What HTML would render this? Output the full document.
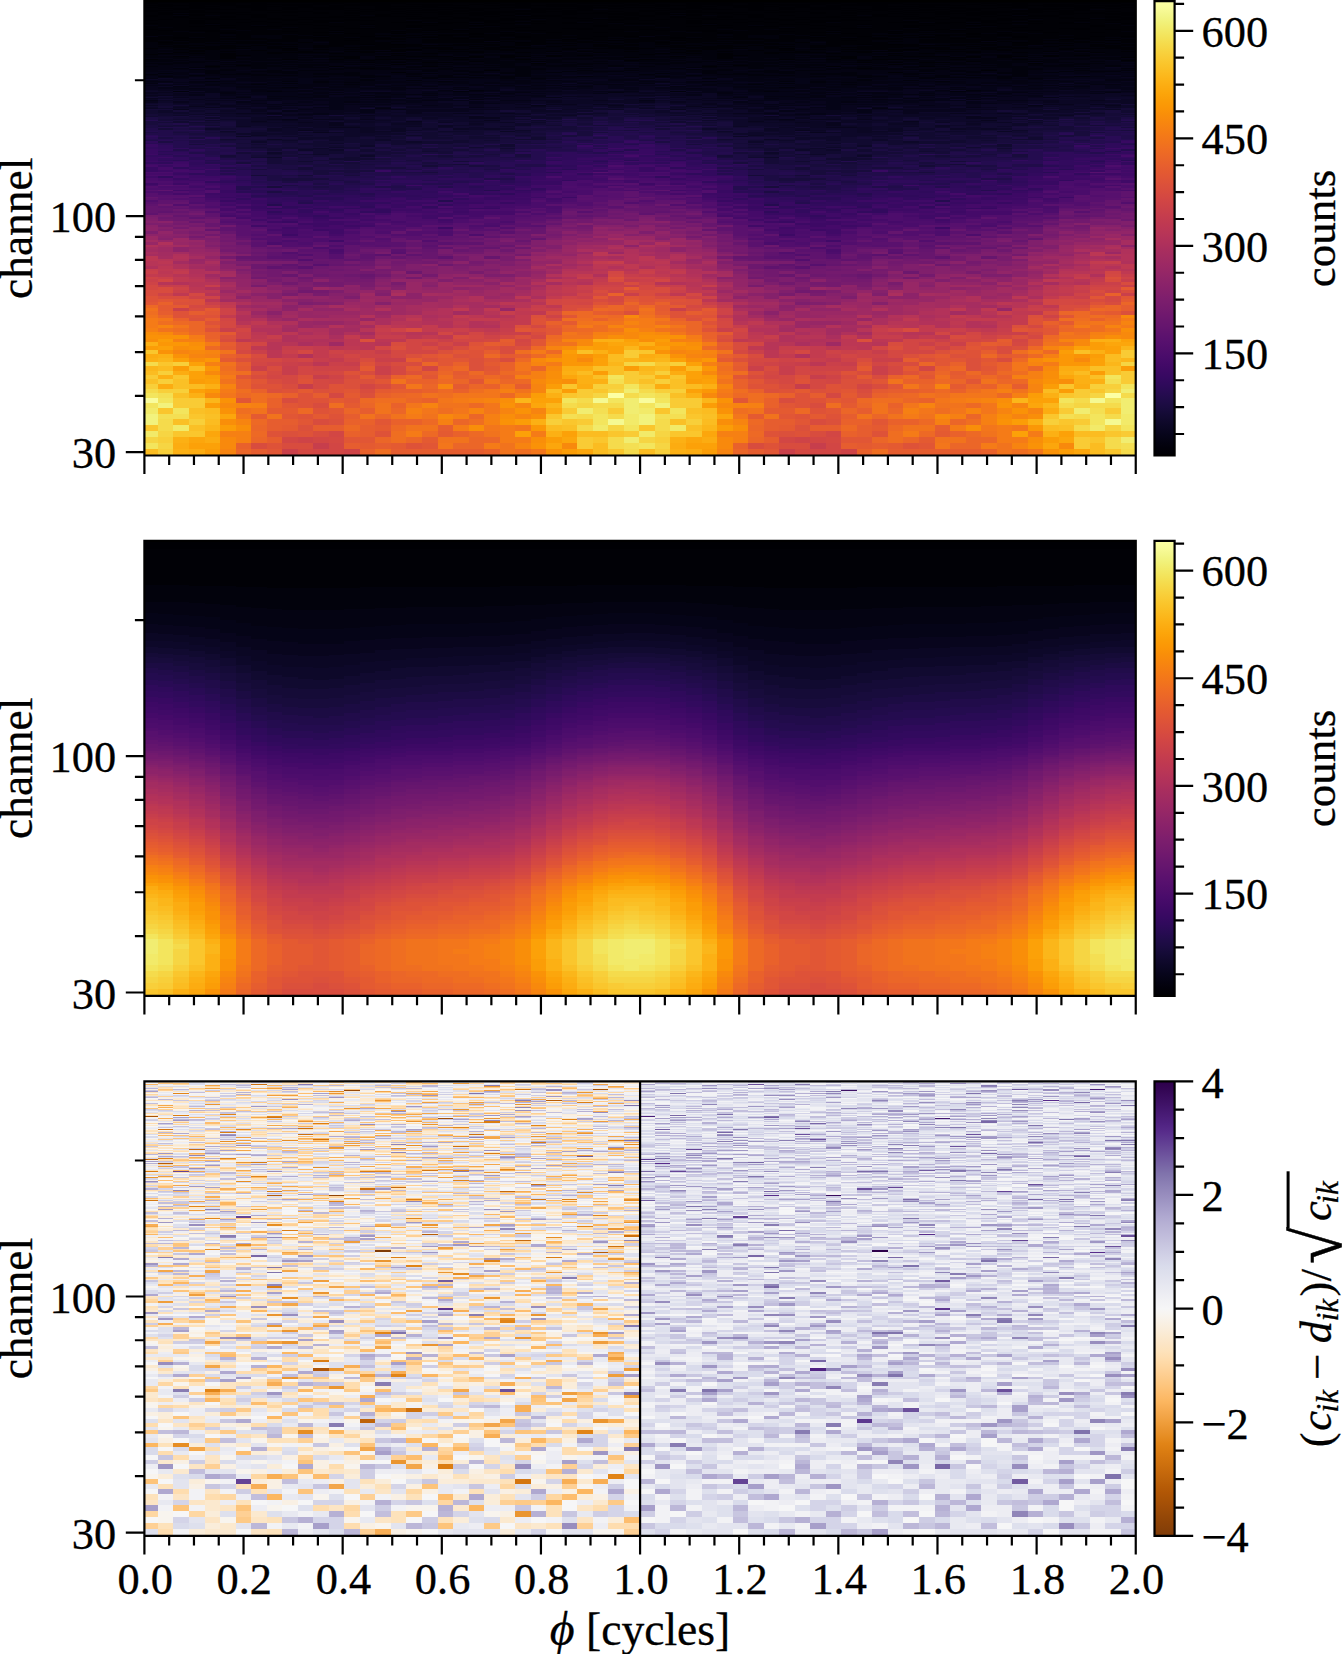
<!DOCTYPE html><html><head><meta charset="utf-8"><title>residuals</title><style>html,body{margin:0;padding:0;background:#fff}svg{display:block}</style></head><body><svg width="1342" height="1654" viewBox="0 0 1342 1654" font-family='"Liberation Serif", "DejaVu Serif", serif' font-size="44.4" fill="#000"><defs><clipPath id="cl"><rect x="144.4" y="0" width="991.35" height="1654"/></clipPath></defs><g clip-path="url(#cl)"><defs><g id="h0" shape-rendering="crispEdges"><path fill="#000004" d="M0 29h1v1h-1zm0-6h1v1h-1zm0-3h1v1h-1zm0-5h1v2h-1zm0-5h1v2h-1zm0-3h1v1h-1zm0-2h1v1h-1zm0-3h1v2h-1zM1 42h1v1h-1zm0-12h1v1h-1zm0-11h1v1h-1zm0-6h1v2h-1zm0-1h1v1h-1zm0-2h1v1h-1zm0-2h1v1h-1zm0-4h1v3h-1zm0-3h1v1h-1zM2 40h1v1h-1zm0-2h1v1h-1zm0-1h1v1h-1zm0-21h1v2h-1zm0-2h1v1h-1zm0-2h1v1h-1zm0-4h1v2h-1zm0-3h1v1h-1zm0-4h1v2h-1zM3 38h1v1h-1zm0-8h1v1h-1zm0-4h1v1h-1zm0-6h1v4h-1zm0-2h1v1h-1zm0-4h1v2h-1zm0-4h1v3h-1zm0-2h1v1h-1zm0-2h1v2h-1zm0-3h1v3h-1zM4 31h1v1h-1zm0-1h1v1h-1zm0-5h1v1h-1zm0-2h1v1h-1zm0-5h1v2h-1zm0-6h1v1h-1zm0-4h1v2h-1zm0-2h1v1h-1zm0-4h1v3h-1zM5 32h1v2h-1zm0-5h1v1h-1zm0-2h1v1h-1zm0-6h1v1h-1zm0-3h1v2h-1zm0-3h1v1h-1zm0-1h1v1h-1zm0-3h1v1h-1zm0-7h1v4h-1zM6 22h1v1h-1zm0-3h1v1h-1zm0-5h1v1h-1zm0-2h1v1h-1zm0-7h1v3h-1zm0-3h1v1h-1zM7 26h1v1h-1zm0-5h1v1h-1zm0-4h1v1h-1zm0-3h1v3h-1zm0-6h1v3h-1zm0-2h1v2h-1zm0-2h1v2h-1zm0-1h1v1h-1zM8 26h1v1h-1zm0-4h1v1h-1zm0-4h1v2h-1zm0-6h1v1h-1zm0-2h1v1h-1zm0-4h1v1h-1zm0-2h1v1h-1zM9 48h1v1h-1zm0-17h1v1h-1zm0-3h1v1h-1zm0-4h1v1h-1zm0-4h1v1h-1zm0-1h1v1h-1zm0-4h1v1h-1zm0-4h1v2h-1zm0-4h1v3h-1zm0-3h1v2h-1zm0-2h1v1h-1zM10 24h1v1h-1zm0-2h1v1h-1zm0-3h1v1h-1zm0-2h1v1h-1zm0-6h1v1h-1zm0-7h1v4h-1zm0-3h1v2h-1zM11 37h1v1h-1zm0-2h1v1h-1zm0-3h1v1h-1zm0-4h1v1h-1zm0-3h1v1h-1zm0-5h1v3h-1zm0-3h1v1h-1zm0-5h1v2h-1zm0-4h1v2h-1zm0-1h1v1h-1zm0-6h1v4h-1zM12 32h1v1h-1zm0-2h1v1h-1zm0-4h1v1h-1zm0-6h1v2h-1zm0-4h1v2h-1zm0-10h1v4h-1zm0-1h1v1h-1zm0-3h1v2h-1zm0-1h1v1h-1zM13 40h1v1h-1zm0-2h1v1h-1zm0-5h1v1h-1zm0-5h1v1h-1zm0-9h1v2h-1zm0-2h1v1h-1zm0-2h1v1h-1zm0-3h1v2h-1zm0-2h1v1h-1zm0-2h1v1h-1zm0-4h1v2h-1zm0-3h1v2h-1zM14 44h1v1h-1zm0-8h1v1h-1zm0-8h1v1h-1zm0-4h1v1h-1zm0-4h1v1h-1zm0-3h1v1h-1zm0-6h1v1h-1zm0-2h1v1h-1zm0-5h1v2h-1zm0-3h1v3h-1zM15 38h1v1h-1zm0-24h1v3h-1zm0-6h1v3h-1zm0-2h1v2h-1zm0-3h1v3h-1zm0-2h1v1h-1zM16 44h1v1h-1zm0-11h1v1h-1zm0-2h1v1h-1zm0-9h1v1h-1zm0-6h1v1h-1zm0-3h1v1h-1zm0-2h1v1h-1zm0-3h1v2h-1zm0-2h1v1h-1zm0-4h1v2h-1zM17 49h1v1h-1zm0-24h1v3h-1zm0-4h1v2h-1zm0-3h1v1h-1zm0-2h1v1h-1zm0-2h1v1h-1zm0-2h1v1h-1zm0-2h1v1h-1zm0-2h1v1h-1zm0-2h1v1h-1zm0-2h1v1h-1zM18 37h1v1h-1zm0-7h1v1h-1zm0-5h1v1h-1zm0-2h1v1h-1zm0-6h1v2h-1zm0-5h1v1h-1zm0-2h1v1h-1zm0-1h1v1h-1zm0-5h1v4h-1zm0-3h1v2h-1zM19 35h1v1h-1zm0-6h1v1h-1zm0-6h1v1h-1zm0-1h1v1h-1zm0-3h1v1h-1zm0-3h1v1h-1zm0-5h1v4h-1zm0-2h1v1h-1zm0-2h1v1h-1zm0-3h1v2h-1zm0-2h1v1h-1zM20 38h1v1h-1zm0-8h1v1h-1zm0-8h1v1h-1zm0-5h1v2h-1zm0-4h1v1h-1zm0-3h1v2h-1zm0-2h1v1h-1zm0-1h1v1h-1zm0-2h1v1h-1zm0-4h1v1h-1zM21 36h1v1h-1zm0-3h1v2h-1zm0-5h1v1h-1zm0-3h1v1h-1zm0-2h1v1h-1zm0-3h1v1h-1zm0-2h1v2h-1zm0-3h1v1h-1zm0-3h1v3h-1zm0-2h1v1h-1zm0-2h1v2h-1zm0-4h1v1h-1zm0-3h1v2h-1zM22 40h1v1h-1zm0-15h1v1h-1zm0-5h1v3h-1zm0-4h1v1h-1zm0-5h1v4h-1zm0-3h1v1h-1zm0-3h1v1h-1zm0-2h1v1h-1zM23 35h1v1h-1zm0-1h1v1h-1zm0-2h1v1h-1zm0-4h1v1h-1zm0-5h1v1h-1zm0-3h1v1h-1zm0-2h1v2h-1zm0-3h1v1h-1zm0-4h1v2h-1zm0-4h1v1h-1zm0-3h1v2h-1zm0-2h1v1h-1zm0-1h1v1h-1zM24 42h1v1h-1zm0-6h1v2h-1zm0-6h1v1h-1zm0-3h1v1h-1zm0-5h1v1h-1zm0-3h1v1h-1zm0-3h1v1h-1zm0-3h1v2h-1zm0-3h1v2h-1zm0-4h1v2h-1zm0-4h1v4h-1zM25 30h1v1h-1zm0-7h1v1h-1zm0-2h1v1h-1zm0-3h1v1h-1zm0-3h1v2h-1zm0-7h1v5h-1zm0-3h1v1h-1zm0-3h1v1h-1zM26 32h1v1h-1zm0-17h1v2h-1zm0-4h1v1h-1zm0-3h1v2h-1zm0-4h1v3h-1zm0-2h1v1h-1zM27 39h1v1h-1zm0-11h1v1h-1zm0-5h1v1h-1zm0-1h1v1h-1zm0-5h1v2h-1zm0-7h1v5h-1zm0-2h1v1h-1zm0-4h1v3h-1zm0-3h1v2h-1zM28 38h1v1h-1zm0-10h1v2h-1zm0-5h1v1h-1zm0-3h1v1h-1zm0-2h1v1h-1zm0-5h1v1h-1zm0-8h1v6h-1zm0-4h1v3h-1zM29 36h1v1h-1zm0-4h1v1h-1zm0-7h1v2h-1zm0-6h1v1h-1zm0-7h1v2h-1zm0-5h1v1h-1zm0-2h1v1h-1zm0-2h1v1h-1zM30 40h1v1h-1zm0-11h1v1h-1zm0-7h1v1h-1zm0-2h1v1h-1zm0-1h1v1h-1zm0-3h1v2h-1zm0-3h1v2h-1zm0-2h1v1h-1zm0-3h1v1h-1zm0-2h1v1h-1zm0-1h1v1h-1zm0-4h1v3h-1zM31 36h1v1h-1zm0-13h1v1h-1zm0-6h1v3h-1zm0-4h1v3h-1zm0-1h1v1h-1zm0-5h1v1h-1zm0-3h1v2h-1zm0-2h1v1h-1z"/><path fill="#010106" d="M0 59h1v1h-1zm0-5h1v1h-1zm0-6h1v1h-1zm0-11h1v5h-1zm0-7h1v6h-1zm0-2h1v1h-1zm0-2h1v2h-1zm0-2h1v1h-1zm0-3h1v2h-1zm0-4h1v3h-1zm0-5h1v3h-1zm0-4h1v2h-1zm0-2h1v1h-1zm0-2h1v1h-1zm0-3h1v1h-1zM1 53h1v1h-1zm0-7h1v1h-1zm0-3h1v2h-1zm0-2h1v1h-1zm0-3h1v2h-1zm0-2h1v2h-1zm0-5h1v4h-1zm0-3h1v2h-1zm0-3h1v2h-1zm0-2h1v2h-1zm0-3h1v3h-1zm0-3h1v2h-1zm0-2h1v2h-1zm0-4h1v1h-1zm0-2h1v1h-1zm0-2h1v1h-1zm0-5h1v2h-1zM2 56h1v1h-1zm0-4h1v1h-1zm0-3h1v1h-1zm0-4h1v3h-1zm0-3h1v2h-1zm0-3h1v1h-1zm0-4h1v2h-1zm0-3h1v3h-1zm0-9h1v8h-1zm0-3h1v3h-1zm0-2h1v2h-1zm0-8h1v2h-1zm0-4h1v2h-1zm0-3h1v2h-1zM3 53h1v1h-1zm0-3h1v2h-1zm0-3h1v2h-1zm0-2h1v1h-1zm0-6h1v4h-1zm0-6h1v4h-1zm0-2h1v1h-1zm0-3h1v2h-1zm0-1h1v1h-1zm0-2h1v1h-1zm0-1h1v1h-1zm0-5h1v1h-1zm0-2h1v1h-1zm0-1h1v1h-1zm0-3h1v1h-1zm0-4h1v1h-1zm0-7h1v1h-1zm0-1h1v1h-1zM4 66h1v1h-1zm0-19h1v3h-1zm0-1h1v1h-1zm0-3h1v1h-1zm0-8h1v7h-1zm0-3h1v3h-1zm0-4h1v2h-1zm0-2h1v2h-1zm0-6h1v3h-1zm0-3h1v1h-1zm0-1h1v1h-1zm0-3h1v2h-1zm0-3h1v2h-1zm0-3h1v1h-1zm0-2h1v1h-1zm0-4h1v1h-1zM5 58h1v1h-1zm0-5h1v5h-1zm0-2h1v1h-1zm0-4h1v2h-1zm0-2h1v2h-1zm0-2h1v1h-1zm0-2h1v1h-1zm0-3h1v2h-1zm0-2h1v1h-1zm0-6h1v2h-1zm0-2h1v1h-1zm0-2h1v1h-1zm0-3h1v2h-1zm0-3h1v3h-1zm0-2h1v1h-1zm0-3h1v1h-1zm0-1h1v1h-1zm0-4h1v2h-1zm0-4h1v3h-1zm0-5h1v1h-1zM6 65h1v1h-1zm0-10h1v1h-1zm0-7h1v1h-1zm0-2h1v1h-1zm0-4h1v2h-1zm0-1h1v1h-1zm0-10h1v9h-1zm0-8h1v7h-1zm0-3h1v2h-1zm0-5h1v4h-1zm0-2h1v1h-1zm0-5h1v4h-1zm0-4h1v1h-1zm0-1h1v1h-1zm0-2h1v1h-1zM7 50h1v1h-1zm0-5h1v1h-1zm0-4h1v3h-1zm0-3h1v2h-1zm0-7h1v4h-1zm0-4h1v4h-1zm0-4h1v2h-1zm0-1h1v1h-1zm0-4h1v3h-1zm0-5h1v1h-1zm0-2h1v2h-1zm0-9h1v1h-1zm0-1h1v1h-1zM8 52h1v2h-1zm0-5h1v2h-1zm0-1h1v1h-1zm0-3h1v2h-1zm0-4h1v3h-1zm0-8h1v4h-1zm0-1h1v1h-1zm0-3h1v2h-1zm0-4h1v3h-1zm0-3h1v2h-1zm0-7h1v5h-1zm0-2h1v1h-1zm0-4h1v3h-1zm0-2h1v1h-1zm0-3h1v2h-1zm0-1h1v1h-1zM9 59h1v1h-1zm0-7h1v1h-1zm0-3h1v2h-1zm0-3h1v1h-1zm0-2h1v1h-1zm0-9h1v7h-1zm0-3h1v2h-1zm0-3h1v2h-1zm0-4h1v2h-1zm0-2h1v1h-1zm0-2h1v2h-1zm0-5h1v3h-1zm0-3h1v2h-1zm0-3h1v1h-1zm0-4h1v1h-1zm0-3h1v1h-1zm0-2h1v1h-1zM10 52h1v1h-1zm0-1h1v1h-1zm0-9h1v1h-1zm0-6h1v3h-1zm0-11h1v10h-1zm0-2h1v1h-1zm0-3h1v2h-1zm0-2h1v1h-1zm0-3h1v2h-1zm0-2h1v2h-1zm0-1h1v1h-1zm0-4h1v3h-1zm0-5h1v1h-1zM11 52h1v1h-1zm0-3h1v1h-1zm0-2h1v1h-1zm0-2h1v2h-1zm0-7h1v3h-1zm0-5h1v2h-1zm0-2h1v1h-1zm0-2h1v2h-1zm0-3h1v2h-1zm0-3h1v2h-1zm0-5h1v2h-1zm0-3h1v2h-1zm0-1h1v1h-1zm0-4h1v2h-1zm0-4h1v1h-1zm0-1h1v1h-1zM12 66h1v1h-1zm0-7h1v1h-1zm0-3h1v1h-1zm0-3h1v1h-1zm0-11h1v5h-1zm0-7h1v7h-1zm0-1h1v1h-1zm0-7h1v3h-1zm0-4h1v3h-1zm0-5h1v2h-1zm0-3h1v1h-1zm0-5h1v5h-1zm0-6h1v1h-1zM13 58h1v1h-1zm0-2h1v2h-1zm0-5h1v1h-1zm0-2h1v1h-1zm0-2h1v1h-1zm0-6h1v4h-1zm0-2h1v1h-1zm0-5h1v3h-1zm0-5h1v4h-1zm0-4h1v3h-1zm0-4h1v4h-1zm0-3h1v1h-1zm0-2h1v1h-1zm0-2h1v1h-1zm0-3h1v1h-1zm0-2h1v1h-1zm0-3h1v2h-1zm0-3h1v1h-1zM14 68h1v1h-1zm0-6h1v1h-1zm0-2h1v1h-1zm0-9h1v2h-1zm0-4h1v3h-1zm0-1h1v1h-1zm0-4h1v2h-1zm0-4h1v4h-1zm0-1h1v1h-1zm0-8h1v7h-1zm0-3h1v1h-1zm0-3h1v1h-1zm0-2h1v2h-1zm0-3h1v2h-1zm0-2h1v1h-1zm0-3h1v2h-1zm0-1h1v1h-1zm0-2h1v1h-1zm0-2h1v1h-1zm0-2h1v2h-1zM15 59h1v1h-1zm0-3h1v1h-1zm0-5h1v1h-1zm0-9h1v8h-1zm0-3h1v1h-1zm0-2h1v1h-1zm0-2h1v1h-1zm0-7h1v5h-1zm0-5h1v5h-1zm0-3h1v3h-1zm0-3h1v3h-1zm0-4h1v1h-1zm0-2h1v2h-1zm0-9h1v1h-1zM16 72h1v1h-1zm0-8h1v1h-1zm0-2h1v1h-1zm0-3h1v1h-1zm0-4h1v1h-1zm0-2h1v1h-1zm0-4h1v3h-1zm0-4h1v3h-1zm0-4h1v1h-1zm0-3h1v2h-1zm0-3h1v2h-1zm0-3h1v1h-1zm0-9h1v7h-1zm0-3h1v2h-1zm0-3h1v3h-1zm0-2h1v1h-1zm0-1h1v1h-1zm0-2h1v1h-1zm0-2h1v1h-1zm0-3h1v1h-1zm0-3h1v2h-1zm0-3h1v1h-1zM17 59h1v1h-1zm0-3h1v1h-1zm0-6h1v1h-1zm0-6h1v3h-1zm0-7h1v1h-1zm0-2h1v1h-1zm0-6h1v4h-1zm0-6h1v2h-1zm0-4h1v1h-1zm0-2h1v1h-1zm0-2h1v1h-1zm0-2h1v1h-1zm0-2h1v1h-1zm0-2h1v1h-1zm0-2h1v1h-1zm0-2h1v1h-1zm0-4h1v3h-1zM18 66h1v1h-1zm0-4h1v1h-1zm0-6h1v1h-1zm0-3h1v1h-1zm0-6h1v2h-1zm0-2h1v1h-1zm0-3h1v1h-1zm0-3h1v3h-1zm0-3h1v1h-1zm0-2h1v1h-1zm0-2h1v1h-1zm0-4h1v2h-1zm0-2h1v2h-1zm0-2h1v1h-1zm0-5h1v3h-1zm0-4h1v2h-1zm0-2h1v2h-1zm0-2h1v1h-1zm0-3h1v1h-1zm0-5h1v1h-1zM19 62h1v1h-1zm0-6h1v1h-1zm0-5h1v1h-1zm0-4h1v3h-1zm0-2h1v1h-1zm0-7h1v5h-1zm0-2h1v2h-1zm0-2h1v1h-1zm0-4h1v3h-1zm0-6h1v5h-1zm0-4h1v2h-1zm0-3h1v2h-1zm0-2h1v1h-1zm0-5h1v1h-1zm0-2h1v1h-1zm0-2h1v1h-1zm0-3h1v1h-1zm0-2h1v1h-1zM20 59h1v1h-1zm0-2h1v1h-1zm0-6h1v1h-1zm0-2h1v1h-1zm0-5h1v2h-1zm0-5h1v4h-1zm0-2h1v1h-1zm0-2h1v1h-1zm0-1h1v1h-1zm0-3h1v2h-1zm0-8h1v6h-1zm0-4h1v3h-1zm0-5h1v3h-1zm0-2h1v1h-1zm0-3h1v1h-1zm0-3h1v1h-1zm0-2h1v1h-1zm0-2h1v2h-1zM21 61h1v1h-1zm0-5h1v2h-1zm0-4h1v1h-1zm0-1h1v1h-1zm0-3h1v1h-1zm0-2h1v1h-1zm0-2h1v1h-1zm0-2h1v1h-1zm0-3h1v3h-1zm0-2h1v1h-1zm0-2h1v1h-1zm0-6h1v4h-1zm0-3h1v1h-1zm0-5h1v1h-1zm0-5h1v2h-1zm0-5h1v1h-1zm0-5h1v2h-1zm0-1h1v1h-1zm0-2h1v1h-1zM22 70h1v1h-1zm0-23h1v3h-1zm0-3h1v2h-1zm0-2h1v1h-1zm0-4h1v2h-1zm0-3h1v3h-1zm0-1h1v1h-1zm0-7h1v6h-1zm0-4h1v2h-1zm0-6h1v3h-1zm0-2h1v1h-1zm0-6h1v2h-1zm0-3h1v2h-1zm0-2h1v1h-1zm0-2h1v1h-1zm0-1h1v1h-1zM23 55h1v3h-1zm0-6h1v2h-1zm0-3h1v2h-1zm0-5h1v1h-1zm0-3h1v2h-1zm0-2h1v1h-1zm0-3h1v1h-1zm0-4h1v2h-1zm0-5h1v4h-1zm0-3h1v2h-1zm0-4h1v1h-1zm0-1h1v1h-1zm0-3h1v2h-1zm0-5h1v3h-1zm0-2h1v1h-1zm0-3h1v1h-1zM24 59h1v1h-1zm0-3h1v1h-1zm0-4h1v1h-1zm0-5h1v2h-1zm0-4h1v3h-1zm0-5h1v2h-1zm0-5h1v3h-1zm0-2h1v1h-1zm0-3h1v2h-1zm0-3h1v2h-1zm0-2h1v1h-1zm0-3h1v1h-1zm0-3h1v2h-1zm0-5h1v1h-1zm0-4h1v1h-1zm0-7h1v1h-1zM25 63h1v1h-1zm0-2h1v1h-1zm0-13h1v1h-1zm0-14h1v11h-1zm0-3h1v2h-1zm0-3h1v2h-1zm0-3h1v3h-1zm0-1h1v1h-1zm0-2h1v1h-1zm0-2h1v1h-1zm0-3h1v1h-1zm0-4h1v2h-1zm0-7h1v2h-1zm0-3h1v2h-1zm0-2h1v1h-1zM26 55h1v2h-1zm0-4h1v1h-1zm0-5h1v1h-1zm0-3h1v1h-1zm0-3h1v1h-1zm0-2h1v1h-1zm0-5h1v5h-1zm0-8h1v7h-1zm0-5h1v5h-1zm0-3h1v3h-1zm0-4h1v2h-1zm0-1h1v1h-1zm0-2h1v1h-1zm0-3h1v1h-1zm0-4h1v1h-1zm0-2h1v1h-1zM27 48h1v2h-1zm0-3h1v1h-1zm0-2h1v1h-1zm0-3h1v2h-1zm0-4h1v2h-1zm0-7h1v6h-1zm0-5h1v4h-1zm0-4h1v2h-1zm0-1h1v1h-1zm0-4h1v2h-1zm0-6h1v1h-1zm0-2h1v1h-1zm0-4h1v1h-1zM28 55h1v1h-1zm0-4h1v1h-1zm0-3h1v1h-1zm0-6h1v1h-1zm0-1h1v1h-1zm0-2h1v1h-1zm0-8h1v7h-1zm0-1h1v1h-1zm0-6h1v4h-1zm0-3h1v1h-1zm0-2h1v1h-1zm0-2h1v1h-1zm0-3h1v3h-1zm0-3h1v2h-1zm0-7h1v1h-1zM29 52h1v1h-1zm0-4h1v1h-1zm0-4h1v3h-1zm0-2h1v1h-1zm0-5h1v4h-1zm0-4h1v3h-1zm0-2h1v1h-1zm0-4h1v4h-1zm0-7h1v5h-1zm0-6h1v4h-1zm0-4h1v2h-1zm0-2h1v1h-1zm0-2h1v1h-1zm0-2h1v1h-1zm0-3h1v2h-1zM30 45h1v4h-1zm0-2h1v1h-1zm0-5h1v1h-1zm0-8h1v7h-1zm0-5h1v4h-1zm0-1h1v1h-1zm0-3h1v1h-1zm0-3h1v1h-1zm0-3h1v1h-1zm0-3h1v1h-1zm0-2h1v1h-1zm0-1h1v1h-1zm0-2h1v1h-1zm0-3h1v1h-1zM31 60h1v1h-1zm0-3h1v1h-1zm0-6h1v1h-1zm0-4h1v3h-1zm0-3h1v2h-1zm0-2h1v1h-1zm0-3h1v3h-1zm0-2h1v1h-1zm0-5h1v4h-1zm0-6h1v5h-1zm0-2h1v1h-1zm0-4h1v3h-1zm0-4h1v1h-1zm0-6h1v2h-1zm0-2h1v2h-1zm0-2h1v1h-1zm0-3h1v1h-1zm0-2h1v1h-1z"/><path fill="#02020c" d="M0 74h1v1h-1zm0-8h1v1h-1zm0-3h1v1h-1zm0-3h1v2h-1zm0-5h1v3h-1zm0-6h1v5h-1zm0-2h1v1h-1zm0-5h1v5h-1zm0-17h1v1h-1zM1 76h1v1h-1zm0-3h1v1h-1zm0-10h1v2h-1zm0-4h1v3h-1zm0-3h1v2h-1zm0-2h1v1h-1zm0-4h1v2h-1zm0-3h1v2h-1zm0-2h1v1h-1zm0-5h1v1h-1zm0-5h1v1h-1zm0-8h1v1h-1zM2 91h1v1h-1zm0-23h1v1h-1zm0-6h1v2h-1zm0-2h1v1h-1zm0-2h1v1h-1zm0-1h1v1h-1zm0-4h1v2h-1zm0-3h1v2h-1zm0-2h1v1h-1zm0-4h1v1h-1zm0-3h1v1h-1zm0-10h1v1h-1zm0-16h1v1h-1zm0-2h1v1h-1zM3 75h1v1h-1zm0-6h1v1h-1zm0-2h1v1h-1zm0-6h1v2h-1zm0-4h1v1h-1zm0-3h1v2h-1zm0-2h1v1h-1zm0-3h1v1h-1zm0-3h1v1h-1zm0-3h1v2h-1zm0-6h1v1h-1zm0-5h1v1h-1zM4 81h1v1h-1zm0-3h1v1h-1zm0-8h1v4h-1zm0-3h1v1h-1zm0-2h1v1h-1zm0-4h1v1h-1zm0-3h1v2h-1zm0-8h1v8h-1zm0-6h1v2h-1zm0-2h1v1h-1zm0-18h1v1h-1zm0-9h1v1h-1zM5 74h1v1h-1zm0-5h1v2h-1zm0-3h1v1h-1zm0-2h1v1h-1zm0-2h1v1h-1zm0-3h1v2h-1zm0-7h1v1h-1zm0-3h1v2h-1zm0-5h1v1h-1zm0-2h1v1h-1zm0-2h1v1h-1zm0-3h1v1h-1zm0-2h1v1h-1zm0-1h1v1h-1zm0-5h1v1h-1zM6 73h1v2h-1zm0-7h1v1h-1zm0-2h1v1h-1zm0-3h1v2h-1zm0-3h1v2h-1zm0-2h1v1h-1zm0-4h1v3h-1zm0-2h1v2h-1zm0-3h1v1h-1zm0-3h1v2h-1zm0-4h1v1h-1zm0-10h1v1h-1zM7 84h1v1h-1zm0-10h1v2h-1zm0-3h1v1h-1zm0-4h1v2h-1zm0-5h1v5h-1zm0-4h1v3h-1zm0-7h1v7h-1zm0-4h1v3h-1zm0-1h1v1h-1zm0-2h1v1h-1zm0-4h1v1h-1zm0-5h1v3h-1zm0-10h1v1h-1zM8 91h1v1h-1zm0-16h1v1h-1zm0-5h1v3h-1zm0-5h1v2h-1zm0-3h1v2h-1zm0-3h1v2h-1zm0-5h1v4h-1zm0-5h1v3h-1zm0-4h1v1h-1zm0-3h1v1h-1zm0-4h1v1h-1zm0-3h1v3h-1zm0-6h1v1h-1zM9 87h1v1h-1zm0-4h1v1h-1zm0-2h1v1h-1zm0-6h1v1h-1zm0-4h1v3h-1zm0-3h1v1h-1zm0-2h1v1h-1zm0-2h1v1h-1zm0-3h1v2h-1zm0-8h1v6h-1zm0-2h1v1h-1zm0-4h1v1h-1zm0-2h1v1h-1zm0-3h1v2h-1zm0-8h1v1h-1zm0-7h1v1h-1zM10 70h1v1h-1zm0-3h1v1h-1zm0-3h1v3h-1zm0-2h1v1h-1zm0-3h1v2h-1zm0-2h1v1h-1zm0-2h1v1h-1zm0-2h1v1h-1zm0-4h1v2h-1zm0-2h1v1h-1zm0-4h1v4h-1zm0-4h1v3h-1zm0-4h1v1h-1zM11 81h1v2h-1zm0-5h1v1h-1zm0-3h1v2h-1zm0-3h1v1h-1zm0-3h1v1h-1zm0-3h1v2h-1zm0-2h1v1h-1zm0-3h1v1h-1zm0-4h1v3h-1zm0-2h1v1h-1zm0-3h1v2h-1zm0-2h1v1h-1zm0-5h1v2h-1zm0-2h1v1h-1zm0-5h1v1h-1zM12 73h1v2h-1zm0-5h1v2h-1zm0-8h1v3h-1zm0-3h1v2h-1zm0-3h1v2h-1zm0-2h1v1h-1zm0-5h1v4h-1zm0-14h1v1h-1zm0-2h1v1h-1zm0-9h1v1h-1zM13 84h1v1h-1zm0-2h1v1h-1zm0-10h1v4h-1zm0-5h1v2h-1zm0-3h1v1h-1zm0-2h1v1h-1zm0-3h1v2h-1zm0-7h1v4h-1zm0-2h1v1h-1zm0-2h1v1h-1zm0-3h1v2h-1zm0-8h1v1h-1zM14 79h1v2h-1zm0-4h1v3h-1zm0-6h1v1h-1zm0-3h1v2h-1zm0-2h1v1h-1zm0-3h1v1h-1zm0-2h1v1h-1zm0-6h1v3h-1zm0-3h1v1h-1zm0-5h1v1h-1zm0-18h1v1h-1zm0-2h1v1h-1zm0-10h1v1h-1zM15 76h1v1h-1zm0-9h1v3h-1zm0-2h1v1h-1zm0-5h1v4h-1zm0-2h1v1h-1zm0-1h1v1h-1zm0-4h1v2h-1zm0-13h1v2h-1zm0-4h1v1h-1zm0-3h1v2h-1zM16 68h1v2h-1zm0-7h1v1h-1zm0-3h1v1h-1zm0-2h1v2h-1zm0-2h1v1h-1zm0-6h1v1h-1zm0-6h1v2h-1zm0-2h1v1h-1zm0-3h1v1h-1zm0-3h1v1h-1zm0-4h1v1h-1zM17 80h1v1h-1zm0-4h1v1h-1zm0-3h1v2h-1zm0-4h1v1h-1zm0-2h1v1h-1zm0-1h1v1h-1zm0-3h1v2h-1zm0-3h1v2h-1zm0-3h1v1h-1zm0-5h1v4h-1zm0-5h1v2h-1zm0-5h1v2h-1zm0-4h1v4h-1zm0-2h1v1h-1zm0-3h1v2h-1zm0-5h1v1h-1zm0-8h1v1h-1zM18 77h1v2h-1zm0-4h1v1h-1zm0-4h1v3h-1zm0-6h1v3h-1zm0-3h1v2h-1zm0-2h1v1h-1zm0-1h1v1h-1zm0-3h1v2h-1zm0-5h1v4h-1zm0-3h1v1h-1zm0-3h1v1h-1zm0-5h1v1h-1zm0-3h1v1h-1zm0-2h1v1h-1zm0-2h1v1h-1zm0-9h1v1h-1zM19 81h1v1h-1zm0-6h1v3h-1zm0-7h1v2h-1zm0-2h1v1h-1zm0-2h1v1h-1zm0-7h1v4h-1zm0-5h1v2h-1zm0-2h1v1h-1zm0-4h1v1h-1zm0-3h1v2h-1zm0-10h1v1h-1zM20 91h1v1h-1zm0-14h1v1h-1zm0-3h1v1h-1zm0-4h1v2h-1zm0-3h1v1h-1zm0-5h1v3h-1zm0-2h1v1h-1zm0-2h1v1h-1zm0-6h1v4h-1zm0-2h1v1h-1zm0-3h1v2h-1zm0-1h1v1h-1zm0-3h1v1h-1zm0-7h1v1h-1zm0-3h1v1h-1zm0-4h1v1h-1zM21 90h1v1h-1zm0-13h1v1h-1zm0-2h1v1h-1zm0-4h1v2h-1zm0-4h1v1h-1zm0-3h1v1h-1zm0-5h1v2h-1zm0-4h1v1h-1zm0-2h1v1h-1zm0-4h1v2h-1zm0-2h1v1h-1zm0-2h1v1h-1zm0-2h1v1h-1zm0-5h1v1h-1zm0-11h1v1h-1zm0-3h1v1h-1zm0-2h1v1h-1zM22 75h1v1h-1zm0-6h1v1h-1zm0-2h1v1h-1zm0-2h1v1h-1zm0-7h1v6h-1zm0-4h1v2h-1zm0-4h1v3h-1zm0-4h1v1h-1zm0-3h1v1h-1zm0-10h1v1h-1zm0-7h1v1h-1zM23 76h1v3h-1zm0-4h1v2h-1zm0-5h1v1h-1zm0-6h1v6h-1zm0-3h1v2h-1zm0-4h1v1h-1zm0-3h1v2h-1zm0-3h1v1h-1zm0-6h1v4h-1zm0-2h1v1h-1zm0-3h1v1h-1zm0-6h1v1h-1zM24 66h1v11h-1zm0-6h1v3h-1zm0-2h1v1h-1zm0-5h1v3h-1zm0-4h1v3h-1zm0-3h1v1h-1zm0-6h1v2h-1zm0-8h1v1h-1zm0-8h1v1h-1zm0-3h1v1h-1zm0-6h1v1h-1zm0-6h1v1h-1zM25 78h1v1h-1zm0-10h1v2h-1zm0-4h1v2h-1zm0-5h1v1h-1zm0-2h1v1h-1zm0-2h1v1h-1zm0-3h1v2h-1zm0-3h1v3h-1zm0-2h1v1h-1zm0-1h1v1h-1zm0-13h1v1h-1zm0-14h1v1h-1zM26 72h1v1h-1zm0-7h1v2h-1zm0-6h1v4h-1zm0-6h1v1h-1zm0-6h1v4h-1zm0-3h1v2h-1zm0-2h1v1h-1zm0-1h1v1h-1zm0-2h1v1h-1zM27 71h1v1h-1zm0-7h1v3h-1zm0-2h1v1h-1zm0-4h1v2h-1zm0-6h1v5h-1zm0-2h1v1h-1zm0-4h1v2h-1zm0-2h1v1h-1zm0-2h1v1h-1zm0-4h1v1h-1zm0-3h1v1h-1zM28 76h1v1h-1zm0-6h1v1h-1zm0-2h1v1h-1zm0-2h1v1h-1zm0-3h1v2h-1zm0-5h1v2h-1zm0-2h1v1h-1zm0-3h1v2h-1zm0-3h1v1h-1zm0-7h1v5h-1zm0-3h1v1h-1zm0-18h1v1h-1zM29 71h1v1h-1zm0-8h1v1h-1zm0-2h1v1h-1zm0-4h1v2h-1zm0-3h1v2h-1zm0-5h1v3h-1zm0-2h1v1h-1zm0-4h1v1h-1zm0-2h1v1h-1zm0-23h1v1h-1zm0-9h1v1h-1zM30 71h1v1h-1zm0-6h1v2h-1zm0-8h1v3h-1zm0-8h1v7h-1zm0-5h1v1h-1zm0-2h1v1h-1zm0-1h1v1h-1zm0-2h1v1h-1zm0-2h1v1h-1zm0-14h1v1h-1zM31 70h1v1h-1zm0-2h1v1h-1zm0-7h1v1h-1zm0-2h1v1h-1zm0-7h1v5h-1zm0-2h1v1h-1zm0-4h1v1h-1zm0-3h1v1h-1zm0-5h1v1h-1zm0-7h1v1h-1zm0-6h1v1h-1z"/><path fill="#040312" d="M0 83h1v1h-1zm0-2h1v1h-1zm0-3h1v1h-1zm0-3h1v1h-1zm0-8h1v5h-1zm0-3h1v2h-1zm0-2h1v1h-1zm0-4h1v1h-1zm0-22h1v1h-1zM1 81h1v1h-1zm0-4h1v1h-1zm0-2h1v1h-1zm0-4h1v1h-1zm0-6h1v5h-1zm0-3h1v1h-1zm0-4h1v1h-1zm0-3h1v1h-1zm0-3h1v1h-1zm0-3h1v1h-1zM2 86h1v1h-1zm0-10h1v2h-1zm0-4h1v3h-1zm0-3h1v1h-1zm0-5h1v3h-1zm0-3h1v1h-1zm0-2h1v1h-1zm0-4h1v1h-1zM3 88h1v1h-1zm0-7h1v2h-1zm0-5h1v1h-1zm0-6h1v3h-1zm0-7h1v4h-1zm0-5h1v3h-1zm0-2h1v1h-1zM4 84h1v2h-1zm0-10h1v2h-1zm0-6h1v2h-1zm0-6h1v3h-1zm0-2h1v1h-1zM5 92h1v2h-1zm0-9h1v1h-1zm0-2h1v1h-1zm0-6h1v3h-1zm0-4h1v3h-1zm0-4h1v2h-1zm0-2h1v1h-1zm0-2h1v1h-1zM6 97h1v1h-1zm0-11h1v2h-1zm0-2h1v1h-1zm0-6h1v3h-1zm0-3h1v2h-1zm0-4h1v2h-1zm0-4h1v3h-1zm0-4h1v1h-1zm0-3h1v1h-1zm0-3h1v1h-1zm0-8h1v1h-1zM7 89h1v3h-1zm0-3h1v2h-1zm0-3h1v1h-1zm0-7h1v6h-1zm0-4h1v2h-1zm0-2h1v1h-1zm0-9h1v1h-1zM8 98h1v1h-1zm0-2h1v1h-1zm0-6h1v1h-1zm0-3h1v2h-1zm0-2h1v1h-1zm0-3h1v2h-1zm0-3h1v2h-1zm0-3h1v2h-1zm0-3h1v2h-1zm0-6h1v3h-1zm0-3h1v1h-1zm0-3h1v1h-1zm0-3h1v1h-1zM9 96h1v1h-1zm0-5h1v1h-1zm0-3h1v1h-1zm0-3h1v1h-1zm0-7h1v3h-1zm0-2h1v1h-1zm0-2h1v1h-1zm0-5h1v1h-1zm0-2h1v1h-1zm0-2h1v1h-1zm0-2h1v1h-1zm0-3h1v1h-1zM10 97h1v1h-1zm0-3h1v1h-1zm0-4h1v2h-1zm0-6h1v5h-1zm0-13h1v7h-1zm0-3h1v2h-1zm0-5h1v1h-1zm0-2h1v1h-1zm0-3h1v1h-1zm0-2h1v1h-1zm0-2h1v1h-1zm0-6h1v1h-1zM11 95h1v3h-1zm0-3h1v2h-1zm0-4h1v2h-1zm0-5h1v4h-1zm0-4h1v2h-1zm0-2h1v1h-1zm0-2h1v1h-1zm0-4h1v2h-1zm0-3h1v2h-1zm0-2h1v1h-1zm0-3h1v1h-1zm0-3h1v2h-1zm0-6h1v1h-1zm0-12h1v1h-1zM12 94h1v1h-1zm0-2h1v1h-1zm0-3h1v2h-1zm0-3h1v2h-1zm0-2h1v1h-1zm0-3h1v2h-1zm0-3h1v2h-1zm0-3h1v2h-1zm0-5h1v3h-1zm0-7h1v3h-1zm0-12h1v1h-1zM13 101h1v2h-1zm0-4h1v1h-1zm0-12h1v3h-1zm0-2h1v1h-1zm0-5h1v4h-1zm0-2h1v1h-1zm0-7h1v3h-1zm0-3h1v1h-1zm0-3h1v1h-1zm0-2h1v1h-1zM14 97h1v1h-1zm0-2h1v1h-1zm0-3h1v1h-1zm0-4h1v1h-1zm0-7h1v5h-1zm0-11h1v5h-1zm0-5h1v1h-1zm0-2h1v1h-1zm0-5h1v1h-1zm0-2h1v2h-1zM15 108h1v1h-1zm0-9h1v1h-1zm0-3h1v2h-1zm0-4h1v2h-1zm0-4h1v1h-1zm0-2h1v1h-1zm0-5h1v3h-1zm0-4h1v3h-1zm0-2h1v1h-1zm0-5h1v4h-1zm0-4h1v1h-1zm0-2h1v1h-1zm0-9h1v1h-1zm0-3h1v1h-1zm0-2h1v1h-1zM16 94h1v1h-1zm0-7h1v3h-1zm0-2h1v1h-1zm0-4h1v2h-1zm0-3h1v1h-1zm0-5h1v2h-1zm0-3h1v2h-1zm0-5h1v2h-1zm0-2h1v1h-1zm0-3h1v1h-1zm0-8h1v1h-1zM17 98h1v1h-1zm0-4h1v1h-1zm0-6h1v1h-1zm0-4h1v2h-1zm0-2h1v1h-1zm0-4h1v1h-1zm0-3h1v1h-1zm0-4h1v2h-1zm0-3h1v1h-1zm0-6h1v1h-1zm0-4h1v1h-1zm0-7h1v1h-1zM18 100h1v1h-1zm0-5h1v1h-1zm0-2h1v1h-1zm0-5h1v1h-1zm0-2h1v1h-1zm0-5h1v1h-1zm0-6h1v2h-1zm0-8h1v2h-1zm0-8h1v1h-1zm0-15h1v1h-1zM19 90h1v1h-1zm0-6h1v1h-1zm0-2h1v1h-1zm0-3h1v1h-1zm0-9h1v5h-1zm0-3h1v1h-1zm0-2h1v1h-1zm0-2h1v1h-1zm0-2h1v1h-1zm0-7h1v2h-1zM20 89h1v1h-1zm0-2h1v1h-1zm0-6h1v3h-1zm0-2h1v1h-1zm0-3h1v1h-1zm0-3h1v1h-1zm0-5h1v2h-1zm0-3h1v1h-1zm0-4h1v1h-1zm0-5h1v1h-1zM21 99h1v1h-1zm0-5h1v1h-1zm0-3h1v1h-1zm0-7h1v2h-1zm0-6h1v1h-1zm0-5h1v2h-1zm0-5h1v3h-1zm0-3h1v2h-1zm0-3h1v2h-1zm0-4h1v1h-1zm0-4h1v1h-1zM22 95h1v1h-1zm0-5h1v1h-1zm0-5h1v1h-1zm0-3h1v2h-1zm0-6h1v3h-1zm0-2h1v1h-1zm0-3h1v2h-1zm0-3h1v1h-1zm0-2h1v1h-1zm0-2h1v1h-1zm0-8h1v2h-1zm0-3h1v1h-1zm0-12h1v1h-1zM23 93h1v1h-1zm0-8h1v1h-1zm0-2h1v1h-1zm0-4h1v2h-1zm0-4h1v1h-1zm0-7h1v4h-1zm0-8h1v1h-1zm0-7h1v1h-1zM24 92h1v1h-1zm0-6h1v1h-1zm0-6h1v4h-1zm0-2h1v1h-1zm0-15h1v3h-1zm0-6h1v1h-1zM25 88h1v1h-1zm0-3h1v1h-1zm0-3h1v1h-1zm0-3h1v1h-1zm0-4h1v3h-1zm0-5h1v4h-1zm0-4h1v2h-1zm0-6h1v1h-1zm0-2h1v1h-1zm0-2h1v1h-1zm0-2h1v1h-1zm0-9h1v1h-1zM26 85h1v1h-1zm0-5h1v1h-1zm0-2h1v1h-1zm0-3h1v2h-1zm0-8h1v3h-1zm0-4h1v2h-1zm0-5h1v1h-1zm0-1h1v1h-1zm0-3h1v1h-1zm0-2h1v1h-1zM27 86h1v1h-1zm0-5h1v1h-1zm0-5h1v2h-1zm0-9h1v3h-1zm0-4h1v1h-1zm0-3h1v2h-1zm0-3h1v1h-1zm0-6h1v1h-1zM28 86h1v1h-1zm0-3h1v1h-1zm0-12h1v3h-1zm0-2h1v1h-1zm0-4h1v1h-1zm0-5h1v3h-1zm0-3h1v1h-1zm0-5h1v1h-1zm0-3h1v1h-1zM29 84h1v1h-1zm0-8h1v1h-1zm0-4h1v1h-1zm0-2h1v1h-1zm0-6h1v5h-1zm0-2h1v1h-1zm0-3h1v2h-1zm0-3h1v1h-1zm0-3h1v1h-1zM30 92h1v1h-1zm0-8h1v1h-1zm0-5h1v2h-1zm0-5h1v1h-1zm0-4h1v1h-1zm0-9h1v4h-1zm0-5h1v1h-1zM31 79h1v2h-1zm0-3h1v1h-1zm0-4h1v1h-1zm0-3h1v1h-1zm0-4h1v2h-1zm0-2h1v1h-1zm0-5h1v1h-1z"/><path fill="#050417" d="M0 100h1v1h-1zm0-15h1v1h-1zm0-3h1v1h-1zm0-2h1v1h-1zm0-4h1v2h-1zm0-4h1v2h-1zM1 87h1v2h-1zm0-2h1v1h-1zm0-3h1v1h-1zm0-8h1v1h-1zm0-2h1v1h-1zm0-2h1v1h-1zM2 87h1v3h-1zm0-3h1v1h-1zm0-2h1v1h-1zm0-4h1v1h-1zm0-3h1v1h-1zm0-5h1v2h-1zm0-3h1v1h-1zM3 94h1v2h-1zm0-2h1v1h-1zm0-3h1v2h-1zm0-4h1v2h-1zm0-2h1v1h-1zm0-4h1v1h-1zm0-5h1v1h-1zM4 88h1v5h-1zm0-6h1v2h-1zm0-3h1v1h-1zm0-3h1v2h-1zM5 98h1v1h-1zm0-4h1v2h-1zm0-3h1v1h-1zm0-7h1v3h-1zm0-2h1v1h-1zm0-2h1v1h-1zm0-19h1v1h-1zM6 101h1v2h-1zm0-5h1v1h-1zm0-2h1v1h-1zm0-2h1v1h-1zm0-4h1v2h-1zm0-3h1v1h-1zm0-2h1v1h-1zm0-2h1v1h-1zm0-4h1v1h-1zm0-7h1v1h-1zM7 103h1v1h-1zm0-3h1v1h-1zm0-8h1v3h-1zm0-4h1v1h-1zm0-3h1v1h-1zm0-16h1v1h-1zM8 113h1v1h-1zm0-5h1v1h-1zm0-2h1v1h-1zm0-2h1v1h-1zm0-5h1v2h-1zm0-2h1v1h-1zm0-5h1v4h-1zm0-3h1v1h-1zm0-3h1v1h-1zm0-2h1v1h-1zm0-3h1v1h-1zm0-3h1v1h-1zM9 119h1v1h-1zm0-9h1v2h-1zm0-5h1v1h-1zm0-2h1v1h-1zm0-6h1v3h-1zm0-5h1v4h-1zm0-3h1v2h-1zm0-3h1v1h-1zm0-2h1v1h-1zm0-2h1v1h-1zm0-5h1v1h-1zm0-7h1v1h-1zM10 114h1v1h-1zm0-5h1v1h-1zm0-4h1v1h-1zm0-4h1v2h-1zm0-3h1v2h-1zm0-3h1v2h-1zm0-2h1v1h-1zm0-15h1v6h-1zM11 113h1v2h-1zm0-6h1v1h-1zm0-3h1v1h-1zm0-5h1v2h-1zm0-5h1v1h-1zm0-4h1v2h-1zm0-12h1v1h-1zm0-20h1v1h-1zM12 97h1v13h-1zm0-9h1v1h-1zm0-3h1v1h-1zm0-2h1v1h-1zm0-3h1v1h-1zm0-3h1v1h-1zm0-10h1v1h-1zM13 104h1v1h-1zm0-6h1v3h-1zm0-2h1v1h-1zm0-3h1v2h-1zm0-5h1v4h-1zm0-11h1v1h-1zm0-12h1v1h-1zM14 109h1v4h-1zm0-3h1v1h-1zm0-2h1v1h-1zm0-3h1v2h-1zm0-2h1v1h-1zm0-6h1v1h-1zm0-4h1v1h-1zm0-2h1v1h-1zm0-9h1v1h-1zM15 107h1v1h-1zm0-3h1v1h-1zm0-4h1v3h-1zm0-6h1v2h-1zm0-5h1v1h-1zm0-2h1v1h-1zm0-2h1v1h-1zm0-5h1v1h-1zm0-6h1v1h-1zM16 109h1v1h-1zm0-6h1v1h-1zm0-4h1v2h-1zm0-4h1v3h-1zm0-3h1v2h-1zm0-2h1v1h-1zm0-4h1v1h-1zm0-3h1v2h-1zm0-4h1v2h-1zm0-4h1v3h-1zm0-8h1v1h-1zM17 100h1v3h-1zm0-17h1v1h-1zm0-2h1v1h-1zm0-2h1v1h-1zm0-2h1v1h-1zm0-7h1v1h-1zm0-5h1v1h-1zM18 105h1v1h-1zm0-6h1v1h-1zm0-2h1v1h-1zm0-3h1v1h-1zm0-3h1v2h-1zm0-6h1v1h-1zm0-3h1v2h-1zm0-3h1v2h-1zm0-5h1v1h-1zm0-2h1v1h-1zM19 98h1v3h-1zm0-4h1v1h-1zm0-3h1v1h-1zm0-3h1v1h-1zm0-3h1v1h-1zm0-2h1v1h-1zm0-5h1v1h-1zM20 100h1v1h-1zm0-3h1v2h-1zm0-5h1v4h-1zm0-4h1v1h-1zm0-4h1v2h-1zm0-4h1v1h-1zm0-2h1v1h-1zm0-3h1v1h-1zm0-3h1v1h-1zm0-6h1v1h-1zM21 107h1v1h-1zm0-6h1v3h-1zm0-6h1v3h-1zm0-7h1v2h-1zm0-9h1v5h-1zm0-3h1v1h-1zM22 103h1v1h-1zm0-5h1v1h-1zm0-2h1v1h-1zm0-3h1v1h-1zm0-2h1v1h-1zm0-5h1v4h-1zm0-7h1v3h-1zM23 100h1v1h-1zm0-4h1v1h-1zm0-2h1v1h-1zm0-3h1v2h-1zm0-5h1v1h-1zm0-2h1v1h-1zm0-3h1v2h-1zm0-7h1v1h-1zM24 100h1v1h-1zm0-5h1v1h-1zm0-4h1v1h-1zm0-4h1v3h-1zm0-3h1v1h-1zm0-5h1v1h-1zm0-2h1v1h-1zM25 105h1v1h-1zm0-10h1v2h-1zm0-2h1v1h-1zm0-2h1v1h-1zm0-2h1v1h-1zm0-3h1v2h-1zm0-3h1v2h-1zm0-3h1v2h-1zm0-6h1v1h-1zm0-12h1v1h-1zM26 97h1v1h-1zm0-6h1v1h-1zm0-4h1v2h-1zm0-6h1v3h-1zm0-4h1v1h-1zm0-4h1v2h-1zm0-3h1v2h-1zM27 88h1v2h-1zm0-4h1v1h-1zm0-2h1v1h-1zm0-2h1v1h-1zm0-2h1v1h-1zm0-6h1v3h-1zm0-2h1v1h-1zM28 87h1v2h-1zm0-2h1v1h-1zm0-3h1v1h-1zm0-2h1v1h-1zm0-3h1v2h-1zm0-3h1v1h-1zm0-7h1v1h-1zM29 93h1v1h-1zm0-2h1v1h-1zm0-10h1v3h-1zm0-4h1v2h-1zm0-4h1v3h-1zm0-4h1v1h-1zM30 91h1v1h-1zm0-6h1v4h-1zm0-4h1v2h-1zm0-5h1v3h-1zm0-4h1v2h-1zm0-4h1v2h-1zm0-8h1v1h-1zM31 91h1v1h-1zm0-4h1v3h-1zm0-5h1v4h-1zm0-4h1v1h-1zm0-5h1v3h-1zm0-2h1v1h-1zm0-4h1v1h-1zm0-3h1v1h-1zm0-2h1v1h-1z"/><path fill="#08051d" d="M0 101h1v2h-1zm0-3h1v1h-1zm0-3h1v1h-1zm0-3h1v2h-1zm0-6h1v4h-1zm0-2h1v1h-1zM1 95h1v1h-1zm0-3h1v1h-1zm0-3h1v2h-1zm0-5h1v1h-1zm0-5h1v2h-1zM2 109h1v1h-1zm0-8h1v2h-1zm0-4h1v1h-1zm0-4h1v3h-1zm0-10h1v1h-1zm0-4h1v3h-1zM3 106h1v1h-1zm0-7h1v1h-1zm0-6h1v1h-1zm0-6h1v1h-1zm0-3h1v1h-1zm0-4h1v1h-1zm0-3h1v2h-1zm0-4h1v1h-1zm0-5h1v1h-1zM4 107h1v1h-1zm0-4h1v2h-1zm0-3h1v1h-1zm0-2h1v1h-1zm0-12h1v2h-1zm0-6h1v1h-1zM5 105h1v2h-1zm0-5h1v1h-1zm0-4h1v2h-1zm0-9h1v4h-1zm0-9h1v2h-1zM6 113h1v1h-1zm0-5h1v1h-1zm0-2h1v1h-1zm0-3h1v2h-1zm0-5h1v2h-1zm0-3h1v1h-1zm0-2h1v1h-1zm0-3h1v2h-1zm0-8h1v1h-1zM7 121h1v1h-1zm0-8h1v1h-1zm0-4h1v3h-1zm0-5h1v3h-1zm0-3h1v2h-1zm0-3h1v2h-1zm0-3h1v1h-1zm0-13h1v1h-1zM8 119h1v1h-1zm0-3h1v1h-1zm0-2h1v1h-1zm0-2h1v1h-1zm0-3h1v1h-1zm0-2h1v1h-1zm0-2h1v1h-1zM9 120h1v1h-1zm0-6h1v2h-1zm0-7h1v2h-1zm0-3h1v1h-1zm0-4h1v3h-1zM10 130h1v1h-1zm0-8h1v1h-1zm0-5h1v2h-1zm0-2h1v1h-1zm0-2h1v1h-1zm0-3h1v2h-1zm0-2h1v1h-1zm0-5h1v2h-1zm0-3h1v1h-1zm0-8h1v1h-1zm0-3h1v1h-1zM11 132h1v1h-1zm0-13h1v1h-1zm0-11h1v5h-1zm0-3h1v1h-1zm0-4h1v3h-1zm0-3h1v1h-1zm0-11h1v1h-1zM12 127h1v1h-1zm0-5h1v4h-1zm0-3h1v1h-1zm0-9h1v5h-1zm0-15h1v2h-1zm0-2h1v1h-1zm0-2h1v1h-1zM13 127h1v1h-1zm0-14h1v1h-1zm0-8h1v7h-1zm0-2h1v1h-1zm0-8h1v1h-1zm0-3h1v1h-1zM14 119h1v1h-1zm0-4h1v1h-1zm0-2h1v1h-1zm0-8h1v1h-1zm0-2h1v1h-1zm0-3h1v1h-1zm0-2h1v1h-1zm0-2h1v1h-1zm0-2h1v1h-1zm0-4h1v1h-1zm0-4h1v1h-1zM15 109h1v1h-1zm0-4h1v1h-1zm0-2h1v1h-1zm0-5h1v1h-1zm0-8h1v1h-1zm0-6h1v1h-1zM16 104h1v1h-1zm0-3h1v2h-1zm0-10h1v1h-1zM17 121h1v1h-1zm0-12h1v5h-1zm0-3h1v2h-1zm0-3h1v2h-1zm0-4h1v1h-1zm0-2h1v1h-1zm0-2h1v1h-1zm0-6h1v5h-1zm0-3h1v2h-1zM18 109h1v3h-1zm0-3h1v2h-1zm0-5h1v4h-1zm0-3h1v1h-1zm0-2h1v1h-1zm0-7h1v1h-1zm0-2h1v1h-1zm0-3h1v1h-1zM19 109h1v3h-1zm0-6h1v5h-1zm0-8h1v2h-1zm0-3h1v2h-1zm0-3h1v1h-1zm0-3h1v2h-1zm0-6h1v1h-1zM20 113h1v1h-1zm0-5h1v4h-1zm0-3h1v1h-1zm0-19h1v1h-1zM21 116h1v3h-1zm0-3h1v1h-1zm0-4h1v1h-1zm0-5h1v3h-1zm0-6h1v1h-1zm0-6h1v2h-1zm0-6h1v2h-1zM22 120h1v1h-1zm0-3h1v2h-1zm0-8h1v1h-1zm0-2h1v1h-1zm0-6h1v2h-1zm0-2h1v1h-1zm0-5h1v1h-1zm0-10h1v1h-1zm0-11h1v1h-1zM23 113h1v1h-1zm0-12h1v3h-1zm0-4h1v3h-1zm0-2h1v1h-1zm0-8h1v2h-1zM24 107h1v1h-1zm0-3h1v1h-1zm0-3h1v2h-1zm0-5h1v4h-1zm0-3h1v2h-1zm0-3h1v1h-1zm0-5h1v1h-1zM25 106h1v1h-1zm0-6h1v1h-1zm0-3h1v1h-1zm0-3h1v1h-1zm0-2h1v1h-1zm0-2h1v1h-1zM26 104h1v1h-1zm0-4h1v3h-1zm0-8h1v3h-1zm0-3h1v2h-1zm0-3h1v1h-1zm0-2h1v1h-1zm0-5h1v1h-1zM27 104h1v1h-1zm0-8h1v1h-1zm0-5h1v3h-1zm0-4h1v1h-1zm0-2h1v1h-1zm0-6h1v1h-1zm0-4h1v1h-1zM28 96h1v1h-1zm0-7h1v5h-1zm0-5h1v1h-1zm0-3h1v1h-1zm0-2h1v1h-1zm0-4h1v1h-1zM29 104h1v1h-1zm0-4h1v1h-1zm0-8h1v1h-1zm0-7h1v5h-1zm0-6h1v2h-1zM30 105h1v1h-1zm0-22h1v1h-1zm0-8h1v1h-1zm0-8h1v1h-1zM31 95h1v1h-1zm0-3h1v1h-1zm0-2h1v1h-1zm0-4h1v1h-1zm0-5h1v1h-1zm0-4h1v1h-1z"/><path fill="#0b0724" d="M0 108h1v1h-1zm0-3h1v1h-1zm0-6h1v1h-1zm0-3h1v1h-1zm0-2h1v1h-1zm0-4h1v1h-1zm0-11h1v1h-1zM1 100h1v1h-1zm0-2h1v1h-1zm0-5h1v2h-1zm0-2h1v1h-1zm0-5h1v1h-1zm0-8h1v1h-1zM2 107h1v1h-1zm0-4h1v1h-1zm0-4h1v1h-1zm0-3h1v1h-1zm0-4h1v1h-1zm0-2h1v1h-1zm0-5h1v1h-1zM3 104h1v2h-1zm0-4h1v3h-1zm0-4h1v3h-1zm0-5h1v1h-1zM4 113h1v1h-1zm0-8h1v1h-1zm0-4h1v2h-1zm0-2h1v1h-1zm0-6h1v5h-1zM5 113h1v1h-1zm0-3h1v2h-1zm0-3h1v1h-1zm0-3h1v1h-1zm0-3h1v2h-1zm0-2h1v1h-1zM6 136h1v1h-1zm0-10h1v1h-1zm0-10h1v1h-1zm0-2h1v1h-1zm0-5h1v1h-1zm0-2h1v1h-1zm0-2h1v1h-1zM7 135h1v1h-1zm0-13h1v1h-1zm0-5h1v4h-1zm0-3h1v1h-1zm0-2h1v1h-1zm0-4h1v1h-1zm0-12h1v2h-1zM8 139h1v1h-1zm0-11h1v3h-1zm0-6h1v1h-1zm0-2h1v1h-1zm0-3h1v2h-1zm0-16h1v3h-1zM9 127h1v1h-1zm0-2h1v1h-1zm0-4h1v2h-1zm0-5h1v1h-1zm0-4h1v2h-1zm0-6h1v1h-1zM10 128h1v2h-1zm0-5h1v4h-1zm0-3h1v2h-1zm0-4h1v1h-1zm0-4h1v1h-1zm0-6h1v2h-1zM11 130h1v1h-1zm0-9h1v7h-1zm0-5h1v1h-1zm0-10h1v1h-1zM12 132h1v1h-1zm0-6h1v1h-1zm0-10h1v3h-1zM13 126h1v1h-1zm0-6h1v3h-1zm0-4h1v1h-1zm0-2h1v1h-1zm0-2h1v1h-1zM14 127h1v6h-1zm0-6h1v2h-1zm0-5h1v3h-1zm0-9h1v1h-1zm0-16h1v1h-1zM15 131h1v1h-1zm0-11h1v1h-1zm0-7h1v3h-1zm0-3h1v2h-1zm0-4h1v1h-1zm0-15h1v1h-1zM16 128h1v4h-1zm0-5h1v2h-1zm0-8h1v2h-1zm0-3h1v1h-1zm0-4h1v1h-1zm0-3h1v2h-1zm0-7h1v1h-1zM17 126h1v1h-1zm0-4h1v3h-1zm0-8h1v3h-1zm0-6h1v1h-1zm0-3h1v1h-1zm0-9h1v1h-1zM18 117h1v2h-1zm0-4h1v3h-1zm0-5h1v1h-1zm0-18h1v1h-1zM19 125h1v2h-1zm0-3h1v1h-1zm0-9h1v4h-1zm0-5h1v1h-1zm0-7h1v2h-1zm0-4h1v1h-1zM20 128h1v2h-1zm0-12h1v1h-1zm0-10h1v1h-1zm0-5h1v4h-1zm0-5h1v1h-1zm0-6h1v1h-1zM21 123h1v2h-1zm0-2h1v1h-1zm0-11h1v3h-1zm0-2h1v1h-1zm0-8h1v1h-1zM22 128h1v2h-1zm0-15h1v1h-1zm0-5h1v1h-1zm0-4h1v3h-1zm0-4h1v1h-1zm0-3h1v1h-1zm0-5h1v1h-1zM23 131h1v1h-1zm0-9h1v1h-1zm0-6h1v1h-1zm0-12h1v6h-1zm0-15h1v2h-1zM24 116h1v1h-1zm0-3h1v2h-1zm0-5h1v2h-1zm0-3h1v2h-1zm0-2h1v1h-1zM25 109h1v3h-1zm0-2h1v1h-1zm0-6h1v3h-1zm0-3h1v2h-1zM26 110h1v2h-1zm0-4h1v1h-1zm0-3h1v1h-1zm0-4h1v1h-1zm0-4h1v1h-1zM27 115h1v1h-1zm0-6h1v1h-1zm0-4h1v1h-1zm0-5h1v4h-1zm0-2h1v1h-1zm0-4h1v1h-1zm0-4h1v1h-1zm0-7h1v1h-1zM28 108h1v1h-1zm0-2h1v1h-1zm0-7h1v5h-1zm0-2h1v1h-1zm0-3h1v2h-1zM29 101h1v2h-1zm0-7h1v6h-1zm0-4h1v1h-1zM30 109h1v1h-1zm0-3h1v2h-1zm0-2h1v1h-1zm0-4h1v3h-1zm0-7h1v4h-1zm0-4h1v2h-1zM31 99h1v5h-1zm0-3h1v1h-1zm0-3h1v2h-1z"/><path fill="#0d0829" d="M0 107h1v1h-1zm0-4h1v1h-1zm0-12h1v1h-1zM1 110h1v3h-1zm0-2h1v1h-1zm0-7h1v2h-1zm0-4h1v1h-1zm0-14h1v1h-1zM2 115h1v1h-1zm0-3h1v2h-1zm0-4h1v1h-1zm0-2h1v1h-1zm0-2h1v1h-1zm0-4h1v1h-1zm0-2h1v1h-1zM3 114h1v1h-1zm0-4h1v2h-1zm0-3h1v2h-1zm0-4h1v1h-1zM4 128h1v2h-1zm0-8h1v1h-1zm0-3h1v2h-1zm0-2h1v1h-1zm0-6h1v1h-1zm0-3h1v1h-1zM5 131h1v1h-1zm0-12h1v1h-1zm0-5h1v3h-1zm0-2h1v1h-1zm0-3h1v1h-1zm0-6h1v1h-1zM6 133h1v2h-1zm0-14h1v7h-1zm0-4h1v1h-1zm0-5h1v3h-1zm0-10h1v1h-1zM7 141h1v2h-1zm0-9h1v3h-1zm0-9h1v3h-1zm0-8h1v2h-1zm0-8h1v1h-1zM8 157h1v1h-1zm0-5h1v2h-1zm0-19h1v2h-1zm0-2h1v1h-1zm0-8h1v4h-1zm0-2h1v1h-1zm0-11h1v2h-1zM9 140h1v1h-1zm0-4h1v1h-1zm0-8h1v7h-1zm0-2h1v1h-1zm0-3h1v2h-1zm0-6h1v2h-1zm0-8h1v1h-1zM10 149h1v2h-1zm0-12h1v3h-1zm0-2h1v1h-1zm0-3h1v1h-1zm0-13h1v1h-1zM11 154h1v1h-1zm0-6h1v1h-1zm0-11h1v2h-1zm0-6h1v1h-1zm0-3h1v2h-1zm0-8h1v1h-1zm0-3h1v2h-1zm0-2h1v1h-1zM12 149h1v2h-1zm0-2h1v1h-1zm0-4h1v1h-1zm0-7h1v5h-1zm0-8h1v2h-1zm0-8h1v1h-1zM13 128h1v9h-1zm0-3h1v1h-1zm0-6h1v1h-1zm0-4h1v1h-1zM14 155h1v2h-1zm0-10h1v2h-1zm0-12h1v3h-1zm0-10h1v4h-1zm0-3h1v1h-1zm0-6h1v1h-1zM15 139h1v2h-1zm0-3h1v1h-1zm0-4h1v3h-1zm0-6h1v4h-1zm0-5h1v2h-1zm0-2h1v1h-1zm0-3h1v1h-1zm0-4h1v1h-1zM16 133h1v2h-1zm0-8h1v3h-1zm0-3h1v1h-1zm0-5h1v4h-1zm0-4h1v2h-1zm0-3h1v2h-1zM17 141h1v2h-1zm0-6h1v1h-1zm0-5h1v1h-1zm0-5h1v1h-1zM18 128h1v2h-1zm0-9h1v1h-1zm0-3h1v1h-1zm0-4h1v1h-1zM19 131h1v1h-1zm0-4h1v1h-1zm0-7h1v2h-1zm0-3h1v2h-1zm0-5h1v1h-1zM20 131h1v1h-1zm0-6h1v1h-1zm0-8h1v5h-1zm0-3h1v2h-1zm0-2h1v1h-1zm0-5h1v1h-1zm0-8h1v1h-1zM21 127h1v3h-1zm0-2h1v1h-1zm0-3h1v1h-1zm0-3h1v2h-1zm0-5h1v1h-1zM22 121h1v2h-1zm0-2h1v1h-1zm0-5h1v3h-1zm0-4h1v3h-1zM23 128h1v2h-1zm0-2h1v1h-1zm0-9h1v3h-1zm0-3h1v2h-1zm0-2h1v1h-1zM24 130h1v1h-1zm0-7h1v3h-1zm0-4h1v1h-1zM25 122h1v1h-1zm0-2h1v1h-1zm0-4h1v3h-1zm0-4h1v2h-1zm0-4h1v1h-1zM26 117h1v2h-1zm0-3h1v2h-1zm0-2h1v1h-1zm0-4h1v1h-1zm0-3h1v1h-1zm0-7h1v1h-1zm0-2h1v1h-1zM27 114h1v1h-1zm0-4h1v3h-1zm0-4h1v3h-1zm0-7h1v1h-1zm0-2h1v1h-1zm0-2h1v1h-1zM28 113h1v2h-1zm0-3h1v2h-1zm0-3h1v1h-1zm0-3h1v2h-1zm0-6h1v1h-1zM29 113h1v1h-1zm0-5h1v2h-1zm0-3h1v2h-1zm0-2h1v1h-1zM30 97h1v2h-1zM31 105h1v3h-1zm0-8h1v2h-1z"/><path fill="#110a30" d="M0 116h1v1h-1zm0-6h1v4h-1zm0-4h1v1h-1zm0-2h1v1h-1zm0-7h1v1h-1zM1 113h1v3h-1zm0-10h1v3h-1zm0-4h1v1h-1zm0-3h1v1h-1zM2 121h1v2h-1zm0-2h1v1h-1zm0-5h1v1h-1zM3 122h1v1h-1zm0-3h1v1h-1zm0-3h1v1h-1zm0-4h1v2h-1zm0-3h1v1h-1zM4 125h1v1h-1zm0-3h1v1h-1zm0-8h1v1h-1zm0-4h1v3h-1zm0-2h1v1h-1zM5 139h1v1h-1zm0-7h1v1h-1zm0-4h1v2h-1zm0-8h1v1h-1zm0-3h1v2h-1zm0-9h1v1h-1zM6 127h1v1h-1zm0-10h1v2h-1zM7 157h1v1h-1zm0-10h1v1h-1zm0-3h1v1h-1zm0-4h1v1h-1zm0-4h1v1h-1zm0-6h1v2h-1zm0-4h1v2h-1zM8 154h1v1h-1zm0-6h1v3h-1zm0-8h1v1h-1zm0-5h1v2h-1zm0-3h1v1h-1zm0-5h1v1h-1zM9 147h1v2h-1zm0-6h1v2h-1zm0-2h1v1h-1zm0-4h1v1h-1zM10 161h1v1h-1zm0-7h1v1h-1zm0-6h1v1h-1zm0-5h1v2h-1zm0-7h1v1h-1zm0-3h1v2h-1zm0-6h1v1h-1zM11 149h1v5h-1zm0-8h1v6h-1zm0-2h1v1h-1zm0-6h1v4h-1zM12 158h1v2h-1zm0-7h1v3h-1zm0-6h1v2h-1zm0-4h1v2h-1zm0-8h1v3h-1zm0-3h1v1h-1zm0-9h1v1h-1zM13 157h1v4h-1zm0-10h1v2h-1zm0-10h1v6h-1zm0-14h1v2h-1zm0-6h1v2h-1zM14 158h1v2h-1zm0-4h1v1h-1zm0-5h1v3h-1zm0-10h1v6h-1zm0-3h1v1h-1zm0-28h1v1h-1zM15 137h1v2h-1zm0-2h1v1h-1zm0-5h1v1h-1zm0-7h1v3h-1zm0-6h1v2h-1zM16 140h1v5h-1zm0-4h1v3h-1zm0-4h1v1h-1zm0-11h1v1h-1zm0-14h1v1h-1zM17 143h1v1h-1zm0-11h1v1h-1zm0-5h1v3h-1zm0-7h1v1h-1zm0-3h1v2h-1zM18 151h1v1h-1zm0-10h1v3h-1zm0-9h1v7h-1zm0-2h1v1h-1zm0-7h1v5h-1zm0-3h1v2h-1zM19 141h1v3h-1zm0-4h1v2h-1zm0-2h1v1h-1zm0-3h1v1h-1zm0-13h1v1h-1zM20 140h1v3h-1zm0-8h1v3h-1zm0-2h1v1h-1zm0-4h1v2h-1zm0-4h1v3h-1zM21 147h1v1h-1zm0-11h1v3h-1zm0-6h1v5h-1zm0-4h1v1h-1zm0-11h1v1h-1zM22 140h1v1h-1zm0-3h1v2h-1zm0-2h1v1h-1zm0-5h1v1h-1zm0-7h1v5h-1zM23 148h1v1h-1zm0-4h1v3h-1zm0-17h1v1h-1zm0-4h1v3h-1zm0-3h1v2h-1zM24 139h1v1h-1zm0-4h1v1h-1zm0-4h1v2h-1zm0-10h1v1h-1zm0-6h1v1h-1zm0-5h1v3h-1zM25 137h1v3h-1zm0-14h1v2h-1zm0-2h1v1h-1zm0-6h1v1h-1zm0-11h1v1h-1zM26 125h1v1h-1zm0-4h1v1h-1zm0-2h1v1h-1zm0-3h1v1h-1zm0-3h1v1h-1zm0-6h1v1h-1zM27 116h1v1h-1zm0-3h1v1h-1zM28 117h1v2h-1zm0-8h1v1h-1zM29 114h1v2h-1zm0-2h1v1h-1zM30 108h1v1h-1zm0-5h1v1h-1zm0-4h1v1h-1zM31 114h1v1h-1zm0-4h1v3h-1z"/><path fill="#150b37" d="M0 114h1v2h-1zm0-5h1v1h-1zM1 128h1v2h-1zm0-2h1v1h-1zm0-4h1v1h-1zm0-3h1v2h-1zm0-3h1v1h-1zm0-7h1v1h-1zm0-3h1v2h-1zM2 125h1v1h-1zm0-8h1v2h-1zm0-7h1v2h-1zm0-5h1v1h-1zM3 123h1v2h-1zm0-3h1v1h-1zm0-3h1v2h-1zm0-2h1v1h-1zM4 132h1v1h-1zm0-2h1v1h-1zm0-3h1v1h-1zm0-4h1v2h-1zm0-2h1v1h-1zM5 155h1v2h-1zm0-15h1v1h-1zm0-7h1v3h-1zm0-7h1v2h-1zm0-5h1v1h-1zM6 152h1v2h-1zm0-5h1v2h-1zm0-4h1v1h-1zm0-4h1v1h-1zm0-4h1v1h-1zm0-7h1v5h-1zM7 175h1v1h-1zm0-20h1v2h-1zm0-7h1v1h-1zm0-3h1v2h-1zm0-2h1v1h-1zm0-4h1v1h-1zm0-11h1v2h-1zM8 158h1v6h-1zm0-3h1v2h-1zm0-10h1v3h-1zm0-4h1v3h-1zm0-4h1v2h-1zm0-22h1v1h-1zM9 155h1v2h-1zm0-4h1v3h-1zm0-8h1v4h-1zm0-6h1v2h-1zM10 175h1v1h-1zm0-8h1v3h-1zm0-10h1v1h-1zm0-12h1v3h-1zm0-5h1v1h-1zm0-9h1v1h-1zM11 160h1v1h-1zm0-5h1v2h-1zm0-8h1v1h-1zm0-7h1v1h-1zM12 162h1v2h-1zm0-14h1v1h-1zm0-4h1v1h-1zm0-13h1v1h-1zm0-16h1v1h-1zM13 162h1v2h-1zm0-11h1v6h-1zm0-7h1v3h-1zM14 137h1v2h-1zM15 151h1v4h-1zm0-4h1v2h-1zm0-6h1v3h-1zM16 152h1v2h-1zm0-3h1v2h-1zm0-10h1v1h-1zm0-4h1v1h-1zM17 147h1v2h-1zm0-3h1v1h-1zm0-8h1v1h-1zm0-3h1v2h-1zm0-2h1v1h-1zm0-12h1v1h-1zM18 165h1v2h-1zm0-17h1v3h-1zm0-9h1v1h-1zm0-8h1v1h-1zm0-9h1v1h-1zM19 155h1v2h-1zm0-4h1v3h-1zm0-3h1v1h-1zm0-9h1v1h-1zm0-3h1v1h-1zm0-3h1v2h-1zm0-5h1v3h-1zm0-5h1v2h-1zM20 164h1v1h-1zm0-3h1v1h-1zm0-12h1v2h-1zm0-4h1v2h-1zm0-9h1v4h-1zM21 139h1v5h-1zm0-4h1v1h-1zM22 145h1v2h-1zm0-4h1v2h-1zm0-2h1v1h-1zm0-3h1v1h-1zm0-5h1v2h-1zM23 137h1v2h-1zm0-5h1v3h-1zm0-2h1v1h-1zm0-20h1v2h-1zM24 136h1v1h-1zm0-3h1v2h-1zm0-5h1v2h-1zm0-2h1v1h-1zm0-4h1v1h-1zm0-2h1v1h-1zm0-3h1v2h-1zM25 136h1v1h-1zm0-3h1v2h-1zm0-5h1v3h-1zm0-3h1v1h-1zm0-11h1v1h-1zM26 128h1v2h-1zm0-5h1v2h-1zm0-14h1v1h-1zM27 126h1v4h-1zm0-9h1v2h-1zM28 123h1v2h-1zm0-4h1v2h-1zM29 125h1v1h-1zm0-9h1v1h-1zm0-6h1v2h-1zm0-3h1v1h-1zM30 117h1v3h-1zm0-4h1v3h-1zM31 116h1v1h-1zm0-8h1v2h-1zm0-4h1v1h-1z"/><path fill="#180c3c" d="M0 121h1v4h-1zM1 125h1v1h-1zm0-8h1v2h-1zM2 132h1v1h-1zm0-6h1v1h-1zm0-6h1v1h-1zm0-4h1v1h-1zM3 144h1v1h-1zm0-7h1v2h-1zm0-4h1v2h-1zm0-5h1v2h-1zm0-3h1v1h-1zM4 133h1v3h-1zm0-2h1v1h-1zm0-12h1v1h-1zm0-3h1v1h-1zM5 157h1v1h-1zm0-12h1v2h-1zm0-4h1v2h-1zm0-5h1v1h-1zm0-6h1v1h-1zm0-8h1v4h-1zM6 162h1v2h-1zm0-18h1v3h-1zm0-4h1v3h-1zm0-3h1v2h-1zM7 169h1v1h-1zm0-17h1v3h-1zm0-3h1v2h-1zm0-12h1v2h-1zM8 186h1v2h-1zm0-35h1v1h-1zM9 178h1v3h-1zm0-9h1v1h-1zm0-9h1v5h-1zm0-6h1v1h-1zM10 178h1v3h-1zm0-16h1v3h-1zm0-4h1v3h-1zm0-3h1v2h-1zm0-4h1v1h-1zm0-10h1v2h-1zM11 178h1v2h-1zm0-8h1v5h-1zm0-6h1v3h-1zM12 170h1v2h-1zm0-5h1v2h-1zm0-5h1v2h-1zm0-6h1v4h-1zM13 175h1v1h-1zm0-5h1v3h-1zm0-6h1v5h-1zm0-21h1v1h-1zM14 170h1v2h-1zm0-6h1v1h-1zm0-3h1v1h-1zm0-4h1v1h-1zm0-5h1v2h-1zm0-5h1v2h-1zM15 167h1v2h-1zm0-6h1v1h-1zm0-3h1v2h-1zm0-3h1v2h-1zM16 167h1v2h-1zm0-12h1v2h-1zm0-7h1v1h-1zm0-3h1v2h-1zM17 160h1v1h-1zm0-9h1v3h-1zm0-6h1v2h-1zm0-6h1v2h-1zM18 172h1v1h-1zm0-10h1v2h-1zm0-7h1v2h-1zm0-3h1v2h-1zm0-7h1v2h-1zm0-5h1v1h-1zM19 164h1v1h-1zm0-7h1v1h-1zm0-8h1v2h-1zm0-5h1v4h-1zm0-4h1v1h-1zM20 157h1v1h-1zm0-14h1v2h-1zm0-8h1v1h-1zM21 165h1v2h-1zm0-10h1v2h-1zm0-4h1v1h-1zm0-3h1v1h-1zm0-4h1v1h-1zM22 154h1v1h-1zm0-7h1v1h-1zm0-4h1v1h-1zm0-10h1v2h-1zM23 149h1v3h-1zm0-2h1v1h-1zm0-8h1v4h-1zm0-4h1v1h-1zM24 154h1v3h-1zm0-13h1v3h-1zm0-14h1v1h-1zM25 143h1v1h-1zm0-8h1v1h-1zm0-4h1v2h-1zm0-5h1v1h-1zM26 139h1v1h-1zm0-9h1v2h-1zm0-4h1v2h-1zm0-4h1v1h-1zm0-2h1v1h-1zM27 135h1v2h-1zm0-5h1v2h-1zm0-8h1v1h-1zm0-2h1v1h-1zM28 131h1v5h-1zm0-4h1v3h-1zm0-2h1v1h-1zm0-4h1v2h-1zm0-6h1v2h-1zm0-3h1v1h-1zM29 132h1v1h-1zm0-13h1v2h-1zM30 125h1v1h-1zm0-5h1v3h-1zm0-4h1v1h-1zm0-6h1v3h-1zM31 130h1v1h-1zm0-3h1v1h-1zm0-6h1v1h-1zm0-6h1v1h-1zm0-2h1v1h-1z"/><path fill="#1c0c43" d="M0 132h1v1h-1zm0-7h1v3h-1zm0-8h1v3h-1zM1 141h1v2h-1zm0-4h1v2h-1zm0-14h1v2h-1zm0-2h1v1h-1zM2 133h1v2h-1zm0-2h1v1h-1zm0-3h1v2h-1zM3 140h1v3h-1zm0-5h1v1h-1zm0-4h1v2h-1zm0-4h1v1h-1zm0-6h1v1h-1zM4 139h1v5h-1zm0-3h1v1h-1zm0-10h1v1h-1zM5 137h1v2h-1zM6 154h1v6h-1zm0-5h1v2h-1zM7 165h1v2h-1zm0-4h1v1h-1zM8 191h1v2h-1zm0-16h1v6h-1zm0-11h1v5h-1zm0-20h1v1h-1zM9 185h1v1h-1zm0-4h1v2h-1zm0-6h1v1h-1zm0-10h1v4h-1zm0-7h1v2h-1zm0-9h1v2h-1zM10 176h1v2h-1zm0-6h1v2h-1zm0-18h1v2h-1zM11 186h1v2h-1zm0-3h1v2h-1zm0-16h1v3h-1zm0-6h1v3h-1zm0-4h1v3h-1zM12 180h1v1h-1zm0-7h1v2h-1zm0-6h1v2h-1zM13 181h1v2h-1zm0-8h1v2h-1zm0-4h1v1h-1zm0-20h1v2h-1zM14 165h1v4h-1zm0-3h1v2h-1zm0-2h1v1h-1zM15 162h1v3h-1zm0-2h1v1h-1zm0-11h1v2h-1zm0-5h1v3h-1zM16 172h1v1h-1zm0-11h1v1h-1zm0-4h1v3h-1zm0-3h1v1h-1zm0-3h1v1h-1zm0-4h1v1h-1zM17 172h1v1h-1zm0-3h1v1h-1zm0-5h1v1h-1zm0-3h1v1h-1zm0-4h1v3h-1zm0-3h1v1h-1zm0-5h1v2h-1zm0-12h1v2h-1zM18 164h1v1h-1zm0-7h1v3h-1zM19 165h1v2h-1zm0-7h1v2h-1zM20 155h1v2h-1zm0-4h1v1h-1zm0-3h1v1h-1zM21 161h1v1h-1zm0-4h1v1h-1zm0-5h1v2h-1zm0-3h1v2h-1zm0-4h1v2h-1zM22 169h1v1h-1zm0-4h1v2h-1zm0-10h1v2h-1zm0-4h1v3h-1zm0-3h1v1h-1zM23 157h1v1h-1zm0-5h1v2h-1zm0-9h1v1h-1zm0-7h1v1h-1zM24 157h1v1h-1zm0-6h1v1h-1zm0-6h1v4h-1zm0-5h1v1h-1zm0-3h1v2h-1zM25 145h1v4h-1zm0-5h1v3h-1zm0-13h1v1h-1zm0-8h1v1h-1zM26 147h1v1h-1zm0-6h1v2h-1zm0-5h1v3h-1zm0-4h1v3h-1zM27 123h1v3h-1zm0-2h1v1h-1zM28 140h1v1h-1zm0-10h1v1h-1zM29 137h1v2h-1zm0-10h1v4h-1zm0-5h1v1h-1zm0-5h1v2h-1zM30 130h1v1h-1zm0-7h1v2h-1zM31 123h1v3h-1zm0-6h1v2h-1z"/><path fill="#210c4a" d="M0 140h1v1h-1zm0-7h1v2h-1zm0-5h1v3h-1zM1 130h1v6h-1zm0-3h1v1h-1zM2 149h1v2h-1zm0-9h1v1h-1zm0-3h1v2h-1zm0-2h1v1h-1zm0-5h1v1h-1zm0-3h1v1h-1zm0-4h1v2h-1zM3 152h1v2h-1zm0-5h1v2h-1zm0-4h1v1h-1zm0-7h1v1h-1zM4 151h1v4h-1zm0-3h1v1h-1zm0-3h1v2h-1zM5 167h1v2h-1zm0-9h1v2h-1zm0-4h1v1h-1zm0-5h1v3h-1zm0-6h1v2h-1zM6 169h1v1h-1zm0-8h1v1h-1zm0-10h1v1h-1zM7 170h1v5h-1zm0-8h1v2h-1zm0-4h1v3h-1zm0-7h1v1h-1zM8 169h1v6h-1zM9 176h1v2h-1zm0-6h1v2h-1zm0-13h1v1h-1zM10 186h1v2h-1zm0-14h1v3h-1zm0-7h1v2h-1zM11 188h1v2h-1zm0-8h1v3h-1zm0-4h1v2h-1zM12 185h1v5h-1zm0-9h1v4h-1zm0-4h1v1h-1zm0-3h1v1h-1zm0-5h1v1h-1zM13 183h1v2h-1zm0-3h1v1h-1zm0-4h1v2h-1zM14 183h1v2h-1zm0-7h1v2h-1zm0-3h1v2h-1zm0-4h1v1h-1zM15 186h1v2h-1zm0-14h1v4h-1zm0-7h1v2h-1zM16 186h1v2h-1zm0-13h1v2h-1zm0-4h1v1h-1zm0-5h1v3h-1zm0-4h1v1h-1zM17 173h1v2h-1zm0-6h1v2h-1zm0-5h1v2h-1zm0-7h1v2h-1zM18 173h1v2h-1zm0-3h1v2h-1zm0-3h1v2h-1zm0-7h1v2h-1zm0-13h1v1h-1zm0-3h1v1h-1zM19 160h1v4h-1zm0-6h1v1h-1zM20 172h1v1h-1zm0-3h1v1h-1zm0-4h1v2h-1zm0-7h1v3h-1zm0-6h1v3h-1zm0-5h1v1h-1zM21 158h1v3h-1zM22 178h1v2h-1zm0-11h1v2h-1zm0-10h1v4h-1zm0-13h1v1h-1zM23 178h1v2h-1zm0-5h1v2h-1zm0-6h1v2h-1zm0-9h1v2h-1zM24 164h1v3h-1zm0-6h1v2h-1zm0-14h1v1h-1zM25 164h1v3h-1zM26 148h1v3h-1zm0-3h1v2h-1zm0-2h1v1h-1zm0-3h1v1h-1zm0-5h1v1h-1zM27 149h1v2h-1zm0-4h1v2h-1zm0-6h1v2h-1zm0-20h1v1h-1zM28 141h1v2h-1zm0-2h1v1h-1zm0-3h1v1h-1zm0-10h1v1h-1zM29 126h1v1h-1zm0-3h1v2h-1zm0-2h1v1h-1zM30 132h1v4h-1zm0-6h1v1h-1zM31 135h1v4h-1zm0-3h1v1h-1zm0-6h1v1h-1zm0-4h1v1h-1zm0-3h1v1h-1z"/><path fill="#240c4f" d="M0 139h1v1h-1zm0-8h1v1h-1zm0-11h1v1h-1zM1 139h1v1h-1zm0-3h1v1h-1zM2 141h1v7h-1zm0-2h1v1h-1zm0-3h1v1h-1zM3 145h1v2h-1zm0-15h1v1h-1zm0-4h1v1h-1zM4 162h1v2h-1zm0-2h1v1h-1zm0-5h1v2h-1zm0-6h1v2h-1zm0-5h1v1h-1zM5 173h1v2h-1zm0-3h1v2h-1zm0-8h1v3h-1zm0-10h1v2h-1zm0-5h1v2h-1zM6 186h1v4h-1zm0-19h1v2h-1zm0-7h1v1h-1zM7 186h1v2h-1zm0-5h1v2h-1zm0-5h1v4h-1zm0-9h1v2h-1zm0-3h1v1h-1zM8 204h1v2h-1zm0-23h1v4h-1zM9 191h1v4h-1zm0-5h1v2h-1zm0-14h1v3h-1zM10 202h1v2h-1zm0-7h1v2h-1zm0-7h1v2h-1zm0-3h1v1h-1zm0-4h1v2h-1zM11 193h1v2h-1zm0-8h1v1h-1zm0-10h1v1h-1zM12 190h1v3h-1zm0-9h1v2h-1zm0-6h1v1h-1zM13 190h1v1h-1zm0-5h1v3h-1zm0-7h1v2h-1zm0-17h1v1h-1zM14 193h1v2h-1zm0-12h1v2h-1zm0-3h1v2h-1zm0-3h1v1h-1zm0-3h1v1h-1zM15 178h1v2h-1zm0-9h1v1h-1zm0-12h1v1h-1zM16 188h1v2h-1zm0-3h1v1h-1zm0-10h1v1h-1zm0-5h1v2h-1zm0-8h1v2h-1zM17 188h1v2h-1zm0-13h1v1h-1zm0-10h1v2h-1zM18 183h1v2h-1zm0-3h1v1h-1zM19 200h1v2h-1zm0-14h1v2h-1zm0-3h1v2h-1zm0-7h1v2h-1zm0-6h1v5h-1zM20 181h1v2h-1zm0-11h1v2h-1zm0-3h1v2h-1zm0-5h1v2h-1zM21 172h1v6h-1zm0-5h1v3h-1zm0-3h1v1h-1zm0-10h1v1h-1zM22 190h1v1h-1zm0-20h1v2h-1zm0-9h1v4h-1zm0-12h1v2h-1zM23 160h1v2h-1zm0-6h1v3h-1zM24 169h1v1h-1zm0-20h1v2h-1zM25 151h1v9h-1zm0-7h1v1h-1zM26 151h1v1h-1zm0-7h1v1h-1zM27 151h1v1h-1zm0-4h1v2h-1zm0-4h1v2h-1zm0-6h1v2h-1zm0-5h1v1h-1zM28 151h1v1h-1zm0-7h1v1h-1zm0-7h1v2h-1zM29 152h1v2h-1zm0-4h1v1h-1zm0-3h1v2h-1zm0-5h1v4h-1zm0-4h1v1h-1zm0-3h1v2h-1zm0-2h1v1h-1zM30 151h1v1h-1zm0-10h1v2h-1zm0-10h1v1h-1zm0-4h1v3h-1zM31 149h1v2h-1zm0-5h1v1h-1zm0-5h1v1h-1zm0-6h1v2h-1zm0-2h1v1h-1zm0-3h1v2h-1zm0-8h1v1h-1z"/><path fill="#290b55" d="M0 143h1v1h-1zm0-6h1v2h-1zm0-2h1v1h-1zM1 154h1v1h-1zm0-3h1v1h-1zm0-8h1v2h-1zm0-3h1v1h-1zM2 160h1v1h-1zm0-5h1v2h-1zm0-4h1v1h-1zM3 157h1v3h-1zm0-6h1v1h-1zm0-12h1v1h-1zM4 161h1v1h-1zm0-14h1v1h-1zm0-10h1v2h-1zM5 160h1v2h-1zM6 191h1v2h-1zm0-11h1v1h-1zm0-10h1v6h-1zm0-5h1v2h-1zM7 195h1v2h-1zm0-5h1v3h-1zm0-7h1v2h-1zm0-3h1v1h-1zM8 193h1v4h-1zm0-3h1v1h-1zm0-5h1v1h-1zM9 195h1v2h-1zm0-7h1v2h-1zm0-5h1v2h-1zM10 200h1v2h-1zm0-10h1v5h-1zm0-7h1v2h-1zM11 197h1v3h-1zm0-6h1v2h-1zM12 197h1v3h-1zm0-4h1v2h-1zm0-10h1v2h-1zM13 191h1v4h-1zm0-3h1v2h-1zM14 195h1v2h-1zm0-10h1v3h-1zm0-5h1v1h-1zM15 190h1v1h-1zm0-9h1v2h-1zm0-5h1v2h-1zM16 190h1v1h-1zm0-7h1v2h-1zm0-5h1v2h-1zM17 186h1v2h-1zm0-3h1v2h-1zm0-7h1v4h-1zm0-6h1v2h-1zM18 175h1v5h-1zm0-6h1v1h-1zm0-15h1v1h-1zM19 180h1v3h-1zm0-11h1v1h-1zM20 180h1v1h-1zm0-7h1v5h-1zM21 186h1v2h-1zm0-6h1v3h-1zm0-10h1v2h-1zM22 172h1v3h-1zM23 180h1v3h-1zm0-4h1v2h-1zm0-4h1v1h-1zm0-10h1v5h-1zM24 173h1v3h-1zm0-6h1v2h-1zm0-6h1v3h-1zm0-9h1v2h-1zM25 160h1v4h-1zm0-11h1v2h-1zM26 172h1v1h-1zm0-7h1v2h-1zm0-5h1v1h-1zm0-6h1v3h-1zM27 169h1v1h-1zm0-28h1v2h-1zm0-8h1v2h-1zM28 152h1v2h-1zm0-3h1v2h-1zM29 161h1v1h-1zm0-22h1v1h-1zM30 136h1v5h-1zM31 160h1v1h-1zm0-17h1v1h-1z"/><path fill="#2f0a5b" d="M0 141h1v2h-1zm0-5h1v1h-1zM1 162h1v2h-1zm0-2h1v1h-1zm0-8h1v2h-1zm0-7h1v4h-1zM2 167h1v2h-1zm0-15h1v2h-1zm0-4h1v1h-1zM3 173h1v2h-1zm0-11h1v3h-1zm0-8h1v3h-1zm0-5h1v2h-1zM4 157h1v3h-1zM5 181h1v2h-1zm0-9h1v1h-1zm0-3h1v1h-1zm0-4h1v2h-1zM6 190h1v1h-1zm0-9h1v2h-1zm0-3h1v2h-1zm0-14h1v1h-1zM7 197h1v1h-1zm0-9h1v2h-1zm0-3h1v1h-1zM8 211h1v2h-1zm0-3h1v1h-1zm0-6h1v2h-1zm0-5h1v1h-1zm0-9h1v2h-1zM9 206h1v2h-1zm0-8h1v2h-1zM10 197h1v3h-1zM11 208h1v1h-1zm0-6h1v2h-1zm0-7h1v2h-1zm0-5h1v1h-1zM12 200h1v2h-1zm0-5h1v2h-1zM13 202h1v2h-1zm0-7h1v3h-1zM14 206h1v2h-1zm0-8h1v2h-1zm0-8h1v3h-1zM15 191h1v4h-1zm0-8h1v2h-1zM16 193h1v4h-1zm0-13h1v3h-1zM17 195h1v2h-1zm0-15h1v3h-1zM18 197h1v1h-1zm0-6h1v2h-1zm0-6h1v3h-1zm0-4h1v2h-1zM19 185h1v1h-1zm0-7h1v2h-1zm0-3h1v1h-1zm0-8h1v2h-1zM20 183h1v5h-1zm0-5h1v2h-1zM21 193h1v2h-1zm0-5h1v3h-1zm0-3h1v1h-1zm0-7h1v2h-1zm0-16h1v2h-1zM22 185h1v1h-1zm0-10h1v3h-1zM23 193h1v2h-1zm0-5h1v2h-1zm0-5h1v2h-1zm0-8h1v1h-1zm0-5h1v2h-1zM24 181h1v2h-1zm0-11h1v3h-1zM25 167h1v6h-1zM26 169h1v1h-1zm0-11h1v2h-1zm0-6h1v2h-1zM27 165h1v2h-1zm0-13h1v8h-1zM28 155h1v2h-1zm0-8h1v2h-1zm0-4h1v1h-1zM29 160h1v1h-1zm0-5h1v2h-1zm0-8h1v1h-1zm0-12h1v1h-1zM30 152h1v2h-1zm0-9h1v5h-1z"/><path fill="#320a5e" d="M0 162h1v2h-1zm0-7h1v2h-1zm0-8h1v2h-1zM1 176h1v2h-1zm0-18h1v2h-1zm0-3h1v2h-1zm0-6h1v2h-1zM2 157h1v3h-1zm0-3h1v1h-1zM3 169h1v1h-1zm0-4h1v2h-1zm0-5h1v2h-1zM4 181h1v2h-1zm0-11h1v6h-1zm0-5h1v4h-1zM5 180h1v1h-1zm0-5h1v1h-1zM6 198h1v2h-1zm0-15h1v3h-1zm0-7h1v2h-1zM7 193h1v2h-1zM8 198h1v4h-1zM9 208h1v1h-1zm0-8h1v2h-1zm0-3h1v1h-1zm0-7h1v1h-1zM10 209h1v4h-1zm0-3h1v2h-1zM11 215h1v2h-1zm0-11h1v2h-1zM12 209h1v2h-1zm0-7h1v4h-1zM13 208h1v1h-1zm0-4h1v2h-1zm0-6h1v4h-1zM14 211h1v2h-1zm0-9h1v4h-1zm0-5h1v1h-1zm0-9h1v2h-1zM15 209h1v4h-1zm0-7h1v2h-1zm0-7h1v3h-1zm0-7h1v2h-1zm0-3h1v1h-1zm0-5h1v1h-1zM16 176h1v2h-1zM17 197h1v3h-1zm0-7h1v5h-1zM18 206h1v2h-1zm0-13h1v4h-1zm0-5h1v3h-1zM19 204h1v2h-1zm0-9h1v2h-1zm0-5h1v1h-1zM20 198h1v2h-1zm0-10h1v5h-1zM21 191h1v2h-1zM22 193h1v2h-1zm0-7h1v4h-1zm0-5h1v4h-1zM23 186h1v2h-1zm0-17h1v1h-1zM24 190h1v1h-1zm0-7h1v3h-1zm0-5h1v3h-1zm0-18h1v1h-1zM25 188h1v2h-1zm0-15h1v3h-1zM26 164h1v1h-1zM27 180h1v1h-1zm0-13h1v2h-1zm0-7h1v5h-1zM28 173h1v2h-1zm0-11h1v3h-1zm0-2h1v1h-1zm0-3h1v1h-1zm0-3h1v1h-1zM29 165h1v2h-1zm0-3h1v2h-1zm0-8h1v1h-1zm0-5h1v3h-1zm0-5h1v1h-1zM30 158h1v2h-1zm0-3h1v2h-1zm0-6h1v2h-1zM31 162h1v3h-1zm0-4h1v2h-1zm0-6h1v2h-1zm0-7h1v2h-1zm0-5h1v1h-1z"/><path fill="#380962" d="M0 167h1v5h-1zm0-10h1v4h-1zm0-8h1v5h-1zm0-5h1v3h-1zM1 165h1v2h-1zm0-4h1v1h-1zM2 178h1v2h-1zm0-5h1v2h-1zm0-12h1v1h-1zM3 167h1v2h-1zM4 164h1v1h-1zM5 200h1v2h-1zm0-3h1v1h-1zm0-7h1v3h-1zm0-7h1v2h-1zm0-5h1v2h-1zM6 195h1v2h-1zM7 206h1v3h-1zm0-6h1v4h-1zM8 213h1v2h-1zM9 221h1v2h-1zm0-8h1v2h-1zm0-11h1v4h-1zM10 213h1v4h-1zm0-9h1v2h-1zM11 217h1v2h-1zm0-8h1v2h-1zm0-3h1v2h-1zm0-6h1v2h-1zM12 217h1v2h-1zm0-6h1v2h-1zm0-3h1v1h-1zM13 213h1v2h-1zM14 208h1v1h-1zM15 208h1v1h-1zm0-10h1v2h-1zm0-28h1v2h-1zM16 204h1v4h-1zm0-4h1v2h-1zm0-3h1v1h-1zm0-6h1v2h-1zM17 202h1v4h-1zM18 208h1v1h-1zm0-6h1v2h-1zm0-4h1v2h-1zM19 197h1v1h-1zm0-4h1v2h-1zm0-5h1v2h-1zM20 202h1v2h-1zm0-7h1v2h-1zM21 208h1v1h-1zm0-6h1v2h-1zm0-19h1v2h-1zM22 208h1v1h-1zm0-11h1v3h-1zm0-6h1v2h-1zM23 202h1v2h-1zm0-12h1v1h-1zM24 191h1v2h-1zm0-5h1v2h-1zm0-10h1v2h-1zM25 190h1v1h-1zm0-9h1v4h-1zm0-5h1v4h-1zM26 181h1v4h-1zm0-8h1v3h-1zm0-3h1v2h-1zm0-3h1v2h-1zm0-6h1v3h-1zm0-4h1v1h-1zM28 167h1v3h-1zm0-6h1v1h-1zm0-3h1v2h-1zm0-13h1v2h-1zM29 170h1v2h-1zm0-13h1v3h-1zM30 161h1v1h-1zm0-4h1v1h-1zM31 157h1v1h-1zm0-6h1v1h-1zm0-4h1v2h-1zm0-6h1v2h-1z"/><path fill="#3d0965" d="M0 183h1v2h-1zm0-22h1v1h-1zm0-7h1v1h-1zM1 170h1v2h-1zm0-13h1v1h-1zM2 183h1v2h-1zm0-11h1v1h-1zm0-10h1v2h-1zM3 180h1v1h-1zm0-5h1v3h-1zM4 193h1v2h-1zm0-5h1v2h-1zm0-12h1v2h-1zM5 193h1v4h-1zm0-8h1v5h-1zm0-9h1v2h-1zM6 206h1v2h-1zm0-6h1v4h-1zm0-3h1v1h-1zm0-4h1v2h-1zM7 209h1v2h-1zm0-5h1v2h-1zm0-6h1v2h-1zM8 221h1v2h-1zm0-4h1v2h-1zm0-8h1v2h-1zM9 234h1v2h-1zm0-25h1v4h-1zM10 223h1v2h-1zm0-15h1v1h-1zM11 229h1v2h-1zm0-6h1v4h-1zm0-4h1v2h-1zm0-6h1v2h-1zM12 221h1v4h-1zM13 225h1v2h-1zm0-10h1v2h-1zm0-9h1v2h-1zM14 209h1v2h-1zm0-9h1v2h-1zM15 204h1v2h-1zm0-4h1v2h-1zM16 209h1v2h-1zm0-7h1v2h-1zm0-4h1v2h-1zM17 209h1v2h-1zm0-24h1v1h-1zM19 227h1v2h-1zm0-19h1v1h-1zm0-10h1v2h-1zM20 211h1v2h-1zm0-3h1v1h-1zm0-4h1v2h-1zm0-4h1v2h-1zM21 198h1v4h-1zM22 206h1v2h-1zm0-26h1v1h-1zM23 195h1v5h-1zm0-4h1v2h-1zm0-6h1v1h-1zM24 198h1v2h-1zm0-5h1v4h-1zM25 197h1v1h-1zm0-17h1v1h-1zM26 178h1v3h-1zM27 197h1v1h-1zm0-22h1v5h-1zm0-5h1v3h-1zM28 178h1v2h-1zm0-3h1v1h-1zm0-5h1v2h-1zm0-5h1v2h-1zM29 173h1v2h-1zm0-6h1v2h-1zm0-3h1v1h-1zM30 173h1v2h-1zm0-4h1v1h-1zm0-5h1v1h-1zm0-4h1v1h-1zm0-6h1v1h-1zm0-6h1v1h-1zM31 154h1v1h-1z"/><path fill="#400a67" d="M0 176h1v2h-1zm0-12h1v1h-1zM1 164h1v1h-1zM2 190h1v1h-1zm0-10h1v1h-1zm0-5h1v1h-1zm0-6h1v1h-1zm0-5h1v3h-1zM3 186h1v2h-1zm0-8h1v2h-1zm0-8h1v3h-1zM4 195h1v3h-1zm0-12h1v2h-1zm0-5h1v2h-1zm0-9h1v1h-1zM5 204h1v2h-1zm0-6h1v2h-1zM6 208h1v1h-1zM7 225h1v2h-1zm0-6h1v2h-1zM8 215h1v2h-1zM9 227h1v2h-1zm0-8h1v2h-1zm0-4h1v2h-1zM10 217h1v2h-1zM11 221h1v2h-1zM12 240h1v2h-1zm0-11h1v5h-1zm0-16h1v4h-1zm0-7h1v2h-1zM13 221h1v2h-1zm0-4h1v2h-1zm0-8h1v4h-1zM14 225h1v2h-1zm0-6h1v2h-1zm0-4h1v2h-1zM15 213h1v2h-1zm0-7h1v2h-1zM16 208h1v1h-1zM17 211h1v2h-1zm0-3h1v1h-1zm0-8h1v2h-1zM18 215h1v4h-1zm0-4h1v2h-1zm0-11h1v2h-1zM19 219h1v2h-1zm0-6h1v4h-1zm0-11h1v2h-1zm0-11h1v2h-1zM20 213h1v2h-1zm0-4h1v2h-1zm0-3h1v2h-1zm0-9h1v1h-1zM21 197h1v1h-1zM22 200h1v4h-1zm0-5h1v2h-1zM24 200h1v4h-1zm0-3h1v1h-1zm0-9h1v2h-1zM25 191h1v2h-1zm0-6h1v3h-1zM26 198h1v2h-1zm0-12h1v4h-1zM27 173h1v2h-1zM28 176h1v2h-1zM29 178h1v3h-1zM30 162h1v2h-1zM31 180h1v3h-1zm0-7h1v3h-1zm0-3h1v2h-1zm0-3h1v2h-1zm0-6h1v1h-1z"/><path fill="#450a69" d="M0 185h1v1h-1zm0-12h1v2h-1zm0-8h1v2h-1zM1 178h1v3h-1zm0-5h1v2h-1zm0-6h1v3h-1zM2 193h1v2h-1zm0-12h1v2h-1zm0-5h1v2h-1zm0-6h1v2h-1zM3 190h1v1h-1zm0-5h1v1h-1zm0-4h1v2h-1zM4 198h1v2h-1zm0-13h1v1h-1zm0-5h1v1h-1zM5 215h1v2h-1zm0-7h1v3h-1zm0-6h1v2h-1zM6 217h1v2h-1zm0-6h1v2h-1zM7 211h1v6h-1zM8 229h1v2h-1zm0-23h1v2h-1zM9 229h1v5h-1zM10 225h1v4h-1zm0-6h1v2h-1zM11 227h1v2h-1zm0-16h1v2h-1zM12 234h1v2h-1zm0-9h1v4h-1zM13 227h1v2h-1zm0-4h1v2h-1zM14 223h1v2h-1zm0-6h1v2h-1zM15 219h1v2h-1zM16 221h1v2h-1zm0-10h1v2h-1zM17 215h1v2h-1zm0-9h1v2h-1zM18 213h1v2h-1zm0-4h1v2h-1zm0-5h1v2h-1zM19 221h1v2h-1zm0-12h1v2h-1zM20 217h1v2h-1zm0-24h1v2h-1zM21 211h1v6h-1zm0-7h1v4h-1zm0-9h1v2h-1zM22 211h1v4h-1zm0-7h1v2h-1zM23 211h1v4h-1zm0-7h1v4h-1zm0-4h1v2h-1zM24 204h1v2h-1zM25 193h1v4h-1zM26 200h1v2h-1zm0-7h1v2h-1zm0-8h1v1h-1zM27 191h1v2h-1zM28 183h1v3h-1zm0-11h1v1h-1zM29 186h1v2h-1zm0-5h1v2h-1zm0-5h1v2h-1zm0-7h1v1h-1zM30 185h1v1h-1zm0-5h1v1h-1zm0-5h1v1h-1zm0-8h1v2h-1zM31 176h1v2h-1zm0-4h1v1h-1zm0-3h1v1h-1zm0-4h1v2h-1zm0-10h1v2h-1z"/><path fill="#4a0c6b" d="M0 178h1v3h-1zm0-3h1v1h-1zm0-3h1v1h-1zM1 191h1v2h-1zm0-5h1v2h-1zm0-3h1v2h-1zm0-8h1v1h-1zm0-3h1v1h-1zM2 186h1v2h-1zM3 197h1v1h-1zm0-6h1v4h-1zm0-3h1v2h-1zm0-5h1v2h-1zM4 200h1v2h-1zm0-14h1v2h-1zM5 213h1v2h-1zM6 215h1v2h-1zm0-11h1v2h-1zM7 217h1v2h-1zM8 242h1v3h-1zm0-17h1v2h-1zm0-6h1v2h-1zM9 240h1v2h-1zm0-4h1v2h-1zm0-11h1v2h-1zM10 236h1v2h-1zm0-5h1v3h-1zm0-10h1v2h-1zM12 249h1v3h-1zm0-30h1v2h-1zM13 231h1v3h-1zm0-12h1v2h-1zM14 221h1v2h-1zm0-8h1v2h-1zM15 221h1v2h-1zm0-6h1v2h-1zM16 223h1v2h-1zM17 223h1v4h-1zm0-6h1v4h-1zm0-4h1v2h-1zM18 219h1v2h-1zM19 211h1v2h-1zm0-5h1v2h-1zM21 217h1v2h-1zM22 225h1v2h-1zm0-16h1v2h-1zM23 221h1v2h-1zm0-13h1v3h-1zM24 211h1v2h-1zm0-5h1v3h-1zM25 202h1v6h-1zm0-4h1v2h-1zM26 206h1v3h-1zm0-4h1v2h-1zm0-12h1v1h-1zm0-14h1v2h-1zM27 195h1v2h-1zm0-7h1v3h-1zm0-7h1v5h-1zM28 190h1v5h-1zm0-4h1v2h-1zm0-6h1v3h-1zM29 185h1v1h-1zm0-10h1v1h-1zM30 181h1v2h-1zm0-11h1v2h-1zM31 190h1v1h-1z"/><path fill="#4d0d6c" d="M0 191h1v2h-1zm0-3h1v2h-1zm0-7h1v2h-1zM1 193h1v2h-1zm0-5h1v2h-1zm0-7h1v2h-1zM2 188h1v2h-1zM3 202h1v2h-1zM4 206h1v2h-1zM5 206h1v2h-1zM7 221h1v2h-1zM8 231h1v3h-1zm0-4h1v2h-1zm0-4h1v2h-1zM9 217h1v2h-1zM10 242h1v3h-1zm0-8h1v2h-1zm0-5h1v2h-1zM11 247h1v2h-1zm0-9h1v4h-1zm0-7h1v5h-1zM12 252h1v2h-1zm0-7h1v2h-1zm0-9h1v2h-1zM15 231h1v3h-1zm0-6h1v4h-1zm0-8h1v2h-1zM16 227h1v2h-1zm0-14h1v8h-1zM17 221h1v2h-1zM18 221h1v4h-1zM19 231h1v5h-1zm0-8h1v2h-1zM20 219h1v4h-1zm0-4h1v2h-1zM21 234h1v2h-1zm0-9h1v2h-1zm0-16h1v2h-1zM22 223h1v2h-1zM25 213h1v2h-1zM26 209h1v4h-1zm0-14h1v3h-1zM27 198h1v4h-1zm0-5h1v2h-1zm0-7h1v2h-1zM28 188h1v2h-1zM30 188h1v3h-1zm0-12h1v2h-1zm0-4h1v1h-1zm0-7h1v2h-1zM31 185h1v3h-1zm0-7h1v2h-1z"/><path fill="#520e6d" d="M0 200h1v2h-1zm0-14h1v2h-1zM2 204h1v2h-1zm0-6h1v2h-1zm0-7h1v2h-1zm0-6h1v1h-1zM3 198h1v4h-1zM4 211h1v2h-1zm0-9h1v4h-1zm0-12h1v3h-1zM5 221h1v2h-1zm0-10h1v2h-1zM6 221h1v4h-1zm0-8h1v2h-1zm0-4h1v2h-1zM7 238h1v2h-1zm0-4h1v2h-1zm0-11h1v2h-1zM8 236h1v6h-1zM9 252h1v2h-1zm0-10h1v5h-1zm0-19h1v2h-1zM10 259h1v2h-1zm0-5h1v2h-1zm0-9h1v2h-1zm0-7h1v4h-1zM12 238h1v2h-1zM13 242h1v3h-1zm0-8h1v6h-1zm0-5h1v2h-1zM14 236h1v2h-1zm0-9h1v2h-1zM15 238h1v2h-1zm0-9h1v2h-1zM16 234h1v2h-1zm0-5h1v2h-1zm0-4h1v2h-1zM17 231h1v5h-1zM18 240h1v2h-1zm0-9h1v3h-1zm0-4h1v2h-1zM19 229h1v2h-1zM21 227h1v2h-1zm0-6h1v2h-1zM22 219h1v4h-1zm0-4h1v2h-1zM23 227h1v2h-1zm0-4h1v2h-1zm0-8h1v6h-1zM24 215h1v2h-1zM25 209h1v2h-1zm0-9h1v2h-1zM26 191h1v2h-1zM27 202h1v2h-1zM28 202h1v4h-1zM29 195h1v2h-1zm0-7h1v3h-1zm0-5h1v2h-1zM30 183h1v2h-1zM31 202h1v2h-1z"/><path fill="#57106e" d="M0 193h1v4h-1zm0-3h1v1h-1zM1 198h1v2h-1zm0-3h1v2h-1zm0-10h1v1h-1zM2 195h1v2h-1zM3 206h1v2h-1zM4 208h1v1h-1zM5 219h1v2h-1zM6 219h1v2h-1zM7 231h1v3h-1zm0-4h1v2h-1zM9 238h1v2h-1zM11 264h1v2h-1zM12 254h1v5h-1zm0-7h1v2h-1zm0-5h1v3h-1zM13 240h1v2h-1zM14 242h1v3h-1zm0-13h1v5h-1zM15 245h1v2h-1zm0-5h1v2h-1zm0-17h1v2h-1zM16 252h1v2h-1zM17 227h1v2h-1zM18 236h1v2h-1zm0-7h1v2h-1zM19 225h1v2h-1zm0-8h1v2h-1zM20 223h1v4h-1zM21 229h1v2h-1zm0-10h1v2h-1zM22 229h1v2h-1zM24 217h1v2h-1zm0-8h1v2h-1zM25 225h1v2h-1zm0-10h1v2h-1zm0-7h1v1h-1zM26 217h1v2h-1zm0-4h1v2h-1zM27 206h1v2h-1zM28 211h1v2h-1zm0-11h1v2h-1zm0-3h1v1h-1zM29 197h1v5h-1zm0-6h1v4h-1zm0-19h1v1h-1zM30 193h1v5h-1zm0-7h1v2h-1zm0-8h1v2h-1zM31 197h1v1h-1zm0-9h1v2h-1zm0-5h1v2h-1z"/><path fill="#5a116e" d="M0 202h1v2h-1zM1 197h1v1h-1zM2 197h1v1h-1zM3 208h1v1h-1zm0-13h1v2h-1zM5 223h1v2h-1zM6 225h1v11h-1zM7 242h1v5h-1zm0-6h1v2h-1zM8 256h1v3h-1zM9 254h1v5h-1zM10 266h1v3h-1zm0-17h1v3h-1zM11 249h1v3h-1zm0-7h1v3h-1zm0-6h1v2h-1zM14 245h1v2h-1zm0-7h1v2h-1zm0-4h1v2h-1zM15 254h1v2h-1zm0-12h1v3h-1zm0-8h1v2h-1zM16 249h1v3h-1zm0-7h1v5h-1zm0-6h1v2h-1zM17 236h1v4h-1zM18 245h1v2h-1zm0-20h1v2h-1zM19 242h1v3h-1zM20 231h1v3h-1zm0-4h1v2h-1zM21 223h1v2h-1zM23 231h1v3h-1zM24 223h1v4h-1zm0-4h1v2h-1zm0-6h1v2h-1zM25 217h1v4h-1zm0-6h1v2h-1zM26 204h1v2h-1zM27 204h1v2h-1zM28 206h1v3h-1zm0-8h1v2h-1zm0-3h1v2h-1zM29 204h1v2h-1zM30 206h1v2h-1zm0-8h1v2h-1zm0-7h1v2h-1z"/><path fill="#5f136e" d="M0 213h1v2h-1zm0-9h1v2h-1zm0-6h1v2h-1zM1 211h1v2h-1zm0-5h1v2h-1zm0-6h1v4h-1zm0-10h1v1h-1zM2 208h1v1h-1zm0-8h1v2h-1zM3 217h1v2h-1zm0-13h1v2h-1zM4 213h1v4h-1zm0-4h1v2h-1zM5 227h1v4h-1zm0-10h1v2h-1zM6 236h1v2h-1zM7 240h1v2h-1zm0-11h1v2h-1zM8 266h1v3h-1zm0-14h1v4h-1zm0-5h1v2h-1zm0-13h1v2h-1zM9 264h1v2h-1zm0-17h1v2h-1zM10 252h1v2h-1zM11 252h1v7h-1zM13 259h1v2h-1zm0-14h1v7h-1zM14 254h1v5h-1zM15 236h1v2h-1zM17 254h1v2h-1zM18 247h1v2h-1zm0-5h1v3h-1zm0-4h1v2h-1zm0-4h1v2h-1zM19 256h1v3h-1zm0-9h1v2h-1zm0-11h1v4h-1zM20 242h1v3h-1zm0-6h1v2h-1zM21 242h1v3h-1zm0-11h1v3h-1zM22 236h1v2h-1zm0-9h1v2h-1zm0-10h1v2h-1zM23 225h1v2h-1zM24 221h1v2h-1zM25 221h1v2h-1zM26 215h1v2h-1zM27 208h1v1h-1zM28 215h1v2h-1zM29 209h1v2h-1zm0-3h1v2h-1zm0-4h1v2h-1zM30 208h1v1h-1zM31 200h1v2h-1zm0-9h1v6h-1z"/><path fill="#64156e" d="M0 206h1v7h-1zm0-9h1v1h-1zM1 208h1v3h-1zM2 215h1v2h-1zm0-4h1v2h-1zm0-5h1v2h-1zm0-4h1v2h-1zM3 209h1v2h-1zM4 229h1v2h-1zM6 256h1v3h-1zm0-18h1v2h-1zM7 256h1v3h-1zM9 266h1v3h-1zm0-7h1v2h-1zM10 256h1v3h-1zm0-9h1v2h-1zM11 261h1v3h-1zm0-16h1v2h-1zM12 264h1v2h-1zm0-5h1v2h-1zM13 252h1v2h-1zM14 259h1v2h-1zm0-12h1v2h-1zm0-7h1v2h-1zM15 247h1v2h-1zM16 256h1v3h-1zm0-18h1v2h-1zm0-7h1v3h-1zM17 242h1v5h-1zm0-13h1v2h-1zM18 249h1v3h-1zM20 238h1v2h-1zm0-4h1v2h-1zM21 238h1v2h-1zM22 247h1v2h-1zm0-16h1v3h-1zM23 229h1v2h-1zM24 227h1v2h-1zM25 238h1v2h-1zm0-11h1v2h-1zM26 223h1v2h-1zm0-4h1v2h-1zM27 217h1v2h-1zm0-8h1v2h-1zM29 215h1v2h-1zm0-4h1v2h-1zM30 200h1v4h-1zM31 208h1v3h-1zm0-10h1v2h-1z"/><path fill="#67166e" d="M3 221h1v2h-1zm0-6h1v2h-1zM4 223h1v4h-1zm0-6h1v2h-1zM5 231h1v3h-1zM6 242h1v3h-1zM7 259h1v2h-1zm0-7h1v2h-1zm0-5h1v2h-1zM8 259h1v2h-1zm0-10h1v3h-1zM9 274h1v3h-1zM10 261h1v3h-1zM11 259h1v2h-1zM12 261h1v3h-1zM13 264h1v2h-1zm0-8h1v3h-1zM14 274h1v3h-1zm0-22h1v2h-1zM16 247h1v2h-1zm0-7h1v2h-1zM17 249h1v3h-1zM18 252h1v7h-1zM19 240h1v2h-1zM20 249h1v3h-1zm0-9h1v2h-1zm0-11h1v2h-1zM21 247h1v2h-1zM22 256h1v3h-1zm0-22h1v2h-1zM23 245h1v2h-1zm0-9h1v2h-1zM24 240h1v2h-1zm0-9h1v3h-1zM25 229h1v5h-1zm0-6h1v2h-1zM27 215h1v2h-1zM28 217h1v2h-1zm0-4h1v2h-1zm0-4h1v2h-1zM29 213h1v2h-1zm0-5h1v1h-1zM30 204h1v2h-1zM31 204h1v2h-1z"/><path fill="#6c186e" d="M1 217h1v2h-1zm0-4h1v2h-1zm0-9h1v2h-1zM2 217h1v4h-1zm0-4h1v2h-1zm0-4h1v2h-1zM3 211h1v2h-1zM6 259h1v2h-1zM7 264h1v5h-1zm0-10h1v2h-1zm0-5h1v3h-1zM8 264h1v2h-1zm0-19h1v2h-1zM9 269h1v2h-1zm0-20h1v3h-1zM10 277h1v2h-1zm0-8h1v5h-1zm0-5h1v2h-1zM11 274h1v3h-1zm0-8h1v3h-1zM12 269h1v2h-1zM13 274h1v3h-1zm0-20h1v2h-1zM14 277h1v2h-1zm0-16h1v5h-1zm0-12h1v3h-1zM15 256h1v3h-1zM17 271h1v3h-1zm0-15h1v3h-1zm0-16h1v2h-1zM19 264h1v2h-1zM20 245h1v2h-1zM21 249h1v3h-1zm0-9h1v2h-1zm0-4h1v2h-1zM22 245h1v2h-1zm0-5h1v2h-1zM23 249h1v3h-1zM24 247h1v2h-1zm0-13h1v4h-1zM26 221h1v2h-1zM27 211h1v4h-1zM30 217h1v2h-1zm0-4h1v2h-1zm0-4h1v2h-1zM31 219h1v2h-1zm0-8h1v2h-1zm0-5h1v2h-1z"/><path fill="#71196e" d="M1 219h1v2h-1zM3 219h1v2h-1zM4 234h1v2h-1zm0-15h1v4h-1zM5 240h1v2h-1zm0-4h1v2h-1zm0-11h1v2h-1zM6 252h1v2h-1zm0-7h1v2h-1zm0-5h1v2h-1zM7 277h1v2h-1zM8 269h1v8h-1zM9 282h1v3h-1zM10 290h1v3h-1zM11 269h1v5h-1zM12 274h1v3h-1zm0-8h1v3h-1zM13 269h1v2h-1zM14 271h1v3h-1zM15 274h1v3h-1zm0-25h1v3h-1zM16 261h1v3h-1zm0-7h1v2h-1zM17 259h1v2h-1zm0-7h1v2h-1zm0-5h1v2h-1zM18 261h1v3h-1zM19 254h1v2h-1zm0-9h1v2h-1zM20 252h1v2h-1zM21 252h1v2h-1zm0-7h1v2h-1zM22 242h1v3h-1zm0-4h1v2h-1zM23 242h1v3h-1zm0-8h1v2h-1zM24 242h1v3h-1zm0-4h1v2h-1zm0-9h1v2h-1zM26 225h1v2h-1zM27 221h1v2h-1zM28 225h1v2h-1zm0-6h1v4h-1zM29 217h1v2h-1zM30 215h1v2h-1zm0-4h1v2h-1zM31 215h1v2h-1z"/><path fill="#741a6e" d="M1 215h1v2h-1zM2 227h1v2h-1zm0-4h1v2h-1zM3 236h1v2h-1zm0-11h1v2h-1zm0-12h1v2h-1zM5 256h1v3h-1zm0-7h1v3h-1zm0-4h1v2h-1zm0-7h1v2h-1zm0-4h1v2h-1zM6 247h1v5h-1zM7 271h1v3h-1zM8 279h1v3h-1zM10 279h1v3h-1zM11 290h1v3h-1zm0-8h1v3h-1zM12 282h1v5h-1zm0-5h1v2h-1zm0-6h1v3h-1zM13 277h1v5h-1zm0-6h1v3h-1zm0-5h1v3h-1zm0-5h1v3h-1zM14 279h1v3h-1zm0-13h1v3h-1zM15 269h1v2h-1zM16 264h1v2h-1zM17 277h1v2h-1zm0-16h1v3h-1zM18 274h1v3h-1zM19 259h1v2h-1zM20 256h1v5h-1zm0-9h1v2h-1zM21 261h1v3h-1zM24 254h1v2h-1zM25 236h1v2h-1zM26 234h1v2h-1zM27 227h1v2h-1zM28 227h1v2h-1zM31 217h1v2h-1zm0-4h1v2h-1z"/><path fill="#781c6d" d="M0 215h1v2h-1zM1 225h1v2h-1zM2 221h1v2h-1zM3 231h1v3h-1zm0-8h1v2h-1zM4 227h1v2h-1zM5 247h1v2h-1zm0-5h1v3h-1zM6 264h1v2h-1zM7 285h1v2h-1zm0-11h1v3h-1zm0-5h1v2h-1zM8 277h1v2h-1zm0-16h1v3h-1zM9 293h1v3h-1zm0-32h1v3h-1zM10 287h1v3h-1zM11 293h1v3h-1zm0-8h1v2h-1zm0-8h1v2h-1zM12 279h1v3h-1zM13 282h1v3h-1zM14 282h1v5h-1zM15 271h1v3h-1zm0-7h1v2h-1zm0-5h1v2h-1zm0-7h1v2h-1zM16 282h1v3h-1zm0-16h1v5h-1zm0-7h1v2h-1zM18 259h1v2h-1zM19 249h1v5h-1zM20 264h1v2h-1zM21 271h1v3h-1zm0-7h1v2h-1zM22 249h1v3h-1zM23 256h1v5h-1zm0-4h1v2h-1zm0-5h1v2h-1zm0-9h1v2h-1zM26 236h1v2h-1zm0-5h1v3h-1zm0-4h1v2h-1zM27 223h1v2h-1zm0-4h1v2h-1zM28 229h1v2h-1zM29 221h1v4h-1zM30 223h1v2h-1zM31 225h1v2h-1z"/><path fill="#7d1e6d" d="M0 231h1v3h-1zm0-8h1v2h-1zm0-6h1v2h-1zM1 223h1v2h-1zM2 225h1v2h-1zM4 238h1v2h-1zm0-7h1v3h-1zM6 269h1v2h-1zm0-8h1v3h-1zM7 261h1v3h-1zM8 282h1v3h-1zM9 277h1v5h-1zm0-6h1v3h-1zM10 302h1v3h-1zm0-20h1v3h-1zm0-8h1v3h-1zM12 290h1v3h-1zM13 296h1v3h-1zM15 277h1v2h-1zm0-16h1v3h-1zM17 269h1v2h-1zM18 266h1v3h-1zM19 261h1v3h-1zM20 266h1v3h-1zm0-12h1v2h-1zM21 254h1v2h-1zM22 274h1v3h-1zm0-5h1v2h-1zm0-8h1v3h-1zm0-9h1v4h-1zM23 274h1v3h-1zm0-10h1v2h-1zm0-24h1v2h-1zM24 259h1v2h-1zM25 245h1v2h-1zM26 229h1v2h-1zM27 234h1v2h-1zm0-5h1v2h-1zm0-4h1v2h-1zM29 219h1v2h-1zM30 219h1v4h-1z"/><path fill="#801f6c" d="M0 219h1v2h-1zM1 229h1v2h-1zM2 231h1v3h-1zM3 238h1v2h-1zm0-4h1v2h-1zm0-7h1v4h-1zM4 245h1v2h-1zm0-5h1v2h-1zM5 261h1v3h-1zm0-9h1v2h-1zM6 254h1v2h-1zM9 290h1v3h-1zm0-5h1v2h-1zM10 285h1v2h-1zM11 302h1v3h-1zM14 287h1v3h-1zm0-18h1v2h-1zM15 293h1v3h-1zM16 285h1v2h-1zm0-11h1v3h-1zM17 264h1v5h-1zM18 269h1v5h-1zM19 279h1v3h-1zM20 277h1v2h-1zm0-8h1v2h-1zM21 256h1v5h-1zM23 261h1v3h-1zm0-7h1v2h-1zM24 249h1v5h-1zm0-4h1v2h-1zM25 249h1v3h-1zm0-9h1v5h-1zm0-6h1v2h-1zM26 245h1v4h-1zm0-7h1v2h-1zM28 231h1v3h-1zM31 221h1v4h-1z"/><path fill="#85216b" d="M0 221h1v2h-1zM1 238h1v2h-1zm0-11h1v2h-1zM2 236h1v2h-1zm0-7h1v2h-1zM4 242h1v3h-1zm0-6h1v2h-1zM6 271h1v3h-1zM7 282h1v3h-1zM8 293h1v6h-1zM10 299h1v3h-1zM12 302h1v3h-1zm0-9h1v3h-1zM13 293h1v3h-1zM15 302h1v3h-1zm0-12h1v3h-1zm0-5h1v2h-1zm0-6h1v3h-1zm0-13h1v3h-1zM16 287h1v3h-1zm0-10h1v2h-1zM18 285h1v2h-1zm0-8h1v2h-1zM19 266h1v8h-1zM20 271h1v3h-1zM21 266h1v5h-1zM22 271h1v3h-1zm0-7h1v5h-1zm0-5h1v2h-1zM24 264h1v2h-1zM28 236h1v2h-1zm0-13h1v2h-1zM29 225h1v2h-1zM30 229h1v2h-1zm0-4h1v2h-1zM31 234h1v2h-1zm0-7h1v2h-1z"/><path fill="#8a226a" d="M0 225h1v2h-1zM1 236h1v2h-1zm0-15h1v2h-1zM2 234h1v2h-1zM4 247h1v2h-1zM5 277h1v2h-1zm0-13h1v5h-1zm0-10h1v2h-1zM6 266h1v3h-1zM7 293h1v3h-1zm0-14h1v3h-1zM8 311h1v4h-1zm0-24h1v3h-1zM9 305h1v3h-1zm0-6h1v3h-1zm0-12h1v3h-1zM10 293h1v3h-1zM11 279h1v3h-1zM12 296h1v3h-1zM13 287h1v3h-1zM15 282h1v3h-1zM16 271h1v3h-1zM17 274h1v3h-1zM18 282h1v3h-1zm0-18h1v2h-1zM20 261h1v3h-1zM21 279h1v3h-1zM22 282h1v3h-1zM23 266h1v5h-1zM24 271h1v6h-1zm0-5h1v3h-1zm0-5h1v3h-1zM25 247h1v2h-1zM26 240h1v5h-1zM27 236h1v4h-1zm0-5h1v3h-1zM28 234h1v2h-1z"/><path fill="#8d2369" d="M0 234h1v2h-1zm0-7h1v4h-1zM1 234h1v2h-1zM2 247h1v5h-1zM5 259h1v2h-1zM6 296h1v3h-1zm0-22h1v5h-1zM8 285h1v2h-1zM9 308h1v3h-1zM11 299h1v3h-1zM12 299h1v3h-1zM13 290h1v3h-1zm0-5h1v2h-1zM16 296h1v3h-1zM17 293h1v6h-1zM19 274h1v3h-1zM20 287h1v3h-1zm0-8h1v3h-1zM21 274h1v3h-1zM22 277h1v2h-1zM23 277h1v5h-1zM25 254h1v2h-1zM26 249h1v3h-1zM27 242h1v3h-1zM28 240h1v2h-1zM29 238h1v2h-1zm0-4h1v2h-1zm0-5h1v2h-1zM30 227h1v2h-1zM31 245h1v2h-1zm0-16h1v2h-1z"/><path fill="#922568" d="M1 231h1v3h-1zM3 247h1v2h-1zm0-5h1v3h-1zM4 256h1v3h-1zm0-7h1v3h-1zM5 269h1v2h-1zM6 279h1v8h-1zM8 290h1v3h-1zM10 305h1v3h-1zm0-9h1v3h-1zM11 308h1v3h-1zm0-12h1v3h-1zM12 308h1v3h-1zm0-21h1v3h-1zM13 299h1v3h-1zM14 290h1v3h-1zM15 287h1v3h-1zM16 279h1v3h-1zM17 279h1v3h-1zM18 287h1v3h-1zm0-8h1v3h-1zM19 277h1v2h-1zM20 282h1v3h-1zm0-8h1v3h-1zM21 287h1v3h-1zm0-5h1v3h-1zM23 285h1v2h-1zm0-14h1v3h-1zM24 269h1v2h-1zm0-13h1v3h-1zM25 271h1v3h-1zm0-10h1v3h-1zm0-9h1v2h-1zM26 261h1v3h-1zm0-9h1v2h-1zM27 254h1v2h-1zm0-14h1v2h-1zM28 238h1v2h-1zM29 240h1v2h-1zm0-9h1v3h-1zm0-4h1v2h-1zM30 231h1v3h-1zM31 231h1v3h-1z"/><path fill="#972766" d="M0 242h1v3h-1zM1 240h1v2h-1zM2 242h1v3h-1zM3 259h1v2h-1zm0-10h1v3h-1zm0-4h1v2h-1zm0-5h1v2h-1zM5 279h1v3h-1zM6 293h1v3h-1zm0-6h1v3h-1zM7 296h1v3h-1zm0-9h1v6h-1zM8 315h1v3h-1zM9 318h1v3h-1zm0-16h1v3h-1zM10 311h1v7h-1zM11 321h1v4h-1zm0-6h1v3h-1zM12 321h1v4h-1zM14 318h1v3h-1zM15 299h1v3h-1zM17 282h1v8h-1zM18 296h1v6h-1zm0-6h1v3h-1zM19 287h1v6h-1zM21 290h1v3h-1zM22 285h1v5h-1zm0-6h1v3h-1zM23 308h1v3h-1zM25 274h1v3h-1zm0-10h1v2h-1zm0-8h1v3h-1zM26 259h1v2h-1zm0-5h1v2h-1zM27 252h1v2h-1zm0-7h1v4h-1zM28 242h1v3h-1zM29 242h1v3h-1zM30 240h1v5h-1zm0-4h1v2h-1z"/><path fill="#9a2865" d="M0 236h1v4h-1zM2 238h1v4h-1zM3 261h1v3h-1zm0-9h1v2h-1zM4 252h1v4h-1zM5 290h1v3h-1zM7 311h1v4h-1zm0-6h1v3h-1zm0-6h1v3h-1zM8 308h1v3h-1zm0-9h1v3h-1zM9 296h1v3h-1zM10 321h1v7h-1zM11 311h1v4h-1zm0-6h1v3h-1zm0-18h1v3h-1zM12 311h1v4h-1zM13 311h1v4h-1zm0-9h1v3h-1zM14 302h1v6h-1zm0-6h1v3h-1zM15 311h1v4h-1zm0-15h1v3h-1zM16 302h1v3h-1zM17 299h1v6h-1zm0-9h1v3h-1zM19 296h1v3h-1zm0-14h1v5h-1zM21 293h1v3h-1zm0-16h1v2h-1zM22 296h1v3h-1zM23 293h1v3h-1zM24 287h1v3h-1zm0-8h1v6h-1zM25 277h1v2h-1zm0-8h1v2h-1zm0-10h1v2h-1zM26 266h1v3h-1zM27 249h1v3h-1zM28 252h1v2h-1zM29 236h1v2h-1zM30 252h1v2h-1zm0-18h1v2h-1zM31 236h1v4h-1z"/><path fill="#9f2a63" d="M1 247h1v5h-1zM3 254h1v2h-1zM4 274h1v3h-1zm0-8h1v5h-1zm0-7h1v2h-1zM6 305h1v3h-1zM8 318h1v3h-1zm0-13h1v3h-1zM9 311h1v4h-1zM11 325h1v3h-1zM12 342h1v4h-1zm0-27h1v3h-1zM13 321h1v4h-1zm0-6h1v3h-1zm0-10h1v3h-1zM14 308h1v7h-1zm0-9h1v3h-1zm0-6h1v3h-1zM15 315h1v3h-1zM16 305h1v10h-1zm0-6h1v3h-1zM20 293h1v3h-1zm0-8h1v2h-1zM21 285h1v2h-1zM22 290h1v6h-1zM23 296h1v3h-1zM24 277h1v2h-1zM26 271h1v3h-1zm0-15h1v3h-1zM27 264h1v2h-1zm0-8h1v3h-1zM28 245h1v4h-1zM29 247h1v2h-1z"/><path fill="#a32c61" d="M0 249h1v3h-1zm0-9h1v2h-1zM1 252h1v4h-1zM2 261h1v3h-1zm0-9h1v2h-1zm0-7h1v2h-1zM3 266h1v3h-1zM4 264h1v2h-1zM5 299h1v3h-1zm0-12h1v3h-1zm0-16h1v3h-1zM6 299h1v3h-1zm0-9h1v3h-1zM7 315h1v3h-1zm0-13h1v3h-1zM8 302h1v3h-1zM9 328h1v4h-1zm0-13h1v3h-1zM10 308h1v3h-1zM12 328h1v7h-1zm0-10h1v3h-1zM13 328h1v4h-1zM15 305h1v3h-1zM16 290h1v3h-1zM17 311h1v4h-1zM19 299h1v9h-1zm0-6h1v3h-1zM20 311h1v4h-1zm0-21h1v3h-1zM22 305h1v3h-1zM23 287h1v6h-1zm0-5h1v3h-1zM24 290h1v3h-1zm0-5h1v2h-1zM25 285h1v2h-1zm0-19h1v3h-1zM26 269h1v2h-1zM27 259h1v2h-1zM29 245h1v2h-1zM31 247h1v2h-1z"/><path fill="#a62d60" d="M0 254h1v2h-1zm0-7h1v2h-1zM1 256h1v3h-1zm0-11h1v2h-1zM3 264h1v2h-1zm0-8h1v3h-1zM4 277h1v2h-1zM5 293h1v3h-1zm0-11h1v3h-1zm0-8h1v3h-1zM7 308h1v3h-1zM9 325h1v3h-1zM11 318h1v3h-1zM12 305h1v3h-1zM13 325h1v3h-1zm0-7h1v3h-1zm0-10h1v3h-1zM14 332h1v3h-1zm0-7h1v3h-1zM17 305h1v6h-1zM18 302h1v6h-1zm0-9h1v3h-1zM20 302h1v3h-1zm0-6h1v3h-1zM21 302h1v6h-1zM22 299h1v3h-1zM23 299h1v3h-1zM24 293h1v3h-1zM25 279h1v3h-1zM26 282h1v3h-1zm0-5h1v2h-1zM27 266h1v3h-1zm0-5h1v3h-1zM28 264h1v2h-1zm0-10h1v5h-1zM29 249h1v3h-1zM30 256h1v3h-1zm0-7h1v3h-1zm0-11h1v2h-1zM31 240h1v5h-1z"/><path fill="#ab2f5e" d="M0 252h1v2h-1zM4 261h1v3h-1zM5 296h1v3h-1zm0-11h1v2h-1zM6 308h1v3h-1zM10 342h1v4h-1zm0-10h1v3h-1zm0-14h1v3h-1zM12 335h1v4h-1zM15 318h1v7h-1zM16 293h1v3h-1zM18 315h1v3h-1zm0-7h1v3h-1zM20 299h1v3h-1zM21 308h1v7h-1zM24 299h1v3h-1zM25 296h1v3h-1zm0-9h1v3h-1zM26 264h1v2h-1zM28 259h1v2h-1zm0-10h1v3h-1zM29 256h1v3h-1zM30 245h1v2h-1z"/><path fill="#b0315b" d="M0 266h1v3h-1zm0-21h1v2h-1zM1 242h1v3h-1zM2 264h1v5h-1zm0-5h1v2h-1zm0-5h1v2h-1zM3 269h1v5h-1zM4 287h1v3h-1zm0-8h1v3h-1zM6 315h1v6h-1zm0-13h1v3h-1zM8 321h1v4h-1zM9 335h1v7h-1zm0-14h1v4h-1zM11 339h1v3h-1zm0-11h1v4h-1zM13 332h1v3h-1zM15 308h1v3h-1zM16 318h1v3h-1zM18 318h1v3h-1zm0-7h1v4h-1zM19 315h1v3h-1zM20 305h1v3h-1zM21 296h1v6h-1zM22 302h1v3h-1zM23 305h1v3h-1zM28 266h1v5h-1zM29 274h1v3h-1zM30 259h1v2h-1zm0-12h1v2h-1zM31 261h1v3h-1zm0-12h1v5h-1z"/><path fill="#b3325a" d="M2 282h1v3h-1zm0-26h1v3h-1zM3 274h1v3h-1zM4 271h1v3h-1zM7 328h1v4h-1zm0-10h1v3h-1zM8 328h1v7h-1zM10 354h1v4h-1zm0-15h1v3h-1zm0-11h1v4h-1zM11 342h1v4h-1zm0-10h1v3h-1zM12 339h1v3h-1zm0-14h1v3h-1zM14 335h1v4h-1zm0-20h1v3h-1zM16 315h1v3h-1zM18 321h1v4h-1zM19 321h1v7h-1zm0-13h1v7h-1zM21 321h1v7h-1zM22 325h1v3h-1zm0-10h1v3h-1zM25 290h1v6h-1zm0-8h1v3h-1zM26 274h1v3h-1zM27 277h1v2h-1zm0-8h1v2h-1zM28 282h1v3h-1zm0-21h1v3h-1zM29 259h1v2h-1zM30 266h1v3h-1zM31 254h1v7h-1z"/><path fill="#b73557" d="M0 261h1v5h-1zM1 282h1v3h-1zm0-18h1v2h-1zm0-5h1v2h-1zM2 274h1v3h-1zM3 282h1v5h-1zm0-5h1v2h-1zM4 293h1v3h-1zm0-11h1v3h-1zM6 321h1v4h-1zm0-10h1v4h-1zM7 325h1v3h-1zM8 342h1v8h-1zm0-17h1v3h-1zM9 342h1v4h-1zM10 335h1v4h-1zM11 335h1v4h-1zM14 328h1v4h-1zm0-7h1v4h-1zM15 342h1v4h-1zM16 321h1v4h-1zM17 332h1v3h-1zm0-11h1v7h-1zm0-6h1v3h-1zM18 332h1v3h-1zM19 318h1v3h-1zM22 321h1v4h-1zm0-10h1v4h-1zM23 315h1v3h-1zM24 302h1v6h-1zM25 302h1v3h-1zM27 282h1v3h-1zm0-11h1v3h-1zM28 279h1v3h-1zm0-8h1v3h-1zM29 269h1v2h-1zM30 254h1v2h-1zM31 269h1v2h-1z"/><path fill="#bc3754" d="M0 256h1v5h-1zM1 271h1v3h-1zm0-5h1v3h-1zm0-5h1v3h-1zM3 287h1v3h-1zm0-8h1v3h-1zM4 299h1v3h-1zM7 332h1v3h-1zM8 350h1v8h-1zM9 332h1v3h-1zM11 362h1v4h-1zM12 346h1v4h-1zM13 339h1v7h-1zM14 342h1v8h-1zM15 339h1v3h-1zM16 325h1v3h-1zM17 335h1v4h-1zM20 325h1v3h-1zm0-7h1v3h-1zM21 315h1v3h-1zM23 302h1v3h-1zM24 296h1v3h-1zM26 293h1v3h-1zm0-8h1v5h-1zM27 279h1v3h-1zm0-5h1v3h-1zM29 271h1v3h-1zm0-7h1v5h-1zm0-12h1v4h-1zM30 269h1v2h-1zm0-5h1v2h-1z"/><path fill="#bf3952" d="M1 274h1v3h-1zm0-5h1v2h-1zM2 293h1v3h-1zm0-16h1v5h-1zm0-8h1v2h-1zM3 290h1v3h-1zM4 290h1v3h-1zM5 302h1v3h-1zM6 339h1v3h-1zM7 346h1v4h-1zm0-11h1v4h-1zm0-14h1v4h-1zM8 339h1v3h-1zM13 346h1v4h-1zM16 339h1v3h-1zm0-7h1v3h-1zM17 318h1v3h-1zM19 335h1v4h-1zM20 321h1v4h-1zm0-13h1v3h-1zM22 328h1v4h-1zm0-20h1v3h-1zM23 318h1v3h-1zM24 311h1v4h-1zM25 311h1v4h-1zm0-12h1v3h-1zM26 305h1v3h-1zm0-15h1v3h-1zm0-11h1v3h-1zM27 293h1v3h-1zm0-8h1v2h-1zM29 277h1v2h-1zM31 271h1v3h-1zm0-7h1v5h-1z"/><path fill="#c33b4f" d="M0 274h1v3h-1zM2 271h1v3h-1zM5 315h1v3h-1zm0-10h1v3h-1zM7 339h1v3h-1zM9 354h1v4h-1zM11 346h1v12h-1zM12 358h1v4h-1zM13 335h1v4h-1zM15 332h1v3h-1zm0-7h1v3h-1zM18 335h1v4h-1zm0-10h1v7h-1zM20 332h1v3h-1zm0-17h1v3h-1zM21 328h1v4h-1zm0-10h1v3h-1zM22 318h1v3h-1zM23 321h1v7h-1zM24 315h1v10h-1zm0-7h1v3h-1zM26 296h1v3h-1zM27 287h1v6h-1zM28 274h1v3h-1zM29 279h1v3h-1zm0-18h1v3h-1z"/><path fill="#c73e4c" d="M0 269h1v2h-1zM1 285h1v2h-1zM2 285h1v2h-1zM4 285h1v2h-1zM6 325h1v3h-1zM8 335h1v4h-1zM9 366h1v9h-1zm0-20h1v4h-1zM10 384h1v5h-1zm0-22h1v4h-1zm0-16h1v4h-1zM11 443h1v6h-1zm0-68h1v4h-1zm0-17h1v4h-1zM13 362h1v4h-1zM15 350h1v4h-1zm0-15h1v4h-1zm0-7h1v4h-1zM16 335h1v4h-1zM19 328h1v4h-1zM22 332h1v3h-1zM23 328h1v4h-1zm0-17h1v4h-1zM25 305h1v3h-1zM28 290h1v3h-1zm0-13h1v2h-1zM29 282h1v3h-1zM30 261h1v3h-1zM31 279h1v3h-1zm0-5h1v3h-1z"/><path fill="#ca404a" d="M0 279h1v3h-1zm0-8h1v3h-1zM1 277h1v2h-1zM2 308h1v3h-1zm0-18h1v3h-1zM4 302h1v3h-1zM5 328h1v4h-1zM7 366h1v5h-1zm0-16h1v4h-1zM9 449h1v7h-1zm0-87h1v4h-1zm0-12h1v4h-1zM12 362h1v4h-1zm0-8h1v4h-1zM13 350h1v4h-1zM15 366h1v9h-1zm0-8h1v4h-1zM16 358h1v4h-1zM18 342h1v4h-1zM19 339h1v3h-1zM20 342h1v4h-1zm0-14h1v4h-1zM23 332h1v3h-1zM24 332h1v3h-1zM25 308h1v3h-1zM26 308h1v3h-1zM28 296h1v3h-1zm0-11h1v5h-1zM30 282h1v3h-1zM31 293h1v3h-1zm0-8h1v2h-1z"/><path fill="#ce4347" d="M0 282h1v3h-1zm0-5h1v2h-1zM1 293h1v3h-1zM2 287h1v3h-1zM3 296h1v3h-1zM4 296h1v3h-1zM5 308h1v7h-1zM6 332h1v7h-1zM8 362h1v4h-1zM9 358h1v4h-1zM10 437h1v6h-1zM11 366h1v5h-1zM12 375h1v4h-1zm0-9h1v5h-1zm0-16h1v4h-1zM13 449h1v7h-1zm0-83h1v5h-1zm0-8h1v4h-1zM14 350h1v8h-1zM15 354h1v4h-1zM16 328h1v4h-1zM19 346h1v4h-1zM22 335h1v4h-1zM26 315h1v3h-1zM27 296h1v3h-1zM28 293h1v3h-1zM29 285h1v2h-1zM30 290h1v3h-1zm0-5h1v2h-1zM31 277h1v2h-1z"/><path fill="#d24644" d="M1 279h1v3h-1zM4 305h1v3h-1zM5 318h1v3h-1zM6 328h1v4h-1zM7 362h1v4h-1zm0-20h1v4h-1zM8 375h1v4h-1zM9 437h1v6h-1zM10 366h1v9h-1zm0-8h1v4h-1zM11 449h1v7h-1zm0-12h1v6h-1zm0-66h1v4h-1zM12 443h1v13h-1zm0-12h1v6h-1zm0-52h1v5h-1zM13 354h1v4h-1zM14 384h1v5h-1zM15 362h1v4h-1zm0-16h1v4h-1zM17 339h1v15h-1zM18 366h1v5h-1zm0-16h1v4h-1zm0-11h1v3h-1zM19 332h1v3h-1zM20 339h1v3h-1zM21 339h1v3h-1zm0-7h1v3h-1zM24 339h1v3h-1zM26 299h1v6h-1zM28 302h1v3h-1zM29 287h1v3h-1zM30 287h1v3h-1zm0-16h1v3h-1z"/><path fill="#d44842" d="M0 285h1v5h-1zM3 305h1v3h-1zm0-12h1v3h-1zM5 321h1v7h-1zM6 350h1v4h-1zM7 358h1v4h-1zM8 371h1v4h-1zm0-13h1v4h-1zM9 375h1v9h-1zM10 449h1v7h-1zm0-99h1v4h-1zM11 379h1v10h-1zM12 437h1v6h-1zm0-44h1v5h-1zm0-22h1v4h-1zM16 366h1v9h-1zm0-16h1v8h-1zM19 342h1v4h-1zM21 335h1v4h-1zM22 339h1v3h-1zM23 335h1v4h-1zM24 342h1v4h-1zM25 335h1v4h-1zm0-10h1v3h-1zM27 299h1v6h-1zM28 299h1v3h-1zM29 293h1v3h-1zM30 296h1v6h-1zm0-22h1v3h-1z"/><path fill="#d84c3e" d="M0 290h1v6h-1zM1 296h1v3h-1zm0-9h1v6h-1zM2 296h1v3h-1zM3 308h1v3h-1zM5 339h1v3h-1zM6 342h1v8h-1zM7 443h1v6h-1zm0-68h1v4h-1zm0-21h1v4h-1zM8 379h1v5h-1zm0-13h1v5h-1zM9 443h1v6h-1zm0-45h1v5h-1zm0-14h1v5h-1zM10 443h1v6h-1zM11 431h1v6h-1zm0-12h1v6h-1zm0-16h1v5h-1zM13 375h1v4h-1zM14 389h1v4h-1zm0-18h1v4h-1zm0-13h1v4h-1zM15 384h1v5h-1zm0-9h1v4h-1zM16 362h1v4h-1zm0-20h1v4h-1zM17 362h1v4h-1zm0-34h1v4h-1zM18 346h1v4h-1zM20 346h1v4h-1zm0-11h1v4h-1zM23 358h1v4h-1zm0-12h1v8h-1zM25 332h1v3h-1zM26 318h1v3h-1zm0-7h1v4h-1zM27 305h1v6h-1zM28 305h1v3h-1zM29 299h1v3h-1zm0-9h1v3h-1zM30 302h1v3h-1zm0-23h1v3h-1zM31 290h1v3h-1zm0-8h1v3h-1z"/><path fill="#db503b" d="M2 302h1v3h-1zM3 318h1v3h-1zm0-19h1v6h-1zM5 335h1v4h-1zM6 358h1v4h-1zM8 389h1v4h-1zM9 431h1v6h-1zM10 425h1v6h-1zm0-50h1v4h-1zM11 389h1v4h-1zM12 419h1v6h-1zM13 379h1v10h-1zM14 393h1v5h-1zm0-14h1v5h-1zm0-40h1v3h-1zM16 346h1v4h-1zM17 354h1v4h-1zM18 358h1v4h-1zM19 350h1v4h-1zM20 354h1v4h-1zM21 358h1v13h-1zM24 346h1v4h-1zm0-11h1v4h-1zm0-10h1v3h-1zM25 315h1v3h-1zM30 277h1v2h-1zM31 311h1v4h-1z"/><path fill="#de5238" d="M0 296h1v6h-1zM2 311h1v7h-1zm0-12h1v3h-1zM3 315h1v3h-1zM4 328h1v4h-1zm0-7h1v4h-1zm0-6h1v3h-1zM7 384h1v5h-1zm0-13h1v4h-1zM8 443h1v6h-1zm0-12h1v6h-1zm0-47h1v5h-1zM9 389h1v4h-1zM10 431h1v6h-1zm0-17h1v5h-1zm0-21h1v15h-1zm0-14h1v5h-1zM11 408h1v6h-1zm0-10h1v5h-1zM12 414h1v5h-1zm0-30h1v9h-1zM13 371h1v4h-1zM14 362h1v4h-1zM15 431h1v6h-1zM17 443h1v6h-1zm0-72h1v4h-1zM21 350h1v8h-1zm0-8h1v4h-1zM22 346h1v4h-1zM25 328h1v4h-1zm0-10h1v7h-1zM28 308h1v3h-1zM29 302h1v3h-1z"/><path fill="#e15635" d="M0 302h1v3h-1zM1 299h1v3h-1zM4 311h1v4h-1zM6 398h1v5h-1zm0-23h1v4h-1zM7 379h1v5h-1zM8 449h1v7h-1zM9 414h1v5h-1zm0-11h1v5h-1zM10 419h1v6h-1zM12 408h1v6h-1zM13 437h1v6h-1zm0-39h1v5h-1zm0-9h1v4h-1zM14 437h1v6h-1zM15 419h1v6h-1zm0-40h1v5h-1zM16 384h1v5h-1zM18 443h1v6h-1zm0-68h1v4h-1zm0-21h1v4h-1zM19 358h1v8h-1zM20 358h1v4h-1zm0-8h1v4h-1zM21 379h1v5h-1zm0-33h1v4h-1zM22 366h1v5h-1zm0-8h1v4h-1zM24 328h1v4h-1zM25 339h1v7h-1zM26 328h1v7h-1zM27 315h1v3h-1zM29 296h1v3h-1zM31 296h1v3h-1z"/><path fill="#e45a31" d="M1 305h1v6h-1zM2 305h1v3h-1zM4 325h1v3h-1zm0-17h1v3h-1zM5 358h1v4h-1zm0-12h1v4h-1zm0-14h1v3h-1zM6 366h1v5h-1zm0-12h1v4h-1zM7 414h1v5h-1zM8 408h1v6h-1zM9 425h1v6h-1zm0-17h1v6h-1zM10 389h1v4h-1zM11 414h1v5h-1zM12 398h1v5h-1zM13 403h1v5h-1zm0-10h1v5h-1zM14 443h1v6h-1zm0-68h1v4h-1zm0-9h1v5h-1zM15 425h1v6h-1zm0-36h1v4h-1zM16 443h1v6h-1zM17 366h1v5h-1zM18 437h1v6h-1zm0-66h1v4h-1zM19 431h1v6h-1zm0-77h1v4h-1zM20 384h1v5h-1zm0-13h1v4h-1zM22 371h1v4h-1zm0-9h1v4h-1zM23 354h1v4h-1zm0-12h1v4h-1zM26 325h1v3h-1zM27 321h1v4h-1zM30 311h1v4h-1zM31 299h1v3h-1zm0-12h1v3h-1z"/><path fill="#e65d2f" d="M1 311h1v4h-1zM3 311h1v4h-1zM4 318h1v3h-1zM5 342h1v4h-1zM6 362h1v4h-1zM7 449h1v7h-1zM8 437h1v6h-1zm0-18h1v12h-1zM9 419h1v6h-1zM11 425h1v6h-1zm0-32h1v5h-1zM12 425h1v6h-1zM13 443h1v6h-1zm0-29h1v5h-1zM14 425h1v12h-1zm0-17h1v6h-1zM15 443h1v6h-1zM16 449h1v7h-1zm0-60h1v4h-1zM17 449h1v7h-1zm0-60h1v4h-1zm0-31h1v4h-1zM18 449h1v7h-1zM19 449h1v7h-1zm0-24h1v6h-1zM20 449h1v7h-1zm0-74h1v4h-1zM21 449h1v7h-1zM22 350h1v4h-1zm0-8h1v4h-1zM23 339h1v3h-1zM24 384h1v5h-1zm0-30h1v4h-1zM29 311h1v4h-1zm0-6h1v3h-1zM31 305h1v6h-1z"/><path fill="#e9612b" d="M1 302h1v3h-1zM2 318h1v3h-1zM4 332h1v7h-1zM5 354h1v4h-1zM6 443h1v6h-1zm0-64h1v10h-1zM7 389h1v4h-1zM8 398h1v10h-1zM9 393h1v5h-1zM13 431h1v6h-1zm0-12h1v6h-1zM14 449h1v7h-1zm0-30h1v6h-1zM15 393h1v5h-1zM16 419h1v6h-1zm0-16h1v5h-1zm0-28h1v4h-1zM17 419h1v6h-1zm0-40h1v5h-1zM18 398h1v5h-1zm0-9h1v4h-1zm0-10h1v5h-1zM19 366h1v5h-1zM20 431h1v6h-1zm0-42h1v4h-1zm0-27h1v4h-1zM21 375h1v4h-1zM22 449h1v7h-1zm0-65h1v5h-1zM23 375h1v4h-1zm0-13h1v9h-1zM26 321h1v4h-1zM29 318h1v3h-1zM30 293h1v3h-1z"/><path fill="#eb6628" d="M1 315h1v3h-1zM3 321h1v11h-1zM4 339h1v3h-1zM6 449h1v7h-1zM7 437h1v6h-1zm0-12h1v6h-1zM13 408h1v6h-1zM14 403h1v5h-1zM15 437h1v6h-1zm0-23h1v5h-1zM16 408h1v6h-1zm0-15h1v5h-1zM17 437h1v6h-1zm0-39h1v5h-1zM18 384h1v5h-1zm0-22h1v4h-1zM19 371h1v4h-1zM20 443h1v6h-1zm0-24h1v6h-1zm0-40h1v5h-1zM21 437h1v12h-1zm0-23h1v5h-1zm0-30h1v5h-1zM22 437h1v6h-1zM23 379h1v5h-1zM25 366h1v5h-1zM27 328h1v4h-1zm0-17h1v4h-1zM30 305h1v6h-1zM31 302h1v3h-1z"/><path fill="#ed6925" d="M0 305h1v3h-1zM2 321h1v4h-1zM3 332h1v3h-1zM4 346h1v4h-1zM6 393h1v5h-1zM7 431h1v6h-1zm0-12h1v6h-1zM8 393h1v5h-1zM10 408h1v6h-1zM13 425h1v6h-1zM14 398h1v5h-1zM16 425h1v6h-1zM17 393h1v5h-1zm0-18h1v4h-1zM18 431h1v6h-1zm0-12h1v6h-1zM19 389h1v4h-1zm0-10h1v5h-1zM20 366h1v5h-1zM21 431h1v6h-1zm0-28h1v5h-1zm0-32h1v4h-1zM22 375h1v4h-1zm0-21h1v4h-1zM23 393h1v5h-1zm0-22h1v4h-1zM24 379h1v5h-1zm0-21h1v4h-1zM25 354h1v4h-1zm0-8h1v4h-1zM26 350h1v4h-1zm0-15h1v4h-1zM27 325h1v3h-1zM28 328h1v4h-1zm0-17h1v7h-1zM29 308h1v3h-1zM30 315h1v3h-1z"/><path fill="#ef6e21" d="M0 311h1v4h-1zM1 321h1v4h-1zM2 328h1v4h-1zM5 366h1v5h-1zM6 408h1v6h-1zm0-19h1v4h-1zm0-18h1v4h-1zM7 393h1v10h-1zM12 403h1v5h-1zM15 449h1v7h-1zm0-51h1v5h-1zM16 431h1v12h-1zm0-33h1v5h-1zM19 408h1v6h-1zm0-15h1v5h-1zm0-18h1v4h-1zM21 419h1v6h-1zm0-30h1v4h-1zM24 449h1v7h-1zm0-78h1v4h-1zm0-21h1v4h-1zM26 339h1v3h-1zM27 318h1v3h-1zM28 332h1v3h-1zm0-14h1v3h-1zM29 325h1v7h-1zm0-10h1v3h-1zM30 318h1v3h-1z"/><path fill="#f1731d" d="M0 315h1v3h-1zm0-7h1v3h-1zM1 328h1v4h-1zM5 379h1v5h-1zm0-8h1v4h-1zm0-9h1v4h-1zm0-12h1v4h-1zM7 408h1v6h-1zM8 414h1v5h-1zM14 414h1v5h-1zM15 403h1v11h-1zM16 414h1v5h-1zm0-35h1v5h-1zM17 425h1v6h-1zM18 425h1v6h-1zm0-11h1v5h-1zm0-21h1v5h-1zM19 437h1v6h-1zm0-34h1v5h-1zM20 437h1v6h-1zm0-34h1v5h-1zM22 431h1v6h-1zm0-52h1v5h-1zM23 443h1v13h-1zM24 389h1v4h-1zM26 342h1v4h-1zM27 342h1v4h-1zm0-7h1v4h-1zM28 335h1v4h-1zm0-14h1v4h-1zM30 321h1v4h-1z"/><path fill="#f3761b" d="M1 318h1v3h-1zM2 332h1v3h-1zm0-7h1v3h-1zM5 393h1v5h-1zM6 414h1v5h-1zM17 403h1v5h-1zm0-19h1v5h-1zM18 408h1v6h-1zM19 443h1v6h-1zm0-45h1v5h-1zM20 408h1v6h-1zm0-15h1v5h-1zM21 393h1v5h-1zM22 425h1v6h-1zm0-22h1v11h-1zm0-14h1v9h-1zM23 384h1v5h-1zM24 425h1v6h-1zm0-63h1v9h-1zM25 449h1v7h-1zM27 332h1v3h-1zM29 321h1v4h-1zM30 328h1v4h-1z"/><path fill="#f57b17" d="M0 318h1v10h-1zM3 335h1v4h-1zM4 342h1v4h-1zM5 389h1v4h-1zm0-14h1v4h-1zM17 431h1v6h-1zm0-17h1v5h-1zM20 425h1v6h-1zm0-27h1v5h-1zM22 443h1v6h-1zM23 425h1v18h-1zM24 437h1v6h-1zM25 431h1v6h-1zm0-81h1v4h-1zM26 362h1v4h-1zM28 325h1v3h-1zM31 325h1v3h-1zm0-7h1v3h-1z"/><path fill="#f68013" d="M0 328h1v4h-1zM2 339h1v3h-1zM3 339h1v3h-1zM4 362h1v4h-1zm0-8h1v4h-1zM5 431h1v6h-1zM6 431h1v12h-1zM7 403h1v5h-1zM17 408h1v6h-1zM19 419h1v6h-1zM20 414h1v5h-1zM21 398h1v5h-1zM22 414h1v11h-1zM23 389h1v4h-1zM24 393h1v5h-1zm0-18h1v4h-1zM25 371h1v8h-1zM26 354h1v4h-1zM29 332h1v3h-1zM30 332h1v3h-1z"/><path fill="#f78410" d="M1 325h1v3h-1zM2 350h1v4h-1zM3 354h1v4h-1zM4 350h1v4h-1zM5 449h1v7h-1zm0-65h1v5h-1zM6 419h1v6h-1zm0-16h1v5h-1zM18 403h1v5h-1zM19 384h1v5h-1zM21 408h1v6h-1zM22 398h1v5h-1zM23 408h1v6h-1zM24 443h1v6h-1zm0-29h1v5h-1zm0-11h1v5h-1zM25 408h1v6h-1zm0-24h1v9h-1zm0-22h1v4h-1zM26 346h1v4h-1zM27 339h1v3h-1zM29 335h1v4h-1zM30 325h1v3h-1zM31 321h1v4h-1z"/><path fill="#f8890c" d="M1 332h1v3h-1zM3 350h1v4h-1zM4 393h1v5h-1zm0-22h1v4h-1zM5 437h1v12h-1zm0-34h1v5h-1zM19 414h1v5h-1zM25 379h1v5h-1zm0-21h1v4h-1zM26 366h1v5h-1zM27 443h1v6h-1zM28 358h1v4h-1zm0-19h1v7h-1zM31 332h1v7h-1zm0-17h1v3h-1z"/><path fill="#f98e09" d="M0 339h1v3h-1zm0-7h1v3h-1zM2 346h1v4h-1zM3 358h1v4h-1zm0-16h1v4h-1zM5 419h1v6h-1zM6 425h1v6h-1zM21 425h1v6h-1zM23 414h1v5h-1zm0-16h1v5h-1zM25 437h1v6h-1zm0-23h1v5h-1zM26 371h1v8h-1zM27 379h1v5h-1zm0-33h1v4h-1zM30 335h1v4h-1zM31 328h1v4h-1z"/><path fill="#fa9207" d="M0 335h1v4h-1zM1 350h1v4h-1zm0-15h1v4h-1zM2 354h1v4h-1zm0-19h1v4h-1zM3 346h1v4h-1zM5 408h1v6h-1zm0-10h1v5h-1zM23 419h1v6h-1zm0-16h1v5h-1zM24 408h1v6h-1zM25 443h1v6h-1zM26 449h1v7h-1zm0-70h1v5h-1zm0-21h1v4h-1zM28 354h1v4h-1z"/><path fill="#fb9706" d="M1 342h1v4h-1zM2 342h1v4h-1zM4 389h1v4h-1zm0-23h1v5h-1zm0-8h1v4h-1zM25 425h1v6h-1zM27 354h1v12h-1zM28 362h1v4h-1z"/><path fill="#fb9d07" d="M0 346h1v4h-1zM1 339h1v3h-1zM2 366h1v5h-1zM3 379h1v5h-1zM4 449h1v7h-1zm0-46h1v5h-1zm0-28h1v4h-1zM5 425h1v6h-1zM24 419h1v6h-1zM25 393h1v5h-1zM26 437h1v6h-1zm0-53h1v5h-1zM27 449h1v7h-1zm0-60h1v4h-1zm0-39h1v4h-1zM29 371h1v4h-1zm0-17h1v4h-1zm0-12h1v8h-1zM31 366h1v5h-1z"/><path fill="#fca108" d="M1 346h1v4h-1zM2 358h1v4h-1zM3 443h1v6h-1zm0-54h1v4h-1zm0-18h1v8h-1zm0-9h1v4h-1zM4 443h1v6h-1zm0-64h1v5h-1zM24 431h1v6h-1zM25 398h1v5h-1zM26 398h1v5h-1zM27 431h1v6h-1zM28 346h1v4h-1zM29 358h1v8h-1zM30 346h1v8h-1zM31 339h1v3h-1z"/><path fill="#fca60c" d="M3 437h1v6h-1zM4 431h1v6h-1zM5 414h1v5h-1zM25 403h1v5h-1zM26 443h1v6h-1zM27 437h1v6h-1zm0-62h1v4h-1zM28 449h1v7h-1zM30 342h1v4h-1zM31 342h1v4h-1z"/><path fill="#fcac11" d="M0 354h1v4h-1zM1 384h1v5h-1zM2 443h1v6h-1zm0-72h1v4h-1zM3 449h1v7h-1zM4 437h1v6h-1zM26 408h1v6h-1zM27 366h1v5h-1zM28 384h1v5h-1zm0-18h1v5h-1z"/><path fill="#fcb014" d="M0 358h1v4h-1zm0-16h1v4h-1zM1 375h1v4h-1zm0-21h1v4h-1zM2 449h1v7h-1zm0-12h1v6h-1zM3 393h1v5h-1zM4 384h1v5h-1zM25 419h1v6h-1zM26 431h1v6h-1zm0-38h1v5h-1zM27 371h1v4h-1zM28 375h1v9h-1zM29 379h1v5h-1zm0-29h1v4h-1zm0-11h1v3h-1zM30 339h1v3h-1z"/><path fill="#fbb61a" d="M0 366h1v5h-1zM1 358h1v4h-1zM4 425h1v6h-1zm0-27h1v5h-1zM24 398h1v5h-1zM26 403h1v5h-1zM30 362h1v4h-1zM31 358h1v4h-1zm0-12h1v4h-1z"/><path fill="#fbbc21" d="M0 449h1v7h-1zm0-78h1v4h-1zM1 366h1v5h-1zM3 384h1v5h-1zm0-18h1v5h-1zM4 419h1v6h-1zm0-11h1v6h-1zM26 425h1v6h-1zm0-36h1v4h-1zM28 431h1v6h-1zm0-60h1v4h-1zM29 443h1v13h-1zm0-12h1v6h-1zM30 354h1v8h-1z"/><path fill="#fac026" d="M0 379h1v5h-1zM2 419h1v6h-1zm0-26h1v5h-1zm0-14h1v10h-1zM3 425h1v6h-1zm0-17h1v6h-1zM4 414h1v5h-1zM27 425h1v6h-1zM28 350h1v4h-1zM29 375h1v4h-1zm0-9h1v5h-1zM30 366h1v9h-1z"/><path fill="#fac62d" d="M0 425h1v6h-1zm0-75h1v4h-1zM1 408h1v6h-1zm0-46h1v4h-1zM2 431h1v6h-1zm0-56h1v4h-1zM3 431h1v6h-1zm0-17h1v5h-1zM26 414h1v5h-1zM27 419h1v6h-1zm0-26h1v5h-1zm0-9h1v5h-1zM29 437h1v6h-1zm0-48h1v4h-1zM30 449h1v7h-1zm0-18h1v6h-1z"/><path fill="#f9cb35" d="M0 375h1v4h-1zM2 398h1v10h-1zM3 398h1v10h-1zM27 408h1v6h-1zM28 437h1v12h-1zm0-18h1v6h-1zm0-30h1v9h-1zM30 408h1v6h-1zM31 431h1v6h-1zm0-60h1v13h-1zm0-21h1v8h-1z"/><path fill="#f8cf3a" d="M0 384h1v5h-1zM1 449h1v7h-1zm0-12h1v6h-1zm0-48h1v4h-1zm0-10h1v5h-1zm0-8h1v4h-1zM2 389h1v4h-1zm0-27h1v4h-1zM3 419h1v6h-1zM26 419h1v6h-1zM29 384h1v5h-1zM30 384h1v5h-1z"/><path fill="#f6d543" d="M0 437h1v6h-1zM1 443h1v6h-1zm0-12h1v6h-1zM28 403h1v5h-1zM29 393h1v5h-1zM30 425h1v6h-1zm0-36h1v4h-1zM31 362h1v4h-1z"/><path fill="#f5db4c" d="M0 389h1v4h-1zm0-27h1v4h-1zM1 419h1v12h-1zM27 403h1v5h-1zM28 425h1v6h-1zm0-11h1v5h-1zm0-16h1v5h-1zM29 403h1v5h-1zM30 437h1v12h-1zm0-23h1v5h-1zm0-11h1v5h-1zM31 449h1v7h-1zm0-56h1v5h-1z"/><path fill="#f4df53" d="M1 414h1v5h-1zm0-21h1v5h-1zM2 414h1v5h-1zM27 414h1v5h-1zM29 408h1v6h-1zM30 379h1v5h-1zM31 443h1v6h-1z"/><path fill="#f3e55d" d="M0 443h1v6h-1zm0-40h1v5h-1zm0-10h1v5h-1zM1 398h1v5h-1zM2 408h1v6h-1zM27 398h1v5h-1zM29 414h1v11h-1zM30 398h1v5h-1zm0-23h1v4h-1zM31 425h1v6h-1zm0-41h1v5h-1z"/><path fill="#f2ea69" d="M0 431h1v6h-1zm0-23h1v6h-1zM2 425h1v6h-1zM29 425h1v6h-1zM31 414h1v11h-1z"/><path fill="#f1ed71" d="M28 408h1v6h-1zM31 437h1v6h-1zm0-39h1v16h-1zm0-9h1v4h-1z"/><path fill="#f2f27d" d="M0 414h1v11h-1zM1 403h1v5h-1z"/><path fill="#f5f992" d="M29 398h1v5h-1zM30 419h1v6h-1z"/><path fill="#f9fc9d" d="M0 398h1v5h-1z"/><path fill="#fcffa4" d="M30 393h1v5h-1z"/></g></defs><use href="#h0" transform="translate(142.4 0) scale(15.532 1)"/><use href="#h0" transform="translate(639.42 0) scale(15.532 1)"/><defs><g id="h1" shape-rendering="crispEdges"><path fill="#000004" d="M0 541h1v8h-1zM1 541h1v8h-1zM2 541h1v8h-1zM3 541h1v8h-1zM4 541h1v8h-1zM5 541h1v8h-1zM6 541h1v8h-1zM7 541h1v8h-1zM8 541h1v8h-1zM9 541h1v8h-1zM10 541h1v8h-1zM11 541h1v8h-1zM12 541h1v8h-1zM13 541h1v8h-1zM14 541h1v8h-1zM15 541h1v8h-1zM16 541h1v8h-1zM17 541h1v8h-1zM18 541h1v8h-1zM19 541h1v8h-1zM20 541h1v8h-1zM21 541h1v8h-1zM22 541h1v8h-1zM23 541h1v8h-1zM24 541h1v8h-1zM25 541h1v8h-1zM26 541h1v8h-1zM27 541h1v8h-1zM28 541h1v8h-1zM29 541h1v8h-1zM30 541h1v8h-1zM31 541h1v8h-1z"/><path fill="#010106" d="M0 549h1v36h-1zM1 549h1v36h-1zM2 549h1v36h-1zM3 549h1v37h-1zM4 549h1v37h-1zM5 549h1v37h-1zM6 549h1v38h-1zM7 549h1v38h-1zM8 549h1v39h-1zM9 549h1v39h-1zM10 549h1v39h-1zM11 549h1v39h-1zM12 549h1v39h-1zM13 549h1v39h-1zM14 549h1v38h-1zM15 549h1v38h-1zM16 549h1v38h-1zM17 549h1v38h-1zM18 549h1v38h-1zM19 549h1v38h-1zM20 549h1v38h-1zM21 549h1v38h-1zM22 549h1v38h-1zM23 549h1v37h-1zM24 549h1v37h-1zM25 549h1v37h-1zM26 549h1v37h-1zM27 549h1v37h-1zM28 549h1v36h-1zM29 549h1v36h-1zM30 549h1v36h-1zM31 549h1v36h-1z"/><path fill="#02020c" d="M0 585h1v17h-1zM1 585h1v17h-1zM2 585h1v17h-1zM3 586h1v17h-1zM4 586h1v18h-1zM5 586h1v19h-1zM6 587h1v20h-1zM7 587h1v21h-1zM8 588h1v21h-1zM9 588h1v22h-1zM10 588h1v22h-1zM11 588h1v22h-1zM12 588h1v22h-1zM13 588h1v21h-1zM14 587h1v22h-1zM15 587h1v21h-1zM16 587h1v21h-1zM17 587h1v20h-1zM18 587h1v20h-1zM19 587h1v20h-1zM20 587h1v20h-1zM21 587h1v20h-1zM22 587h1v19h-1zM23 586h1v20h-1zM24 586h1v19h-1zM25 586h1v19h-1zM26 586h1v18h-1zM27 586h1v17h-1zM28 585h1v18h-1zM29 585h1v17h-1zM30 585h1v17h-1zM31 585h1v17h-1z"/><path fill="#040312" d="M0 602h1v11h-1zM1 602h1v12h-1zM2 602h1v13h-1zM3 603h1v13h-1zM4 604h1v13h-1zM5 605h1v15h-1zM6 607h1v16h-1zM7 608h1v18h-1zM8 609h1v18h-1zM9 610h1v18h-1zM10 610h1v19h-1zM11 610h1v19h-1zM12 610h1v19h-1zM13 609h1v19h-1zM14 609h1v18h-1zM15 608h1v18h-1zM16 608h1v17h-1zM17 607h1v17h-1zM18 607h1v17h-1zM19 607h1v17h-1zM20 607h1v17h-1zM21 607h1v16h-1zM22 606h1v17h-1zM23 606h1v16h-1zM24 605h1v16h-1zM25 605h1v14h-1zM26 604h1v13h-1zM27 603h1v13h-1zM28 603h1v12h-1zM29 602h1v12h-1zM30 602h1v11h-1zM31 602h1v11h-1z"/><path fill="#050417" d="M0 613h1v11h-1zM1 614h1v11h-1zM2 615h1v11h-1zM3 616h1v11h-1zM4 617h1v12h-1zM5 620h1v13h-1zM6 623h1v13h-1zM7 626h1v13h-1zM8 627h1v14h-1zM9 628h1v14h-1zM10 629h1v15h-1zM11 629h1v15h-1zM12 629h1v15h-1zM13 628h1v13h-1zM14 627h1v13h-1zM15 626h1v13h-1zM16 625h1v13h-1zM17 624h1v14h-1zM18 624h1v13h-1zM19 624h1v13h-1zM20 624h1v13h-1zM21 623h1v13h-1zM22 623h1v13h-1zM23 622h1v13h-1zM24 621h1v13h-1zM25 619h1v12h-1zM26 617h1v12h-1zM27 616h1v11h-1zM28 615h1v11h-1zM29 614h1v11h-1zM30 613h1v11h-1zM31 613h1v11h-1z"/><path fill="#08051d" d="M0 624h1v9h-1zM1 625h1v9h-1zM2 626h1v9h-1zM3 627h1v10h-1zM4 629h1v10h-1zM5 633h1v9h-1zM6 636h1v11h-1zM7 639h1v11h-1zM8 641h1v13h-1zM9 642h1v13h-1zM10 644h1v12h-1zM11 644h1v12h-1zM12 644h1v11h-1zM13 641h1v13h-1zM14 640h1v13h-1zM15 639h1v11h-1zM16 638h1v11h-1zM17 638h1v11h-1zM18 637h1v11h-1zM19 637h1v11h-1zM20 637h1v10h-1zM21 636h1v11h-1zM22 636h1v11h-1zM23 635h1v11h-1zM24 634h1v10h-1zM25 631h1v10h-1zM26 629h1v10h-1zM27 627h1v10h-1zM28 626h1v10h-1zM29 625h1v9h-1zM30 624h1v10h-1zM31 624h1v9h-1z"/><path fill="#0b0724" d="M0 633h1v8h-1zM1 634h1v7h-1zM2 635h1v7h-1zM3 637h1v8h-1zM4 639h1v8h-1zM5 642h1v9h-1zM6 647h1v9h-1zM7 650h1v11h-1zM8 654h1v11h-1zM9 655h1v12h-1zM10 656h1v11h-1zM11 656h1v12h-1zM12 655h1v12h-1zM13 654h1v11h-1zM14 653h1v9h-1zM15 650h1v11h-1zM16 649h1v11h-1zM17 649h1v9h-1zM18 648h1v10h-1zM19 648h1v9h-1zM20 647h1v9h-1zM21 647h1v9h-1zM22 647h1v8h-1zM23 646h1v9h-1zM24 644h1v9h-1zM25 641h1v8h-1zM26 639h1v8h-1zM27 637h1v8h-1zM28 636h1v8h-1zM29 634h1v8h-1zM30 634h1v7h-1zM31 633h1v7h-1z"/><path fill="#0d0829" d="M0 641h1v6h-1zM1 641h1v7h-1zM2 642h1v7h-1zM3 645h1v6h-1zM4 647h1v7h-1zM5 651h1v7h-1zM6 656h1v9h-1zM7 661h1v10h-1zM8 665h1v10h-1zM9 667h1v10h-1zM10 667h1v12h-1zM11 668h1v12h-1zM12 667h1v12h-1zM13 665h1v11h-1zM14 662h1v11h-1zM15 661h1v10h-1zM16 660h1v8h-1zM17 658h1v9h-1zM18 658h1v9h-1zM19 657h1v9h-1zM20 656h1v10h-1zM21 656h1v9h-1zM22 655h1v10h-1zM23 655h1v7h-1zM24 653h1v8h-1zM25 649h1v8h-1zM26 647h1v7h-1zM27 645h1v6h-1zM28 644h1v5h-1zM29 642h1v6h-1zM30 641h1v6h-1zM31 640h1v7h-1z"/><path fill="#110a30" d="M0 647h1v6h-1zM1 648h1v6h-1zM2 649h1v6h-1zM3 651h1v6h-1zM4 654h1v6h-1zM5 658h1v8h-1zM6 665h1v8h-1zM7 671h1v9h-1zM8 675h1v10h-1zM9 677h1v11h-1zM10 679h1v10h-1zM11 680h1v9h-1zM12 679h1v9h-1zM13 676h1v9h-1zM14 673h1v10h-1zM15 671h1v9h-1zM16 668h1v11h-1zM17 667h1v10h-1zM18 667h1v9h-1zM19 666h1v10h-1zM20 666h1v9h-1zM21 665h1v8h-1zM22 665h1v7h-1zM23 662h1v9h-1zM24 661h1v7h-1zM25 657h1v6h-1zM26 654h1v6h-1zM27 651h1v6h-1zM28 649h1v6h-1zM29 648h1v6h-1zM30 647h1v6h-1zM31 647h1v6h-1z"/><path fill="#150b37" d="M0 653h1v4h-1zM1 654h1v4h-1zM2 655h1v6h-1zM3 657h1v6h-1zM4 660h1v7h-1zM5 666h1v7h-1zM6 673h1v10h-1zM7 680h1v9h-1zM8 685h1v10h-1zM9 688h1v10h-1zM10 689h1v10h-1zM11 689h1v10h-1zM12 688h1v10h-1zM13 685h1v10h-1zM14 683h1v9h-1zM15 680h1v9h-1zM16 679h1v9h-1zM17 677h1v10h-1zM18 676h1v9h-1zM19 676h1v8h-1zM20 675h1v9h-1zM21 673h1v10h-1zM22 672h1v9h-1zM23 671h1v9h-1zM24 668h1v8h-1zM25 663h1v8h-1zM26 660h1v7h-1zM27 657h1v6h-1zM28 655h1v6h-1zM29 654h1v6h-1zM30 653h1v5h-1zM31 653h1v4h-1z"/><path fill="#180c3c" d="M0 657h1v6h-1zM1 658h1v5h-1zM2 661h1v5h-1zM3 663h1v7h-1zM4 667h1v6h-1zM5 673h1v8h-1zM6 683h1v8h-1zM7 689h1v9h-1zM8 695h1v9h-1zM9 698h1v9h-1zM10 699h1v9h-1zM11 699h1v9h-1zM12 698h1v9h-1zM13 695h1v9h-1zM14 692h1v9h-1zM15 689h1v9h-1zM16 688h1v9h-1zM17 687h1v8h-1zM18 685h1v9h-1zM19 684h1v8h-1zM20 684h1v8h-1zM21 683h1v8h-1zM22 681h1v8h-1zM23 680h1v8h-1zM24 676h1v8h-1zM25 671h1v8h-1zM26 667h1v6h-1zM27 663h1v7h-1zM28 661h1v6h-1zM29 660h1v5h-1zM30 658h1v5h-1zM31 657h1v5h-1z"/><path fill="#1c0c43" d="M0 663h1v5h-1zM1 663h1v7h-1zM2 666h1v6h-1zM3 670h1v6h-1zM4 673h1v7h-1zM5 681h1v8h-1zM6 691h1v8h-1zM7 698h1v9h-1zM8 704h1v8h-1zM9 707h1v8h-1zM10 708h1v8h-1zM11 708h1v10h-1zM12 707h1v9h-1zM13 704h1v9h-1zM14 701h1v9h-1zM15 698h1v9h-1zM16 697h1v7h-1zM17 695h1v7h-1zM18 694h1v8h-1zM19 692h1v9h-1zM20 692h1v7h-1zM21 691h1v8h-1zM22 689h1v9h-1zM23 688h1v7h-1zM24 684h1v8h-1zM25 679h1v6h-1zM26 673h1v7h-1zM27 670h1v6h-1zM28 667h1v5h-1zM29 665h1v5h-1zM30 663h1v5h-1zM31 662h1v6h-1z"/><path fill="#210c4a" d="M0 668h1v5h-1zM1 670h1v5h-1zM2 672h1v7h-1zM3 676h1v7h-1zM4 680h1v8h-1zM5 689h1v8h-1zM6 699h1v8h-1zM7 707h1v8h-1zM8 712h1v8h-1zM9 715h1v8h-1zM10 716h1v9h-1zM11 718h1v7h-1zM12 716h1v9h-1zM13 713h1v8h-1zM14 710h1v8h-1zM15 707h1v8h-1zM16 704h1v8h-1zM17 702h1v8h-1zM18 702h1v8h-1zM19 701h1v7h-1zM20 699h1v8h-1zM21 699h1v8h-1zM22 698h1v7h-1zM23 695h1v9h-1zM24 692h1v7h-1zM25 685h1v9h-1zM26 680h1v7h-1zM27 676h1v7h-1zM28 672h1v7h-1zM29 670h1v6h-1zM30 668h1v5h-1zM31 668h1v5h-1z"/><path fill="#240c4f" d="M0 673h1v7h-1zM1 675h1v6h-1zM2 679h1v5h-1zM3 683h1v5h-1zM4 688h1v6h-1zM5 697h1v7h-1zM6 707h1v6h-1zM7 715h1v6h-1zM8 720h1v8h-1zM9 723h1v8h-1zM10 725h1v6h-1zM11 725h1v8h-1zM12 725h1v6h-1zM13 721h1v7h-1zM14 718h1v7h-1zM15 715h1v6h-1zM16 712h1v8h-1zM17 710h1v8h-1zM18 710h1v8h-1zM19 708h1v8h-1zM20 707h1v8h-1zM21 707h1v6h-1zM22 705h1v8h-1zM23 704h1v6h-1zM24 699h1v8h-1zM25 694h1v5h-1zM26 687h1v7h-1zM27 683h1v5h-1zM28 679h1v6h-1zM29 676h1v7h-1zM30 673h1v7h-1zM31 673h1v6h-1z"/><path fill="#290b55" d="M0 680h1v5h-1zM1 681h1v6h-1zM2 684h1v7h-1zM3 688h1v7h-1zM4 694h1v7h-1zM5 704h1v6h-1zM6 713h1v8h-1zM7 721h1v7h-1zM8 728h1v7h-1zM9 731h1v7h-1zM10 731h1v7h-1zM11 733h1v7h-1zM12 731h1v7h-1zM13 728h1v7h-1zM14 725h1v8h-1zM15 721h1v9h-1zM16 720h1v6h-1zM17 718h1v7h-1zM18 718h1v7h-1zM19 716h1v7h-1zM20 715h1v6h-1zM21 713h1v8h-1zM22 713h1v7h-1zM23 710h1v8h-1zM24 707h1v6h-1zM25 699h1v8h-1zM26 694h1v7h-1zM27 688h1v7h-1zM28 685h1v6h-1zM29 683h1v5h-1zM30 680h1v5h-1zM31 679h1v6h-1z"/><path fill="#2f0a5b" d="M0 685h1v6h-1zM1 687h1v5h-1zM2 691h1v6h-1zM3 695h1v6h-1zM4 701h1v6h-1zM5 710h1v6h-1zM6 721h1v7h-1zM7 728h1v7h-1zM8 735h1v7h-1zM9 738h1v6h-1zM10 738h1v8h-1zM11 740h1v6h-1zM12 738h1v6h-1zM13 735h1v7h-1zM14 733h1v5h-1zM15 730h1v7h-1zM16 726h1v7h-1zM17 725h1v6h-1zM18 725h1v6h-1zM19 723h1v7h-1zM20 721h1v7h-1zM21 721h1v7h-1zM22 720h1v6h-1zM23 718h1v7h-1zM24 713h1v7h-1zM25 707h1v6h-1zM26 701h1v6h-1zM27 695h1v6h-1zM28 691h1v6h-1zM29 688h1v6h-1zM30 685h1v7h-1zM31 685h1v6h-1z"/><path fill="#320a5e" d="M0 691h1v6h-1zM1 692h1v6h-1zM2 697h1v5h-1zM3 701h1v6h-1zM4 707h1v6h-1zM5 716h1v7h-1zM6 728h1v7h-1zM7 735h1v7h-1zM8 742h1v4h-1zM9 744h1v5h-1zM10 746h1v3h-1zM11 746h1v3h-1zM12 744h1v5h-1zM13 742h1v6h-1zM14 738h1v6h-1zM15 737h1v5h-1zM16 733h1v7h-1zM17 731h1v7h-1zM18 731h1v7h-1zM19 730h1v7h-1zM20 728h1v7h-1zM21 728h1v7h-1zM22 726h1v7h-1zM23 725h1v5h-1zM24 720h1v6h-1zM25 713h1v7h-1zM26 707h1v6h-1zM27 701h1v6h-1zM28 697h1v5h-1zM29 694h1v5h-1zM30 692h1v5h-1zM31 691h1v6h-1z"/><path fill="#380962" d="M0 697h1v5h-1zM1 698h1v6h-1zM2 702h1v6h-1zM3 707h1v6h-1zM4 713h1v7h-1zM5 723h1v7h-1zM6 735h1v5h-1zM7 742h1v4h-1zM8 746h1v5h-1zM9 749h1v4h-1zM10 749h1v4h-1zM11 749h1v6h-1zM12 749h1v4h-1zM13 748h1v3h-1zM14 744h1v5h-1zM15 742h1v6h-1zM16 740h1v6h-1zM17 738h1v6h-1zM18 738h1v6h-1zM19 737h1v5h-1zM20 735h1v5h-1zM21 735h1v5h-1zM22 733h1v5h-1zM23 730h1v7h-1zM24 726h1v7h-1zM25 720h1v5h-1zM26 713h1v5h-1zM27 707h1v6h-1zM28 702h1v6h-1zM29 699h1v6h-1zM30 697h1v5h-1zM31 697h1v5h-1z"/><path fill="#3d0965" d="M0 702h1v5h-1zM1 704h1v6h-1zM2 708h1v5h-1zM3 713h1v5h-1zM4 720h1v5h-1zM5 730h1v5h-1zM6 740h1v6h-1zM7 746h1v5h-1zM8 751h1v4h-1zM9 753h1v4h-1zM10 753h1v6h-1zM11 755h1v4h-1zM12 753h1v6h-1zM13 751h1v4h-1zM14 749h1v4h-1zM15 748h1v3h-1zM16 746h1v3h-1zM17 744h1v4h-1zM18 744h1v4h-1zM19 742h1v6h-1zM20 740h1v6h-1zM21 740h1v6h-1zM22 738h1v6h-1zM23 737h1v5h-1zM24 733h1v5h-1zM25 725h1v6h-1zM26 718h1v7h-1zM27 713h1v5h-1zM28 708h1v7h-1zM29 705h1v5h-1zM30 702h1v6h-1zM31 702h1v5h-1z"/><path fill="#400a67" d="M0 707h1v6h-1zM1 710h1v5h-1zM2 713h1v5h-1zM3 718h1v5h-1zM4 725h1v5h-1zM5 735h1v5h-1zM6 746h1v3h-1zM7 751h1v4h-1zM8 755h1v4h-1zM9 757h1v6h-1zM10 759h1v4h-1zM11 759h1v6h-1zM12 759h1v4h-1zM13 755h1v6h-1zM14 753h1v4h-1zM15 751h1v4h-1zM16 749h1v4h-1zM17 748h1v3h-1zM18 748h1v3h-1zM19 748h1v3h-1zM20 746h1v3h-1zM21 746h1v3h-1zM22 744h1v4h-1zM23 742h1v4h-1zM24 738h1v6h-1zM25 731h1v6h-1zM26 725h1v5h-1zM27 718h1v5h-1zM28 715h1v5h-1zM29 710h1v6h-1zM30 708h1v5h-1zM31 707h1v6h-1z"/><path fill="#450a69" d="M0 713h1v5h-1zM1 715h1v5h-1zM2 718h1v7h-1zM3 723h1v5h-1zM4 730h1v5h-1zM5 740h1v4h-1zM6 749h1v4h-1zM7 755h1v4h-1zM8 759h1v6h-1zM9 763h1v4h-1zM10 763h1v6h-1zM11 765h1v4h-1zM12 763h1v6h-1zM13 761h1v4h-1zM14 757h1v6h-1zM15 755h1v4h-1zM16 753h1v4h-1zM17 751h1v4h-1zM18 751h1v4h-1zM19 751h1v4h-1zM20 749h1v4h-1zM21 749h1v4h-1zM22 748h1v3h-1zM23 746h1v3h-1zM24 744h1v4h-1zM25 737h1v5h-1zM26 730h1v5h-1zM27 723h1v5h-1zM28 720h1v5h-1zM29 716h1v5h-1zM30 713h1v5h-1zM31 713h1v5h-1z"/><path fill="#4a0c6b" d="M0 718h1v5h-1zM1 720h1v5h-1zM2 725h1v5h-1zM3 728h1v5h-1zM4 735h1v5h-1zM5 744h1v5h-1zM6 753h1v4h-1zM7 759h1v4h-1zM8 765h1v4h-1zM9 767h1v7h-1zM10 769h1v5h-1zM11 769h1v7h-1zM12 769h1v5h-1zM13 765h1v4h-1zM14 763h1v4h-1zM15 759h1v4h-1zM16 757h1v4h-1zM17 755h1v6h-1zM18 755h1v4h-1zM19 755h1v4h-1zM20 753h1v4h-1zM21 753h1v4h-1zM22 751h1v4h-1zM23 749h1v4h-1zM24 748h1v3h-1zM25 742h1v4h-1zM26 735h1v5h-1zM27 728h1v5h-1zM28 725h1v5h-1zM29 721h1v5h-1zM30 718h1v5h-1zM31 718h1v5h-1z"/><path fill="#4d0d6c" d="M0 723h1v5h-1zM1 725h1v5h-1zM2 730h1v3h-1zM3 733h1v5h-1zM4 740h1v4h-1zM5 749h1v2h-1zM6 757h1v4h-1zM7 763h1v4h-1zM8 769h1v5h-1zM9 774h1v4h-1zM10 774h1v6h-1zM11 776h1v4h-1zM12 774h1v6h-1zM13 769h1v7h-1zM14 767h1v4h-1zM15 763h1v6h-1zM16 761h1v4h-1zM17 761h1v4h-1zM18 759h1v4h-1zM19 759h1v4h-1zM20 757h1v4h-1zM21 757h1v4h-1zM22 755h1v4h-1zM23 753h1v4h-1zM24 751h1v4h-1zM25 746h1v3h-1zM26 740h1v4h-1zM27 733h1v5h-1zM28 730h1v5h-1zM29 726h1v5h-1zM30 723h1v5h-1zM31 723h1v5h-1z"/><path fill="#520e6d" d="M0 728h1v3h-1zM1 730h1v5h-1zM2 733h1v5h-1zM3 738h1v4h-1zM4 744h1v4h-1zM5 751h1v4h-1zM6 761h1v4h-1zM7 767h1v4h-1zM8 774h1v6h-1zM9 778h1v4h-1zM10 780h1v5h-1zM11 780h1v7h-1zM12 780h1v5h-1zM13 776h1v4h-1zM14 771h1v5h-1zM15 769h1v5h-1zM16 765h1v4h-1zM17 765h1v4h-1zM18 763h1v4h-1zM19 763h1v4h-1zM20 761h1v4h-1zM21 761h1v4h-1zM22 759h1v4h-1zM23 757h1v4h-1zM24 755h1v2h-1zM25 749h1v4h-1zM26 744h1v4h-1zM27 738h1v4h-1zM28 735h1v3h-1zM29 731h1v4h-1zM30 728h1v5h-1zM31 728h1v3h-1z"/><path fill="#57106e" d="M0 731h1v6h-1zM1 735h1v3h-1zM2 738h1v4h-1zM3 742h1v4h-1zM4 748h1v3h-1zM5 755h1v4h-1zM6 765h1v4h-1zM7 771h1v7h-1zM8 780h1v5h-1zM9 782h1v5h-1zM10 785h1v4h-1zM11 787h1v5h-1zM12 785h1v4h-1zM13 780h1v5h-1zM14 776h1v4h-1zM15 774h1v4h-1zM16 769h1v7h-1zM17 769h1v5h-1zM18 767h1v4h-1zM19 767h1v4h-1zM20 765h1v4h-1zM21 765h1v4h-1zM22 763h1v4h-1zM23 761h1v4h-1zM24 757h1v4h-1zM25 753h1v2h-1zM26 748h1v3h-1zM27 742h1v4h-1zM28 738h1v6h-1zM29 735h1v5h-1zM30 733h1v4h-1zM31 731h1v6h-1z"/><path fill="#5a116e" d="M0 737h1v3h-1zM1 738h1v4h-1zM2 742h1v4h-1zM3 746h1v3h-1zM4 751h1v4h-1zM5 759h1v4h-1zM6 769h1v5h-1zM7 778h1v4h-1zM8 785h1v4h-1zM9 787h1v5h-1zM10 789h1v5h-1zM11 792h1v4h-1zM12 789h1v5h-1zM13 785h1v4h-1zM14 780h1v5h-1zM15 778h1v4h-1zM16 776h1v4h-1zM17 774h1v4h-1zM18 771h1v5h-1zM19 771h1v5h-1zM20 769h1v5h-1zM21 769h1v5h-1zM22 767h1v4h-1zM23 765h1v4h-1zM24 761h1v4h-1zM25 755h1v4h-1zM26 751h1v4h-1zM27 746h1v3h-1zM28 744h1v4h-1zM29 740h1v4h-1zM30 737h1v5h-1zM31 737h1v3h-1z"/><path fill="#5f136e" d="M0 740h1v4h-1zM1 742h1v4h-1zM2 746h1v3h-1zM3 749h1v4h-1zM4 755h1v2h-1zM5 763h1v2h-1zM6 774h1v2h-1zM7 782h1v5h-1zM8 789h1v5h-1zM9 792h1v4h-1zM10 794h1v5h-1zM11 796h1v5h-1zM12 794h1v5h-1zM13 789h1v5h-1zM14 785h1v4h-1zM15 782h1v5h-1zM16 780h1v2h-1zM17 778h1v4h-1zM18 776h1v4h-1zM19 776h1v4h-1zM20 774h1v4h-1zM21 774h1v2h-1zM22 771h1v5h-1zM23 769h1v5h-1zM24 765h1v4h-1zM25 759h1v4h-1zM26 755h1v2h-1zM27 749h1v4h-1zM28 748h1v1h-1zM29 744h1v4h-1zM30 742h1v4h-1zM31 740h1v4h-1z"/><path fill="#64156e" d="M0 744h1v4h-1zM1 746h1v3h-1zM2 749h1v2h-1zM3 753h1v2h-1zM4 757h1v4h-1zM5 765h1v4h-1zM6 776h1v4h-1zM7 787h1v2h-1zM8 794h1v5h-1zM9 796h1v5h-1zM10 799h1v5h-1zM11 801h1v3h-1zM12 799h1v5h-1zM13 794h1v5h-1zM14 789h1v5h-1zM15 787h1v5h-1zM16 782h1v5h-1zM17 782h1v3h-1zM18 780h1v5h-1zM19 780h1v2h-1zM20 778h1v4h-1zM21 776h1v4h-1zM22 776h1v4h-1zM23 774h1v4h-1zM24 769h1v2h-1zM25 763h1v2h-1zM26 757h1v2h-1zM27 753h1v2h-1zM28 749h1v4h-1zM29 748h1v1h-1zM30 746h1v2h-1zM31 744h1v4h-1z"/><path fill="#67166e" d="M0 748h1v3h-1zM1 749h1v2h-1zM2 751h1v4h-1zM3 755h1v4h-1zM4 761h1v2h-1zM5 769h1v5h-1zM6 780h1v5h-1zM7 789h1v5h-1zM8 799h1v5h-1zM9 801h1v5h-1zM10 804h1v5h-1zM11 804h1v5h-1zM12 804h1v2h-1zM13 799h1v5h-1zM14 794h1v5h-1zM15 792h1v4h-1zM16 787h1v5h-1zM17 785h1v4h-1zM18 785h1v4h-1zM19 782h1v5h-1zM20 782h1v5h-1zM21 780h1v5h-1zM22 780h1v2h-1zM23 778h1v2h-1zM24 771h1v5h-1zM25 765h1v4h-1zM26 759h1v4h-1zM27 755h1v4h-1zM28 753h1v2h-1zM29 749h1v4h-1zM30 748h1v3h-1zM31 748h1v1h-1z"/><path fill="#6c186e" d="M0 751h1v2h-1zM1 751h1v4h-1zM2 755h1v2h-1zM3 759h1v2h-1zM4 763h1v4h-1zM5 774h1v2h-1zM6 785h1v4h-1zM7 794h1v5h-1zM8 804h1v2h-1zM9 806h1v5h-1zM10 809h1v5h-1zM11 809h1v5h-1zM12 806h1v5h-1zM13 804h1v5h-1zM14 799h1v5h-1zM15 796h1v3h-1zM16 792h1v4h-1zM17 789h1v5h-1zM18 789h1v5h-1zM19 787h1v5h-1zM20 787h1v5h-1zM21 785h1v4h-1zM22 782h1v5h-1zM23 780h1v5h-1zM24 776h1v4h-1zM25 769h1v2h-1zM26 763h1v2h-1zM27 759h1v2h-1zM28 755h1v2h-1zM29 753h1v2h-1zM30 751h1v2h-1zM31 749h1v4h-1z"/><path fill="#71196e" d="M0 753h1v2h-1zM1 755h1v2h-1zM2 757h1v4h-1zM3 761h1v2h-1zM4 767h1v2h-1zM5 776h1v4h-1zM6 789h1v5h-1zM7 799h1v5h-1zM8 806h1v5h-1zM9 811h1v6h-1zM10 814h1v3h-1zM11 814h1v5h-1zM12 811h1v6h-1zM13 809h1v2h-1zM14 804h1v5h-1zM15 799h1v5h-1zM16 796h1v5h-1zM17 794h1v5h-1zM18 794h1v5h-1zM19 792h1v4h-1zM20 792h1v2h-1zM21 789h1v5h-1zM22 787h1v5h-1zM23 785h1v4h-1zM24 780h1v2h-1zM25 771h1v5h-1zM26 765h1v4h-1zM27 761h1v2h-1zM28 757h1v4h-1zM29 755h1v2h-1zM30 753h1v2h-1zM31 753h1v2h-1z"/><path fill="#741a6e" d="M0 755h1v4h-1zM1 757h1v2h-1zM2 761h1v2h-1zM3 763h1v4h-1zM4 769h1v5h-1zM5 780h1v2h-1zM6 794h1v5h-1zM7 804h1v5h-1zM8 811h1v6h-1zM9 817h1v2h-1zM10 817h1v5h-1zM11 819h1v3h-1zM12 817h1v5h-1zM13 811h1v6h-1zM14 809h1v5h-1zM15 804h1v5h-1zM16 801h1v5h-1zM17 799h1v5h-1zM18 799h1v2h-1zM19 796h1v5h-1zM20 794h1v5h-1zM21 794h1v5h-1zM22 792h1v4h-1zM23 789h1v5h-1zM24 782h1v5h-1zM25 776h1v4h-1zM26 769h1v2h-1zM27 763h1v4h-1zM28 761h1v2h-1zM29 757h1v4h-1zM30 755h1v4h-1zM31 755h1v2h-1z"/><path fill="#781c6d" d="M0 759h1v2h-1zM1 759h1v2h-1zM2 763h1v2h-1zM3 767h1v2h-1zM4 774h1v2h-1zM5 782h1v5h-1zM6 799h1v2h-1zM7 809h1v2h-1zM8 817h1v2h-1zM9 819h1v6h-1zM10 822h1v3h-1zM11 822h1v6h-1zM12 822h1v3h-1zM13 817h1v5h-1zM14 814h1v3h-1zM15 809h1v5h-1zM16 806h1v3h-1zM17 804h1v5h-1zM18 801h1v5h-1zM19 801h1v5h-1zM20 799h1v5h-1zM21 799h1v2h-1zM22 796h1v5h-1zM23 794h1v2h-1zM24 787h1v5h-1zM25 780h1v2h-1zM26 771h1v5h-1zM27 767h1v2h-1zM28 763h1v2h-1zM29 761h1v2h-1zM30 759h1v2h-1zM31 757h1v4h-1z"/><path fill="#7d1e6d" d="M0 761h1v2h-1zM1 761h1v4h-1zM2 765h1v2h-1zM3 769h1v2h-1zM4 776h1v2h-1zM5 787h1v5h-1zM6 801h1v5h-1zM7 811h1v6h-1zM8 819h1v6h-1zM9 825h1v3h-1zM10 825h1v5h-1zM11 828h1v2h-1zM12 825h1v5h-1zM13 822h1v3h-1zM14 817h1v5h-1zM15 814h1v3h-1zM16 809h1v5h-1zM17 809h1v2h-1zM18 806h1v5h-1zM19 806h1v3h-1zM20 804h1v5h-1zM21 801h1v5h-1zM22 801h1v3h-1zM23 796h1v5h-1zM24 792h1v4h-1zM25 782h1v5h-1zM26 776h1v2h-1zM27 769h1v2h-1zM28 765h1v4h-1zM29 763h1v2h-1zM30 761h1v2h-1zM31 761h1v2h-1z"/><path fill="#801f6c" d="M0 763h1v2h-1zM1 765h1v2h-1zM2 767h1v4h-1zM3 771h1v5h-1zM4 778h1v4h-1zM5 792h1v4h-1zM6 806h1v5h-1zM7 817h1v5h-1zM8 825h1v3h-1zM9 828h1v5h-1zM10 830h1v3h-1zM11 830h1v6h-1zM12 830h1v3h-1zM13 825h1v5h-1zM14 822h1v3h-1zM15 817h1v5h-1zM16 814h1v5h-1zM17 811h1v6h-1zM18 811h1v3h-1zM19 809h1v5h-1zM20 809h1v2h-1zM21 806h1v5h-1zM22 804h1v5h-1zM23 801h1v5h-1zM24 796h1v3h-1zM25 787h1v2h-1zM26 778h1v4h-1zM27 771h1v5h-1zM28 769h1v2h-1zM29 765h1v2h-1zM30 763h1v2h-1zM31 763h1v2h-1z"/><path fill="#85216b" d="M0 765h1v2h-1zM1 767h1v2h-1zM2 771h1v3h-1zM3 776h1v2h-1zM4 782h1v3h-1zM5 796h1v3h-1zM6 811h1v3h-1zM7 822h1v3h-1zM8 828h1v5h-1zM9 833h1v3h-1zM10 833h1v6h-1zM11 836h1v3h-1zM12 833h1v3h-1zM13 830h1v3h-1zM14 825h1v5h-1zM15 822h1v3h-1zM16 819h1v3h-1zM17 817h1v2h-1zM18 814h1v5h-1zM19 814h1v3h-1zM20 811h1v6h-1zM21 811h1v3h-1zM22 809h1v5h-1zM23 806h1v3h-1zM24 799h1v5h-1zM25 789h1v5h-1zM26 782h1v3h-1zM27 776h1v2h-1zM28 771h1v3h-1zM29 767h1v4h-1zM30 765h1v2h-1zM31 765h1v2h-1z"/><path fill="#8a226a" d="M0 767h1v2h-1zM1 769h1v2h-1zM2 774h1v2h-1zM3 778h1v2h-1zM4 785h1v4h-1zM5 799h1v5h-1zM6 814h1v5h-1zM7 825h1v5h-1zM8 833h1v3h-1zM9 836h1v3h-1zM10 839h1v3h-1zM11 839h1v3h-1zM12 836h1v6h-1zM13 833h1v3h-1zM14 830h1v3h-1zM15 825h1v5h-1zM16 822h1v6h-1zM17 819h1v6h-1zM18 819h1v3h-1zM19 817h1v5h-1zM20 817h1v2h-1zM21 814h1v5h-1zM22 814h1v3h-1zM23 809h1v5h-1zM24 804h1v5h-1zM25 794h1v5h-1zM26 785h1v4h-1zM27 778h1v2h-1zM28 774h1v4h-1zM29 771h1v3h-1zM30 767h1v4h-1zM31 767h1v2h-1z"/><path fill="#8d2369" d="M0 769h1v5h-1zM1 771h1v5h-1zM2 776h1v2h-1zM3 780h1v5h-1zM4 789h1v3h-1zM5 804h1v2h-1zM6 819h1v3h-1zM7 830h1v3h-1zM8 836h1v3h-1zM9 839h1v6h-1zM10 842h1v3h-1zM11 842h1v6h-1zM12 842h1v3h-1zM13 836h1v6h-1zM14 833h1v3h-1zM15 830h1v3h-1zM16 828h1v2h-1zM17 825h1v3h-1zM18 822h1v6h-1zM19 822h1v3h-1zM20 819h1v6h-1zM21 819h1v3h-1zM22 817h1v5h-1zM23 814h1v3h-1zM24 809h1v2h-1zM25 799h1v2h-1zM26 789h1v3h-1zM27 780h1v5h-1zM28 778h1v2h-1zM29 774h1v2h-1zM30 771h1v3h-1zM31 769h1v5h-1z"/><path fill="#922568" d="M0 774h1v2h-1zM1 776h1v2h-1zM2 778h1v4h-1zM3 785h1v2h-1zM4 792h1v4h-1zM5 806h1v5h-1zM6 822h1v6h-1zM7 833h1v3h-1zM8 839h1v6h-1zM9 845h1v3h-1zM10 845h1v3h-1zM11 848h1v4h-1zM12 845h1v3h-1zM13 842h1v3h-1zM14 836h1v6h-1zM15 833h1v3h-1zM16 830h1v3h-1zM17 828h1v5h-1zM18 828h1v2h-1zM19 825h1v5h-1zM20 825h1v3h-1zM21 822h1v6h-1zM22 822h1v3h-1zM23 817h1v5h-1zM24 811h1v6h-1zM25 801h1v5h-1zM26 792h1v4h-1zM27 785h1v2h-1zM28 780h1v2h-1zM29 776h1v2h-1zM30 774h1v2h-1zM31 774h1v2h-1z"/><path fill="#972766" d="M0 776h1v2h-1zM1 778h1v2h-1zM2 782h1v3h-1zM3 787h1v5h-1zM4 796h1v5h-1zM5 811h1v6h-1zM6 828h1v2h-1zM7 836h1v3h-1zM8 845h1v3h-1zM9 848h1v4h-1zM10 848h1v7h-1zM11 852h1v3h-1zM12 848h1v4h-1zM13 845h1v3h-1zM14 842h1v3h-1zM15 836h1v6h-1zM16 833h1v6h-1zM17 833h1v3h-1zM18 830h1v6h-1zM19 830h1v3h-1zM20 828h1v2h-1zM21 828h1v2h-1zM22 825h1v3h-1zM23 822h1v3h-1zM24 817h1v2h-1zM25 806h1v3h-1zM26 796h1v5h-1zM27 787h1v5h-1zM28 782h1v3h-1zM29 778h1v2h-1zM30 776h1v2h-1zM31 776h1v2h-1z"/><path fill="#9a2865" d="M0 778h1v2h-1zM1 780h1v2h-1zM2 785h1v2h-1zM3 792h1v2h-1zM4 801h1v3h-1zM5 817h1v2h-1zM6 830h1v3h-1zM7 839h1v6h-1zM8 848h1v4h-1zM9 852h1v3h-1zM10 855h1v3h-1zM11 855h1v3h-1zM12 852h1v6h-1zM13 848h1v4h-1zM14 845h1v3h-1zM15 842h1v3h-1zM16 839h1v3h-1zM17 836h1v3h-1zM18 836h1v3h-1zM19 833h1v3h-1zM20 830h1v6h-1zM21 830h1v3h-1zM22 828h1v5h-1zM23 825h1v5h-1zM24 819h1v6h-1zM25 809h1v5h-1zM26 801h1v3h-1zM27 792h1v2h-1zM28 785h1v4h-1zM29 780h1v5h-1zM30 778h1v2h-1zM31 778h1v2h-1z"/><path fill="#9f2a63" d="M0 780h1v2h-1zM1 782h1v3h-1zM2 787h1v5h-1zM3 794h1v5h-1zM4 804h1v5h-1zM5 819h1v3h-1zM6 833h1v3h-1zM7 845h1v3h-1zM8 852h1v3h-1zM9 855h1v6h-1zM10 858h1v3h-1zM11 858h1v3h-1zM12 858h1v3h-1zM13 852h1v6h-1zM14 848h1v4h-1zM15 845h1v3h-1zM16 842h1v3h-1zM17 839h1v3h-1zM18 839h1v3h-1zM19 836h1v6h-1zM20 836h1v3h-1zM21 833h1v3h-1zM22 833h1v3h-1zM23 830h1v3h-1zM24 825h1v3h-1zM25 814h1v3h-1zM26 804h1v5h-1zM27 794h1v5h-1zM28 789h1v3h-1zM29 785h1v2h-1zM30 780h1v5h-1zM31 780h1v2h-1z"/><path fill="#a32c61" d="M0 782h1v5h-1zM1 785h1v4h-1zM2 792h1v2h-1zM3 799h1v2h-1zM4 809h1v2h-1zM5 822h1v6h-1zM6 836h1v6h-1zM7 848h1v4h-1zM8 855h1v3h-1zM9 861h1v4h-1zM10 861h1v4h-1zM11 861h1v7h-1zM12 861h1v4h-1zM13 858h1v3h-1zM14 852h1v6h-1zM15 848h1v4h-1zM16 845h1v3h-1zM17 842h1v6h-1zM18 842h1v3h-1zM19 842h1v3h-1zM20 839h1v3h-1zM21 836h1v6h-1zM22 836h1v3h-1zM23 833h1v3h-1zM24 828h1v2h-1zM25 817h1v5h-1zM26 809h1v2h-1zM27 799h1v2h-1zM28 792h1v4h-1zM29 787h1v2h-1zM30 785h1v2h-1zM31 782h1v3h-1z"/><path fill="#a62d60" d="M0 787h1v2h-1zM1 789h1v3h-1zM2 794h1v5h-1zM3 801h1v5h-1zM4 811h1v6h-1zM5 828h1v2h-1zM6 842h1v3h-1zM7 852h1v3h-1zM8 858h1v7h-1zM9 865h1v3h-1zM10 865h1v3h-1zM11 868h1v4h-1zM12 865h1v3h-1zM13 861h1v4h-1zM14 858h1v3h-1zM15 852h1v3h-1zM16 848h1v4h-1zM17 848h1v4h-1zM18 845h1v3h-1zM19 845h1v3h-1zM20 842h1v3h-1zM21 842h1v3h-1zM22 839h1v3h-1zM23 836h1v3h-1zM24 830h1v3h-1zM25 822h1v3h-1zM26 811h1v3h-1zM27 801h1v5h-1zM28 796h1v3h-1zM29 789h1v5h-1zM30 787h1v2h-1zM31 785h1v4h-1z"/><path fill="#ab2f5e" d="M0 789h1v5h-1zM1 792h1v4h-1zM2 799h1v2h-1zM3 806h1v3h-1zM4 817h1v2h-1zM5 830h1v3h-1zM6 845h1v3h-1zM7 855h1v3h-1zM8 865h1v3h-1zM9 868h1v4h-1zM10 868h1v4h-1zM11 872h1v3h-1zM12 868h1v4h-1zM13 865h1v3h-1zM14 861h1v4h-1zM15 855h1v3h-1zM16 852h1v6h-1zM17 852h1v3h-1zM18 848h1v4h-1zM19 848h1v4h-1zM20 845h1v3h-1zM21 845h1v3h-1zM22 842h1v6h-1zM23 839h1v6h-1zM24 833h1v6h-1zM25 825h1v3h-1zM26 814h1v5h-1zM27 806h1v3h-1zM28 799h1v5h-1zM29 794h1v5h-1zM30 789h1v5h-1zM31 789h1v3h-1z"/><path fill="#b0315b" d="M0 794h1v2h-1zM1 796h1v3h-1zM2 801h1v5h-1zM3 809h1v5h-1zM4 819h1v3h-1zM5 833h1v3h-1zM6 848h1v4h-1zM7 858h1v3h-1zM8 868h1v4h-1zM9 872h1v3h-1zM10 872h1v3h-1zM11 875h1v4h-1zM12 872h1v3h-1zM13 868h1v4h-1zM14 865h1v3h-1zM15 858h1v7h-1zM16 858h1v3h-1zM17 855h1v3h-1zM18 852h1v6h-1zM19 852h1v3h-1zM20 848h1v7h-1zM21 848h1v4h-1zM22 848h1v4h-1zM23 845h1v3h-1zM24 839h1v3h-1zM25 828h1v5h-1zM26 819h1v3h-1zM27 809h1v5h-1zM28 804h1v2h-1zM29 799h1v2h-1zM30 794h1v2h-1zM31 792h1v4h-1z"/><path fill="#b3325a" d="M0 796h1v5h-1zM1 799h1v5h-1zM2 806h1v3h-1zM3 814h1v3h-1zM4 822h1v6h-1zM5 836h1v6h-1zM6 852h1v3h-1zM7 861h1v4h-1zM8 872h1v3h-1zM9 875h1v4h-1zM10 875h1v8h-1zM11 879h1v4h-1zM12 875h1v4h-1zM13 872h1v3h-1zM14 868h1v4h-1zM15 865h1v3h-1zM16 861h1v4h-1zM17 858h1v3h-1zM18 858h1v3h-1zM19 855h1v3h-1zM20 855h1v3h-1zM21 852h1v3h-1zM22 852h1v3h-1zM23 848h1v4h-1zM24 842h1v3h-1zM25 833h1v3h-1zM26 822h1v3h-1zM27 814h1v3h-1zM28 806h1v5h-1zM29 801h1v3h-1zM30 796h1v5h-1zM31 796h1v3h-1z"/><path fill="#b73557" d="M0 801h1v3h-1zM1 804h1v2h-1zM2 809h1v5h-1zM3 817h1v2h-1zM4 828h1v2h-1zM5 842h1v3h-1zM6 855h1v3h-1zM7 865h1v3h-1zM8 875h1v4h-1zM9 879h1v4h-1zM10 883h1v3h-1zM11 883h1v3h-1zM12 879h1v4h-1zM13 875h1v4h-1zM14 872h1v3h-1zM15 868h1v4h-1zM16 865h1v3h-1zM17 861h1v4h-1zM18 861h1v4h-1zM19 858h1v3h-1zM20 858h1v3h-1zM21 855h1v3h-1zM22 855h1v3h-1zM23 852h1v3h-1zM24 845h1v3h-1zM25 836h1v3h-1zM26 825h1v5h-1zM27 817h1v2h-1zM28 811h1v3h-1zM29 804h1v5h-1zM30 801h1v3h-1zM31 799h1v5h-1z"/><path fill="#bc3754" d="M0 804h1v2h-1zM1 806h1v3h-1zM2 814h1v3h-1zM3 819h1v6h-1zM4 830h1v3h-1zM5 845h1v3h-1zM6 858h1v3h-1zM7 868h1v4h-1zM8 879h1v4h-1zM9 883h1v3h-1zM10 886h1v4h-1zM11 886h1v4h-1zM12 883h1v7h-1zM13 879h1v4h-1zM14 875h1v4h-1zM15 872h1v3h-1zM16 868h1v4h-1zM17 865h1v3h-1zM18 865h1v3h-1zM19 861h1v4h-1zM20 861h1v4h-1zM21 858h1v3h-1zM22 858h1v3h-1zM23 855h1v3h-1zM24 848h1v4h-1zM25 839h1v3h-1zM26 830h1v3h-1zM27 819h1v6h-1zM28 814h1v3h-1zM29 809h1v2h-1zM30 804h1v5h-1zM31 804h1v2h-1z"/><path fill="#bf3952" d="M0 806h1v5h-1zM1 809h1v5h-1zM2 817h1v2h-1zM3 825h1v3h-1zM4 833h1v3h-1zM5 848h1v4h-1zM6 861h1v4h-1zM7 872h1v3h-1zM8 883h1v3h-1zM9 886h1v4h-1zM10 890h1v4h-1zM11 890h1v4h-1zM12 890h1v4h-1zM13 883h1v3h-1zM14 879h1v4h-1zM15 875h1v4h-1zM16 872h1v3h-1zM17 868h1v4h-1zM18 868h1v4h-1zM19 865h1v3h-1zM20 865h1v3h-1zM21 861h1v4h-1zM22 861h1v4h-1zM23 858h1v3h-1zM24 852h1v3h-1zM25 842h1v3h-1zM26 833h1v3h-1zM27 825h1v3h-1zM28 817h1v5h-1zM29 811h1v3h-1zM30 809h1v2h-1zM31 806h1v3h-1z"/><path fill="#c33b4f" d="M0 811h1v3h-1zM1 814h1v3h-1zM2 819h1v3h-1zM3 828h1v2h-1zM4 836h1v3h-1zM5 852h1v3h-1zM6 865h1v3h-1zM7 875h1v4h-1zM8 886h1v4h-1zM9 890h1v8h-1zM10 894h1v4h-1zM11 894h1v8h-1zM12 894h1v4h-1zM13 886h1v4h-1zM14 883h1v3h-1zM15 879h1v4h-1zM16 875h1v4h-1zM17 872h1v3h-1zM18 872h1v3h-1zM19 868h1v4h-1zM20 868h1v4h-1zM21 865h1v3h-1zM22 865h1v3h-1zM23 861h1v4h-1zM24 855h1v3h-1zM25 845h1v3h-1zM26 836h1v3h-1zM27 828h1v2h-1zM28 822h1v3h-1zM29 814h1v5h-1zM30 811h1v3h-1zM31 809h1v5h-1z"/><path fill="#c73e4c" d="M0 814h1v3h-1zM1 817h1v2h-1zM2 822h1v6h-1zM3 830h1v3h-1zM4 839h1v3h-1zM5 855h1v3h-1zM6 868h1v4h-1zM7 879h1v4h-1zM8 890h1v4h-1zM9 898h1v4h-1zM10 898h1v4h-1zM11 902h1v4h-1zM12 898h1v4h-1zM13 890h1v8h-1zM14 886h1v4h-1zM15 883h1v3h-1zM16 879h1v4h-1zM17 875h1v4h-1zM18 875h1v4h-1zM19 872h1v3h-1zM20 872h1v3h-1zM21 868h1v4h-1zM22 868h1v4h-1zM23 865h1v3h-1zM24 858h1v3h-1zM25 848h1v4h-1zM26 839h1v3h-1zM27 830h1v3h-1zM28 825h1v3h-1zM29 819h1v3h-1zM30 814h1v3h-1zM31 814h1v3h-1z"/><path fill="#ca404a" d="M0 817h1v2h-1zM1 819h1v3h-1zM2 828h1v2h-1zM3 833h1v3h-1zM4 842h1v3h-1zM5 858h1v3h-1zM6 872h1v3h-1zM7 883h1v3h-1zM8 894h1v4h-1zM9 902h1v4h-1zM10 902h1v9h-1zM11 906h1v5h-1zM12 902h1v4h-1zM13 898h1v4h-1zM14 890h1v4h-1zM15 886h1v4h-1zM16 883h1v3h-1zM17 879h1v4h-1zM18 879h1v4h-1zM19 875h1v4h-1zM20 875h1v4h-1zM21 872h1v3h-1zM22 872h1v3h-1zM23 868h1v4h-1zM24 861h1v4h-1zM25 852h1v3h-1zM26 842h1v3h-1zM27 833h1v3h-1zM28 828h1v2h-1zM29 822h1v3h-1zM30 817h1v5h-1zM31 817h1v2h-1z"/><path fill="#ce4347" d="M0 819h1v6h-1zM1 822h1v6h-1zM2 830h1v3h-1zM3 836h1v3h-1zM4 845h1v3h-1zM5 861h1v4h-1zM6 875h1v4h-1zM7 886h1v4h-1zM8 898h1v8h-1zM9 906h1v5h-1zM10 911h1v4h-1zM11 911h1v9h-1zM12 906h1v9h-1zM13 902h1v4h-1zM14 894h1v4h-1zM15 890h1v4h-1zM16 886h1v4h-1zM17 883h1v3h-1zM19 879h1v4h-1zM21 875h1v4h-1zM22 875h1v4h-1zM23 872h1v3h-1zM24 865h1v3h-1zM25 855h1v3h-1zM26 845h1v3h-1zM27 836h1v3h-1zM28 830h1v3h-1zM29 825h1v3h-1zM30 822h1v3h-1zM31 819h1v3h-1z"/><path fill="#d24644" d="M0 825h1v3h-1zM1 828h1v2h-1zM2 833h1v3h-1zM3 839h1v3h-1zM4 848h1v4h-1zM5 865h1v3h-1zM6 879h1v4h-1zM7 890h1v8h-1zM8 906h1v5h-1zM9 911h1v9h-1zM10 915h1v5h-1zM11 920h1v4h-1zM12 915h1v5h-1zM13 906h1v5h-1zM14 898h1v8h-1zM15 894h1v4h-1zM16 890h1v4h-1zM17 886h1v4h-1zM18 883h1v3h-1zM19 883h1v3h-1zM20 879h1v4h-1zM21 879h1v4h-1zM23 875h1v4h-1zM24 868h1v4h-1zM25 858h1v3h-1zM26 848h1v4h-1zM27 839h1v3h-1zM28 833h1v3h-1zM29 828h1v2h-1zM30 825h1v3h-1zM31 822h1v6h-1z"/><path fill="#d44842" d="M0 828h1v2h-1zM1 830h1v3h-1zM2 836h1v3h-1zM3 842h1v3h-1zM4 852h1v3h-1zM6 883h1v3h-1zM7 898h1v4h-1zM8 911h1v4h-1zM9 920h1v4h-1zM10 920h1v4h-1zM11 924h1v5h-1zM12 920h1v4h-1zM13 911h1v9h-1zM14 906h1v5h-1zM15 898h1v4h-1zM16 894h1v4h-1zM17 890h1v4h-1zM18 886h1v8h-1zM19 886h1v4h-1zM20 883h1v3h-1zM21 883h1v3h-1zM22 879h1v4h-1zM24 872h1v3h-1zM25 861h1v4h-1zM26 852h1v3h-1zM27 842h1v3h-1zM28 836h1v3h-1zM29 830h1v3h-1zM30 828h1v2h-1zM31 828h1v2h-1z"/><path fill="#d84c3e" d="M0 830h1v3h-1zM1 833h1v3h-1zM2 839h1v3h-1zM3 845h1v3h-1zM4 855h1v3h-1zM5 868h1v4h-1zM6 886h1v4h-1zM7 902h1v4h-1zM8 915h1v5h-1zM9 989h1v7h-1zm0-65h1v5h-1zM10 989h1v7h-1zm0-65h1v5h-1zM11 983h1v13h-1zm0-54h1v5h-1zM12 989h1v7h-1zm0-65h1v5h-1zM13 920h1v4h-1zM14 911h1v4h-1zM15 902h1v4h-1zM16 898h1v4h-1zM17 894h1v4h-1zM18 894h1v4h-1zM19 890h1v4h-1zM20 886h1v4h-1zM21 886h1v4h-1zM22 883h1v3h-1zM23 879h1v4h-1zM24 875h1v4h-1zM25 865h1v3h-1zM26 855h1v3h-1zM27 845h1v3h-1zM28 839h1v3h-1zM29 833h1v6h-1zM30 830h1v3h-1zM31 830h1v3h-1z"/><path fill="#db503b" d="M0 833h1v3h-1zM1 836h1v3h-1zM2 842h1v3h-1zM3 848h1v4h-1zM4 858h1v3h-1zM5 872h1v3h-1zM6 890h1v4h-1zM7 906h1v5h-1zM8 920h1v9h-1zM9 983h1v6h-1zm0-54h1v5h-1zM10 983h1v6h-1zm0-54h1v5h-1zM11 977h1v6h-1zm0-43h1v5h-1zM12 983h1v6h-1zm0-54h1v5h-1zM13 989h1v7h-1zm0-65h1v5h-1zM14 915h1v5h-1zM15 906h1v9h-1zM16 902h1v4h-1zM17 898h1v4h-1zM18 898h1v4h-1zM19 894h1v4h-1zM20 890h1v8h-1zM21 890h1v4h-1zM22 886h1v4h-1zM23 883h1v3h-1zM25 868h1v4h-1zM26 858h1v3h-1zM27 848h1v4h-1zM28 842h1v3h-1zM29 839h1v3h-1zM30 833h1v3h-1zM31 833h1v3h-1z"/><path fill="#de5238" d="M0 836h1v3h-1zM1 839h1v3h-1zM2 845h1v3h-1zM3 852h1v3h-1zM4 861h1v4h-1zM5 875h1v4h-1zM6 894h1v4h-1zM7 911h1v9h-1zM8 989h1v7h-1zm0-60h1v5h-1zM9 977h1v6h-1zm0-43h1v5h-1zM10 971h1v12h-1zm0-37h1v5h-1zM11 971h1v6h-1zM12 971h1v12h-1zm0-37h1v5h-1zM13 983h1v6h-1zm0-54h1v5h-1zM14 920h1v9h-1zM15 915h1v5h-1zM16 906h1v5h-1zM17 902h1v9h-1zM18 902h1v4h-1zM19 898h1v4h-1zM20 898h1v4h-1zM21 894h1v4h-1zM22 890h1v4h-1zM23 886h1v4h-1zM24 879h1v4h-1zM26 861h1v4h-1zM27 852h1v3h-1zM28 845h1v3h-1zM29 842h1v3h-1zM30 836h1v3h-1zM31 836h1v3h-1z"/><path fill="#e15635" d="M0 839h1v3h-1zM1 842h1v3h-1zM2 848h1v4h-1zM3 855h1v3h-1zM4 865h1v3h-1zM5 879h1v4h-1zM6 898h1v4h-1zM7 920h1v4h-1zM8 977h1v12h-1zM9 971h1v6h-1zM10 965h1v6h-1zm0-26h1v5h-1zM11 939h1v32h-1zM13 977h1v6h-1zm0-43h1v5h-1zM14 989h1v7h-1zm0-60h1v5h-1zM15 920h1v4h-1zM16 911h1v9h-1zM17 911h1v4h-1zM18 906h1v5h-1zM19 902h1v9h-1zM20 902h1v4h-1zM21 898h1v4h-1zM22 894h1v8h-1zM23 890h1v4h-1zM24 883h1v3h-1zM25 872h1v3h-1zM26 865h1v3h-1zM27 855h1v3h-1zM28 848h1v4h-1zM30 839h1v3h-1zM31 839h1v3h-1z"/><path fill="#e45a31" d="M0 842h1v3h-1zM1 845h1v3h-1zM2 852h1v3h-1zM3 858h1v3h-1zM4 868h1v4h-1zM5 883h1v3h-1zM6 902h1v4h-1zM7 989h1v7h-1zm0-65h1v5h-1zM8 971h1v6h-1zm0-37h1v5h-1zM9 939h1v32h-1zM10 944h1v21h-1zM12 939h1v32h-1zM13 971h1v6h-1zM14 977h1v12h-1zM15 989h1v7h-1zm0-65h1v5h-1zM16 920h1v4h-1zM17 915h1v5h-1zM18 911h1v9h-1zM19 911h1v4h-1zM20 906h1v5h-1zM21 902h1v4h-1zM22 902h1v4h-1zM23 894h1v4h-1zM24 886h1v4h-1zM25 875h1v4h-1zM27 858h1v3h-1zM28 852h1v3h-1zM29 845h1v3h-1zM30 842h1v3h-1zM31 842h1v3h-1z"/><path fill="#e65d2f" d="M0 845h1v3h-1zM1 848h1v4h-1zM2 855h1v3h-1zM3 861h1v4h-1zM6 906h1v9h-1zM7 983h1v6h-1zm0-54h1v5h-1zM8 965h1v6h-1zm0-26h1v5h-1zM13 939h1v32h-1zM14 971h1v6h-1zm0-37h1v5h-1zM15 983h1v6h-1zm0-54h1v5h-1zM16 989h1v7h-1zm0-65h1v5h-1zM17 989h1v7h-1zm0-69h1v4h-1zM18 920h1v4h-1zM19 915h1v5h-1zM20 911h1v4h-1zM21 906h1v9h-1zM22 906h1v5h-1zM23 898h1v8h-1zM24 890h1v4h-1zM25 879h1v4h-1zM26 868h1v4h-1zM27 861h1v4h-1zM28 855h1v3h-1zM29 848h1v4h-1zM30 845h1v3h-1zM31 845h1v3h-1z"/><path fill="#e9612b" d="M0 848h1v4h-1zM1 852h1v3h-1zM4 872h1v3h-1zM5 886h1v4h-1zM6 915h1v5h-1zM7 971h1v12h-1zm0-37h1v5h-1zM8 944h1v21h-1zM14 965h1v6h-1zm0-26h1v5h-1zM15 971h1v12h-1zm0-37h1v5h-1zM16 983h1v6h-1zm0-54h1v5h-1zM17 983h1v6h-1zm0-59h1v5h-1zM18 989h1v7h-1zm0-65h1v5h-1zM19 989h1v7h-1zm0-69h1v4h-1zM20 915h1v9h-1zM21 915h1v5h-1zM22 911h1v4h-1zM23 906h1v5h-1zM24 894h1v4h-1zM25 883h1v3h-1zM26 872h1v3h-1zM28 858h1v3h-1zM29 852h1v3h-1zM30 848h1v4h-1zM31 848h1v4h-1z"/><path fill="#eb6628" d="M0 852h1v3h-1zM2 858h1v3h-1zM3 865h1v3h-1zM4 875h1v4h-1zM5 890h1v4h-1zM6 989h1v7h-1zm0-69h1v4h-1zM14 944h1v21h-1zM16 971h1v12h-1zm0-37h1v5h-1zM17 977h1v6h-1zm0-48h1v5h-1zM18 983h1v6h-1zm0-54h1v5h-1zM19 983h1v6h-1zm0-59h1v5h-1zM20 989h1v7h-1zm0-65h1v5h-1zM21 989h1v7h-1zm0-69h1v4h-1zM22 915h1v5h-1zM23 911h1v4h-1zM24 898h1v8h-1zM26 875h1v4h-1zM27 865h1v3h-1zM29 855h1v3h-1zM30 852h1v3h-1z"/><path fill="#ed6925" d="M1 855h1v3h-1zM2 861h1v4h-1zM3 868h1v4h-1zM4 879h1v4h-1zM5 894h1v8h-1zM6 983h1v6h-1zm0-59h1v5h-1zM7 939h1v32h-1zM15 939h1v32h-1zM17 971h1v6h-1zm0-37h1v5h-1zM18 971h1v12h-1zm0-37h1v5h-1zM19 977h1v6h-1zm0-48h1v5h-1zM20 983h1v6h-1zm0-54h1v5h-1zM21 983h1v6h-1zm0-59h1v5h-1zM22 989h1v7h-1zm0-69h1v9h-1zM23 915h1v5h-1zM24 906h1v5h-1zM25 886h1v4h-1zM27 868h1v4h-1zM28 861h1v4h-1zM29 858h1v3h-1zM30 855h1v3h-1zM31 852h1v3h-1z"/><path fill="#ef6e21" d="M0 855h1v3h-1zM1 858h1v3h-1zM2 865h1v3h-1zM3 872h1v3h-1zM5 902h1v4h-1zM6 977h1v6h-1zm0-48h1v5h-1zM16 939h1v32h-1zM17 965h1v6h-1zM19 971h1v6h-1zm0-37h1v5h-1zM20 971h1v12h-1zm0-37h1v5h-1zM21 977h1v6h-1zm0-48h1v5h-1zM22 983h1v6h-1zm0-54h1v5h-1zM23 989h1v7h-1zm0-69h1v4h-1zM24 911h1v4h-1zM25 890h1v4h-1zM26 879h1v4h-1zM27 872h1v3h-1zM28 865h1v3h-1zM31 855h1v3h-1z"/><path fill="#f1731d" d="M0 858h1v3h-1zM1 861h1v4h-1zM2 868h1v4h-1zM3 875h1v4h-1zM4 883h1v3h-1zM5 906h1v5h-1zM6 971h1v6h-1zm0-37h1v5h-1zM17 939h1v26h-1zM18 939h1v32h-1zM19 965h1v6h-1zM21 971h1v6h-1zm0-37h1v5h-1zM22 971h1v12h-1zM23 983h1v6h-1zm0-59h1v5h-1zM24 915h1v5h-1zM25 894h1v8h-1zM26 883h1v3h-1zM27 875h1v4h-1zM28 868h1v4h-1zM29 861h1v4h-1zM30 858h1v3h-1zM31 858h1v3h-1z"/><path fill="#f3761b" d="M0 861h1v4h-1zM4 886h1v4h-1zM5 911h1v4h-1zM6 965h1v6h-1zM19 939h1v26h-1zM20 954h1v17h-1zm0-15h1v10h-1zM21 965h1v6h-1zM22 934h1v5h-1zM23 977h1v6h-1zm0-48h1v5h-1zM24 989h1v7h-1zm0-69h1v4h-1zM25 902h1v4h-1zM26 886h1v4h-1zM28 872h1v3h-1zM29 865h1v3h-1zM30 861h1v4h-1zM31 861h1v4h-1z"/><path fill="#f57b17" d="M1 865h1v3h-1zM2 872h1v3h-1zM3 879h1v4h-1zM4 890h1v4h-1zM5 989h1v7h-1zm0-74h1v5h-1zM6 939h1v26h-1zM20 949h1v5h-1zM21 939h1v26h-1zM22 959h1v12h-1zm0-20h1v5h-1zM23 971h1v6h-1zm0-37h1v5h-1zM24 983h1v6h-1zm0-59h1v5h-1zM25 906h1v5h-1zM26 890h1v4h-1zM27 879h1v4h-1zM29 868h1v4h-1zM30 865h1v3h-1z"/><path fill="#f68013" d="M0 865h1v3h-1zM1 868h1v4h-1zM2 875h1v4h-1zM3 883h1v3h-1zM4 894h1v4h-1zM5 983h1v6h-1zm0-63h1v9h-1zM22 944h1v15h-1zM23 965h1v6h-1zM24 977h1v6h-1zm0-48h1v5h-1zM25 911h1v4h-1zM26 894h1v4h-1zM27 883h1v3h-1zM28 875h1v4h-1zM31 865h1v3h-1z"/><path fill="#f78410" d="M0 868h1v4h-1zM1 872h1v3h-1zM4 898h1v4h-1zM5 977h1v6h-1zm0-48h1v5h-1zM23 939h1v26h-1zM24 971h1v6h-1zm0-37h1v5h-1zM25 989h1v7h-1zm0-74h1v5h-1zM26 898h1v4h-1zM28 879h1v4h-1zM29 872h1v3h-1zM30 868h1v4h-1zM31 868h1v4h-1z"/><path fill="#f8890c" d="M0 872h1v3h-1zM2 879h1v4h-1zM3 886h1v4h-1zM4 902h1v4h-1zM5 971h1v6h-1zM24 965h1v6h-1zM25 983h1v6h-1zm0-63h1v4h-1zM26 902h1v4h-1zM27 886h1v4h-1zM29 875h1v4h-1zM30 872h1v3h-1z"/><path fill="#f98e09" d="M1 875h1v4h-1zM2 883h1v3h-1zM3 890h1v4h-1zM4 906h1v5h-1zM5 934h1v5h-1zM24 939h1v26h-1zM25 977h1v6h-1zm0-53h1v5h-1zM26 906h1v5h-1zM27 890h1v4h-1zM28 883h1v3h-1zM31 872h1v3h-1z"/><path fill="#fa9207" d="M0 875h1v4h-1zM1 879h1v4h-1zM3 894h1v4h-1zM4 989h1v7h-1zm0-78h1v9h-1zM5 959h1v12h-1zM25 971h1v6h-1zm0-42h1v5h-1zM26 989h1v7h-1zm0-78h1v4h-1zM27 894h1v4h-1zM28 886h1v4h-1zM29 879h1v4h-1zM30 875h1v4h-1zM31 875h1v4h-1z"/><path fill="#fb9706" d="M0 879h1v4h-1zM2 886h1v4h-1zM3 898h1v4h-1zM4 920h1v4h-1zM5 939h1v20h-1zM25 934h1v5h-1zM26 915h1v5h-1zM27 898h1v4h-1zM29 883h1v3h-1zM30 879h1v4h-1z"/><path fill="#fb9d07" d="M1 883h1v3h-1zM2 890h1v4h-1zM3 902h1v9h-1zM4 983h1v6h-1zm0-59h1v5h-1zM25 959h1v12h-1zM26 983h1v6h-1zm0-63h1v9h-1zM27 902h1v9h-1zM28 890h1v4h-1zM31 879h1v4h-1z"/><path fill="#fca108" d="M0 883h1v3h-1zM1 886h1v4h-1zM2 894h1v4h-1zM3 911h1v4h-1zM4 977h1v6h-1zm0-48h1v5h-1zM25 939h1v20h-1zM26 977h1v6h-1zM27 911h1v4h-1zM28 894h1v8h-1zM29 886h1v4h-1zM30 883h1v3h-1zM31 883h1v3h-1z"/><path fill="#fca60c" d="M2 898h1v4h-1zM3 989h1v7h-1zm0-74h1v5h-1zM4 971h1v6h-1zm0-37h1v5h-1zM26 971h1v6h-1zm0-42h1v5h-1zM27 989h1v7h-1zm0-74h1v5h-1zM28 902h1v4h-1zM29 890h1v4h-1zM30 886h1v4h-1z"/><path fill="#fcac11" d="M0 886h1v4h-1zM1 890h1v4h-1zM2 902h1v9h-1zM3 983h1v6h-1zm0-63h1v4h-1zM26 934h1v5h-1zM27 983h1v6h-1zm0-63h1v4h-1zM28 906h1v5h-1zM29 894h1v4h-1zM31 886h1v4h-1z"/><path fill="#fcb014" d="M0 890h1v4h-1zM1 894h1v4h-1zM2 989h1v7h-1zm0-78h1v4h-1zM3 977h1v6h-1zm0-53h1v5h-1zM4 954h1v17h-1zm0-15h1v5h-1zM26 959h1v12h-1zM27 977h1v6h-1zm0-53h1v5h-1zM28 989h1v7h-1zm0-78h1v4h-1zM29 898h1v4h-1zM30 890h1v4h-1zM31 890h1v4h-1z"/><path fill="#fbb61a" d="M0 894h1v4h-1zM1 898h1v8h-1zM2 915h1v5h-1zM3 971h1v6h-1zm0-42h1v5h-1zM4 944h1v10h-1zM26 939h1v20h-1zM27 971h1v6h-1zm0-42h1v5h-1zM28 915h1v5h-1zM29 902h1v9h-1zM30 894h1v4h-1zM31 894h1v4h-1z"/><path fill="#fbbc21" d="M0 898h1v4h-1zM1 906h1v5h-1zM2 983h1v6h-1zm0-63h1v4h-1zM3 934h1v5h-1zM27 934h1v5h-1zM28 983h1v6h-1zm0-63h1v4h-1zM29 989h1v7h-1zm0-78h1v4h-1zM30 898h1v8h-1zM31 898h1v4h-1z"/><path fill="#fac026" d="M0 902h1v9h-1zM1 989h1v7h-1zm0-78h1v4h-1zM2 977h1v6h-1zm0-53h1v5h-1zM3 965h1v6h-1zM27 965h1v6h-1zM28 977h1v6h-1zm0-53h1v5h-1zM29 915h1v5h-1zM30 906h1v5h-1zM31 902h1v4h-1z"/><path fill="#fac62d" d="M0 989h1v7h-1zm0-78h1v4h-1zM1 915h1v5h-1zM2 971h1v6h-1zm0-42h1v5h-1zM3 939h1v26h-1zM27 939h1v26h-1zM28 971h1v6h-1zm0-42h1v5h-1zM29 983h1v6h-1zm0-63h1v4h-1zM30 989h1v7h-1zm0-78h1v4h-1zM31 989h1v7h-1zm0-83h1v5h-1z"/><path fill="#f9cb35" d="M0 915h1v5h-1zM1 983h1v6h-1zm0-63h1v4h-1zM2 934h1v5h-1zM28 934h1v5h-1zM29 977h1v6h-1zm0-53h1v5h-1zM30 983h1v6h-1zm0-68h1v5h-1zM31 911h1v4h-1z"/><path fill="#f8cf3a" d="M0 983h1v6h-1zm0-63h1v4h-1zM1 977h1v6h-1zm0-53h1v5h-1zM2 965h1v6h-1zM28 965h1v6h-1zM29 971h1v6h-1zm0-42h1v5h-1zM30 920h1v4h-1zM31 983h1v6h-1zm0-68h1v5h-1z"/><path fill="#f6d543" d="M0 977h1v6h-1zm0-53h1v5h-1zM1 971h1v6h-1zm0-42h1v5h-1zM2 949h1v16h-1zm0-10h1v5h-1zM28 939h1v26h-1zM29 934h1v5h-1zM30 977h1v6h-1zm0-53h1v5h-1zM31 977h1v6h-1zm0-57h1v4h-1z"/><path fill="#f5db4c" d="M0 971h1v6h-1zm0-42h1v5h-1zM1 934h1v5h-1zM2 944h1v5h-1zM29 965h1v6h-1zM30 971h1v6h-1zm0-42h1v5h-1zM31 971h1v6h-1zm0-47h1v5h-1z"/><path fill="#f4df53" d="M1 965h1v6h-1zM29 954h1v11h-1zM30 934h1v5h-1zM31 929h1v5h-1z"/><path fill="#f3e55d" d="M0 965h1v6h-1zm0-31h1v5h-1zM1 939h1v26h-1zM29 939h1v15h-1zM30 965h1v6h-1zM31 934h1v5h-1z"/><path fill="#f2ea69" d="M0 954h1v11h-1zM30 939h1v26h-1zM31 959h1v12h-1z"/><path fill="#f1ed71" d="M0 939h1v15h-1zM31 939h1v20h-1z"/></g></defs><use href="#h1" transform="translate(142.4 0) scale(15.532 1)"/><use href="#h1" transform="translate(639.42 0) scale(15.532 1)"/><defs><path id="r0" d="M15 1250h1v2h-1z"/><path id="r2" d="M12 1195h1v1h-1z"/><path id="r3" d="M13 1090h1v1h-1z"/><path id="r4" d="M19 1118h1v1h-1z"/><path id="r5" d="M0 1116h1v1h-1zM29 1089h1v1h-1z"/><path id="r6" d="M11 1368h1v3h-1z"/><path id="r7" d="M1 1163h1v1h-1zM8 1195h1v1h-1zM18 1234h1v1h-1zM26 1100h1v1h-1zM29 1252h1v1h-1z"/><path id="r8" d="M0 1159h1v1h-1zM14 1419h1v4h-1z"/><path id="r9" d="M3 1149h1v1h-1zM16 1187h1v1h-1zM23 1191h1v1h-1zM24 1240h1v1h-1z"/><path id="r10" d="M7 1084h1v1h-1zM10 1134h1v1h-1zm0-6h1v1h-1zM11 1139h1v1h-1zM14 1188h1v2h-1zM17 1408h1v4h-1zM20 1146h1v1h-1zM21 1134h1v1h-1zM25 1184h1v1h-1zM30 1246h1v1h-1zM31 1235h1v2h-1z"/><path id="r11" d="M0 1200h1v1h-1zM1 1129h1v1h-1zM8 1117h1v1h-1zM18 1170h1v1h-1zM24 1479h1v5h-1zm0-390h1v1h-1zM25 1199h1v1h-1z"/><path id="r12" d="M0 1171h1v1h-1zM2 1115h1v1h-1zM5 1132h1v1h-1zM7 1162h1v1h-1zM8 1286h1v2h-1zm0-95h1v1h-1zM9 1230h1v1h-1zM11 1360h1v2h-1zm0-237h1v1h-1zM14 1171h1v1h-1zM16 1257h1v1h-1zM17 1199h1v1h-1zM19 1464h1v5h-1zM22 1153h1v1h-1zm0-32h1v2h-1zM25 1142h1v1h-1zM26 1257h1v1h-1zM27 1199h1v1h-1zM28 1102h1v1h-1z"/><path id="r13" d="M1 1158h1v1h-1zM2 1093h1v1h-1zM3 1206h1v1h-1zM4 1389h1v3h-1zm0-171h1v1h-1zM5 1158h1v1h-1zm0-44h1v1h-1zM6 1129h1v1h-1zM7 1176h1v1h-1zM8 1116h1v1h-1zM12 1201h1v1h-1zM15 1332h1v2h-1zm0-161h1v1h-1zM16 1374h1v3h-1zM17 1265h1v2h-1zm0-47h1v1h-1zM20 1180h1v1h-1zm0-10h1v1h-1zm0-43h1v1h-1zM22 1260h1v2h-1zM23 1320h1v3h-1zm0-151h1v1h-1zM25 1125h1v1h-1zM27 1119h1v1h-1zM28 1430h1v4h-1zm0-204h1v1h-1zM29 1215h1v1h-1zM30 1474h1v5h-1zm0-334h1v1h-1z"/><path id="r14" d="M2 1443h1v4h-1zM4 1249h1v1h-1zM5 1141h1v1h-1zM6 1244h1v2h-1zm0-63h1v1h-1zM8 1224h1v2h-1zM9 1297h1v2h-1zm0-157h1v1h-1zM10 1430h1v4h-1zM11 1167h1v1h-1zM12 1091h1v1h-1zM16 1148h1v1h-1zM17 1145h1v1h-1zM20 1273h1v2h-1zM23 1318h1v2h-1zM26 1237h1v1h-1zM28 1192h1v1h-1zM30 1148h1v1h-1zM31 1200h1v1h-1zm0-56h1v1h-1z"/><path id="r15" d="M0 1177h1v1h-1zM4 1104h1v1h-1zM6 1162h1v1h-1zM8 1325h1v2h-1zm0-11h1v2h-1zM9 1377h1v2h-1zm0-36h1v3h-1zm0-11h1v2h-1zM10 1121h1v1h-1zM11 1292h1v2h-1zM12 1386h1v3h-1zm0-18h1v3h-1zm0-221h1v1h-1zm0-54h1v1h-1zM13 1108h1v1h-1zM15 1260h1v2h-1zm0-160h1v1h-1zM16 1460h1v4h-1zM17 1121h1v1h-1zM18 1344h1v2h-1zm0-120h1v2h-1zm0-100h1v1h-1zM19 1272h1v1h-1zm0-145h1v1h-1zM20 1109h1v1h-1zM22 1297h1v2h-1zm0-125h1v1h-1zm0-54h1v1h-1zm0-32h1v1h-1zM24 1511h1v6h-1zm0-174h1v2h-1zm0-233h1v1h-1zM25 1314h1v2h-1zm0-178h1v1h-1zM26 1272h1v1h-1zM28 1155h1v1h-1zm0-22h1v1h-1zm0-41h1v1h-1zM29 1419h1v4h-1zm0-87h1v2h-1zM30 1258h1v2h-1zm0-30h1v2h-1zM31 1222h1v1h-1zm0-23h1v1h-1z"/><path id="r16" d="M1 1301h1v2h-1zm0-125h1v1h-1zm0-10h1v1h-1zM3 1294h1v2h-1zm0-84h1v1h-1zM4 1088h1v1h-1zM6 1140h1v1h-1zm0-3h1v1h-1zM7 1209h1v1h-1zM8 1095h1v1h-1zm0-7h1v1h-1zM9 1095h1v1h-1zM10 1222h1v1h-1zM11 1280h1v2h-1zM12 1148h1v1h-1zM13 1241h1v2h-1zm0-43h1v1h-1zm0-53h1v1h-1zm0-2h1v1h-1zM14 1374h1v3h-1zM15 1226h1v1h-1zM16 1110h1v1h-1zM17 1131h1v1h-1zM18 1102h1v1h-1zM19 1247h1v2h-1zm0-70h1v1h-1zm0-8h1v1h-1zM20 1152h1v1h-1zm0-69h1v1h-1zM21 1243h1v1h-1zm0-121h1v1h-1zm0-20h1v1h-1zM22 1090h1v1h-1zM23 1249h1v1h-1zm0-95h1v1h-1zM24 1233h1v1h-1zM26 1133h1v1h-1zM27 1392h1v3h-1zm0-178h1v1h-1zm0-13h1v1h-1zM28 1148h1v1h-1zM29 1341h1v3h-1zm0-220h1v1h-1zM30 1374h1v3h-1zm0-17h1v3h-1zm0-208h1v1h-1zM31 1395h1v3h-1zm0-27h1v3h-1z"/><path id="r17" d="M0 1226h1v1h-1zM1 1270h1v2h-1zm0-165h1v1h-1zM2 1185h1v1h-1zM3 1447h1v4h-1zm0-246h1v1h-1zM4 1365h1v3h-1zm0-24h1v3h-1zm0-71h1v3h-1zm0-185h1v1h-1zM6 1284h1v2h-1zm0-27h1v1h-1zm0-87h1v1h-1zm0-20h1v1h-1zM7 1141h1v1h-1zm0-24h1v1h-1zM8 1341h1v3h-1zm0-216h1v1h-1zM9 1303h1v3h-1zm0-33h1v2h-1zm0-18h1v1h-1zm0-15h1v1h-1zm0-47h1v1h-1zm0-4h1v1h-1zM10 1211h1v1h-1zM11 1325h1v2h-1zm0-9h1v2h-1zM12 1484h1v5h-1zm0-198h1v2h-1zm0-155h1v1h-1zM13 1141h1v1h-1zM14 1447h1v4h-1zm0-281h1v1h-1zm0-29h1v1h-1zM15 1346h1v3h-1zm0-109h1v1h-1zm0-39h1v1h-1zm0-63h1v1h-1zm0-5h1v1h-1zm0-22h1v1h-1zm0-17h1v1h-1zM17 1464h1v5h-1zm0-154h1v2h-1zm0-196h1v1h-1zm0-21h1v1h-1zM18 1113h1v1h-1zm0-22h1v1h-1zM19 1160h1v1h-1zm0-2h1v1h-1zm0-23h1v1h-1zM20 1389h1v3h-1zm0-253h1v1h-1zM21 1275h1v2h-1zm0-109h1v1h-1zm0-62h1v1h-1zM22 1423h1v4h-1zm0-199h1v2h-1zm0-60h1v1h-1zm0-27h1v2h-1zM23 1419h1v4h-1zm0-249h1v1h-1zM24 1121h1v1h-1zM25 1207h1v2h-1zm0-108h1v1h-1zM27 1398h1v4h-1zm0-223h1v1h-1zm0-12h1v1h-1zM29 1308h1v2h-1zm0-107h1v1h-1zm0-103h1v1h-1zm0-14h1v1h-1zM30 1136h1v1h-1zm0-33h1v1h-1zm0-17h1v1h-1z"/><path id="r18" d="M0 1224h1v2h-1zM1 1323h1v2h-1zm0-205h1v1h-1zm0-11h1v1h-1zM3 1275h1v2h-1zm0-56h1v1h-1zm0-48h1v1h-1zm0-14h1v1h-1zm0-4h1v1h-1zM4 1392h1v3h-1zm0-186h1v1h-1zm0-10h1v2h-1zM5 1389h1v3h-1zm0-83h1v2h-1zm0-79h1v1h-1zm0-39h1v2h-1zM6 1290h1v2h-1zm0-147h1v1h-1zm0-62h1v1h-1zM7 1484h1v5h-1zm0-253h1v2h-1zm0-44h1v1h-1zm0-99h1v1h-1zM8 1474h1v5h-1zm0-92h1v4h-1zm0-199h1v1h-1zm0-25h1v1h-1zM9 1107h1v1h-1zM10 1233h1v1h-1zm0-34h1v1h-1zm0-61h1v1h-1zm0-12h1v1h-1zM11 1141h1v1h-1zM12 1211h1v1h-1zm0-36h1v1h-1zm0-18h1v1h-1zm0-55h1v1h-1zM13 1365h1v3h-1zM14 1395h1v3h-1zM15 1529h1v7h-1zm0-305h1v2h-1zM16 1408h1v4h-1zm0-37h1v3h-1zm0-144h1v1h-1zM17 1166h1v2h-1zM18 1227h1v1h-1zm0-25h1v2h-1zm0-83h1v1h-1zm0-25h1v1h-1zM19 1204h1v1h-1zm0-5h1v1h-1zM20 1310h1v2h-1zm0-33h1v2h-1zm0-161h1v1h-1zM21 1263h1v2h-1zm0-68h1v1h-1zm0-14h1v1h-1zM22 1434h1v4h-1zm0-204h1v1h-1zm0-94h1v1h-1zM23 1382h1v4h-1zM24 1405h1v7h-1zm0-28h1v2h-1zm0-87h1v2h-1zm0-99h1v1h-1zm0-90h1v1h-1zM25 1280h1v2h-1zM26 1360h1v2h-1zm0-170h1v1h-1zm0-14h1v1h-1zM27 1479h1v5h-1zm0-324h1v1h-1zM28 1132h1v1h-1zm0-3h1v1h-1zM29 1479h1v5h-1zm0-145h1v3h-1zm0-223h1v1h-1zM30 1419h1v4h-1zm0-67h1v2h-1zM31 1272h1v1h-1zm0-153h1v1h-1z"/><path id="r19" d="M0 1443h1v4h-1zm0-209h1v1h-1zm0-150h1v1h-1zM1 1284h1v2h-1zm0-149h1v1h-1zM2 1282h1v2h-1zm0-91h1v1h-1zm0-21h1v1h-1zm0-5h1v1h-1zM3 1160h1v1h-1zm0-24h1v1h-1zm0-19h1v1h-1zM4 1398h1v4h-1zm0-99h1v2h-1zm0-139h1v1h-1zM5 1202h1v3h-1zm0-43h1v1h-1zm0-32h1v1h-1zm0-10h1v1h-1zm0-8h1v1h-1zM7 1310h1v2h-1zM8 1494h1v6h-1zm0-78h1v3h-1zm0-51h1v3h-1zm0-204h1v1h-1zm0-42h1v1h-1zm0-34h1v1h-1zM9 1352h1v2h-1zm0-99h1v2h-1zm0-103h1v1h-1zM10 1389h1v3h-1zm0-220h1v1h-1zm0-8h1v1h-1zM11 1198h1v1h-1zm0-3h1v1h-1zm0-57h1v1h-1zm0-4h1v1h-1zm0-43h1v1h-1zM12 1430h1v4h-1zm0-131h1v2h-1zm0-139h1v1h-1zm0-38h1v1h-1zM13 1204h1v1h-1zM14 1294h1v2h-1zm0-26h1v2h-1zM15 1408h1v4h-1zm0-244h1v1h-1zm0-50h1v1h-1zM16 1294h1v2h-1zm0-134h1v1h-1zm0-43h1v1h-1zm0-3h1v1h-1zM17 1438h1v5h-1zm0-238h1v1h-1zm0-24h1v1h-1zm0-5h1v1h-1zM18 1443h1v4h-1zm0-69h1v3h-1zm0-252h1v1h-1zm0-39h1v1h-1zM19 1167h1v1h-1zM20 1447h1v4h-1zm0-106h1v3h-1zm0-175h1v1h-1zm0-69h1v1h-1zM21 1505h1v6h-1zm0-148h1v3h-1zm0-67h1v2h-1zm0-56h1v1h-1zm0-137h1v1h-1zM22 1318h1v2h-1zm0-104h1v1h-1zm0-101h1v1h-1zM23 1314h1v2h-1zm0-98h1v2h-1zM24 1294h1v2h-1zm0-26h1v2h-1zM25 1438h1v5h-1zm0-92h1v3h-1zm0-152h1v1h-1zM26 1500h1v5h-1zm0-216h1v2h-1zm0-43h1v2h-1zm0-41h1v1h-1zm0-41h1v1h-1zM27 1222h1v1h-1zM28 1489h1v5h-1zm0-97h1v3h-1zm0-89h1v3h-1zM29 1224h1v2h-1zm0-20h1v1h-1zM30 1318h1v2h-1zm0-66h1v1h-1zm0-61h1v1h-1zm0-11h1v1h-1zm0-25h1v1h-1zM31 1430h1v4h-1zm0-210h1v2h-1zm0-36h1v1h-1zm0-42h1v1h-1z"/><path id="r20" d="M0 1198h1v1h-1zM1 1237h1v1h-1zm0-51h1v2h-1zm0-6h1v1h-1zM4 1143h1v1h-1zm0-21h1v2h-1zM5 1354h1v3h-1zm0-97h1v1h-1zM6 1451h1v4h-1zm0-259h1v1h-1zM7 1402h1v3h-1zm0-61h1v3h-1zm0-97h1v2h-1zm0-26h1v1h-1zm0-12h1v1h-1zm0-29h1v1h-1zM8 1371h1v3h-1zm0-230h1v1h-1zM9 1162h1v1h-1zM10 1354h1v3h-1zm0-27h1v3h-1zm0-191h1v1h-1zm0-16h1v1h-1zm0-27h1v1h-1zM11 1474h1v5h-1zm0-237h1v1h-1zM12 1171h1v1h-1zM13 1341h1v3h-1zm0-111h1v1h-1zM14 1349h1v3h-1zm0-69h1v2h-1zm0-122h1v1h-1zm0-51h1v1h-1zM15 1389h1v3h-1zm0-48h1v3h-1zm0-149h1v1h-1zm0-22h1v1h-1zm0-24h1v1h-1zm0-13h1v1h-1zm0-17h1v1h-1zm0-15h1v1h-1zM16 1427h1v3h-1zm0-115h1v2h-1zm0-134h1v2h-1zm0-45h1v1h-1zm0-13h1v1h-1zM17 1455h1v5h-1zm0-298h1v1h-1zm0-7h1v1h-1zm0-8h1v1h-1zm0-26h1v1h-1zM18 1284h1v2h-1zm0-120h1v1h-1zm0-12h1v1h-1zm0-59h1v1h-1zM19 1494h1v6h-1zm0-39h1v5h-1zm0-125h1v2h-1zm0-44h1v2h-1zm0-37h1v1h-1zm0-57h1v1h-1zM20 1354h1v3h-1zm0-20h1v3h-1zm0-107h1v1h-1zm0-51h1v1h-1zM21 1377h1v2h-1zm0-258h1v1h-1zm0-12h1v1h-1zM22 1275h1v2h-1zm0-169h1v1h-1zM23 1392h1v3h-1zm0-127h1v2h-1zM24 1310h1v2h-1zm0-53h1v1h-1zm0-55h1v2h-1zm0-4h1v1h-1zm0-41h1v1h-1zM25 1395h1v3h-1zM26 1344h1v2h-1zM27 1494h1v6h-1zm0-314h1v1h-1zm0-79h1v1h-1zm0-13h1v1h-1zM28 1330h1v2h-1zm0-152h1v2h-1zm0-36h1v1h-1zm0-47h1v1h-1zM29 1105h1v1h-1zM30 1354h1v3h-1zm0-13h1v3h-1zm0-149h1v1h-1zm0-15h1v1h-1zm0-90h1v1h-1zM31 1517h1v6h-1zm0-254h1v2h-1zm0-29h1v1h-1zm0-7h1v1h-1zm0-29h1v1h-1zm0-51h1v1h-1zm0-15h1v1h-1z"/><path id="r21" d="M0 1479h1v5h-1zm0-371h1v1h-1zM1 1265h1v2h-1zm0-132h1v1h-1zm0-44h1v1h-1zm0-6h1v1h-1zM2 1505h1v6h-1zm0-89h1v3h-1zm0-126h1v2h-1zm0-40h1v2h-1zm0-7h1v3h-1zm0-39h1v1h-1zm0-44h1v1h-1zm0-22h1v1h-1zm0-3h1v1h-1zm0-52h1v1h-1zM3 1320h1v3h-1zm0-28h1v2h-1zm0-42h1v2h-1zm0-142h1v1h-1zM4 1377h1v2h-1zm0-25h1v2h-1zm0-85h1v1h-1zm0-7h1v2h-1zm0-69h1v1h-1zm0-100h1v1h-1zM5 1352h1v2h-1zm0-38h1v2h-1zm0-194h1v1h-1zM6 1505h1v6h-1zm0-171h1v3h-1zm0-14h1v3h-1zm0-26h1v2h-1zM7 1279h1v1h-1zm0-41h1v2h-1zm0-110h1v1h-1zM8 1379h1v3h-1zm0-161h1v1h-1zm0-11h1v2h-1zm0-25h1v1h-1zm0-73h1v1h-1zM9 1474h1v5h-1zm0-62h1v4h-1zm0-194h1v1h-1zm0-61h1v1h-1zm0-32h1v1h-1zm0-11h1v1h-1zM10 1489h1v5h-1zm0-20h1v5h-1zm0-9h1v4h-1zm0-62h1v4h-1zm0-110h1v2h-1zm0-96h1v1h-1zm0-5h1v1h-1zm0-25h1v1h-1zm0-3h1v1h-1zm0-18h1v1h-1zm0-2h1v1h-1zM11 1323h1v2h-1zm0-183h1v1h-1zM12 1405h1v3h-1zm0-150h1v2h-1zm0-6h1v1h-1zm0-73h1v1h-1zm0-3h1v1h-1zM13 1451h1v4h-1zm0-165h1v2h-1zm0-63h1v1h-1zm0-48h1v1h-1zm0-86h1v1h-1zM14 1443h1v4h-1zm0-41h1v3h-1zm0-72h1v2h-1zm0-180h1v1h-1zm0-7h1v1h-1zm0-18h1v1h-1zm0-3h1v1h-1zM15 1405h1v3h-1zm0-140h1v2h-1zm0-79h1v1h-1zm0-73h1v1h-1zM16 1360h1v2h-1zm0-204h1v1h-1zm0-64h1v1h-1zM17 1362h1v3h-1zm0-42h1v3h-1zm0-34h1v2h-1zm0-75h1v1h-1zm0-39h1v1h-1zm0-69h1v1h-1zm0-21h1v1h-1zM18 1484h1v5h-1zm0-178h1v2h-1zm0-114h1v1h-1zm0-74h1v1h-1zm0-22h1v1h-1zM19 1523h1v6h-1zm0-89h1v4h-1zm0-72h1v3h-1zm0-65h1v2h-1zm0-29h1v2h-1zm0-59h1v2h-1zm0-43h1v1h-1zm0-25h1v1h-1zm0-7h1v1h-1zm0-21h1v1h-1zM20 1416h1v3h-1zm0-21h1v3h-1zm0-254h1v1h-1zm0-28h1v1h-1zm0-10h1v1h-1zm0-7h1v1h-1zM21 1316h1v2h-1zm0-170h1v1h-1zm0-7h1v1h-1zm0-48h1v1h-1zM22 1430h1v4h-1zm0-41h1v3h-1zm0-198h1v1h-1zm0-32h1v1h-1zm0-29h1v1h-1zM23 1423h1v4h-1zm0-61h1v3h-1zm0-170h1v1h-1zm0-75h1v1h-1zm0-21h1v1h-1zm0-7h1v1h-1zM24 1430h1v4h-1zm0-105h1v2h-1zm0-95h1v1h-1zm0-23h1v2h-1zm0-15h1v1h-1zm0-22h1v1h-1zm0-5h1v1h-1zm0-84h1v1h-1zM25 1398h1v4h-1zm0-110h1v2h-1zm0-64h1v2h-1zm0-116h1v1h-1zM26 1469h1v5h-1zm0-67h1v3h-1zm0-217h1v1h-1zm0-35h1v1h-1zm0-23h1v1h-1zm0-9h1v1h-1zm0-35h1v1h-1zM27 1299h1v2h-1zm0-7h1v2h-1zm0-25h1v1h-1zm0-55h1v2h-1zm0-53h1v1h-1zm0-19h1v1h-1zm0-9h1v1h-1zM28 1206h1v1h-1zm0-11h1v1h-1zm0-36h1v1h-1zM29 1255h1v2h-1zm0-64h1v1h-1zm0-4h1v1h-1zm0-90h1v1h-1zM30 1455h1v5h-1zm0-95h1v2h-1zm0-153h1v2h-1zm0-37h1v1h-1zM31 1228h1v2h-1zm0-71h1v1h-1z"/><path id="r22" d="M0 1430h1v4h-1zm0-41h1v3h-1zm0-112h1v2h-1zm0-25h1v1h-1zm0-36h1v2h-1zM1 1139h1v1h-1zM2 1352h1v2h-1zm0-87h1v2h-1zm0-19h1v1h-1zm0-65h1v1h-1zm0-22h1v1h-1zm0-37h1v1h-1zM3 1379h1v3h-1zm0-71h1v2h-1zm0-150h1v1h-1zm0-4h1v1h-1zm0-66h1v1h-1zM4 1438h1v5h-1zm0-106h1v2h-1zm0-31h1v2h-1zm0-102h1v1h-1zm0-7h1v1h-1zm0-19h1v2h-1zm0-72h1v1h-1zM5 1430h1v4h-1zm0-18h1v4h-1zm0-189h1v1h-1zm0-40h1v1h-1zm0-15h1v1h-1zm0-25h1v1h-1zm0-55h1v1h-1zM6 1517h1v6h-1zm0-109h1v4h-1zm0-162h1v1h-1zm0-28h1v1h-1zm0-43h1v1h-1zm0-28h1v1h-1zm0-37h1v1h-1zm0-3h1v1h-1zm0-12h1v1h-1zM7 1111h1v1h-1zM8 1330h1v2h-1zm0-27h1v3h-1zm0-81h1v1h-1zm0-75h1v1h-1zm0-8h1v1h-1zm0-52h1v1h-1zM9 1368h1v3h-1zm0-91h1v2h-1zm0-43h1v1h-1zm0-86h1v1h-1zm0-17h1v1h-1zm0-16h1v1h-1zm0-9h1v1h-1zM10 1408h1v4h-1zm0-31h1v2h-1zm0-125h1v1h-1zm0-6h1v1h-1zm0-39h1v2h-1zm0-58h1v1h-1zm0-6h1v1h-1zm0-55h1v1h-1zM11 1386h1v3h-1zm0-9h1v2h-1zm0-107h1v2h-1zm0-15h1v2h-1zm0-17h1v2h-1zm0-18h1v2h-1zm0-20h1v1h-1zm0-42h1v1h-1zm0-7h1v1h-1zm0-27h1v1h-1zm0-3h1v1h-1zm0-5h1v1h-1zm0-31h1v1h-1zM13 1389h1v3h-1zm0-18h1v3h-1zm0-61h1v2h-1zm0-153h1v1h-1zM14 1455h1v5h-1zm0-78h1v5h-1zm0-57h1v3h-1zm0-60h1v2h-1zm0-66h1v1h-1zm0-24h1v1h-1zm0-34h1v1h-1zM15 1339h1v2h-1zm0-9h1v2h-1zm0-27h1v3h-1zm0-149h1v1h-1zm0-55h1v1h-1zM16 1423h1v4h-1zm0-71h1v2h-1zm0-56h1v1h-1zm0-17h1v1h-1zm0-7h1v1h-1zm0-81h1v1h-1zm0-41h1v1h-1zm0-35h1v1h-1zm0-28h1v1h-1zm0-2h1v1h-1zM17 1511h1v6h-1zm0-113h1v4h-1zm0-200h1v1h-1zm0-25h1v1h-1zm0-40h1v1h-1zm0-13h1v1h-1zm0-25h1v1h-1zM18 1200h1v1h-1zm0-31h1v1h-1zm0-2h1v1h-1zm0-60h1v1h-1zm0-8h1v1h-1zM19 1412h1v4h-1zm0-55h1v3h-1zm0-137h1v2h-1zm0-48h1v2h-1zm0-9h1v1h-1zm0-58h1v1h-1zM20 1443h1v4h-1zm0-78h1v3h-1zm0-170h1v1h-1zm0-8h1v1h-1zM21 1423h1v4h-1zm0-44h1v3h-1zm0-42h1v2h-1zm0-34h1v3h-1zm0-147h1v1h-1zm0-11h1v1h-1zm0-2h1v1h-1zM22 1523h1v6h-1zm0-346h1v1h-1zm0-30h1v1h-1zm0-60h1v1h-1zM23 1280h1v2h-1zm0-34h1v1h-1zm0-3h1v1h-1zm0-8h1v2h-1zm0-68h1v1h-1zm0-27h1v1h-1zm0-40h1v1h-1zm0-5h1v1h-1zM24 1500h1v5h-1zm0-57h1v4h-1zm0-219h1v2h-1zm0-24h1v1h-1zm0-17h1v1h-1zm0-63h1v1h-1zM25 1430h1v4h-1zm0-28h1v3h-1zm0-40h1v3h-1zm0-25h1v4h-1zm0-5h1v2h-1zm0-5h1v3h-1zm0-97h1v1h-1zm0-76h1v1h-1zm0-15h1v1h-1zm0-5h1v1h-1zm0-27h1v1h-1zM26 1354h1v3h-1zm0-111h1v1h-1zm0-65h1v2h-1zm0-85h1v1h-1zM27 1312h1v2h-1zm0-135h1v1h-1zm0-3h1v1h-1zm0-51h1v1h-1zm0-18h1v1h-1zm0-18h1v1h-1zM28 1405h1v3h-1zm0-182h1v1h-1zm0-27h1v2h-1zm0-35h1v1h-1zm0-67h1v1h-1zM29 1263h1v2h-1zm0-65h1v1h-1zm0-39h1v1h-1zm0-58h1v1h-1zM30 1500h1v5h-1zm0-228h1v1h-1zm0-25h1v2h-1zm0-13h1v1h-1zm0-81h1v1h-1zm0-32h1v1h-1zM31 1434h1v4h-1zm0-52h1v4h-1zm0-62h1v3h-1zm0-41h1v1h-1zm0-6h1v2h-1zm0-47h1v1h-1zm0-87h1v1h-1zm0-51h1v1h-1z"/><path id="r23" d="M0 1523h1v6h-1zm0-198h1v2h-1zm0-24h1v2h-1zm0-70h1v2h-1zm0-86h1v1h-1zM1 1360h1v2h-1zm0-108h1v1h-1zm0-5h1v3h-1zm0-62h1v1h-1zm0-40h1v1h-1zm0-36h1v1h-1zm0-13h1v1h-1zm0-6h1v1h-1zM2 1349h1v3h-1zm0-15h1v5h-1zm0-16h1v2h-1zm0-41h1v2h-1zm0-70h1v2h-1zm0-11h1v2h-1zm0-48h1v1h-1zM3 1423h1v4h-1zm0-31h1v3h-1zm0-18h1v3h-1zm0-90h1v2h-1zm0-54h1v1h-1zm0-54h1v1h-1zm0-9h1v1h-1zm0-23h1v1h-1zm0-4h1v1h-1zm0-28h1v1h-1zm0-16h1v1h-1zM4 1464h1v5h-1zm0-174h1v2h-1zm0-46h1v2h-1zm0-17h1v1h-1zm0-97h1v1h-1zm0-49h1v1h-1zM5 1297h1v2h-1zm0-51h1v1h-1zm0-18h1v2h-1zm0-4h1v2h-1zm0-6h1v1h-1zm0-13h1v1h-1zm0-15h1v1h-1zm0-82h1v1h-1zM6 1511h1v6h-1zm0-248h1v2h-1zm0-32h1v2h-1zm0-33h1v1h-1zm0-11h1v1h-1zm0-16h1v1h-1zm0-14h1v1h-1zm0-60h1v1h-1zm0-7h1v1h-1zM7 1368h1v3h-1zm0-266h1v1h-1zm0-11h1v1h-1zM8 1231h1v2h-1zm0-62h1v1h-1zm0-20h1v1h-1zm0-20h1v1h-1zm0-26h1v1h-1zm0-22h1v1h-1zM9 1402h1v3h-1zm0-120h1v2h-1zm0-19h1v2h-1zm0-25h1v2h-1zm0-14h1v2h-1zm0-18h1v1h-1zm0-8h1v1h-1zm0-5h1v1h-1zm0-90h1v1h-1zM10 1455h1v5h-1zm0-17h1v5h-1zm0-203h1v2h-1zm0-15h1v2h-1zm0-34h1v1h-1zm0-14h1v1h-1zm0-9h1v1h-1zm0-5h1v1h-1zm0-3h1v1h-1zm0-2h1v1h-1zm0-57h1v1h-1zM11 1398h1v4h-1zm0-157h1v2h-1zm0-55h1v1h-1zM12 1263h1v2h-1zm0-19h1v2h-1zm0-29h1v1h-1zm0-50h1v1h-1zm0-21h1v2h-1zm0-16h1v1h-1zm0-15h1v1h-1zm0-4h1v1h-1zm0-27h1v1h-1zM13 1416h1v3h-1zm0-82h1v3h-1zm0-35h1v2h-1zm0-9h1v4h-1zm0-96h1v2h-1zm0-22h1v1h-1zM14 1529h1v7h-1zm0-35h1v6h-1zm0-184h1v2h-1zm0-136h1v1h-1zm0-35h1v1h-1zM15 1297h1v2h-1zm0-11h1v2h-1zm0-6h1v2h-1zm0-76h1v2h-1zm0-83h1v1h-1zM16 1455h1v5h-1zm0-212h1v1h-1zm0-42h1v1h-1zm0-7h1v1h-1zm0-8h1v1h-1zm0-15h1v1h-1zm0-8h1v1h-1zm0-55h1v1h-1zM17 1360h1v2h-1zm0-16h1v2h-1zm0-17h1v3h-1zm0-47h1v2h-1zm0-20h1v2h-1zm0-25h1v2h-1zm0-5h1v1h-1zm0-45h1v1h-1zm0-47h1v1h-1zm0-25h1v1h-1zm0-22h1v1h-1zm0-8h1v1h-1zm0-2h1v1h-1zM18 1220h1v2h-1zm0-44h1v1h-1zm0-38h1v1h-1zm0-9h1v1h-1zM19 1451h1v4h-1zm0-370h1v1h-1zM20 1430h1v4h-1zm0-59h1v3h-1zm0-44h1v3h-1zm0-69h1v2h-1zm0-15h1v1h-1zm0-10h1v1h-1zm0-18h1v1h-1zm0-23h1v1h-1zm0-64h1v1h-1zm0-39h1v1h-1zM21 1365h1v3h-1zm0-31h1v3h-1zm0-57h1v2h-1zm0-187h1v1h-1zm0-7h1v1h-1zM22 1339h1v2h-1zm0-7h1v5h-1zm0-89h1v1h-1zm0-146h1v1h-1zM23 1500h1v5h-1zm0-250h1v2h-1zm0-10h1v1h-1zm0-6h1v1h-1zm0-40h1v1h-1zm0-26h1v1h-1zm0-37h1v1h-1zm0-22h1v1h-1zm0-26h1v1h-1zm0-1h1v1h-1zM24 1455h1v5h-1zm0-98h1v3h-1zm0-114h1v1h-1zm0-113h1v1h-1zm0-18h1v1h-1zM25 1500h1v5h-1zm0-180h1v3h-1zm0-28h1v2h-1zm0-25h1v1h-1zm0-79h1v2h-1zm0-16h1v1h-1zm0-59h1v1h-1zm0-16h1v1h-1zm0-14h1v1h-1zm0-1h1v1h-1zM26 1379h1v7h-1zm0-42h1v2h-1zm0-29h1v2h-1zm0-61h1v2h-1zm0-14h1v1h-1zm0-67h1v1h-1zm0-2h1v1h-1zm0-11h1v2h-1zm0-9h1v1h-1zm0-7h1v1h-1zm0-3h1v1h-1zm0-32h1v1h-1zM27 1484h1v5h-1zm0-20h1v5h-1zm0-202h1v3h-1zm0-58h1v1h-1zm0-57h1v1h-1zm0-6h1v1h-1zm0-4h1v1h-1zm0-4h1v1h-1zM28 1523h1v6h-1zm0-128h1v3h-1zm0-38h1v3h-1zm0-78h1v1h-1zm0-4h1v2h-1zm0-37h1v2h-1zm0-98h1v1h-1zm0-44h1v1h-1zM29 1389h1v3h-1zm0-90h1v2h-1zm0-155h1v1h-1zM30 1280h1v2h-1zm0-57h1v1h-1zm0-14h1v1h-1zm0-68h1v1h-1zm0-24h1v1h-1zM31 1529h1v7h-1zm0-86h1v4h-1zm0-202h1v2h-1zm0-68h1v1h-1zm0-47h1v1h-1z"/><path id="r24" d="M0 1511h1v6h-1zm0-125h1v3h-1zm0-49h1v2h-1zm0-38h1v2h-1zm0-53h1v1h-1zm0-16h1v1h-1zm0-3h1v1h-1zm0-41h1v1h-1zm0-12h1v1h-1zm0-21h1v1h-1zm0-9h1v1h-1zm0-50h1v1h-1zM1 1405h1v3h-1zm0-23h1v4h-1zm0-127h1v2h-1zm0-48h1v2h-1zm0-33h1v1h-1zm0-10h1v1h-1zM2 1320h1v3h-1zm0-40h1v2h-1zm0-156h1v1h-1zm0-40h1v1h-1zM3 1511h1v6h-1zm0-248h1v2h-1zm0-11h1v1h-1zm0-88h1v1h-1zm0-26h1v1h-1zm0-38h1v1h-1zM4 1395h1v3h-1zm0-61h1v3h-1zm0-18h1v2h-1zm0-8h1v2h-1zm0-43h1v2h-1zm0-7h1v2h-1zm0-34h1v2h-1zm0-68h1v1h-1zm0-14h1v1h-1zm0-27h1v1h-1zm0-29h1v1h-1zM5 1494h1v6h-1zm0-102h1v3h-1zm0-225h1v1h-1zm0-18h1v1h-1zm0-2h1v1h-1zm0-18h1v1h-1zm0-31h1v1h-1zM6 1346h1v3h-1zm0-73h1v2h-1zm0-23h1v2h-1zm0-28h1v1h-1zm0-10h1v2h-1zm0-21h1v1h-1zm0-18h1v1h-1zm0-8h1v1h-1zm0-2h1v1h-1zm0-33h1v1h-1zm0-6h1v1h-1zm0-26h1v1h-1zM7 1474h1v5h-1zm0-190h1v2h-1zm0-37h1v2h-1zm0-51h1v2h-1zm0-8h1v2h-1zm0-41h1v1h-1zm0-13h1v1h-1zm0-18h1v1h-1zM8 1405h1v3h-1zm0-106h1v2h-1zm0-20h1v1h-1zm0-64h1v1h-1zm0-51h1v1h-1zm0-16h1v1h-1zm0-38h1v1h-1zm0-16h1v1h-1zM9 1427h1v7h-1zm0-45h1v4h-1zm0-159h1v1h-1zm0-8h1v1h-1zm0-33h1v1h-1zm0-16h1v1h-1zm0-68h1v1h-1zm0-4h1v1h-1zM10 1427h1v3h-1zm0-126h1v2h-1zm0-24h1v2h-1zm0-14h1v2h-1zm0-32h1v2h-1zm0-80h1v2h-1zm0-4h1v1h-1zm0-49h1v1h-1zM11 1339h1v2h-1zm0-27h1v2h-1zm0-97h1v3h-1zm0-44h1v1h-1zm0-43h1v1h-1zm0-30h1v1h-1zM12 1294h1v2h-1zm0-94h1v1h-1zm0-4h1v2h-1zm0-58h1v1h-1zm0-44h1v1h-1zm0-10h1v1h-1zM13 1505h1v6h-1zm0-71h1v4h-1zm0-88h1v3h-1zm0-208h1v1h-1zm0-4h1v1h-1zm0-6h1v1h-1zm0-1h1v1h-1zm0-10h1v1h-1zM14 1371h1v3h-1zm0-119h1v1h-1zm0-107h1v1h-1zm0-34h1v1h-1zm0-18h1v1h-1zM15 1249h1v1h-1zm0-89h1v1h-1zm0-62h1v1h-1zm0-6h1v1h-1zm0-6h1v1h-1zM16 1339h1v2h-1zm0-19h1v3h-1zm0-86h1v1h-1zm0-81h1v1h-1zm0-47h1v1h-1zM17 1489h1v5h-1zm0-135h1v3h-1zm0-104h1v2h-1zm0-30h1v2h-1zm0-6h1v1h-1zm0-45h1v1h-1zm0-30h1v1h-1zM18 1434h1v4h-1zm0-74h1v2h-1zm0-80h1v2h-1zm0-74h1v1h-1zm0-52h1v1h-1zm0-5h1v1h-1zM19 1500h1v5h-1zm0-53h1v4h-1zm0-82h1v3h-1zm0-19h1v3h-1zm0-14h1v2h-1zm0-50h1v2h-1zm0-27h1v2h-1zm0-73h1v1h-1zm0-29h1v1h-1zM20 1379h1v3h-1zm0-141h1v2h-1zm0-56h1v1h-1zm0-22h1v1h-1zm0-5h1v1h-1zm0-6h1v1h-1zm0-38h1v1h-1zm0-17h1v1h-1zM21 1427h1v3h-1zm0-15h1v4h-1zm0-73h1v2h-1zm0-40h1v2h-1zm0-41h1v2h-1zm0-91h1v1h-1zm0-52h1v1h-1zm0-5h1v1h-1zm0-10h1v1h-1zM22 1312h1v2h-1zm0-4h1v2h-1zm0-45h1v2h-1zm0-78h1v1h-1zm0-4h1v1h-1zM23 1484h1v5h-1zm0-157h1v3h-1zm0-207h1v1h-1zm0-27h1v1h-1zm0-7h1v1h-1zM24 1447h1v4h-1zm0-197h1v2h-1zm0-9h1v2h-1zm0-21h1v2h-1zm0-77h1v1h-1zm0-6h1v1h-1zm0-8h1v1h-1zm0-18h1v1h-1zm0-5h1v1h-1zm0-8h1v1h-1zM25 1279h1v1h-1zm0-19h1v2h-1zm0-114h1v1h-1zm0-20h1v1h-1zM26 1494h1v6h-1zm0-56h1v5h-1zm0-118h1v3h-1zm0-10h1v2h-1zm0-33h1v2h-1zm0-12h1v2h-1zm0-63h1v2h-1zm0-9h1v1h-1zm0-6h1v1h-1zm0-48h1v1h-1zm0-47h1v1h-1zM27 1430h1v4h-1zm0-76h1v3h-1zm0-51h1v3h-1zm0-9h1v2h-1zm0-41h1v2h-1zm0-83h1v1h-1zm0-5h1v1h-1zm0-17h1v1h-1zm0-64h1v1h-1zM28 1398h1v4h-1zm0-146h1v1h-1zm0-18h1v1h-1zm0-70h1v1h-1zm0-27h1v1h-1zm0-37h1v1h-1zM29 1312h1v2h-1zm0-63h1v1h-1zm0-12h1v1h-1zm0-107h1v1h-1zM30 1334h1v3h-1zm0-9h1v2h-1zm0-11h1v2h-1zm0-30h1v2h-1zm0-34h1v2h-1zm0-10h1v1h-1zm0-24h1v2h-1zm0-38h1v2h-1zm0-9h1v1h-1zm0-17h1v1h-1zm0-52h1v1h-1zm0-8h1v1h-1zM31 1469h1v5h-1zm0-107h1v3h-1zm0-76h1v2h-1zm0-40h1v1h-1zm0-40h1v1h-1zm0-4h1v2h-1zm0-9h1v1h-1zm0-45h1v1h-1z"/><path id="r25" d="M0 1423h1v4h-1zm0-71h1v2h-1zm0-108h1v2h-1zm0-29h1v1h-1zm0-4h1v1h-1zm0-21h1v1h-1zm0-38h1v1h-1zm0-5h1v1h-1zm0-24h1v1h-1zm0-10h1v1h-1zM1 1529h1v7h-1zm0-78h1v4h-1zm0-53h1v4h-1zm0-30h1v3h-1zm0-170h1v1h-1zm0-8h1v1h-1zm0-7h1v1h-1zm0-23h1v1h-1zm0-6h1v1h-1zm0-23h1v1h-1zm0-17h1v1h-1zm0-27h1v1h-1zm0-5h1v1h-1zM2 1489h1v5h-1zm0-34h1v5h-1zm0-50h1v3h-1zm0-26h1v3h-1zm0-54h1v2h-1zm0-76h1v1h-1zm0-71h1v2h-1zm0-6h1v1h-1zm0-11h1v1h-1zm0-10h1v1h-1zm0-43h1v1h-1zM3 1427h1v3h-1zm0-124h1v3h-1zm0-120h1v1h-1zm0-38h1v1h-1zm0-6h1v1h-1zm0-5h1v1h-1zm0-45h1v1h-1zM4 1494h1v6h-1zm0-47h1v4h-1zm0-24h1v4h-1zm0-79h1v2h-1zm0-156h1v2h-1zm0-13h1v2h-1zm0-9h1v1h-1zm0-42h1v1h-1zm0-12h1v1h-1zm0-3h1v1h-1zm0-7h1v1h-1zM5 1402h1v3h-1zm0-37h1v3h-1zm0-98h1v1h-1zm0-27h1v1h-1zm0-39h1v1h-1zm0-17h1v1h-1zM6 1434h1v4h-1zm0-63h1v3h-1zm0-44h1v3h-1zm0-50h1v2h-1zm0-37h1v1h-1zm0-31h1v1h-1zm0-84h1v1h-1zM7 1423h1v4h-1zm0-158h1v2h-1zm0-25h1v1h-1zm0-108h1v1h-1zm0-14h1v1h-1zm0-37h1v1h-1zM8 1268h1v2h-1zm0-18h1v2h-1zm0-65h1v1h-1zm0-72h1v1h-1zm0-16h1v1h-1zM9 1357h1v5h-1zm0-30h1v3h-1zm0-37h1v2h-1zm0-10h1v2h-1zm0-76h1v1h-1zm0-123h1v2h-1zM10 1253h1v2h-1zm0-152h1v1h-1zm0-12h1v1h-1zM11 1505h1v6h-1zm0-97h1v8h-1zm0-51h1v3h-1zm0-25h1v2h-1zm0-38h1v2h-1zm0-10h1v2h-1zm0-41h1v1h-1zm0-16h1v1h-1zm0-13h1v1h-1zm0-32h1v1h-1zm0-25h1v1h-1zm0-14h1v1h-1zM12 1464h1v5h-1zm0-202h1v1h-1zm0-10h1v1h-1zm0-43h1v2h-1zm0-59h1v1h-1zm0-36h1v1h-1zM13 1523h1v6h-1zm0-12h1v6h-1zm0-129h1v7h-1zm0-124h1v2h-1zm0-87h1v1h-1zm0-3h1v2h-1zm0-12h1v1h-1zm0-26h1v1h-1zm0-15h1v1h-1zm0-6h1v1h-1zm0-12h1v1h-1zM14 1332h1v2h-1zm0-5h1v3h-1zm0-13h1v2h-1zm0-74h1v1h-1zm0-12h1v2h-1zm0-41h1v1h-1zm0-60h1v1h-1zm0-9h1v1h-1zm0-15h1v1h-1zM15 1344h1v2h-1zm0-28h1v2h-1zm0-48h1v2h-1zm0-5h1v2h-1zm0-33h1v1h-1zm0-39h1v1h-1zm0-40h1v1h-1zm0-69h1v1h-1zM16 1318h1v2h-1zm0-26h1v2h-1zm0-61h1v2h-1zm0-31h1v1h-1zm0-7h1v1h-1zm0-8h1v1h-1zm0-21h1v1h-1zm0-9h1v1h-1zm0-15h1v1h-1zm0-22h1v1h-1zm0-11h1v1h-1zM17 1365h1v6h-1zm0-119h1v1h-1zm0-20h1v1h-1zm0-7h1v1h-1zm0-49h1v1h-1zm0-36h1v2h-1zm0-11h1v1h-1zm0-4h1v1h-1zM18 1419h1v4h-1zm0-170h1v1h-1zm0-38h1v1h-1zm0-7h1v1h-1zm0-8h1v2h-1zm0-48h1v1h-1zm0-14h1v1h-1zm0-8h1v1h-1zM19 1460h1v4h-1zm0-71h1v3h-1zm0-15h1v3h-1zm0-20h1v3h-1zm0-5h1v3h-1zm0-24h1v2h-1zm0-91h1v1h-1zm0-18h1v2h-1zm0-115h1v1h-1zM20 1377h1v2h-1zm0-63h1v2h-1zm0-80h1v1h-1zm0-28h1v1h-1zm0-4h1v2h-1zm0-19h1v2h-1zm0-15h1v1h-1zm0-3h1v1h-1zm0-77h1v1h-1zM21 1451h1v4h-1zm0-35h1v3h-1zm0-18h1v4h-1zm0-114h1v2h-1zm0-111h1v1h-1zm0-12h1v1h-1zm0-74h1v1h-1zM22 1344h1v2h-1zm0-21h1v2h-1zm0-9h1v2h-1zm0-30h1v2h-1zm0-29h1v2h-1zm0-14h1v2h-1zm0-81h1v1h-1zm0-48h1v1h-1zm0-9h1v1h-1zM23 1469h1v5h-1zm0-135h1v3h-1zm0-59h1v2h-1zm0-3h1v1h-1zm0-49h1v1h-1zm0-46h1v1h-1zm0-26h1v1h-1zm0-4h1v1h-1zm0-13h1v1h-1zm0-10h1v2h-1zm0-6h1v1h-1zm0-11h1v1h-1zm0-17h1v1h-1zM24 1389h1v3h-1zm0-57h1v2h-1zm0-31h1v2h-1zm0-43h1v2h-1zm0-40h1v1h-1zm0-17h1v1h-1zm0-6h1v1h-1zm0-31h1v1h-1zm0-20h1v1h-1zm0-13h1v2h-1zm0-9h1v1h-1zm0-34h1v1h-1zm0-6h1v1h-1zM25 1443h1v4h-1zm0-120h1v2h-1zm0-143h1v1h-1zm0-20h1v1h-1zm0-46h1v1h-1zm0-33h1v1h-1zM26 1427h1v3h-1zm0-203h1v2h-1zm0-18h1v1h-1zM27 1447h1v8h-1zm0-28h1v4h-1zm0-7h1v4h-1zm0-194h1v1h-1zm0-13h1v1h-1zm0-38h1v1h-1zm0-17h1v1h-1zm0-16h1v1h-1zm0-7h1v1h-1zm0-31h1v1h-1zM28 1451h1v4h-1zm0-191h1v2h-1zm0-14h1v1h-1zm0-19h1v3h-1zm0-43h1v1h-1zm0-15h1v1h-1zm0-28h1v1h-1zm0-21h1v1h-1zM29 1505h1v6h-1zm0-128h1v2h-1zm0-61h1v2h-1zm0-105h1v1h-1zm0-41h1v1h-1zm0-34h1v1h-1zm0-27h1v1h-1zm0-1h1v1h-1zm0-12h1v1h-1zM30 1523h1v6h-1zm0-63h1v4h-1zm0-74h1v3h-1zm0-59h1v3h-1zm0-60h1v1h-1zm0-10h1v1h-1zm0-14h1v1h-1zm0-60h1v1h-1zM31 1523h1v6h-1zm0-121h1v3h-1zm0-108h1v2h-1zm0-10h1v2h-1zm0-9h1v2h-1zm0-44h1v2h-1zm0-22h1v1h-1zm0-21h1v2h-1zm0-14h1v1h-1zm0-20h1v1h-1zm0-41h1v1h-1zm0-12h1v2h-1z"/><path id="r26" d="M0 1494h1v6h-1zm0-174h1v3h-1zm0-14h1v2h-1zm0-9h1v2h-1zm0-27h1v2h-1zm0-15h1v2h-1zm0-22h1v1h-1zm0-5h1v2h-1zm0-29h1v1h-1zm0-29h1v1h-1zm0-37h1v1h-1zm0-3h1v2h-1zm0-15h1v1h-1zm0-11h1v2h-1zm0-4h1v1h-1zm0-8h1v1h-1zM1 1523h1v6h-1zm0-39h1v5h-1zm0-41h1v4h-1zm0-102h1v3h-1zm0-29h1v2h-1zm0-16h1v1h-1zm0-16h1v2h-1zm0-54h1v1h-1zm0-16h1v1h-1zm0-26h1v1h-1zm0-7h1v1h-1zm0-6h1v1h-1zm0-12h1v1h-1zm0-9h1v1h-1zm0-50h1v1h-1zM2 1386h1v3h-1zm0-100h1v2h-1zm0-14h1v1h-1zm0-38h1v1h-1zm0-71h1v1h-1zm0-57h1v1h-1zm0-15h1v1h-1zM3 1382h1v4h-1zm0-45h1v2h-1zm0-12h1v2h-1zm0-35h1v2h-1zm0-95h1v1h-1zm0-66h1v1h-1zm0-18h1v1h-1zM4 1362h1v3h-1zm0-23h1v2h-1zm0-159h1v1h-1zm0-13h1v1h-1zM5 1398h1v4h-1zm0-64h1v3h-1zm0-69h1v2h-1zm0-16h1v1h-1zm0-39h1v1h-1zm0-18h1v1h-1zm0-23h1v2h-1zM6 1500h1v5h-1zm0-16h1v5h-1zm0-92h1v3h-1zm0-10h1v4h-1zm0-28h1v3h-1zm0-24h1v2h-1zm0-24h1v2h-1zm0-7h1v2h-1zm0-79h1v2h-1zm0-10h1v1h-1zm0-90h1v1h-1zM7 1489h1v5h-1zm0-107h1v4h-1zm0-11h1v3h-1zm0-11h1v2h-1zm0-33h1v3h-1zm0-35h1v2h-1zm0-32h1v2h-1zm0-41h1v1h-1zm0-41h1v2h-1zm0-38h1v1h-1zm0-9h1v1h-1zm0-11h1v1h-1zm0-28h1v1h-1zM8 1529h1v7h-1zm0-12h1v6h-1zm0-70h1v4h-1zm0-9h1v5h-1zm0-36h1v3h-1zm0-34h1v3h-1zm0-78h1v2h-1zm0-46h1v2h-1zm0-21h1v1h-1zm0-50h1v1h-1zm0-17h1v1h-1zm0-2h1v1h-1zm0-63h1v1h-1zM9 1438h1v5h-1zm0-46h1v3h-1zm0-74h1v2h-1zm0-34h1v2h-1zm0-16h1v2h-1zm0-18h1v2h-1zm0-69h1v1h-1zm0-23h1v1h-1zm0-41h1v1h-1zm0-12h1v1h-1zm0-22h1v2h-1zM10 1447h1v4h-1zm0-73h1v3h-1zm0-77h1v4h-1zm0-13h1v2h-1zm0-44h1v1h-1zm0-13h1v1h-1zm0-11h1v2h-1zm0-2h1v1h-1zm0-39h1v1h-1zm0-15h1v1h-1zm0-31h1v1h-1zm0-5h1v2h-1zm0-41h1v1h-1zM11 1427h1v3h-1zm0-11h1v3h-1zm0-37h1v3h-1zm0-27h1v2h-1zm0-66h1v2h-1zm0-67h1v1h-1zm0-23h1v2h-1zm0-13h1v1h-1zm0-5h1v2h-1zm0-8h1v1h-1zm0-35h1v1h-1zm0-36h1v1h-1zM12 1451h1v4h-1zm0-99h1v2h-1zm0-6h1v3h-1zm0-64h1v2h-1zm0-25h1v1h-1zm0-33h1v2h-1zm0-119h1v1h-1zm0-13h1v1h-1zM13 1489h1v5h-1zm0-121h1v3h-1zm0-36h1v2h-1zm0-7h1v2h-1zm0-126h1v1h-1zm0-53h1v1h-1zm0-21h1v1h-1zm0-19h1v1h-1zm0-23h1v1h-1zM14 1479h1v5h-1zm0-41h1v5h-1zm0-130h1v2h-1zm0-7h1v2h-1zm0-52h1v1h-1zm0-16h1v1h-1zm0-57h1v1h-1zm0-25h1v1h-1zM15 1484h1v5h-1zm0-72h1v4h-1zm0-44h1v3h-1zm0-6h1v3h-1zm0-66h1v1h-1zm0-12h1v2h-1zm0-5h1v1h-1zm0-22h1v1h-1zm0-11h1v1h-1zm0-79h1v1h-1zm0-47h1v1h-1zm0-3h1v1h-1zm0-12h1v1h-1zM16 1511h1v12h-1zm0-223h1v2h-1zm0-6h1v2h-1zm0-22h1v3h-1zm0-20h1v1h-1zm0-25h1v1h-1zm0-16h1v1h-1zm0-7h1v1h-1zm0-33h1v1h-1zm0-2h1v1h-1zm0-3h1v1h-1zm0-49h1v1h-1zm0-6h1v1h-1zM17 1494h1v6h-1zm0-75h1v4h-1zm0-24h1v3h-1zm0-24h1v3h-1zm0-25h1v3h-1zm0-137h1v1h-1zm0-50h1v1h-1zm0-12h1v1h-1zm0-43h1v1h-1zm0-20h1v1h-1zM18 1405h1v3h-1zm0-23h1v4h-1zm0-114h1v2h-1zm0-27h1v2h-1zm0-40h1v1h-1zm0-42h1v1h-1zm0-29h1v1h-1zm0-24h1v1h-1zm0-22h1v1h-1zM19 1517h1v6h-1zm0-259h1v2h-1zm0-17h1v2h-1zm0-93h1v1h-1zm0-3h1v1h-1zm0-8h1v1h-1zM20 1474h1v5h-1zm0-166h1v2h-1zm0-55h1v2h-1zm0-29h1v2h-1zm0-26h1v1h-1zm0-40h1v1h-1zm0-13h1v1h-1zm0-39h1v1h-1zm0-2h1v2h-1zM21 1489h1v5h-1zm0-94h1v3h-1zm0-49h1v3h-1zm0-26h1v3h-1zm0-70h1v2h-1zm0-56h1v1h-1zm0-22h1v1h-1zm0-3h1v1h-1zm0-9h1v1h-1zM22 1460h1v4h-1zm0-62h1v4h-1zm0-68h1v2h-1zm0-73h1v1h-1zm0-20h1v1h-1zm0-31h1v1h-1zm0-62h1v1h-1zm0-46h1v1h-1zM23 1494h1v6h-1zm0-15h1v5h-1zm0-111h1v3h-1zm0-16h1v2h-1zm0-82h1v2h-1zm0-15h1v2h-1zm0-11h1v2h-1zm0-29h1v1h-1zm0-3h1v2h-1zm0-28h1v1h-1zm0-22h1v1h-1zm0-29h1v1h-1zM24 1349h1v3h-1zm0-19h1v2h-1zm0-31h1v2h-1zm0-22h1v2h-1zm0-104h1v1h-1zm0-38h1v1h-1zm0-9h1v1h-1zm0-11h1v1h-1zM25 1334h1v3h-1zm0-31h1v3h-1zm0-30h1v2h-1zm0-8h1v2h-1zm0-59h1v1h-1zm0-32h1v1h-1zm0-90h1v1h-1zM26 1523h1v6h-1zm0-18h1v12h-1zm0-182h1v2h-1zm0-53h1v2h-1zm0-55h1v1h-1zm0-35h1v1h-1zm0-11h1v1h-1zm0-12h1v1h-1zm0-6h1v1h-1zm0-28h1v1h-1zm0-17h1v1h-1zm0-8h1v1h-1zM27 1349h1v3h-1zm0-33h1v2h-1zm0-10h1v2h-1zm0-18h1v2h-1zm0-20h1v2h-1zm0-125h1v1h-1zm0-21h1v1h-1zm0-39h1v1h-1zM28 1427h1v3h-1zm0-25h1v3h-1zm0-48h1v3h-1zm0-64h1v2h-1zm0-13h1v2h-1zm0-15h1v1h-1zm0-104h1v1h-1zm0-20h1v1h-1zm0-13h1v1h-1zm0-3h1v1h-1zm0-7h1v1h-1zm0-9h1v1h-1zm0-15h1v1h-1zM29 1310h1v2h-1zm0-42h1v2h-1zm0-37h1v2h-1zm0-4h1v1h-1zm0-21h1v1h-1zm0-46h1v1h-1zm0-14h1v1h-1zm0-4h1v1h-1zm0-51h1v1h-1zM30 1405h1v3h-1zm0-113h1v2h-1zm0-29h1v2h-1zm0-39h1v2h-1zm0-6h1v1h-1zm0-120h1v1h-1zM31 1408h1v4h-1zm0-85h1v2h-1zm0-55h1v2h-1zm0-57h1v1h-1zm0-16h1v1h-1zm0-5h1v1h-1zm0-68h1v1h-1zm0-31h1v1h-1z"/><path id="r27" d="M0 1500h1v5h-1zm0-102h1v4h-1zm0-49h1v3h-1zm0-10h1v2h-1zm0-23h1v2h-1zm0-8h1v2h-1zm0-12h1v1h-1zm0-17h1v1h-1zm0-38h1v2h-1zm0-19h1v1h-1zm0-4h1v1h-1zm0-35h1v2h-1zm0-41h1v1h-1zm0-47h1v1h-1zm0-9h1v1h-1zM1 1419h1v4h-1zm0-62h1v3h-1zm0-18h1v2h-1zm0-57h1v2h-1zm0-38h1v2h-1zm0-43h1v1h-1zm0-49h1v1h-1zm0-5h1v2h-1zm0-27h1v1h-1zm0-7h1v1h-1zm0-25h1v1h-1zM2 1494h1v6h-1zm0-71h1v4h-1zm0-148h1v2h-1zm0-56h1v1h-1zm0-61h1v1h-1zm0-8h1v1h-1zm0-29h1v1h-1zm0-14h1v1h-1zm0-6h1v2h-1zM3 1500h1v5h-1zm0-36h1v5h-1zm0-48h1v3h-1zm0-14h1v3h-1zm0-92h1v2h-1zm0-11h1v2h-1zm0-20h1v1h-1zm0-17h1v1h-1zm0-127h1v1h-1zM4 1517h1v6h-1zm0-28h1v5h-1zm0-34h1v9h-1zm0-25h1v4h-1zm0-118h1v2h-1zm0-15h1v2h-1zm0-13h1v2h-1zm0-21h1v2h-1zm0-26h1v1h-1zm0-106h1v1h-1zm0-6h1v1h-1zm0-38h1v1h-1zM5 1505h1v6h-1zm0-123h1v7h-1zm0-43h1v2h-1zm0-21h1v2h-1zm0-50h1v2h-1zm0-10h1v2h-1zm0-3h1v2h-1zm0-14h1v2h-1zm0-8h1v1h-1zm0-27h1v1h-1zm0-44h1v1h-1zm0-11h1v1h-1zm0-6h1v1h-1zm0-21h1v1h-1zm0-6h1v1h-1zM6 1325h1v2h-1zm0-17h1v2h-1zm0-53h1v2h-1zm0-3h1v1h-1zm0-5h1v2h-1zm0-40h1v2h-1zm0-85h1v1h-1zm0-5h1v1h-1zm0-28h1v1h-1zM7 1529h1v7h-1zm0-12h1v6h-1zm0-83h1v4h-1zm0-36h1v4h-1zm0-9h1v3h-1zm0-59h1v2h-1zm0-22h1v2h-1zm0-5h1v3h-1zm0-6h1v2h-1zm0-24h1v2h-1zm0-62h1v1h-1zm0-16h1v1h-1zm0-15h1v1h-1zm0-5h1v1h-1zm0-40h1v2h-1zm0-2h1v1h-1zm0-4h1v1h-1zm0-20h1v1h-1zm0-12h1v1h-1zM8 1386h1v3h-1zm0-106h1v2h-1zm0-68h1v2h-1zm0-11h1v1h-1zm0-48h1v1h-1zm0-23h1v2h-1zm0-3h1v1h-1zm0-4h1v1h-1zm0-22h1v1h-1zm0-12h1v1h-1zM9 1365h1v3h-1zm0-119h1v1h-1zm0-59h1v1h-1zm0-15h1v1h-1zm0-3h1v1h-1zm0-15h1v1h-1zm0-9h1v1h-1zm0-2h1v1h-1zm0-6h1v1h-1zm0-10h1v1h-1zm0-4h1v1h-1zm0-10h1v1h-1zm0-12h1v1h-1zm0-5h1v1h-1zM10 1416h1v3h-1zm0-51h1v3h-1zm0-24h1v3h-1zm0-4h1v2h-1zm0-27h1v2h-1zm0-129h1v1h-1zm0-62h1v1h-1zm0-10h1v1h-1zM11 1430h1v4h-1zm0-38h1v3h-1zm0-43h1v3h-1zm0-74h1v2h-1zm0-126h1v1h-1zm0-3h1v1h-1zm0-10h1v1h-1zm0-9h1v1h-1zm0-39h1v1h-1zM12 1505h1v6h-1zm0-36h1v5h-1zm0-35h1v4h-1zm0-55h1v3h-1zm0-61h1v2h-1zm0-43h1v2h-1zm0-28h1v2h-1zm0-10h1v1h-1zm0-3h1v1h-1zm0-20h1v1h-1zm0-46h1v1h-1zm0-5h1v1h-1zm0-11h1v1h-1zm0-9h1v1h-1zm0-25h1v1h-1zm0-32h1v1h-1zM13 1398h1v4h-1zm0-119h1v1h-1zm0-87h1v1h-1zm0-22h1v1h-1zm0-37h1v1h-1zm0-7h1v1h-1zm0-30h1v1h-1zm0-2h1v1h-1zM14 1318h1v2h-1zm0-6h1v2h-1zm0-35h1v2h-1zm0-50h1v1h-1zm0-9h1v1h-1zm0-13h1v1h-1zm0-27h1v2h-1zm0-65h1v1h-1zm0-17h1v1h-1zm0-9h1v1h-1zM15 1517h1v6h-1zm0-28h1v5h-1zm0-62h1v3h-1zm0-50h1v2h-1zm0-63h1v2h-1zm0-39h1v2h-1zm0-13h1v1h-1zm0-61h1v1h-1zm0-49h1v1h-1zm0-2h1v1h-1zm0-3h1v1h-1zm0-3h1v1h-1zm0-3h1v1h-1zm0-39h1v1h-1zM16 1395h1v3h-1zm0-98h1v4h-1zm0-20h1v2h-1zm0-27h1v2h-1zm0-24h1v1h-1zm0-7h1v1h-1zm0-21h1v1h-1zm0-10h1v2h-1zm0-43h1v1h-1zm0-4h1v1h-1zm0-18h1v1h-1zM17 1460h1v4h-1zm0-203h1v1h-1zm0-23h1v1h-1zm0-46h1v2h-1zm0-13h1v1h-1zm0-63h1v1h-1zm0-3h1v1h-1zm0-20h1v1h-1zM18 1427h1v3h-1zm0-162h1v2h-1zm0-3h1v1h-1zm0-7h1v2h-1zm0-67h1v2h-1zm0-5h1v1h-1zm0-18h1v1h-1zm0-5h1v1h-1zm0-59h1v1h-1zM19 1341h1v3h-1zm0-49h1v2h-1zm0-15h1v2h-1zm0-4h1v2h-1zm0-3h1v2h-1zm0-116h1v1h-1zm0-4h1v1h-1zm0-20h1v1h-1zm0-22h1v1h-1zM20 1408h1v4h-1zm0-6h1v3h-1zm0-134h1v2h-1zm0-21h1v2h-1zm0-48h1v1h-1zm0-5h1v1h-1zm0-8h1v1h-1zm0-51h1v1h-1zm0-5h1v1h-1zm0-23h1v1h-1zM21 1354h1v3h-1zm0-68h1v2h-1zm0-42h1v2h-1zm0-18h1v1h-1zm0-67h1v1h-1zm0-9h1v1h-1zm0-18h1v1h-1zm0-24h1v1h-1zm0-12h1v1h-1zm0-8h1v1h-1zM22 1469h1v5h-1zm0-14h1v5h-1zm0-73h1v4h-1zm0-22h1v2h-1zm0-64h1v1h-1zm0-6h1v2h-1zm0-28h1v1h-1zm0-18h1v2h-1zm0-13h1v2h-1zm0-26h1v1h-1zm0-6h1v1h-1zm0-11h1v2h-1zm0-34h1v1h-1zm0-2h1v1h-1zM23 1464h1v5h-1zm0-176h1v2h-1zm0-11h1v2h-1zm0-67h1v1h-1zm0-6h1v1h-1zm0-4h1v1h-1zm0-62h1v1h-1zm0-15h1v1h-1zm0-4h1v1h-1zm0-6h1v1h-1zM24 1523h1v6h-1zm0-141h1v4h-1zm0-17h1v3h-1zm0-51h1v2h-1zm0-67h1v2h-1zm0-41h1v1h-1zm0-32h1v1h-1zm0-15h1v1h-1zm0-45h1v1h-1zM25 1240h1v1h-1zm0-109h1v1h-1zm0-29h1v1h-1zm0-15h1v1h-1zM26 1474h1v5h-1zm0-173h1v2h-1zm0-26h1v2h-1zm0-25h1v2h-1zm0-6h1v2h-1zm0-6h1v2h-1zm0-26h1v2h-1zm0-5h1v2h-1zm0-32h1v1h-1zm0-5h1v1h-1zm0-27h1v1h-1zm0-22h1v1h-1zm0-26h1v1h-1zm0-8h1v1h-1zM27 1474h1v5h-1zm0-69h1v3h-1zm0-26h1v3h-1zm0-27h1v2h-1zm0-32h1v3h-1zm0-30h1v2h-1zm0-50h1v1h-1zm0-7h1v2h-1zm0-31h1v2h-1zm0-42h1v1h-1zm0-22h1v1h-1zm0-8h1v1h-1zm0-6h1v1h-1zm0-6h1v1h-1zm0-10h1v1h-1zm0-11h1v1h-1zm0-8h1v1h-1zM28 1517h1v6h-1zm0-12h1v6h-1zm0-164h1v3h-1zm0-7h1v3h-1zm0-9h1v2h-1zm0-107h1v1h-1zm0-43h1v1h-1zM29 1447h1v4h-1zm0-17h1v4h-1zm0-35h1v3h-1zm0-24h1v3h-1zm0-27h1v2h-1zm0-38h1v2h-1zm0-24h1v2h-1zm0-52h1v1h-1zm0-11h1v1h-1zm0-3h1v2h-1zm0-17h1v1h-1zm0-25h1v2h-1zm0-9h1v1h-1zm0-12h1v2h-1zm0-59h1v1h-1zM30 1308h1v2h-1zm0-26h1v2h-1zm0-62h1v2h-1zm0-9h1v1h-1zm0-7h1v1h-1zm0-62h1v1h-1zm0-13h1v1h-1zm0-13h1v1h-1zm0-15h1v1h-1zm0-6h1v1h-1zM31 1464h1v5h-1zm0-37h1v3h-1zm0-29h1v4h-1zm0-68h1v2h-1zm0-116h1v1h-1zm0-37h1v3h-1zm0-16h1v1h-1zm0-27h1v1h-1zm0-20h1v1h-1zm0-25h1v1h-1z"/><path id="r28" d="M0 1392h1v6h-1zm0-27h1v3h-1zm0-8h1v3h-1zm0-47h1v2h-1zm0-43h1v1h-1zm0-30h1v1h-1zm0-80h1v1h-1zm0-8h1v1h-1zm0-24h1v1h-1zm0-44h1v1h-1zM1 1460h1v4h-1zm0-89h1v3h-1zm0-46h1v2h-1zm0-48h1v2h-1zm0-15h1v1h-1zm0-9h1v2h-1zm0-23h1v1h-1zm0-57h1v1h-1zm0-4h1v1h-1zm0-63h1v1h-1zM2 1469h1v5h-1zm0-130h1v2h-1zm0-82h1v1h-1zm0-16h1v2h-1zm0-13h1v2h-1zm0-12h1v2h-1zm0-6h1v1h-1zm0-65h1v1h-1zm0-40h1v1h-1zm0-7h1v2h-1zM3 1419h1v4h-1zm0-123h1v1h-1zm0-38h1v2h-1zm0-17h1v2h-1zm0-34h1v2h-1zm0-17h1v1h-1zm0-3h1v1h-1zm0-41h1v2h-1zm0-14h1v1h-1zm0-51h1v1h-1zM4 1529h1v7h-1zm0-29h1v11h-1zm0-206h1v2h-1zm0-12h1v2h-1zm0-25h1v1h-1zm0-11h1v1h-1zm0-30h1v2h-1zm0-15h1v1h-1zm0-24h1v1h-1zm0-37h1v1h-1zm0-3h1v1h-1zm0-4h1v1h-1zm0-13h1v1h-1zm0-9h1v1h-1zM5 1523h1v13h-1zm0-118h1v3h-1zm0-43h1v3h-1zm0-76h1v2h-1zm0-56h1v1h-1zm0-23h1v2h-1zm0-20h1v1h-1zm0-5h1v1h-1zm0-2h1v1h-1zm0-57h1v1h-1zm0-18h1v1h-1zm0-14h1v1h-1zm0-1h1v1h-1zm0-9h1v1h-1zM6 1443h1v4h-1zm0-31h1v4h-1zm0-52h1v2h-1zm0-80h1v2h-1zm0-95h1v1h-1zm0-102h1v1h-1zM7 1511h1v6h-1zm0-132h1v3h-1zm0-78h1v2h-1zm0-94h1v2h-1zm0-25h1v1h-1zm0-8h1v1h-1zm0-9h1v1h-1zm0-41h1v1h-1zM8 1419h1v4h-1zm0-11h1v4h-1zm0-112h1v1h-1zm0-31h1v2h-1zm0-16h1v1h-1zm0-51h1v1h-1zm0-32h1v1h-1zm0-9h1v1h-1zm0-13h1v1h-1zm0-9h1v1h-1zm0-52h1v1h-1zM9 1395h1v3h-1zm0-148h1v2h-1zm0-46h1v1h-1zm0-9h1v1h-1zm0-28h1v1h-1zm0-25h1v1h-1zm0-7h1v1h-1zm0-42h1v1h-1zM10 1344h1v2h-1zm0-65h1v1h-1zm0-14h1v2h-1zm0-3h1v1h-1zm0-19h1v1h-1zm0-5h1v2h-1zm0-37h1v1h-1zm0-79h1v1h-1zm0-6h1v1h-1zm0-26h1v1h-1zM11 1469h1v5h-1zm0-18h1v4h-1zm0-186h1v2h-1zm0-21h1v2h-1zm0-21h1v3h-1zm0-63h1v1h-1zm0-56h1v1h-1zm0-14h1v1h-1zM12 1395h1v7h-1zm0-72h1v2h-1zm0-27h1v1h-1zm0-12h1v2h-1zm0-43h1v2h-1zm0-19h1v1h-1zm0-63h1v1h-1zm0-20h1v1h-1zm0-4h1v1h-1zm0-19h1v1h-1zM13 1469h1v5h-1zm0-39h1v4h-1zm0-93h1v2h-1zm0-17h1v3h-1zm0-40h1v2h-1zm0-12h1v2h-1zm0-49h1v1h-1zm0-31h1v2h-1zm0-5h1v1h-1zm0-92h1v1h-1zM14 1408h1v4h-1zm0-153h1v2h-1zm0-74h1v1h-1zm0-75h1v1h-1zm0-8h1v3h-1zm0-6h1v1h-1zm0-8h1v1h-1zM15 1416h1v3h-1zm0-139h1v2h-1zm0-37h1v1h-1zm0-17h1v1h-1zm0-24h1v1h-1zm0-3h1v2h-1zm0-3h1v2h-1zm0-19h1v1h-1zm0-64h1v1h-1zm0-4h1v1h-1zM16 1430h1v4h-1zm0-28h1v6h-1zm0-190h1v2h-1zm0-39h1v1h-1zm0-3h1v1h-1zm0-27h1v1h-1zm0-45h1v1h-1zm0-17h1v1h-1zM17 1447h1v4h-1zm0-13h1v4h-1zm0-11h1v4h-1zm0-37h1v3h-1zm0-92h1v2h-1zm0-24h1v3h-1zm0-8h1v1h-1zm0-19h1v1h-1zm0-27h1v2h-1zm0-55h1v1h-1zM18 1474h1v5h-1zm0-82h1v3h-1zm0-152h1v1h-1zm0-35h1v1h-1zm0-43h1v2h-1zm0-6h1v1h-1zm0-19h1v1h-1zm0-6h1v2h-1zM19 1438h1v5h-1zm0-8h1v4h-1zm0-22h1v4h-1zm0-56h1v2h-1zm0-46h1v2h-1zm0-27h1v1h-1zm0-39h1v1h-1zm0-13h1v1h-1zm0-26h1v1h-1zm0-58h1v1h-1zm0-19h1v1h-1zm0-20h1v1h-1zm0-21h1v1h-1zM20 1505h1v6h-1zm0-11h1v6h-1zm0-108h1v3h-1zm0-12h1v3h-1zm0-71h1v3h-1zm0-7h1v1h-1zm0-68h1v2h-1zM21 1479h1v5h-1zm0-154h1v2h-1zm0-46h1v1h-1zm0-80h1v1h-1zm0-57h1v1h-1zm0-17h1v1h-1zm0-5h1v1h-1zm0-9h1v1h-1zM22 1479h1v5h-1zm0-52h1v3h-1zm0-107h1v3h-1zm0-40h1v2h-1zm0-64h1v2h-1zm0-20h1v2h-1zm0-2h1v1h-1zm0-2h1v1h-1zm0-18h1v1h-1zm0-3h1v1h-1zm0-10h1v1h-1zm0-61h1v1h-1zm0-19h1v1h-1zM23 1517h1v6h-1zm0-66h1v4h-1zm0-80h1v3h-1zm0-22h1v3h-1zm0-39h1v2h-1zm0-4h1v2h-1zm0-22h1v2h-1zm0-65h1v1h-1zm0-18h1v1h-1zm0-40h1v1h-1zm0-51h1v1h-1zM24 1416h1v3h-1zm0-56h1v2h-1zm0-52h1v2h-1zm0-41h1v1h-1zm0-15h1v1h-1zm0-25h1v1h-1zm0-50h1v1h-1zm0-10h1v1h-1zm0-75h1v1h-1zM25 1523h1v6h-1zm0-137h1v6h-1zm0-15h1v3h-1zm0-89h1v2h-1zm0-49h1v1h-1zm0-38h1v1h-1zm0-3h1v1h-1zm0-39h1v1h-1zm0-2h1v1h-1zm0-4h1v1h-1zm0-7h1v1h-1zm0-11h1v1h-1zm0-25h1v1h-1zM26 1365h1v6h-1zm0-112h1v2h-1zm0-105h1v1h-1zm0-18h1v1h-1zm0-46h1v1h-1zm0-3h1v1h-1zM27 1434h1v4h-1zm0-7h1v3h-1zm0-97h1v2h-1zm0-46h1v2h-1zm0-19h1v2h-1zm0-24h1v3h-1zm0-41h1v1h-1zm0-12h1v2h-1zm0-7h1v1h-1zm0-3h1v2h-1zm0-26h1v1h-1zm0-53h1v1h-1zM28 1479h1v5h-1zm0-10h1v5h-1zm0-142h1v3h-1zm0-59h1v2h-1zm0-27h1v2h-1zm0-115h1v1h-1zm0-27h1v1h-1zM29 1500h1v5h-1zm0-98h1v3h-1zm0-16h1v3h-1zm0-40h1v3h-1zm0-74h1v1h-1zm0-15h1v1h-1zm0-23h1v1h-1zm0-32h1v2h-1zm0-19h1v1h-1zm0-25h1v1h-1zm0-48h1v1h-1zm0-29h1v2h-1zM30 1434h1v4h-1zm0-122h1v2h-1zm0-39h1v2h-1zm0-36h1v1h-1zm0-7h1v1h-1zm0-4h1v1h-1zm0-7h1v1h-1zm0-23h1v2h-1zm0-3h1v1h-1zm0-5h1v2h-1zm0-25h1v1h-1zm0-31h1v1h-1zm0-9h1v1h-1zm0-39h1v1h-1zM31 1379h1v3h-1zm0-22h1v3h-1zm0-13h1v2h-1zm0-28h1v2h-1zm0-58h1v2h-1zm0-9h1v1h-1zm0-96h1v1h-1zm0-43h1v1h-1zm0-27h1v1h-1zm0-2h1v2h-1z"/><path id="r29" d="M0 1262h1v1h-1zm0-71h1v1h-1zm0-25h1v1h-1zm0-27h1v1h-1zM1 1474h1v5h-1zm0-62h1v7h-1zm0-33h1v3h-1zm0-33h1v3h-1zm0-71h1v2h-1zm0-47h1v2h-1zm0-12h1v2h-1zm0-12h1v1h-1zm0-67h1v1h-1zm0-25h1v1h-1zM2 1310h1v2h-1zm0-9h1v2h-1zm0-46h1v2h-1zm0-55h1v1h-1zm0-54h1v1h-1zm0-2h1v1h-1zm0-13h1v1h-1zm0-44h1v1h-1zM3 1529h1v7h-1zm0-50h1v5h-1zm0-36h1v4h-1zm0-94h1v3h-1zm0-26h1v2h-1zm0-107h1v2h-1zm0-5h1v1h-1zm0-13h1v1h-1zm0-6h1v1h-1zm0-15h1v3h-1zm0-34h1v1h-1zm0-19h1v1h-1zm0-38h1v1h-1zM4 1523h1v6h-1zm0-12h1v6h-1zm0-99h1v4h-1zm0-26h1v3h-1zm0-26h1v2h-1zm0-30h1v2h-1zm0-42h1v2h-1zm0-50h1v2h-1zm0-8h1v1h-1zm0-26h1v1h-1zm0-10h1v1h-1zm0-8h1v1h-1zm0-27h1v1h-1zm0-15h1v1h-1zm0-48h1v1h-1zM5 1332h1v2h-1zm0-40h1v2h-1zm0-92h1v1h-1zm0-4h1v2h-1zm0-20h1v1h-1zm0-28h1v1h-1zm0-29h1v1h-1zm0-17h1v1h-1zm0-15h1v1h-1zM6 1423h1v4h-1zm0-18h1v3h-1zm0-48h1v3h-1zm0-16h1v3h-1zm0-76h1v2h-1zm0-7h1v2h-1zm0-34h1v2h-1zm0-5h1v1h-1zm0-8h1v1h-1zm0-16h1v1h-1zm0-34h1v1h-1zm0-2h1v1h-1zm0-32h1v1h-1zm0-13h1v2h-1zm0-5h1v1h-1zm0-1h1v1h-1zm0-7h1v1h-1zm0-8h1v1h-1zM7 1479h1v5h-1zm0-28h1v4h-1zm0-46h1v3h-1zm0-71h1v3h-1zm0-18h1v2h-1zm0-22h1v2h-1zm0-12h1v2h-1zm0-41h1v3h-1zm0-25h1v2h-1zm0-12h1v1h-1zm0-46h1v1h-1zm0-8h1v1h-1zm0-24h1v1h-1zm0-19h1v1h-1zm0-21h1v1h-1zM8 1464h1v5h-1zm0-156h1v2h-1zm0-56h1v1h-1zm0-36h1v2h-1zm0-12h1v1h-1zm0-45h1v1h-1zm0-25h1v1h-1zm0-19h1v1h-1zm0-8h1v1h-1zm0-14h1v1h-1zM9 1469h1v5h-1zm0-163h1v2h-1zm0-10h1v1h-1zm0-4h1v2h-1zm0-25h1v1h-1zm0-41h1v1h-1zm0-56h1v1h-1zm0-10h1v1h-1zm0-41h1v1h-1zm0-10h1v1h-1zm0-23h1v1h-1zM10 1386h1v3h-1zm0-24h1v3h-1zm0-42h1v3h-1zm0-48h1v1h-1zm0-46h1v1h-1zm0-26h1v1h-1zm0-4h1v2h-1zm0-40h1v1h-1zm0-19h1v1h-1zm0-19h1v1h-1zm0-10h1v1h-1zm0-5h1v1h-1zM11 1346h1v3h-1zm0-32h1v2h-1zm0-13h1v2h-1zm0-39h1v1h-1zm0-27h1v2h-1zm0-26h1v1h-1zm0-21h1v2h-1zm0-14h1v1h-1zm0-15h1v1h-1zm0-28h1v1h-1zm0-28h1v1h-1zm0-7h1v1h-1zM12 1357h1v3h-1zm0-18h1v5h-1zm0-81h1v2h-1zm0-18h1v1h-1zm0-5h1v2h-1zm0-58h1v1h-1zm0-43h1v1h-1zm0-15h1v1h-1zm0-16h1v1h-1zM13 1474h1v5h-1zm0-19h1v5h-1zm0-17h1v5h-1zm0-89h1v3h-1zm0-35h1v4h-1zm0-39h1v2h-1zm0-44h1v2h-1zm0-9h1v1h-1zm0-37h1v2h-1zm0-62h1v1h-1zm0-20h1v1h-1zm0-2h1v1h-1zm0-14h1v1h-1zM14 1484h1v5h-1zm0-54h1v4h-1zm0-133h1v2h-1zm0-7h1v2h-1zm0-20h1v2h-1zm0-12h1v2h-1zm0-58h1v1h-1zm0-17h1v1h-1zm0-14h1v1h-1zm0-16h1v1h-1zm0-19h1v1h-1zm0-33h1v1h-1zM15 1479h1v5h-1zm0-93h1v3h-1zm0-114h1v1h-1zm0-103h1v1h-1zm0-4h1v1h-1zm0-6h1v1h-1zm0-17h1v1h-1zm0-35h1v1h-1zm0-19h1v1h-1zM16 1334h1v3h-1zm0-28h1v2h-1zm0-48h1v2h-1zm0-14h1v2h-1zm0-7h1v3h-1zm0-9h1v2h-1zm0-33h1v1h-1zm0-59h1v1h-1zm0-14h1v1h-1zM17 1332h1v2h-1zm0-24h1v2h-1zm0-7h1v2h-1zm0-96h1v1h-1zm0-11h1v2h-1zm0-14h1v1h-1zm0-72h1v1h-1zm0-21h1v1h-1zm0-2h1v1h-1zM18 1460h1v4h-1zm0-9h1v4h-1zm0-43h1v4h-1zm0-19h1v3h-1zm0-43h1v6h-1zm0-7h1v2h-1zm0-25h1v2h-1zm0-47h1v1h-1zm0-126h1v1h-1zm0-8h1v1h-1zM19 1479h1v5h-1zm0-10h1v5h-1zm0-77h1v3h-1zm0-13h1v3h-1zm0-11h1v3h-1zm0-48h1v3h-1zm0-106h1v1h-1zm0-16h1v1h-1zm0-4h1v1h-1zm0-19h1v1h-1zm0-49h1v1h-1zM20 1517h1v6h-1zm0-38h1v5h-1zm0-19h1v4h-1zm0-62h1v4h-1zm0-16h1v4h-1zm0-76h1v2h-1zm0-26h1v2h-1zm0-8h1v1h-1zm0-49h1v1h-1zm0-7h1v3h-1zm0-12h1v1h-1zm0-31h1v1h-1zm0-40h1v1h-1zm0-7h1v1h-1zm0-3h1v1h-1zm0-9h1v1h-1zm0-2h1v1h-1zm0-11h1v1h-1zm0-6h1v1h-1zM21 1474h1v5h-1zm0-112h1v3h-1zm0-124h1v2h-1zm0-89h1v1h-1zm0-2h1v1h-1zm0-12h1v1h-1zm0-23h1v1h-1zm0-3h1v1h-1zm0-8h1v1h-1zm0-6h1v1h-1zm0-10h1v1h-1zM22 1494h1v11h-1zm0-115h1v3h-1zm0-80h1v2h-1zm0-66h1v1h-1zm0-32h1v1h-1zm0-6h1v1h-1zm0-9h1v1h-1zm0-2h1v1h-1zm0-26h1v1h-1zm0-12h1v1h-1zm0-20h1v1h-1zm0-12h1v1h-1zm0-26h1v1h-1zM23 1529h1v7h-1zm0-95h1v4h-1zm0-88h1v3h-1zm0-5h1v3h-1zm0-9h1v2h-1zm0-9h1v2h-1zm0-7h1v2h-1zm0-20h1v3h-1zm0-44h1v1h-1zm0-11h1v2h-1zm0-19h1v1h-1zm0-15h1v2h-1zm0-22h1v2h-1zm0-14h1v1h-1zm0-16h1v1h-1zm0-6h1v1h-1zm0-17h1v1h-1zm0-17h1v1h-1zm0-14h1v2h-1zm0-7h1v1h-1zm0-6h1v1h-1zM24 1489h1v5h-1zm0-51h1v5h-1zm0-97h1v3h-1zm0-25h1v2h-1zm0-30h1v2h-1zm0-13h1v2h-1zm0-64h1v1h-1zm0-21h1v2h-1zm0-102h1v1h-1zM25 1484h1v5h-1zm0-10h1v5h-1zm0-47h1v3h-1zm0-19h1v4h-1zm0-29h1v3h-1zm0-35h1v2h-1zm0-87h1v1h-1zm0-10h1v2h-1zm0-16h1v2h-1zm0-11h1v2h-1zm0-9h1v1h-1zm0-18h1v1h-1zm0-15h1v2h-1zm0-8h1v1h-1zm0-7h1v1h-1zm0-13h1v1h-1zm0-12h1v1h-1zM26 1416h1v3h-1zm0-24h1v3h-1zm0-21h1v3h-1zm0-53h1v2h-1zm0-98h1v2h-1zm0-37h1v1h-1zm0-21h1v1h-1zm0-38h1v1h-1zm0-17h1v1h-1zm0-4h1v1h-1zM27 1382h1v7h-1zm0-5h1v2h-1zm0-17h1v2h-1zm0-35h1v5h-1zm0-15h1v2h-1zm0-9h1v2h-1zm0-51h1v2h-1zm0-52h1v1h-1zm0-5h1v1h-1zm0-40h1v2h-1zm0-4h1v1h-1zm0-14h1v1h-1zm0-14h1v1h-1zm0-7h1v1h-1zm0-7h1v1h-1zM28 1494h1v6h-1zm0-129h1v3h-1zm0-47h1v2h-1zm0-78h1v1h-1zm0-50h1v1h-1zm0-54h1v1h-1zm0-9h1v1h-1zm0-3h1v1h-1zm0-23h1v1h-1zM29 1464h1v5h-1zm0-125h1v2h-1zm0-9h1v2h-1zm0-42h1v2h-1zm0-74h1v1h-1zm0-22h1v1h-1zm0-15h1v1h-1zm0-9h1v1h-1zm0-11h1v1h-1zm0-2h1v1h-1zm0-17h1v1h-1zm0-18h1v1h-1zm0-2h1v1h-1zm0-23h1v1h-1zm0-7h1v1h-1zM30 1517h1v6h-1zm0-94h1v4h-1zm0-133h1v2h-1zm0-46h1v2h-1zm0-17h1v1h-1zm0-21h1v1h-1zm0-68h1v1h-1zm0-14h1v1h-1zm0-10h1v1h-1zm0-7h1v1h-1zM31 1419h1v4h-1zm0-73h1v3h-1zm0-14h1v5h-1zm0-31h1v2h-1zm0-125h1v1h-1zm0-21h1v1h-1zm0-4h1v1h-1zm0-8h1v1h-1zm0-47h1v1h-1z"/><path id="r30" d="M0 1412h1v4h-1zm0-44h1v3h-1zm0-110h1v2h-1zm0-20h1v3h-1zm0-28h1v1h-1zm0-30h1v1h-1zm0-16h1v1h-1zm0-13h1v1h-1zm0-19h1v1h-1zm0-3h1v1h-1zm0-23h1v1h-1zm0-7h1v1h-1zm0-10h1v1h-1zm0-7h1v1h-1zM1 1438h1v5h-1zm0-89h1v3h-1zm0-5h1v2h-1zm0-36h1v2h-1zm0-73h1v2h-1zm0-15h1v2h-1zm0-9h1v1h-1zm0-15h1v2h-1zm0-26h1v1h-1zm0-36h1v1h-1zm0-15h1v1h-1zm0-3h1v1h-1zm0-12h1v1h-1zm0-6h1v1h-1zm0-7h1v1h-1zM2 1460h1v4h-1zm0-58h1v3h-1zm0-25h1v2h-1zm0-9h1v3h-1zm0-36h1v2h-1zm0-26h1v2h-1zm0-12h1v2h-1zm0-6h1v2h-1zm0-55h1v1h-1zm0-35h1v1h-1zm0-14h1v1h-1zm0-4h1v1h-1zm0-16h1v1h-1zm0-23h1v1h-1zm0-9h1v1h-1zm0-22h1v1h-1zm0-6h1v1h-1zM3 1484h1v5h-1zm0-79h1v3h-1zm0-51h1v3h-1zm0-22h1v2h-1zm0-60h1v1h-1zm0-32h1v1h-1zm0-6h1v1h-1zm0-3h1v2h-1zm0-26h1v1h-1zm0-12h1v1h-1zm0-12h1v1h-1zm0-91h1v1h-1zM4 1405h1v3h-1zm0-34h1v3h-1zm0-124h1v2h-1zm0-21h1v1h-1zm0-69h1v1h-1zm0-10h1v1h-1zm0-8h1v1h-1zm0-4h1v2h-1zm0-29h1v1h-1zM5 1464h1v5h-1zm0-21h1v4h-1zm0-20h1v4h-1zm0-225h1v1h-1zm0-27h1v1h-1zm0-11h1v1h-1zm0-5h1v1h-1zm0-13h1v1h-1zm0-32h1v2h-1zM6 1323h1v2h-1zm0-5h1v2h-1zm0-56h1v1h-1zm0-9h1v2h-1zm0-54h1v2h-1zm0-21h1v2h-1zm0-27h1v1h-1zm0-3h1v1h-1zm0-42h1v1h-1zm0-1h1v1h-1zm0-14h1v1h-1zM7 1469h1v5h-1zm0-120h1v3h-1zm0-29h1v3h-1zm0-8h1v2h-1zm0-32h1v2h-1zm0-12h1v2h-1zm0-16h1v1h-1zm0-19h1v2h-1zm0-3h1v1h-1zm0-7h1v1h-1zm0-13h1v1h-1zm0-11h1v1h-1zm0-40h1v2h-1zm0-2h1v1h-1zm0-36h1v2h-1zm0-11h1v1h-1zm0-6h1v1h-1zm0-6h1v2h-1zM8 1479h1v10h-1zm0-28h1v4h-1zm0-112h1v2h-1zm0-12h1v3h-1zm0-11h1v2h-1zm0-4h1v2h-1zm0-66h1v1h-1zm0-20h1v1h-1zm0-20h1v1h-1zm0-32h1v2h-1zm0-32h1v1h-1zm0-10h1v1h-1zM9 1500h1v5h-1zm0-45h1v5h-1zm0-215h1v3h-1zm0-60h1v1h-1zm0-15h1v1h-1zm0-29h1v1h-1zm0-12h1v1h-1zm0-3h1v1h-1zm0-9h1v1h-1zM10 1474h1v5h-1zm0-23h1v4h-1zm0-102h1v3h-1zm0-19h1v4h-1zm0-12h1v2h-1zm0-4h1v2h-1zm0-41h1v2h-1zm0-3h1v2h-1zm0-20h1v2h-1zm0-27h1v1h-1zm0-47h1v1h-1zm0-10h1v1h-1zm0-34h1v1h-1zm0-2h1v1h-1zm0-13h1v1h-1zm0-17h1v1h-1zm0-8h1v1h-1zm0-11h1v2h-1zM11 1460h1v9h-1zm0-13h1v4h-1zm0-9h1v5h-1zm0-97h1v3h-1zm0-7h1v3h-1zm0-4h1v2h-1zm0-40h1v2h-1zm0-18h1v1h-1zm0-25h1v3h-1zm0-36h1v1h-1zm0-26h1v1h-1zm0-5h1v1h-1zm0-33h1v1h-1zm0-37h1v1h-1zm0-29h1v1h-1zM12 1479h1v5h-1zm0-36h1v4h-1zm0-69h1v3h-1zm0-14h1v2h-1zm0-54h1v2h-1zm0-18h1v2h-1zm0-15h1v2h-1zm0-45h1v2h-1zm0-30h1v1h-1zm0-20h1v3h-1zm0-36h1v1h-1zm0-9h1v1h-1zm0-3h1v1h-1zm0-13h1v1h-1zm0-19h1v2h-1zM13 1500h1v5h-1zm0-40h1v4h-1zm0-81h1v3h-1zm0-27h1v2h-1zm0-25h1v5h-1zm0-62h1v2h-1zm0-8h1v1h-1zm0-33h1v2h-1zm0-13h1v1h-1zm0-9h1v2h-1zm0-22h1v1h-1zm0-4h1v1h-1zm0-15h1v1h-1zM14 1523h1v6h-1zm0-89h1v4h-1zm0-52h1v4h-1zm0-36h1v3h-1zm0-64h1v2h-1zm0-10h1v1h-1zm0-19h1v2h-1zm0-34h1v1h-1zm0-56h1v1h-1zm0-37h1v1h-1zm0-14h1v1h-1zm0-22h1v1h-1zM15 1360h1v2h-1zm0-50h1v2h-1zm0-75h1v2h-1zm0-60h1v1h-1zm0-50h1v1h-1zm0-3h1v1h-1zM16 1529h1v7h-1zm0-35h1v6h-1zm0-78h1v3h-1zm0-37h1v3h-1zm0-33h1v3h-1zm0-19h1v3h-1zm0-64h1v2h-1zm0-14h1v1h-1zm0-3h1v1h-1zm0-71h1v1h-1zm0-9h1v1h-1zm0-4h1v1h-1zm0-11h1v1h-1zm0-5h1v1h-1zm0-18h1v1h-1zm0-46h1v1h-1zM17 1484h1v5h-1zm0-10h1v5h-1zm0-211h1v2h-1zm0-5h1v2h-1zm0-11h1v2h-1zm0-10h1v1h-1zm0-6h1v2h-1zm0-68h1v1h-1zm0-64h1v1h-1zm0-9h1v1h-1zM18 1489h1v5h-1zm0-25h1v5h-1zm0-78h1v3h-1zm0-29h1v3h-1zm0-67h1v2h-1zm0-15h1v2h-1zm0-5h1v2h-1zm0-13h1v1h-1zm0-10h1v2h-1zm0-9h1v2h-1zm0-12h1v1h-1zm0-27h1v1h-1zm0-5h1v1h-1zm0-23h1v2h-1zm0-46h1v1h-1zm0-35h1v1h-1zM19 1474h1v5h-1zm0-51h1v4h-1zm0-107h1v2h-1zm0-56h1v2h-1zm0-60h1v1h-1zm0-41h1v1h-1zm0-12h1v1h-1zm0-26h1v1h-1zm0-21h1v1h-1zM20 1427h1v3h-1zm0-65h1v3h-1zm0-37h1v2h-1zm0-5h1v3h-1zm0-45h1v2h-1zm0-5h1v2h-1zm0-7h1v4h-1zm0-6h1v1h-1zm0-17h1v1h-1zm0-9h1v2h-1zm0-19h1v2h-1zm0-87h1v1h-1zm0-25h1v1h-1zm0-8h1v1h-1zM21 1469h1v5h-1zm0-39h1v8h-1zm0-48h1v4h-1zm0-33h1v3h-1zm0-31h1v2h-1zm0-6h1v2h-1zm0-32h1v2h-1zm0-15h1v2h-1zm0-25h1v1h-1zm0-3h1v1h-1zm0-13h1v2h-1zm0-9h1v1h-1zm0-15h1v1h-1zm0-9h1v1h-1zm0-23h1v1h-1zm0-6h1v2h-1zm0-4h1v1h-1zm0-37h1v1h-1zm0-39h1v1h-1zM22 1474h1v5h-1zm0-55h1v4h-1zm0-27h1v3h-1zm0-21h1v3h-1zm0-14h1v3h-1zm0-11h1v3h-1zm0-64h1v2h-1zm0-10h1v1h-1zm0-5h1v1h-1zm0-39h1v2h-1zm0-17h1v3h-1zm0-45h1v1h-1zm0-17h1v1h-1zm0-24h1v1h-1zm0-8h1v1h-1zm0-28h1v1h-1zM23 1511h1v6h-1zm0-22h1v5h-1zm0-73h1v3h-1zm0-18h1v4h-1zm0-108h1v2h-1zm0-11h1v1h-1zm0-84h1v1h-1zm0-29h1v1h-1zm0-2h1v1h-1zm0-14h1v1h-1zm0-22h1v1h-1zm0-17h1v1h-1zM24 1395h1v3h-1zm0-77h1v2h-1zm0-6h1v2h-1zm0-16h1v3h-1zm0-33h1v2h-1zm0-64h1v1h-1zm0-19h1v1h-1zm0-35h1v1h-1zm0-18h1v1h-1zm0-22h1v1h-1zM25 1360h1v2h-1zm0-70h1v2h-1zm0-15h1v2h-1zm0-3h1v1h-1zm0-19h1v2h-1zm0-71h1v1h-1zm0-13h1v1h-1zm0-3h1v1h-1zm0-33h1v1h-1zm0-18h1v1h-1zM26 1484h1v5h-1zm0-152h1v5h-1zm0-26h1v2h-1zm0-48h1v2h-1zm0-44h1v1h-1zm0-3h1v1h-1zm0-15h1v2h-1zm0-76h1v1h-1zm0-10h1v2h-1zm0-13h1v1h-1zM27 1489h1v5h-1zm0-51h1v5h-1zm0-43h1v3h-1zm0-27h1v3h-1zm0-27h1v3h-1zm0-45h1v1h-1zm0-23h1v2h-1zm0-21h1v1h-1zm0-8h1v2h-1zm0-25h1v1h-1zm0-36h1v1h-1zm0-11h1v1h-1zm0-56h1v1h-1zm0-1h1v1h-1zm0-11h1v1h-1zM28 1419h1v4h-1zm0-203h1v2h-1zm0-44h1v3h-1zm0-15h1v1h-1zm0-3h1v1h-1zm0-9h1v1h-1zm0-40h1v1h-1zM29 1494h1v6h-1zm0-71h1v4h-1zm0-55h1v3h-1zm0-43h1v2h-1zm0-11h1v2h-1zm0-41h1v2h-1zm0-3h1v2h-1zm0-26h1v2h-1zm0-6h1v2h-1zm0-31h1v2h-1zm0-38h1v1h-1zm0-29h1v1h-1zm0-1h1v1h-1zm0-2h1v1h-1zM30 1389h1v3h-1zm0-45h1v2h-1zm0-38h1v2h-1zm0-7h1v2h-1zm0-20h1v1h-1zm0-4h1v2h-1zm0-20h1v2h-1zm0-166h1v1h-1zm0-7h1v1h-1zM31 1489h1v5h-1zm0-38h1v4h-1zm0-28h1v4h-1zm0-46h1v2h-1zm0-67h1v4h-1zm0-7h1v3h-1zm0-23h1v2h-1zm0-84h1v2h-1zm0-34h1v1h-1zm0-4h1v1h-1zm0-13h1v1h-1zm0-30h1v1h-1zm0-11h1v1h-1z"/><path id="r31" d="M0 1474h1v5h-1zm0-72h1v6h-1zm0-61h1v3h-1zm0-23h1v2h-1zm0-32h1v2h-1zm0-13h1v2h-1zm0-13h1v2h-1zm0-7h1v2h-1zm0-44h1v1h-1zm0-14h1v1h-1zm0-35h1v1h-1zm0-4h1v1h-1zm0-32h1v1h-1zm0-2h1v1h-1zm0-5h1v1h-1zm0-3h1v1h-1zm0-21h1v1h-1zM1 1511h1v12h-1zm0-77h1v4h-1zm0-7h1v3h-1zm0-200h1v1h-1zm0-4h1v3h-1zm0-41h1v1h-1zm0-36h1v1h-1zm0-4h1v1h-1zm0-14h1v1h-1zm0-3h1v1h-1zm0-3h1v1h-1zm0-14h1v1h-1zm0-23h1v1h-1zM2 1382h1v4h-1zm0-17h1v3h-1zm0-8h1v3h-1zm0-89h1v2h-1zm0-30h1v2h-1zm0-29h1v1h-1zm0-26h1v1h-1zm0-7h1v1h-1zm0-21h1v1h-1zm0-3h1v1h-1zm0-5h1v1h-1zm0-38h1v1h-1zM3 1377h1v2h-1zm0-20h1v5h-1zm0-23h1v3h-1zm0-4h1v2h-1zm0-50h1v2h-1zm0-12h1v2h-1zm0-3h1v2h-1zm0-18h1v2h-1zm0-12h1v2h-1zm0-9h1v1h-1zm0-85h1v1h-1zm0-15h1v1h-1zm0-8h1v1h-1zm0-25h1v1h-1zM4 1479h1v5h-1zm0-159h1v5h-1zm0-101h1v1h-1zm0-8h1v1h-1zm0-21h1v1h-1zm0-8h1v1h-1zm0-19h1v1h-1zm0-29h1v1h-1zm0-2h1v1h-1zm0-19h1v1h-1zm0-6h1v1h-1zm0-14h1v2h-1zM5 1517h1v6h-1zm0-62h1v5h-1zm0-132h1v2h-1zm0-7h1v2h-1zm0-37h1v1h-1zm0-16h1v2h-1zm0-32h1v2h-1zm0-109h1v1h-1zm0-21h1v1h-1zm0-7h1v1h-1zm0-11h1v1h-1zM6 1469h1v5h-1zm0-42h1v3h-1zm0-11h1v3h-1zm0-37h1v3h-1zm0-69h1v2h-1zm0-9h1v2h-1zm0-19h1v2h-1zm0-41h1v2h-1zm0-7h1v1h-1zm0-4h1v1h-1zm0-28h1v2h-1zm0-12h1v1h-1zm0-6h1v1h-1zm0-58h1v1h-1zm0-13h1v1h-1zM7 1460h1v4h-1zm0-22h1v5h-1zm0-61h1v2h-1zm0-114h1v2h-1zm0-69h1v1h-1zm0-2h1v1h-1zm0-6h1v1h-1zm0-13h1v1h-1zm0-5h1v1h-1zm0-26h1v1h-1zm0-19h1v1h-1zm0-4h1v1h-1zm0-4h1v1h-1zm0-2h1v1h-1zm0-20h1v1h-1zm0-8h1v1h-1zM8 1505h1v6h-1zm0-62h1v4h-1zm0-86h1v3h-1zm0-8h1v3h-1zm0-5h1v2h-1zm0-67h1v2h-1zm0-7h1v2h-1zm0-8h1v1h-1zm0-57h1v1h-1zm0-18h1v1h-1zm0-63h1v1h-1zM9 1434h1v4h-1zm0-85h1v3h-1zm0-92h1v1h-1zm0-14h1v1h-1zm0-8h1v2h-1zm0-13h1v1h-1zm0-8h1v1h-1zm0-18h1v2h-1zm0-37h1v1h-1zm0-25h1v1h-1zm0-32h1v1h-1zm0-9h1v1h-1zM10 1419h1v4h-1zm0-27h1v3h-1zm0-148h1v2h-1zm0-40h1v1h-1zm0-22h1v2h-1zm0-38h1v1h-1zm0-50h1v1h-1zM11 1494h1v6h-1zm0-60h1v4h-1zm0-69h1v3h-1zm0-105h1v2h-1zm0-3h1v1h-1zm0-31h1v1h-1zm0-22h1v1h-1zm0-3h1v1h-1zm0-9h1v1h-1zm0-50h1v1h-1zm0-28h1v2h-1zm0-6h1v1h-1zm0-14h1v1h-1zM12 1447h1v4h-1zm0-55h1v3h-1zm0-15h1v2h-1zm0-50h1v3h-1zm0-35h1v2h-1zm0-15h1v2h-1zm0-61h1v2h-1zm0-22h1v1h-1zm0-2h1v1h-1zm0-36h1v1h-1zm0-5h1v1h-1zm0-19h1v1h-1zM13 1517h1v6h-1zm0-53h1v5h-1zm0-45h1v4h-1zm0-27h1v3h-1zm0-95h1v2h-1zm0-20h1v2h-1zm0-17h1v2h-1zm0-34h1v1h-1zm0-8h1v1h-1zm0-13h1v1h-1zm0-55h1v1h-1zm0-2h1v1h-1zm0-13h1v1h-1zm0-21h1v1h-1zm0-12h1v1h-1zm0-16h1v1h-1zM14 1451h1v4h-1zm0-62h1v3h-1zm0-124h1v3h-1zm0-22h1v1h-1zm0-6h1v1h-1zm0-17h1v2h-1zm0-16h1v1h-1zm0-3h1v1h-1zm0-5h1v3h-1zm0-11h1v1h-1zm0-18h1v1h-1zm0-2h1v1h-1zm0-13h1v1h-1zm0-6h1v1h-1zm0-31h1v1h-1zm0-21h1v1h-1zM15 1523h1v6h-1zm0-217h1v2h-1zm0-48h1v2h-1zm0-6h1v1h-1zm0-43h1v2h-1zm0-31h1v2h-1zm0-17h1v1h-1zm0-27h1v1h-1zm0-16h1v1h-1zm0-25h1v1h-1zM16 1474h1v5h-1zm0-62h1v4h-1zm0-55h1v3h-1zm0-41h1v2h-1zm0-36h1v2h-1zm0-25h1v2h-1zm0-14h1v2h-1zm0-36h1v1h-1zm0-33h1v1h-1zm0-53h1v1h-1zm0-18h1v1h-1zm0-7h1v1h-1zm0-10h1v1h-1zM17 1529h1v7h-1zm0-24h1v6h-1zm0-78h1v3h-1zm0-25h1v3h-1zm0-53h1v3h-1zm0-26h1v2h-1zm0-26h1v2h-1zm0-9h1v2h-1zm0-6h1v2h-1zm0-9h1v2h-1zm0-18h1v2h-1zm0-31h1v2h-1zm0-12h1v2h-1zm0-5h1v2h-1zm0-23h1v1h-1zm0-7h1v1h-1zm0-28h1v1h-1zm0-27h1v1h-1zM18 1505h1v6h-1zm0-134h1v3h-1zm0-19h1v2h-1zm0-58h1v2h-1zm0-57h1v1h-1zm0-18h1v1h-1zm0-12h1v2h-1zm0-14h1v1h-1zm0-15h1v2h-1zm0-35h1v1h-1zm0-28h1v1h-1zM19 1443h1v4h-1zm0-72h1v3h-1zm0-81h1v2h-1zm0-28h1v1h-1zm0-9h1v2h-1zm0-3h1v2h-1zm0-26h1v2h-1zm0-5h1v1h-1zm0-31h1v2h-1zm0-2h1v1h-1zm0-2h1v1h-1zm0-8h1v1h-1zm0-11h1v1h-1zm0-13h1v1h-1zm0-12h1v1h-1zm0-45h1v1h-1zm0-9h1v1h-1zm0-2h1v1h-1zM20 1438h1v5h-1zm0-19h1v4h-1zm0-59h1v2h-1zm0-8h1v2h-1zm0-20h1v2h-1zm0-33h1v2h-1zm0-13h1v2h-1zm0-19h1v1h-1zm0-12h1v2h-1zm0-5h1v2h-1zm0-40h1v1h-1zm0-25h1v1h-1zm0-13h1v1h-1zm0-8h1v1h-1zm0-11h1v1h-1zM21 1455h1v5h-1zm0-36h1v4h-1zm0-127h1v2h-1zm0-59h1v1h-1zm0-3h1v1h-1zm0-19h1v1h-1zm0-19h1v1h-1zm0-63h1v1h-1zM22 1511h1v6h-1zm0-146h1v3h-1zm0-24h1v3h-1zm0-64h1v2h-1zm0-9h1v2h-1zm0-18h1v5h-1zm0-12h1v2h-1zm0-34h1v1h-1zm0-36h1v1h-1zm0-23h1v1h-1zm0-4h1v2h-1zm0-8h1v1h-1zm0-2h1v1h-1zm0-36h1v1h-1zM23 1443h1v4h-1zm0-57h1v3h-1zm0-100h1v2h-1zm0-19h1v1h-1zm0-4h1v2h-1zm0-25h1v2h-1zm0-40h1v1h-1zm0-23h1v1h-1zm0-33h1v1h-1zm0-20h1v1h-1zm0-14h1v1h-1zm0-23h1v1h-1zM24 1392h1v3h-1zm0-6h1v3h-1zm0-40h1v3h-1zm0-58h1v2h-1zm0-28h1v2h-1zm0-34h1v1h-1zm0-48h1v2h-1zm0-2h1v1h-1zm0-8h1v1h-1zm0-49h1v1h-1zm0-10h1v1h-1zm0-1h1v1h-1zm0-25h1v1h-1zM25 1479h1v5h-1zm0-19h1v4h-1zm0-9h1v4h-1zm0-102h1v3h-1zm0-8h1v3h-1zm0-25h1v2h-1zm0-19h1v2h-1zm0-35h1v1h-1zm0-4h1v2h-1zm0-9h1v1h-1zm0-8h1v2h-1zm0-3h1v2h-1zm0-4h1v3h-1zm0-25h1v1h-1zm0-26h1v1h-1zm0-16h1v1h-1zm0-10h1v1h-1zm0-9h1v1h-1zm0-27h1v1h-1zm0-3h1v1h-1zm0-25h1v2h-1zM26 1419h1v4h-1zm0-14h1v3h-1zm0-28h1v2h-1zm0-65h1v2h-1zm0-16h1v1h-1zm0-62h1v1h-1zm0-8h1v1h-1zm0-10h1v2h-1zm0-17h1v1h-1zm0-71h1v1h-1zm0-3h1v1h-1zm0-6h1v1h-1zm0-6h1v1h-1zm0-4h1v1h-1zm0-8h1v1h-1zm0-7h1v1h-1zM27 1455h1v5h-1zm0-118h1v2h-1zm0-14h1v2h-1zm0-53h1v2h-1zm0-13h1v1h-1zm0-22h1v2h-1zm0-8h1v1h-1zm0-41h1v1h-1zm0-28h1v1h-1zm0-32h1v1h-1zm0-31h1v1h-1zM28 1484h1v5h-1zm0-116h1v3h-1zm0-16h1v2h-1zm0-13h1v2h-1zm0-16h1v2h-1zm0-9h1v2h-1zm0-34h1v2h-1zm0-43h1v1h-1zm0-36h1v1h-1zm0-2h1v1h-1zm0-14h1v1h-1zm0-4h1v1h-1zm0-4h1v1h-1zm0-17h1v1h-1zm0-8h1v1h-1zm0-38h1v1h-1zm0-2h1v1h-1zm0-4h1v1h-1zM29 1529h1v7h-1zm0-250h1v1h-1zm0-32h1v2h-1zm0-38h1v1h-1zm0-23h1v1h-1zm0-14h1v1h-1zm0-6h1v1h-1zm0-59h1v1h-1zm0-24h1v1h-1zM30 1529h1v7h-1zm0-82h1v4h-1zm0-9h1v5h-1zm0-122h1v2h-1zm0-75h1v2h-1zm0-6h1v2h-1zm0-33h1v2h-1zm0-2h1v1h-1zm0-6h1v2h-1zm0-19h1v1h-1zm0-2h1v1h-1zm0-29h1v1h-1zm0-32h1v1h-1zm0-4h1v1h-1zm0-25h1v1h-1zM31 1337h1v2h-1zm0-72h1v2h-1zm0-15h1v3h-1zm0-3h1v2h-1zm0-10h1v1h-1zm0-4h1v1h-1zm0-28h1v1h-1zm0-20h1v1h-1zm0-52h1v1h-1zm0-12h1v1h-1zm0-9h1v1h-1zm0-3h1v1h-1zm0-24h1v1h-1z"/><path id="r32" d="M0 1517h1v6h-1zm0-28h1v5h-1zm0-20h1v5h-1zm0-14h1v5h-1zm0-39h1v3h-1zm0-39h1v2h-1zm0-15h1v3h-1zm0-143h1v1h-1zm0-14h1v1h-1zm0-4h1v1h-1zm0-9h1v1h-1zm0-16h1v1h-1zm0-14h1v1h-1zm0-27h1v1h-1zm0-9h1v1h-1zm0-28h1v1h-1zM1 1479h1v5h-1zm0-32h1v4h-1zm0-24h1v4h-1zm0-109h1v2h-1zm0-121h1v1h-1zm0-12h1v1h-1zm0-3h1v2h-1zm0-29h1v1h-1zm0-19h1v1h-1zm0-27h1v1h-1zM2 1511h1v6h-1zm0-47h1v5h-1zm0-26h1v5h-1zm0-26h1v4h-1zm0-98h1v2h-1zm0-77h1v1h-1zm0-15h1v1h-1zm0-49h1v1h-1zm0-33h1v1h-1zm0-24h1v1h-1zm0-28h1v1h-1zM3 1451h1v4h-1zm0-124h1v3h-1zm0-13h1v2h-1zm0-8h1v2h-1zm0-60h1v1h-1zm0-80h1v1h-1zm0-3h1v1h-1zm0-64h1v1h-1zM4 1434h1v4h-1zm0-32h1v3h-1zm0-20h1v4h-1zm0-36h1v3h-1zm0-28h1v2h-1zm0-65h1v2h-1zm0-12h1v2h-1zm0-114h1v1h-1zM5 1252h1v1h-1zm0-9h1v1h-1zm0-48h1v1h-1zm0-4h1v1h-1zm0-30h1v1h-1zm0-5h1v1h-1zm0-4h1v1h-1zM6 1529h1v7h-1zm0-82h1v4h-1zm0-85h1v3h-1zm0-10h1v2h-1zm0-20h1v2h-1zm0-29h1v3h-1zm0-28h1v2h-1zm0-38h1v1h-1zm0-11h1v1h-1zm0-3h1v1h-1zm0-8h1v1h-1zm0-10h1v1h-1zm0-11h1v1h-1zm0-8h1v1h-1zm0-3h1v1h-1zm0-15h1v1h-1zm0-10h1v1h-1zm0-6h1v1h-1zm0-3h1v1h-1zm0-3h1v1h-1zm0-5h1v1h-1zm0-8h1v1h-1zm0-37h1v1h-1zm0-8h1v1h-1zM7 1500h1v5h-1zm0-84h1v3h-1zm0-54h1v3h-1zm0-66h1v1h-1zm0-38h1v2h-1zm0-30h1v2h-1zm0-75h1v1h-1zm0-4h1v1h-1zm0-10h1v1h-1zm0-50h1v1h-1zM8 1389h1v3h-1zm0-71h1v2h-1zm0-12h1v2h-1zm0-33h1v2h-1zm0-10h1v2h-1zm0-10h1v2h-1zm0-26h1v1h-1zm0-55h1v1h-1zm0-10h1v1h-1zm0-25h1v1h-1zm0-11h1v1h-1zm0-30h1v1h-1zM9 1505h1v6h-1zm0-41h1v5h-1zm0-85h1v3h-1zm0-40h1v2h-1zm0-16h1v2h-1zm0-35h1v2h-1zm0-9h1v1h-1zm0-48h1v2h-1zm0-3h1v2h-1zm0-9h1v1h-1zm0-9h1v4h-1zm0-3h1v2h-1zm0-5h1v2h-1zm0-18h1v1h-1zm0-11h1v1h-1zm0-27h1v1h-1zm0-26h1v1h-1zm0-23h1v1h-1zM10 1500h1v5h-1zm0-140h1v2h-1zm0-54h1v2h-1zm0-20h1v2h-1zm0-62h1v2h-1zm0-19h1v1h-1zm0-14h1v1h-1zm0-7h1v1h-1zm0-17h1v1h-1zm0-21h1v1h-1zm0-34h1v1h-1zm0-7h1v1h-1zM11 1337h1v2h-1zm0-19h1v2h-1zm0-10h1v2h-1zm0-86h1v1h-1zm0-31h1v1h-1zm0-39h1v1h-1zm0-22h1v1h-1zM12 1427h1v3h-1zm0-73h1v3h-1zm0-5h1v3h-1zm0-33h1v2h-1zm0-36h1v2h-1zm0-8h1v1h-1zm0-46h1v1h-1zm0-33h1v1h-1zm0-11h1v1h-1zm0-27h1v1h-1zm0-26h1v1h-1zm0-42h1v2h-1zM13 1494h1v6h-1zm0-47h1v4h-1zm0-151h1v1h-1zm0-24h1v1h-1zm0-5h1v1h-1zm0-14h1v2h-1zm0-20h1v1h-1zm0-24h1v1h-1zm0-9h1v1h-1zm0-4h1v2h-1zm0-9h1v1h-1zm0-6h1v1h-1zm0-8h1v1h-1zm0-22h1v1h-1zm0-35h1v1h-1zm0-12h1v1h-1zm0-6h1v1h-1zM14 1511h1v6h-1zm0-51h1v4h-1zm0-74h1v3h-1zm0-98h1v2h-1zm0-42h1v1h-1zm0-23h1v1h-1zm0-50h1v1h-1zm0-25h1v1h-1zm0-18h1v1h-1zm0-9h1v1h-1zM15 1474h1v5h-1zm0-14h1v4h-1zm0-62h1v4h-1zm0-61h1v2h-1zm0-36h1v2h-1zm0-7h1v2h-1zm0-51h1v3h-1zm0-16h1v3h-1zm0-5h1v1h-1zm0-7h1v1h-1zm0-13h1v2h-1zm0-19h1v1h-1zm0-20h1v1h-1zm0-5h1v1h-1zm0-5h1v1h-1zm0-8h1v1h-1zm0-13h1v1h-1zm0-6h1v1h-1zm0-15h1v1h-1zm0-22h1v2h-1zM16 1479h1v5h-1zm0-125h1v3h-1zm0-10h1v2h-1zm0-34h1v2h-1zm0-75h1v2h-1zm0-29h1v1h-1zm0-24h1v1h-1zm0-24h1v1h-1zm0-11h1v1h-1zm0-26h1v1h-1zm0-5h1v1h-1zm0-13h1v2h-1zm0-6h1v1h-1zm0-7h1v1h-1zM17 1517h1v6h-1zm0-178h1v5h-1zm0-9h1v2h-1zm0-31h1v2h-1zm0-22h1v2h-1zm0-36h1v2h-1zm0-55h1v1h-1zm0-3h1v1h-1zm0-18h1v1h-1zm0-3h1v1h-1zm0-7h1v1h-1zm0-27h1v1h-1zm0-4h1v2h-1zm0-14h1v2h-1zm0-13h1v1h-1zM18 1529h1v7h-1zm0-18h1v6h-1zm0-17h1v6h-1zm0-56h1v5h-1zm0-70h1v3h-1zm0-6h1v3h-1zm0-61h1v2h-1zm0-22h1v1h-1zm0-21h1v2h-1zm0-71h1v1h-1zm0-5h1v1h-1zm0-78h1v1h-1zm0-16h1v1h-1zM19 1398h1v4h-1zm0-133h1v2h-1zm0-13h1v1h-1zm0-9h1v1h-1zm0-13h1v1h-1zm0-4h1v1h-1zm0-14h1v2h-1zm0-19h1v1h-1zm0-19h1v1h-1zm0-23h1v1h-1zm0-18h1v1h-1zm0-13h1v1h-1zm0-3h1v1h-1zm0-6h1v1h-1zm0-13h1v1h-1zM20 1455h1v5h-1zm0-21h1v4h-1zm0-97h1v2h-1zm0-21h1v4h-1zm0-32h1v2h-1zm0-49h1v2h-1zm0-16h1v1h-1zm0-5h1v1h-1zm0-7h1v2h-1zm0-48h1v1h-1zm0-20h1v1h-1zm0-22h1v1h-1zm0-18h1v1h-1zM21 1464h1v5h-1zm0-56h1v4h-1zm0-107h1v2h-1zm0-54h1v3h-1zm0-41h1v1h-1zm0-18h1v2h-1zm0-3h1v1h-1zm0-7h1v2h-1zm0-2h1v1h-1zm0-36h1v1h-1zM22 1438h1v9h-1zm0-64h1v3h-1zm0-6h1v3h-1zm0-16h1v2h-1zm0-60h1v2h-1zm0-27h1v2h-1zm0-25h1v1h-1zm0-33h1v2h-1zm0-25h1v1h-1zm0-26h1v1h-1zm0-5h1v1h-1zm0-8h1v1h-1zm0-4h1v1h-1zm0-7h1v1h-1zm0-8h1v1h-1zm0-8h1v1h-1zm0-5h1v1h-1zm0-12h1v1h-1zM23 1523h1v6h-1zm0-121h1v3h-1zm0-145h1v1h-1zm0-24h1v1h-1zm0-13h1v2h-1zm0-2h1v1h-1zm0-13h1v1h-1zm0-18h1v4h-1zm0-9h1v2h-1zm0-74h1v2h-1zm0-17h1v1h-1zm0-6h1v1h-1zM24 1374h1v3h-1zm0-12h1v3h-1zm0-78h1v2h-1zm0-9h1v2h-1zm0-3h1v1h-1zm0-49h1v1h-1zm0-39h1v3h-1zm0-13h1v1h-1zm0-29h1v1h-1zm0-17h1v1h-1zm0-28h1v1h-1zm0-7h1v1h-1zM25 1517h1v6h-1zm0-62h1v5h-1zm0-154h1v2h-1zm0-38h1v2h-1zm0-26h1v1h-1zm0-22h1v1h-1zm0-3h1v2h-1zm0-7h1v1h-1zm0-15h1v1h-1zm0-19h1v1h-1zm0-10h1v1h-1zm0-6h1v1h-1zm0-11h1v1h-1zm0-14h1v1h-1zM26 1529h1v7h-1zm0-106h1v4h-1zm0-93h1v2h-1zm0-62h1v2h-1zm0-13h1v2h-1zm0-20h1v2h-1zm0-4h1v2h-1zm0-8h1v1h-1zm0-35h1v2h-1zm0-21h1v1h-1zm0-4h1v1h-1zm0-48h1v1h-1zm0-16h1v1h-1zm0-11h1v1h-1zM27 1500h1v11h-1zm0-135h1v3h-1zm0-26h1v2h-1zm0-21h1v2h-1zm0-36h1v2h-1zm0-27h1v2h-1zm0-18h1v3h-1zm0-14h1v3h-1zm0-36h1v1h-1zm0-67h1v1h-1zM28 1474h1v5h-1zm0-27h1v4h-1zm0-68h1v3h-1zm0-42h1v2h-1zm0-43h1v2h-1zm0-8h1v2h-1zm0-21h1v3h-1zm0-8h1v1h-1zm0-7h1v2h-1zm0-20h1v1h-1zm0-25h1v1h-1zm0-3h1v2h-1zm0-20h1v1h-1zm0-11h1v1h-1zm0-41h1v1h-1zm0-7h1v1h-1zm0-7h1v1h-1zm0-29h1v1h-1zM29 1427h1v3h-1zm0-53h1v3h-1zm0-9h1v3h-1zm0-64h1v2h-1zm0-15h1v2h-1zm0-86h1v1h-1zm0-6h1v1h-1zm0-18h1v1h-1zm0-28h1v1h-1zm0-19h1v1h-1zm0-2h1v1h-1zm0-4h1v1h-1zM30 1398h1v4h-1zm0-97h1v2h-1zm0-5h1v1h-1zm0-84h1v3h-1zm0-14h1v1h-1zm0-17h1v2h-1zm0-7h1v1h-1zm0-17h1v1h-1zm0-14h1v1h-1zm0-10h1v1h-1zm0-18h1v1h-1zm0-25h1v1h-1zM31 1500h1v5h-1zm0-21h1v10h-1zm0-67h1v4h-1zm0-26h1v3h-1zm0-68h1v2h-1zm0-26h1v2h-1zm0-69h1v1h-1zm0-11h1v2h-1zm0-8h1v1h-1zm0-34h1v1h-1zm0-35h1v1h-1zm0-48h1v1h-1z"/><path id="r33" d="M0 1371h1v3h-1zm0-27h1v2h-1zm0-12h1v2h-1zm0-5h1v3h-1zm0-24h1v3h-1zm0-80h1v1h-1zm0-21h1v2h-1zm0-8h1v1h-1zm0-26h1v1h-1zm0-13h1v1h-1zm0-7h1v1h-1zm0-10h1v1h-1zm0-17h1v1h-1zm0-3h1v1h-1zm0-11h1v1h-1zm0-6h1v2h-1zm0-18h1v1h-1zM1 1505h1v6h-1zm0-11h1v6h-1zm0-99h1v3h-1zm0-9h1v3h-1zm0-118h1v2h-1zm0-8h1v2h-1zm0-22h1v2h-1zm0-19h1v1h-1zm0-7h1v2h-1zm0-7h1v1h-1zm0-54h1v1h-1zm0-34h1v1h-1zm0-16h1v2h-1zm0-8h1v1h-1zM2 1529h1v7h-1zm0-185h1v2h-1zm0-21h1v2h-1zm0-56h1v1h-1zm0-7h1v2h-1zm0-37h1v1h-1zm0-5h1v1h-1zm0-3h1v1h-1zm0-27h1v2h-1zm0-45h1v1h-1zm0-9h1v1h-1zm0-6h1v1h-1zm0-3h1v1h-1zm0-11h1v1h-1zm0-20h1v1h-1zm0-2h1v1h-1zm0-7h1v1h-1zm0-3h1v1h-1zM3 1505h1v6h-1zm0-16h1v11h-1zm0-94h1v3h-1zm0-9h1v6h-1zm0-42h1v2h-1zm0-56h1v2h-1zm0-76h1v2h-1zm0-3h1v1h-1zm0-5h1v1h-1zm0-4h1v1h-1zm0-27h1v1h-1zm0-21h1v1h-1zm0-30h1v1h-1zm0-9h1v1h-1zm0-4h1v1h-1zm0-15h1v2h-1zm0-9h1v1h-1zM4 1250h1v3h-1zm0-22h1v2h-1zm0-14h1v1h-1zm0-36h1v2h-1zm0-23h1v1h-1zm0-10h1v1h-1zm0-19h1v1h-1zm0-31h1v1h-1zm0-3h1v1h-1zm0-9h1v1h-1zm0-1h1v1h-1zM5 1489h1v5h-1zm0-10h1v5h-1zm0-63h1v3h-1zm0-67h1v3h-1zm0-22h1v3h-1zm0-93h1v1h-1zm0-40h1v1h-1zm0-13h1v1h-1zm0-48h1v1h-1zm0-3h1v1h-1zm0-38h1v1h-1zM6 1368h1v3h-1zm0-167h1v1h-1zm0-21h1v1h-1zm0-11h1v1h-1zm0-13h1v1h-1zm0-18h1v1h-1zm0-7h1v1h-1zm0-49h1v1h-1zM7 1332h1v2h-1zm0-70h1v1h-1zm0-5h1v1h-1zm0-37h1v2h-1zm0-20h1v1h-1zm0-16h1v1h-1zm0-32h1v1h-1zm0-9h1v2h-1zm0-43h1v1h-1zm0-6h1v1h-1zM8 1523h1v6h-1zm0-23h1v5h-1zm0-88h1v4h-1zm0-38h1v3h-1zm0-12h1v3h-1zm0-87h1v2h-1zm0-55h1v2h-1zm0-30h1v1h-1zm0-76h1v1h-1zM9 1489h1v5h-1zm0-29h1v4h-1zm0-17h1v4h-1zm0-38h1v3h-1zm0-106h1v2h-1zm0-5h1v2h-1zm0-39h1v2h-1zm0-22h1v1h-1zm0-6h1v1h-1zm0-18h1v1h-1zm0-60h1v1h-1zm0-11h1v1h-1zm0-3h1v1h-1zm0-35h1v1h-1zM10 1523h1v6h-1zm0-12h1v6h-1zm0-68h1v4h-1zm0-31h1v4h-1zm0-104h1v2h-1zm0-40h1v2h-1zm0-31h1v1h-1zm0-9h1v2h-1zm0-10h1v1h-1zm0-23h1v1h-1zm0-7h1v2h-1zm0-17h1v1h-1zm0-14h1v1h-1zm0-3h1v1h-1zm0-19h1v1h-1zm0-21h1v1h-1zm0-8h1v2h-1zm0-11h1v1h-1zm0-4h1v1h-1zM11 1419h1v4h-1zm0-24h1v3h-1zm0-6h1v3h-1zm0-35h1v3h-1zm0-55h1v2h-1zm0-17h1v2h-1zm0-42h1v1h-1zm0-30h1v1h-1zm0-29h1v1h-1zm0-13h1v1h-1zm0-13h1v1h-1zm0-10h1v1h-1zm0-25h1v1h-1zm0-11h1v1h-1zm0-2h1v1h-1zm0-15h1v1h-1zm0-9h1v2h-1zM12 1489h1v5h-1zm0-29h1v4h-1zm0-71h1v3h-1zm0-81h1v2h-1zm0-89h1v1h-1zm0-13h1v1h-1zm0-23h1v1h-1zm0-25h1v1h-1zm0-50h1v1h-1zm0-8h1v1h-1zm0-17h1v1h-1zM13 1423h1v4h-1zm0-11h1v4h-1zm0-38h1v3h-1zm0-56h1v2h-1zm0-15h1v3h-1zm0-21h1v2h-1zm0-33h1v1h-1zm0-5h1v2h-1zm0-29h1v1h-1zm0-14h1v1h-1zm0-8h1v1h-1zm0-19h1v1h-1zm0-11h1v1h-1zm0-4h1v2h-1zm0-15h1v1h-1zm0-60h1v1h-1zm0-2h1v1h-1zM14 1500h1v5h-1zm0-159h1v3h-1zm0-25h1v2h-1zm0-37h1v1h-1zm0-17h1v1h-1zm0-46h1v2h-1zm0-10h1v1h-1zm0-26h1v1h-1zm0-42h1v1h-1zm0-3h1v1h-1zm0-21h1v1h-1zm0-12h1v1h-1zm0-11h1v1h-1zM15 1494h1v6h-1zm0-145h1v5h-1zm0-22h1v3h-1zm0-28h1v2h-1zm0-17h1v2h-1zm0-9h1v2h-1zm0-20h1v4h-1zm0-46h1v2h-1zm0-12h1v1h-1zm0-5h1v1h-1zm0-24h1v1h-1zm0-9h1v1h-1zm0-2h1v1h-1zm0-12h1v1h-1zm0-20h1v1h-1zm0-8h1v1h-1zm0-20h1v1h-1zm0-12h1v1h-1zM16 1505h1v6h-1zm0-71h1v4h-1zm0-36h1v4h-1zm0-49h1v3h-1zm0-215h1v1h-1zm0-43h1v1h-1zM17 1405h1v3h-1zm0-16h1v3h-1zm0-93h1v1h-1zm0-4h1v2h-1zm0-54h1v2h-1zm0-5h1v1h-1zm0-37h1v2h-1zm0-6h1v1h-1zm0-39h1v2h-1zm0-5h1v1h-1zm0-2h1v1h-1zm0-17h1v1h-1zm0-9h1v1h-1zM18 1469h1v5h-1zm0-151h1v2h-1zm0-15h1v3h-1zm0-4h1v2h-1zm0-27h1v3h-1zm0-39h1v1h-1zm0-23h1v1h-1zm0-36h1v1h-1zm0-34h1v1h-1zm0-40h1v1h-1zm0-8h1v1h-1zM19 1419h1v4h-1zm0-37h1v4h-1zm0-5h1v2h-1zm0-38h1v2h-1zm0-132h1v2h-1zm0-29h1v2h-1zm0-10h1v1h-1zm0-24h1v1h-1zm0-21h1v1h-1zm0-9h1v2h-1zm0-2h1v1h-1zm0-19h1v1h-1zm0-2h1v1h-1zM20 1489h1v5h-1zm0-140h1v3h-1zm0-5h1v2h-1zm0-5h1v2h-1zm0-79h1v2h-1zm0-60h1v1h-1zm0-57h1v1h-1zm0-9h1v1h-1zM21 1371h1v3h-1zm0-119h1v1h-1zm0-24h1v2h-1zm0-5h1v1h-1zm0-3h1v2h-1zm0-15h1v1h-1zm0-21h1v1h-1zm0-7h1v1h-1zm0-12h1v1h-1zm0-12h1v1h-1zm0-5h1v1h-1zm0-10h1v1h-1zm0-8h1v1h-1zm0-7h1v1h-1zm0-5h1v1h-1zm0-12h1v1h-1zM22 1416h1v3h-1zm0-91h1v2h-1zm0-9h1v2h-1zm0-81h1v2h-1zm0-13h1v2h-1zm0-20h1v2h-1zm0-35h1v1h-1zm0-2h1v1h-1zm0-2h1v1h-1zm0-15h1v1h-1zm0-14h1v1h-1zm0-7h1v1h-1zm0-18h1v1h-1zm0-2h1v2h-1zm0-14h1v1h-1zm0-10h1v1h-1zm0-1h1v1h-1zM23 1447h1v4h-1zm0-68h1v3h-1zm0-42h1v2h-1zm0-123h1v1h-1zm0-31h1v1h-1zm0-3h1v1h-1zm0-6h1v1h-1zm0-2h1v1h-1zm0-27h1v1h-1zm0-39h1v1h-1zm0-22h1v1h-1zM24 1451h1v4h-1zm0-171h1v2h-1zm0-42h1v2h-1zm0-10h1v2h-1zm0-12h1v2h-1zm0-23h1v1h-1zm0-3h1v1h-1zm0-27h1v1h-1zm0-5h1v1h-1zm0-19h1v1h-1zm0-21h1v1h-1zm0-23h1v1h-1zM25 1505h1v6h-1zm0-131h1v3h-1zm0-6h1v3h-1zm0-38h1v2h-1zm0-5h1v2h-1zm0-41h1v2h-1zm0-29h1v2h-1zm0-3h1v1h-1zm0-9h1v1h-1zm0-21h1v1h-1zm0-12h1v1h-1zm0-9h1v1h-1zm0-14h1v1h-1zm0-10h1v1h-1zm0-18h1v1h-1zm0-7h1v1h-1zm0-17h1v1h-1zm0-23h1v1h-1zm0-3h1v1h-1zm0-3h1v1h-1zm0-21h1v1h-1zM26 1517h1v6h-1zm0-53h1v5h-1zm0-17h1v4h-1zm0-13h1v4h-1zm0-36h1v4h-1zm0-49h1v3h-1zm0-10h1v2h-1zm0-72h1v1h-1zm0-7h1v2h-1zm0-20h1v1h-1zm0-30h1v1h-1zm0-38h1v1h-1zm0-23h1v1h-1zm0-17h1v1h-1zm0-3h1v1h-1zm0-7h1v1h-1zm0-8h1v1h-1zm0-6h1v1h-1zm0-17h1v1h-1zM27 1443h1v4h-1zm0-27h1v3h-1zm0-27h1v3h-1zm0-103h1v2h-1zm0-7h1v1h-1zm0-103h1v1h-1zm0-5h1v1h-1zm0-29h1v1h-1zm0-25h1v1h-1zm0-11h1v1h-1zm0-21h1v1h-1zM28 1455h1v5h-1zm0-143h1v2h-1zm0-13h1v2h-1zm0-52h1v2h-1zm0-134h1v1h-1zm0-28h1v1h-1zM29 1517h1v6h-1zm0-28h1v5h-1zm0-15h1v5h-1zm0-19h1v5h-1zm0-43h1v4h-1zm0-50h1v3h-1zm0-10h1v2h-1zm0-15h1v2h-1zm0-10h1v3h-1zm0-30h1v2h-1zm0-20h1v2h-1zm0-12h1v2h-1zm0-55h1v1h-1zm0-14h1v2h-1zm0-14h1v1h-1zm0-2h1v1h-1zm0-13h1v1h-1zm0-18h1v1h-1zm0-4h1v1h-1zm0-11h1v1h-1zm0-3h1v2h-1zm0-18h1v1h-1zm0-11h1v1h-1zm0-2h1v1h-1zm0-8h1v1h-1zM30 1469h1v5h-1zm0-53h1v3h-1zm0-14h1v3h-1zm0-7h1v3h-1zm0-65h1v2h-1zm0-36h1v2h-1zm0-93h1v1h-1zm0-2h1v1h-1zm0-23h1v1h-1zm0-15h1v2h-1zm0-5h1v1h-1zm0-22h1v1h-1zm0-4h1v2h-1zm0-5h1v1h-1zm0-32h1v1h-1zm0-8h1v1h-1zM31 1505h1v6h-1zm0-11h1v6h-1zm0-39h1v5h-1zm0-50h1v3h-1zm0-34h1v3h-1zm0-17h1v3h-1zm0-57h1v2h-1zm0-9h1v2h-1zm0-11h1v2h-1zm0-20h1v1h-1zm0-56h1v1h-1zm0-35h1v1h-1zm0-36h1v1h-1zm0-6h1v1h-1zm0-17h1v2h-1zm0-14h1v2h-1zm0-1h1v1h-1zm0-8h1v1h-1z"/><path id="r34" d="M0 1464h1v5h-1zm0-104h1v2h-1zm0-72h1v2h-1zm0-13h1v2h-1zm0-40h1v2h-1zm0-29h1v1h-1zm0-2h1v1h-1zm0-32h1v1h-1zm0-5h1v1h-1zm0-27h1v1h-1zm0-13h1v1h-1zm0-16h1v1h-1zM1 1402h1v3h-1zm0-25h1v2h-1zm0-25h1v2h-1zm0-32h1v3h-1zm0-26h1v2h-1zm0-6h1v2h-1zm0-25h1v2h-1zm0-5h1v2h-1zm0-12h1v1h-1zm0-5h1v2h-1zm0-8h1v1h-1zm0-97h1v1h-1zm0-39h1v1h-1zM2 1398h1v4h-1zm0-52h1v3h-1zm0-49h1v2h-1zm0-5h1v2h-1zm0-13h1v1h-1zm0-17h1v1h-1zm0-10h1v1h-1zm0-21h1v2h-1zm0-45h1v1h-1zm0-18h1v1h-1zm0-26h1v1h-1zm0-12h1v1h-1zm0-27h1v1h-1zm0-6h1v1h-1zM3 1455h1v5h-1zm0-25h1v4h-1zm0-22h1v8h-1zm0-56h1v2h-1zm0-97h1v3h-1zm0-6h1v1h-1zm0-26h1v1h-1zm0-35h1v2h-1zm0-29h1v1h-1zm0-8h1v1h-1zm0-18h1v1h-1zm0-12h1v1h-1zm0-6h1v1h-1zm0-11h1v1h-1zm0-6h1v1h-1zm0-11h1v1h-1zM4 1416h1v3h-1zm0-67h1v3h-1zm0-22h1v3h-1zm0-31h1v1h-1zm0-16h1v2h-1zm0-112h1v1h-1zm0-6h1v1h-1zm0-13h1v1h-1zm0-28h1v1h-1zm0-4h1v1h-1zm0-12h1v1h-1zm0-7h1v1h-1zm0-9h1v1h-1zM5 1500h1v5h-1zm0-49h1v4h-1zm0-17h1v4h-1zm0-39h1v3h-1zm0-27h1v3h-1zm0-24h1v2h-1zm0-19h1v2h-1zm0-13h1v2h-1zm0-13h1v2h-1zm0-17h1v2h-1zm0-12h1v7h-1zm0-10h1v2h-1zm0-38h1v1h-1zm0-6h1v2h-1zm0-39h1v1h-1zm0-11h1v1h-1zm0-2h1v1h-1zm0-24h1v1h-1zm0-37h1v1h-1zm0-6h1v1h-1zM6 1494h1v6h-1zm0-34h1v4h-1zm0-71h1v3h-1zm0-24h1v3h-1zm0-21h1v2h-1zm0-32h1v6h-1zm0-16h1v1h-1zm0-4h1v2h-1zm0-4h1v2h-1zm0-28h1v2h-1zm0-25h1v2h-1zm0-31h1v1h-1zm0-8h1v2h-1zm0-8h1v2h-1zm0-28h1v1h-1zm0-5h1v1h-1zm0-34h1v1h-1zm0-17h1v1h-1zM7 1505h1v6h-1zm0-86h1v4h-1zm0-7h1v4h-1zm0-122h1v2h-1zm0-40h1v2h-1zm0-24h1v1h-1zm0-14h1v2h-1zm0-7h1v1h-1zm0-3h1v2h-1zm0-30h1v1h-1zm0-21h1v1h-1zm0-14h1v1h-1zm0-12h1v1h-1zm0-22h1v1h-1zm0-16h1v1h-1zM8 1469h1v5h-1zm0-9h1v4h-1zm0-108h1v2h-1zm0-20h1v2h-1zm0-12h1v3h-1zm0-73h1v2h-1zm0-36h1v1h-1zm0-44h1v1h-1zm0-45h1v1h-1zm0-10h1v1h-1zM9 1416h1v3h-1zm0-45h1v3h-1zm0-99h1v5h-1zm0-78h1v1h-1zm0-6h1v2h-1zm0-11h1v1h-1zm0-3h1v1h-1zm0-18h1v1h-1zm0-12h1v1h-1zm0-3h1v1h-1zm0-11h1v1h-1zm0-8h1v1h-1zm0-11h1v1h-1zM10 1529h1v7h-1zm0-217h1v2h-1zm0-18h1v2h-1zm0-19h1v2h-1zm0-63h1v2h-1zm0-39h1v1h-1zm0-3h1v1h-1zm0-2h1v1h-1zm0-23h1v1h-1zm0-5h1v1h-1zm0-9h1v1h-1zm0-21h1v1h-1zm0-13h1v1h-1zm0-11h1v1h-1zM11 1489h1v5h-1zm0-10h1v5h-1zm0-202h1v2h-1zm0-44h1v1h-1zm0-15h1v1h-1zm0-12h1v1h-1zm0-4h1v2h-1zm0-12h1v1h-1zm0-21h1v1h-1zm0-4h1v1h-1zm0-21h1v1h-1zm0-7h1v1h-1zm0-12h1v1h-1zm0-3h1v1h-1zM12 1419h1v4h-1zm0-75h1v2h-1zm0-54h1v2h-1zm0-20h1v2h-1zm0-104h1v1h-1zm0-12h1v1h-1zm0-17h1v1h-1zm0-26h1v1h-1zm0-21h1v1h-1zM13 1395h1v3h-1zm0-51h1v2h-1zm0-60h1v2h-1zm0-11h1v2h-1zm0-39h1v1h-1zm0-7h1v1h-1zm0-7h1v2h-1zm0-8h1v3h-1zm0-2h1v1h-1zm0-26h1v1h-1zm0-19h1v1h-1zm0-7h1v1h-1zm0-6h1v1h-1zm0-30h1v1h-1zm0-12h1v1h-1zm0-22h1v1h-1zM14 1392h1v3h-1zm0-96h1v1h-1zm0-39h1v1h-1zm0-89h1v1h-1zm0-7h1v1h-1zm0-7h1v1h-1zm0-57h1v1h-1zM15 1469h1v5h-1zm0-35h1v4h-1zm0-32h1v3h-1zm0-23h1v3h-1zm0-22h1v3h-1zm0-124h1v1h-1zm0-15h1v1h-1zm0-6h1v2h-1zm0-6h1v1h-1zm0-24h1v1h-1zm0-42h1v1h-1zm0-13h1v1h-1zm0-23h1v1h-1zm0-7h1v1h-1zM16 1469h1v5h-1zm0-26h1v4h-1zm0-102h1v3h-1zm0-55h1v2h-1zm0-84h1v2h-1zm0-18h1v1h-1zm0-17h1v1h-1zm0-28h1v1h-1zm0-10h1v1h-1zm0-4h1v1h-1zM17 1430h1v4h-1zm0-51h1v3h-1zm0-54h1v2h-1zm0-9h1v2h-1zm0-32h1v2h-1zm0-40h1v2h-1zm0-17h1v1h-1zm0-40h1v1h-1zm0-29h1v1h-1zm0-32h1v1h-1zm0-21h1v1h-1zM18 1310h1v2h-1zm0-18h1v2h-1zm0-64h1v2h-1zm0-16h1v2h-1zm0-28h1v1h-1zm0-33h1v1h-1zm0-12h1v1h-1zm0-34h1v1h-1zm0-8h1v1h-1zm0-8h1v1h-1zM19 1395h1v3h-1zm0-61h1v3h-1zm0-16h1v2h-1zm0-80h1v2h-1zm0-53h1v1h-1zm0-2h1v1h-1zm0-3h1v1h-1zm0-34h1v1h-1zm0-7h1v1h-1zm0-7h1v1h-1zm0-10h1v1h-1zm0-12h1v1h-1zm0-14h1v1h-1zm0-6h1v1h-1zm0-2h1v1h-1zM20 1451h1v4h-1zm0-105h1v3h-1zm0-34h1v2h-1zm0-11h1v2h-1zm0-19h1v2h-1zm0-33h1v1h-1zm0-75h1v1h-1zm0-11h1v1h-1zm0-2h1v1h-1zm0-17h1v1h-1zm0-12h1v1h-1zm0-10h1v1h-1zm0-2h1v1h-1zm0-22h1v1h-1zm0-11h1v1h-1zm0-1h1v1h-1zM21 1523h1v6h-1zm0-137h1v6h-1zm0-18h1v3h-1zm0-8h1v2h-1zm0-16h1v2h-1zm0-14h1v4h-1zm0-58h1v1h-1zm0-15h1v1h-1zm0-16h1v2h-1zm0-19h1v1h-1zm0-6h1v2h-1zm0-62h1v1h-1zm0-56h1v1h-1zm0-9h1v1h-1zm0-3h1v1h-1zM22 1505h1v6h-1zm0-21h1v5h-1zm0-183h1v2h-1zm0-54h1v2h-1zm0-67h1v1h-1zm0-7h1v1h-1zm0-45h1v1h-1zm0-24h1v2h-1zm0-8h1v1h-1zM23 1505h1v6h-1zm0-97h1v8h-1zm0-13h1v3h-1zm0-38h1v3h-1zm0-58h1v2h-1zm0-103h1v2h-1zm0-14h1v1h-1zm0-43h1v1h-1zm0-13h1v1h-1zM24 1517h1v6h-1zm0-43h1v5h-1zm0-40h1v4h-1zm0-63h1v3h-1zm0-48h1v2h-1zm0-20h1v3h-1zm0-11h1v2h-1zm0-27h1v2h-1zm0-10h1v2h-1zm0-24h1v2h-1zm0-9h1v1h-1zm0-28h1v1h-1zm0-34h1v1h-1zm0-13h1v1h-1zm0-7h1v2h-1zm0-6h1v1h-1zm0-31h1v1h-1zm0-7h1v1h-1zM25 1464h1v5h-1zm0-59h1v3h-1zm0-95h1v2h-1zm0-11h1v2h-1zm0-3h1v1h-1zm0-172h1v1h-1zm0-7h1v1h-1zm0-6h1v1h-1zm0-15h1v1h-1zM26 1489h1v5h-1zm0-38h1v9h-1zm0-152h1v2h-1zm0-90h1v1h-1zm0-23h1v1h-1zm0-13h1v1h-1zm0-12h1v1h-1zm0-57h1v1h-1zM27 1408h1v4h-1zm0-37h1v3h-1zm0-25h1v3h-1zm0-14h1v2h-1zm0-74h1v2h-1zm0-47h1v1h-1zm0-43h1v1h-1zm0-23h1v1h-1zm0-34h1v1h-1zm0-21h1v1h-1zM28 1500h1v5h-1zm0-126h1v3h-1zm0-28h1v6h-1zm0-45h1v2h-1zm0-31h1v2h-1zm0-7h1v2h-1zm0-8h1v2h-1zm0-11h1v2h-1zm0-11h1v1h-1zm0-9h1v2h-1zm0-5h1v1h-1zm0-9h1v1h-1zm0-10h1v1h-1zm0-30h1v1h-1zm0-2h1v1h-1zm0-21h1v1h-1zm0-37h1v1h-1zm0-22h1v1h-1zM29 1523h1v6h-1zm0-39h1v5h-1zm0-68h1v3h-1zm0-24h1v3h-1zm0-13h1v7h-1zm0-30h1v3h-1zm0-55h1v2h-1zm0-74h1v3h-1zm0-32h1v3h-1zm0-36h1v1h-1zm0-5h1v1h-1zm0-32h1v1h-1zm0-12h1v2h-1zm0-16h1v1h-1zm0-1h1v1h-1zM30 1479h1v5h-1zm0-15h1v5h-1zm0-21h1v4h-1zm0-16h1v3h-1zm0-62h1v3h-1zm0-26h1v2h-1zm0-62h1v2h-1zm0-15h1v1h-1zm0-24h1v2h-1zm0-80h1v1h-1zm0-23h1v1h-1zm0-31h1v1h-1zm0-8h1v1h-1zM31 1339h1v2h-1zm0-43h1v1h-1zm0-58h1v2h-1zm0-47h1v1h-1zm0-4h1v1h-1zm0-24h1v2h-1zm0-17h1v1h-1zm0-48h1v1h-1zm0-1h1v1h-1zm0-7h1v1h-1zm0-4h1v1h-1z"/><path id="r35" d="M0 1484h1v5h-1zm0-50h1v4h-1zm0-26h1v4h-1zm0-29h1v7h-1zm0-5h1v3h-1zm0-20h1v3h-1zm0-40h1v2h-1zm0-30h1v2h-1zm0-16h1v2h-1zm0-95h1v1h-1zm0-4h1v1h-1zm0-28h1v1h-1zm0-13h1v1h-1zM1 1500h1v5h-1zm0-31h1v5h-1zm0-80h1v6h-1zm0-35h1v3h-1zm0-51h1v3h-1zm0-13h1v2h-1zm0-11h1v1h-1zm0-64h1v1h-1zm0-16h1v1h-1zm0-58h1v1h-1zm0-15h1v1h-1zm0-32h1v1h-1zm0-2h1v1h-1zm0-8h1v1h-1zM2 1451h1v4h-1zm0-24h1v3h-1zm0-67h1v2h-1zm0-6h1v3h-1zm0-42h1v2h-1zm0-101h1v1h-1zm0-36h1v1h-1zm0-38h1v1h-1zm0-14h1v1h-1zm0-11h1v2h-1zm0-31h1v1h-1zM3 1362h1v3h-1zm0-76h1v2h-1zm0-9h1v2h-1zm0-4h1v2h-1zm0-30h1v1h-1zm0-28h1v1h-1zm0-21h1v1h-1zm0-3h1v1h-1zm0-9h1v1h-1zm0-26h1v1h-1zm0-6h1v1h-1zm0-43h1v1h-1zm0-5h1v1h-1zm0-11h1v1h-1zM4 1419h1v4h-1zm0-82h1v2h-1zm0-34h1v3h-1zm0-35h1v2h-1zm0-13h1v2h-1zm0-40h1v1h-1zm0-20h1v1h-1zm0-54h1v1h-1zm0-57h1v1h-1zM5 1447h1v4h-1zm0-20h1v3h-1zm0-50h1v2h-1zm0-191h1v1h-1zm0-21h1v1h-1zm0-2h1v1h-1zm0-6h1v1h-1zm0-42h1v1h-1zm0-9h1v1h-1zm0-24h1v1h-1zM6 1474h1v5h-1zm0-10h1v5h-1zm0-115h1v3h-1zm0-63h1v2h-1zm0-16h1v2h-1zm0-32h1v2h-1zm0-64h1v1h-1zm0-40h1v1h-1zm0-15h1v1h-1zm0-20h1v1h-1zM7 1386h1v3h-1zm0-114h1v1h-1zm0-19h1v2h-1zm0-7h1v1h-1zm0-22h1v2h-1zm0-10h1v1h-1zm0-29h1v1h-1zm0-19h1v1h-1zm0-10h1v1h-1zm0-73h1v1h-1zM8 1398h1v4h-1zm0-64h1v3h-1zm0-37h1v2h-1zm0-62h1v2h-1zm0-7h1v2h-1zm0-28h1v1h-1zm0-8h1v1h-1zm0-8h1v1h-1zm0-4h1v1h-1zm0-3h1v1h-1zm0-12h1v1h-1zm0-2h1v1h-1zm0-3h1v1h-1zm0-15h1v1h-1zm0-9h1v1h-1zm0-16h1v1h-1zm0-12h1v1h-1zm0-6h1v1h-1zm0-3h1v1h-1zm0-15h1v1h-1zM9 1523h1v6h-1zm0-12h1v6h-1zm0-17h1v6h-1zm0-10h1v5h-1zm0-61h1v4h-1zm0-89h1v3h-1zm0-9h1v2h-1zm0-81h1v2h-1zm0-24h1v2h-1zm0-15h1v1h-1zm0-50h1v1h-1zm0-26h1v1h-1zm0-21h1v1h-1zM10 1479h1v5h-1zm0-111h1v3h-1zm0-16h1v2h-1zm0-60h1v2h-1zm0-12h1v2h-1zm0-65h1v1h-1zm0-22h1v1h-1zm0-15h1v2h-1zm0-63h1v1h-1zM11 1511h1v6h-1zm0-88h1v4h-1zm0-61h1v3h-1zm0-42h1v3h-1zm0-32h1v2h-1zm0-9h1v1h-1zm0-33h1v1h-1zm0-47h1v1h-1zm0-70h1v1h-1zm0-23h1v1h-1zm0-24h1v1h-1zM12 1455h1v5h-1zm0-17h1v5h-1zm0-247h1v1h-1zm0-10h1v1h-1zm0-11h1v1h-1zm0-3h1v1h-1zm0-43h1v1h-1zm0-17h1v1h-1zM13 1427h1v3h-1zm0-22h1v3h-1zm0-48h1v5h-1zm0-87h1v2h-1zm0-42h1v2h-1zm0-38h1v1h-1zm0-24h1v1h-1zm0-12h1v1h-1zm0-7h1v1h-1zm0-23h1v1h-1zm0-25h1v2h-1zm0-6h1v1h-1zM14 1517h1v6h-1zm0-28h1v5h-1zm0-164h1v2h-1zm0-111h1v1h-1zm0-21h1v1h-1zm0-9h1v1h-1zm0-22h1v1h-1zm0-7h1v1h-1zm0-27h1v1h-1zm0-45h1v1h-1zm0-2h1v1h-1zM15 1365h1v3h-1zm0-57h1v2h-1zm0-70h1v2h-1zm0-38h1v1h-1zm0-15h1v1h-1zm0-36h1v1h-1zm0-10h1v1h-1zm0-8h1v1h-1zm0-3h1v1h-1zM16 1314h1v2h-1zm0-24h1v2h-1zm0-20h1v2h-1zm0-17h1v2h-1zm0-23h1v1h-1zm0-10h1v3h-1zm0-52h1v1h-1zm0-7h1v1h-1zm0-59h1v1h-1zM17 1451h1v4h-1zm0-139h1v2h-1zm0-84h1v2h-1zm0-36h1v2h-1zm0-44h1v1h-1zm0-33h1v1h-1zm0-13h1v1h-1zM18 1455h1v5h-1zm0-25h1v4h-1zm0-7h1v4h-1zm0-7h1v3h-1zm0-14h1v3h-1zm0-79h1v2h-1zm0-15h1v2h-1zm0-48h1v2h-1zm0-74h1v1h-1zm0-9h1v1h-1zm0-9h1v1h-1zm0-7h1v1h-1zm0-6h1v1h-1zm0-20h1v1h-1zm0-54h1v2h-1zM19 1529h1v7h-1zm0-45h1v10h-1zm0-209h1v2h-1zm0-85h1v1h-1zm0-19h1v1h-1zm0-43h1v1h-1zm0-29h1v1h-1zM20 1523h1v6h-1zm0-111h1v4h-1zm0-7h1v3h-1zm0-153h1v1h-1zm0-6h1v1h-1zm0-45h1v1h-1zm0-5h1v2h-1zm0-49h1v1h-1zm0-7h1v1h-1zm0-9h1v1h-1zm0-29h1v1h-1zm0-9h1v1h-1zm0-9h1v1h-1zM21 1374h1v3h-1zm0-114h1v2h-1zm0-41h1v1h-1zm0-9h1v1h-1zm0-111h1v1h-1zm0-15h1v1h-1zm0-3h1v1h-1zM22 1227h1v1h-1zm0-37h1v1h-1zm0-28h1v1h-1zm0-27h1v1h-1zm0-12h1v1h-1zm0-4h1v1h-1zm0-35h1v1h-1zM23 1237h1v1h-1zm0-10h1v1h-1zm0-28h1v1h-1zm0-36h1v1h-1zm0-17h1v1h-1zm0-16h1v1h-1zm0-3h1v1h-1zm0-28h1v1h-1zM24 1529h1v7h-1zm0-131h1v4h-1zm0-19h1v3h-1zm0-35h1v2h-1zm0-38h1v2h-1zm0-24h1v2h-1zm0-71h1v1h-1zm0-73h1v1h-1zm0-25h1v1h-1zm0-20h1v1h-1zm0-2h1v1h-1zM25 1434h1v4h-1zm0-126h1v2h-1zm0-58h1v2h-1zm0-24h1v1h-1zm0-12h1v1h-1zm0-18h1v2h-1zm0-15h1v1h-1zm0-17h1v1h-1zm0-15h1v1h-1zm0-30h1v1h-1zM26 1460h1v4h-1zm0-103h1v3h-1zm0-41h1v2h-1zm0-43h1v2h-1zm0-43h1v1h-1zm0-26h1v1h-1zm0-12h1v1h-1zm0-10h1v1h-1zm0-8h1v1h-1zm0-29h1v2h-1zm0-19h1v1h-1zM27 1402h1v3h-1zm0-40h1v3h-1zm0-5h1v3h-1zm0-129h1v2h-1zm0-8h1v2h-1zm0-10h1v1h-1zm0-14h1v2h-1zm0-5h1v1h-1zm0-6h1v1h-1zm0-3h1v1h-1zm0-9h1v1h-1zm0-4h1v1h-1zm0-40h1v1h-1zm0-4h1v1h-1zm0-13h1v1h-1zM28 1511h1v6h-1zm0-88h1v4h-1zm0-34h1v3h-1zm0-69h1v3h-1zm0-48h1v1h-1zm0-23h1v1h-1zm0-6h1v1h-1zm0-8h1v2h-1zm0-31h1v1h-1zm0-42h1v1h-1zm0-28h1v1h-1zm0-17h1v1h-1zm0-33h1v1h-1zM29 1357h1v5h-1zm0-34h1v2h-1zm0-39h1v2h-1zm0-9h1v2h-1zm0-52h1v1h-1zm0-38h1v1h-1zm0-22h1v1h-1zm0-46h1v1h-1zm0-3h1v1h-1zM30 1451h1v4h-1zm0-83h1v3h-1zm0-6h1v3h-1zm0-52h1v2h-1zm0-40h1v2h-1zm0-65h1v1h-1zm0-60h1v1h-1zm0-26h1v1h-1zm0-28h1v1h-1zm0-10h1v1h-1zM31 1438h1v5h-1zm0-49h1v3h-1zm0-37h1v2h-1zm0-44h1v2h-1zm0-89h1v1h-1zm0-25h1v1h-1zm0-88h1v1h-1zm0-7h1v1h-1z"/><path id="r36" d="M0 1438h1v5h-1zm0-11h1v3h-1zm0-170h1v1h-1zm0-50h1v2h-1zm0-42h1v1h-1zm0-15h1v1h-1zm0-63h1v1h-1zm0-2h1v1h-1zM1 1332h1v2h-1zm0-33h1v2h-1zm0-13h1v2h-1zm0-72h1v1h-1zm0-59h1v1h-1zm0-34h1v1h-1zm0-6h1v1h-1zm0-20h1v1h-1zM2 1479h1v10h-1zm0-60h1v4h-1zm0-11h1v4h-1zm0-37h1v3h-1zm0-197h1v1h-1zm0-5h1v1h-1zm0-42h1v1h-1zM3 1517h1v6h-1zm0-79h1v5h-1zm0-67h1v3h-1zm0-101h1v2h-1zm0-3h1v1h-1zm0-30h1v1h-1zm0-41h1v2h-1zm0-12h1v2h-1zm0-56h1v1h-1zm0-3h1v1h-1zm0-9h1v1h-1zM4 1469h1v5h-1zm0-18h1v4h-1zm0-94h1v3h-1zm0-32h1v2h-1zm0-90h1v2h-1zm0-12h1v1h-1zm0-107h1v1h-1zM5 1469h1v5h-1zm0-95h1v3h-1zm0-54h1v3h-1zm0-12h1v2h-1zm0-5h1v3h-1zm0-41h1v1h-1zm0-48h1v1h-1zm0-29h1v1h-1zm0-47h1v1h-1zm0-10h1v1h-1zm0-7h1v1h-1zm0-17h1v1h-1zm0-19h1v2h-1zM6 1523h1v6h-1zm0-85h1v5h-1zm0-266h1v1h-1zm0-36h1v1h-1zm0-24h1v1h-1zm0-9h1v1h-1zm0-17h1v1h-1zM7 1464h1v5h-1zm0-21h1v4h-1zm0-35h1v4h-1zm0-54h1v3h-1zm0-68h1v4h-1zm0-9h1v2h-1zm0-7h1v2h-1zm0-72h1v1h-1zm0-5h1v1h-1zm0-23h1v1h-1zm0-9h1v1h-1zm0-56h1v1h-1zm0-9h1v1h-1zM8 1489h1v5h-1zm0-34h1v5h-1zm0-95h1v2h-1zm0-78h1v2h-1zm0-73h1v2h-1zm0-28h1v1h-1zm0-13h1v1h-1zm0-30h1v1h-1zm0-34h1v2h-1zM9 1316h1v2h-1zm0-100h1v2h-1zm0-33h1v1h-1zm0-5h1v2h-1zm0-3h1v1h-1zm0-33h1v1h-1zM10 1494h1v6h-1zm0-10h1v5h-1zm0-89h1v3h-1zm0-16h1v3h-1zm0-22h1v3h-1zm0-34h1v4h-1zm0-114h1v1h-1zm0-29h1v1h-1zm0-38h1v1h-1zm0-31h1v1h-1zM11 1529h1v7h-1zm0-226h1v3h-1zm0-30h1v2h-1zm0-23h1v2h-1zm0-63h1v1h-1zm0-3h1v1h-1zm0-18h1v1h-1zm0-2h1v1h-1zm0-38h1v1h-1zm0-21h1v1h-1zm0-18h1v1h-1zM12 1416h1v3h-1zm0-45h1v3h-1zm0-92h1v1h-1zm0-26h1v2h-1zm0-7h1v1h-1zm0-77h1v1h-1zm0-8h1v1h-1zm0-12h1v1h-1zm0-8h1v1h-1zm0-20h1v1h-1zm0-17h1v1h-1zm0-9h1v1h-1zM13 1479h1v10h-1zm0-117h1v3h-1zm0-50h1v2h-1zm0-4h1v2h-1zm0-7h1v2h-1zm0-55h1v3h-1zm0-55h1v1h-1zm0-38h1v1h-1zm0-13h1v1h-1zm0-19h1v1h-1zm0-9h1v1h-1zm0-1h1v1h-1zm0-16h1v1h-1zm0-10h1v1h-1zM14 1505h1v6h-1zm0-153h1v2h-1zm0-8h1v2h-1zm0-5h1v2h-1zm0-16h1v2h-1zm0-24h1v2h-1zm0-52h1v2h-1zm0-6h1v2h-1zm0-19h1v1h-1zm0-7h1v1h-1zm0-74h1v1h-1zm0-18h1v1h-1zm0-13h1v1h-1zm0-15h1v1h-1zm0-7h1v1h-1zM15 1455h1v5h-1zm0-12h1v4h-1zm0-131h1v2h-1zm0-24h1v2h-1zm0-18h1v2h-1zm0-29h1v2h-1zm0-7h1v1h-1zm0-97h1v1h-1zm0-25h1v1h-1zm0-3h1v1h-1zm0-6h1v1h-1zm0-7h1v1h-1zM16 1523h1v6h-1zm0-34h1v5h-1zm0-107h1v10h-1zm0-74h1v2h-1zm0-24h1v2h-1zm0-11h1v2h-1zm0-40h1v1h-1zm0-17h1v2h-1zm0-9h1v2h-1zm0-27h1v1h-1zm0-4h1v1h-1zm0-39h1v1h-1zm0-7h1v1h-1zm0-18h1v1h-1zM17 1469h1v5h-1zm0-87h1v4h-1zm0-129h1v2h-1zm0-51h1v2h-1zm0-65h1v1h-1zm0-20h1v1h-1zm0-21h1v1h-1zM18 1395h1v3h-1zm0-63h1v2h-1zm0-50h1v2h-1zm0-32h1v2h-1zm0-34h1v2h-1zm0-2h1v1h-1zm0-16h1v1h-1zm0-8h1v1h-1zm0-46h1v1h-1zm0-21h1v1h-1zm0-7h1v1h-1zm0-4h1v1h-1zm0-3h1v1h-1zm0-22h1v1h-1zM19 1303h1v3h-1zm0-15h1v2h-1zm0-51h1v1h-1zm0-9h1v2h-1zm0-10h1v1h-1zm0-22h1v2h-1zm0-32h1v1h-1zm0-15h1v1h-1zm0-52h1v1h-1zM20 1529h1v7h-1zm0-45h1v5h-1zm0-116h1v3h-1zm0-80h1v4h-1zm0-98h1v1h-1zm0-12h1v2h-1zm0-93h1v1h-1zM21 1529h1v7h-1zm0-18h1v6h-1zm0-184h1v3h-1zm0-17h1v2h-1zm0-13h1v2h-1zm0-3h1v2h-1zm0-26h1v4h-1zm0-15h1v2h-1zm0-18h1v2h-1zm0-4h1v2h-1zm0-17h1v1h-1zm0-5h1v1h-1zm0-7h1v2h-1zm0-16h1v1h-1zm0-4h1v1h-1zm0-18h1v1h-1zm0-37h1v1h-1zm0-10h1v1h-1zM22 1529h1v7h-1zm0-40h1v5h-1zm0-38h1v4h-1zm0-39h1v4h-1zm0-17h1v3h-1zm0-101h1v2h-1zm0-8h1v2h-1zm0-7h1v1h-1zm0-60h1v1h-1zm0-4h1v1h-1zm0-5h1v1h-1zm0-17h1v1h-1zm0-6h1v1h-1zm0-18h1v1h-1zm0-29h1v1h-1zm0-30h1v1h-1zM23 1460h1v4h-1zm0-33h1v3h-1zm0-22h1v3h-1zm0-40h1v3h-1zm0-5h1v2h-1zm0-66h1v2h-1zm0-32h1v1h-1zm0-97h1v1h-1zm0-17h1v1h-1zm0-51h1v1h-1zM24 1494h1v6h-1zm0-142h1v2h-1zm0-90h1v1h-1zm0-18h1v2h-1zm0-32h1v3h-1zm0-30h1v1h-1zm0-31h1v2h-1zm0-18h1v1h-1zM25 1419h1v4h-1zm0-133h1v2h-1zm0-95h1v1h-1zm0-15h1v1h-1zm0-3h1v1h-1zm0-87h1v1h-1zM26 1408h1v4h-1zm0-34h1v3h-1zm0-49h1v2h-1zm0-11h1v2h-1zm0-32h1v2h-1zm0-64h1v1h-1zm0-47h1v1h-1zm0-31h1v1h-1zm0-9h1v1h-1zm0-14h1v1h-1zm0-32h1v1h-1zM27 1529h1v7h-1zm0-282h1v2h-1zm0-85h1v1h-1zm0-26h1v1h-1zm0-4h1v1h-1zm0-4h1v1h-1zm0-19h1v2h-1zM28 1529h1v7h-1zm0-158h1v3h-1zm0-27h1v2h-1zm0-28h1v2h-1zm0-28h1v2h-1zm0-101h1v1h-1zm0-7h1v1h-1zm0-13h1v1h-1zm0-14h1v1h-1zm0-2h1v1h-1zm0-8h1v2h-1zm0-15h1v1h-1zm0-24h1v1h-1zm0-18h1v1h-1zM29 1469h1v5h-1zm0-179h1v4h-1zm0-10h1v2h-1zm0-18h1v1h-1zm0-4h1v2h-1zm0-23h1v2h-1zm0-40h1v1h-1zm0-17h1v2h-1zm0-17h1v1h-1zm0-5h1v1h-1zm0-32h1v1h-1zM30 1349h1v3h-1zm0-29h1v3h-1zm0-32h1v2h-1zm0-20h1v2h-1zm0-35h1v1h-1zm0-66h1v1h-1zm0-13h1v1h-1zm0-4h1v1h-1zm0-40h1v1h-1zm0-22h1v1h-1zM31 1474h1v5h-1zm0-14h1v4h-1zm0-100h1v2h-1zm0-33h1v3h-1zm0-60h1v1h-1zm0-52h1v1h-1zm0-29h1v1h-1zm0-11h1v1h-1zm0-10h1v1h-1zm0-29h1v1h-1zm0-5h1v1h-1zm0-8h1v1h-1zm0-12h1v1h-1zm0-16h1v1h-1z"/><path id="r37" d="M0 1529h1v7h-1zm0-110h1v4h-1zm0-85h1v3h-1zm0-52h1v2h-1zm0-68h1v1h-1zm0-102h1v1h-1zM1 1365h1v3h-1zm0-28h1v2h-1zm0-10h1v5h-1zm0-30h1v2h-1zm0-47h1v2h-1zm0-55h1v1h-1zm0-23h1v1h-1zm0-5h1v1h-1zm0-23h1v1h-1zm0-4h1v1h-1zm0-2h1v1h-1zM2 1474h1v5h-1zm0-82h1v3h-1zm0-76h1v2h-1zm0-13h1v3h-1zm0-4h1v2h-1zm0-64h1v2h-1zm0-11h1v3h-1zm0-30h1v1h-1zm0-32h1v1h-1zm0-9h1v1h-1zm0-4h1v1h-1zm0-10h1v1h-1zm0-10h1v1h-1zm0-11h1v1h-1zm0-28h1v1h-1zM3 1523h1v6h-1zm0-211h1v2h-1zm0-52h1v2h-1zm0-90h1v1h-1zm0-9h1v1h-1zm0-38h1v1h-1zm0-9h1v1h-1zm0-13h1v1h-1zm0-19h1v1h-1zM4 1443h1v4h-1zm0-137h1v2h-1zm0-14h1v2h-1zm0-6h1v2h-1zm0-46h1v1h-1zm0-20h1v3h-1zm0-13h1v2h-1zm0-9h1v1h-1zm0-13h1v1h-1zm0-13h1v1h-1zm0-2h1v1h-1zM5 1511h1v6h-1zm0-165h1v3h-1zm0-108h1v2h-1zm0-64h1v2h-1zm0-21h1v1h-1zm0-53h1v1h-1zM6 1430h1v4h-1zm0-28h1v3h-1zm0-175h1v3h-1zm0-60h1v1h-1zm0-14h1v1h-1zm0-9h1v1h-1zm0-5h1v1h-1zm0-4h1v1h-1zm0-3h1v1h-1zm0-32h1v1h-1zM7 1430h1v4h-1zm0-78h1v2h-1zm0-29h1v2h-1zm0-9h1v2h-1zm0-15h1v2h-1zm0-72h1v1h-1zm0-36h1v1h-1zm0-10h1v1h-1zm0-18h1v1h-1zm0-49h1v1h-1zm0-6h1v1h-1zm0-18h1v1h-1zM8 1511h1v6h-1zm0-217h1v2h-1zm0-36h1v2h-1zm0-20h1v2h-1zm0-24h1v1h-1zm0-12h1v2h-1zm0-6h1v2h-1zm0-2h1v1h-1zm0-24h1v1h-1zm0-18h1v1h-1zm0-2h1v1h-1zm0-7h1v1h-1zm0-3h1v1h-1zm0-42h1v1h-1zm0-6h1v1h-1zM9 1447h1v4h-1zm0-28h1v4h-1zm0-30h1v3h-1zm0-81h1v2h-1zm0-22h1v2h-1zm0-24h1v1h-1zm0-13h1v1h-1zm0-54h1v1h-1zm0-10h1v1h-1zm0-14h1v1h-1zm0-3h1v1h-1zM10 1505h1v6h-1zm0-103h1v3h-1zm0-106h1v1h-1zm0-6h1v2h-1zm0-84h1v1h-1zm0-4h1v2h-1zm0-17h1v1h-1zm0-20h1v1h-1zm0-15h1v1h-1zm0-2h1v1h-1zm0-49h1v1h-1zM11 1405h1v3h-1zm0-142h1v2h-1zm0-11h1v1h-1zm0-45h1v2h-1zm0-2h1v1h-1zm0-29h1v1h-1zm0-23h1v1h-1zm0-34h1v1h-1zm0-6h1v1h-1zm0-12h1v1h-1zM12 1494h1v6h-1zm0-86h1v4h-1zm0-46h1v6h-1zm0-28h1v3h-1zm0-33h1v2h-1zm0-36h1v3h-1zm0-34h1v3h-1zm0-47h1v1h-1zm0-31h1v1h-1zm0-13h1v1h-1zm0-20h1v1h-1zm0-19h1v1h-1zm0-20h1v1h-1zM13 1443h1v4h-1zm0-120h1v2h-1zm0-35h1v2h-1zm0-45h1v1h-1zm0-8h1v2h-1zm0-106h1v1h-1zm0-22h1v1h-1zm0-15h1v1h-1zM14 1405h1v3h-1zm0-37h1v3h-1zm0-34h1v3h-1zm0-50h1v2h-1zm0-9h1v2h-1zm0-51h1v2h-1zm0-17h1v3h-1zm0-63h1v1h-1zm0-12h1v2h-1zm0-50h1v1h-1zM15 1371h1v3h-1zm0-51h1v5h-1zm0-89h1v2h-1zm0-17h1v1h-1zM16 1464h1v5h-1zm0-96h1v3h-1zm0-45h1v2h-1zm0-109h1v1h-1zm0-18h1v2h-1zm0-27h1v1h-1zm0-34h1v1h-1zm0-35h1v1h-1zm0-11h1v1h-1zM17 1479h1v5h-1zm0-36h1v4h-1zm0-125h1v2h-1zm0-28h1v2h-1zm0-11h1v1h-1zm0-30h1v1h-1zm0-39h1v1h-1zm0-19h1v1h-1zm0-35h1v1h-1zm0-24h1v1h-1zm0-34h1v1h-1zm0-6h1v1h-1zM18 1500h1v5h-1zm0-102h1v4h-1zm0-21h1v2h-1zm0-36h1v3h-1zm0-7h1v3h-1zm0-4h1v2h-1zm0-34h1v1h-1zm0-61h1v2h-1zm0-13h1v2h-1zm0-7h1v1h-1zm0-20h1v1h-1zm0-15h1v1h-1zm0-60h1v1h-1zm0-6h1v1h-1zm0-16h1v1h-1zM19 1427h1v3h-1zm0-41h1v3h-1zm0-76h1v2h-1zm0-64h1v1h-1zm0-31h1v1h-1zm0-4h1v1h-1zm0-9h1v2h-1zm0-7h1v1h-1zm0-4h1v1h-1zm0-4h1v1h-1zm0-49h1v1h-1zm0-7h1v1h-1zm0-25h1v2h-1zm0-17h1v1h-1zm0-7h1v1h-1zM20 1330h1v2h-1zm0-7h1v2h-1zm0-86h1v1h-1zm0-7h1v1h-1zm0-4h1v1h-1zm0-4h1v1h-1zm0-31h1v1h-1zm0-35h1v1h-1zm0-6h1v1h-1zm0-8h1v1h-1zm0-34h1v1h-1zm0-18h1v2h-1zm0-9h1v2h-1zM21 1517h1v6h-1zm0-17h1v5h-1zm0-62h1v5h-1zm0-46h1v3h-1zm0-51h1v3h-1zm0-45h1v1h-1zm0-14h1v2h-1zm0-20h1v1h-1zm0-7h1v2h-1zm0-48h1v2h-1zm0-74h1v1h-1zm0-9h1v1h-1zm0-32h1v1h-1zM22 1447h1v4h-1zm0-39h1v4h-1zm0-6h1v3h-1zm0-99h1v3h-1zm0-30h1v2h-1zm0-90h1v1h-1zm0-13h1v1h-1zm0-69h1v1h-1zM23 1455h1v5h-1zm0-111h1v2h-1zm0-5h1v2h-1zm0-27h1v2h-1zm0-20h1v2h-1zm0-24h1v2h-1zm0-21h1v2h-1zm0-87h1v1h-1zm0-19h1v1h-1zm0-50h1v2h-1zM24 1484h1v5h-1zm0-116h1v3h-1zm0-89h1v1h-1zm0-26h1v2h-1zm0-4h1v1h-1zm0-12h1v1h-1zm0-62h1v1h-1zm0-6h1v1h-1zm0-19h1v1h-1zm0-22h1v1h-1zm0-4h1v1h-1zM25 1469h1v5h-1zm0-57h1v4h-1zm0-30h1v4h-1zm0-17h1v3h-1zm0-8h1v3h-1zm0-5h1v2h-1zm0-125h1v1h-1zm0-23h1v1h-1zm0-67h1v1h-1zm0-14h1v1h-1zm0-25h1v1h-1zm0-7h1v1h-1zm0-1h1v1h-1zM26 1389h1v3h-1zm0-43h1v3h-1zm0-43h1v3h-1zm0-41h1v1h-1zm0-13h1v1h-1zm0-21h1v2h-1zm0-23h1v1h-1zm0-4h1v1h-1zm0-54h1v1h-1zm0-65h1v1h-1zM27 1517h1v6h-1zm0-203h1v2h-1zm0-6h1v2h-1zm0-11h1v2h-1zm0-17h1v2h-1zm0-5h1v2h-1zm0-119h1v2h-1zm0-10h1v1h-1zm0-2h1v1h-1zm0-5h1v1h-1zm0-26h1v1h-1zm0-22h1v1h-1zm0-10h1v2h-1zM28 1460h1v4h-1zm0-52h1v4h-1zm0-22h1v3h-1zm0-128h1v2h-1zm0-49h1v1h-1zm0-16h1v1h-1zm0-7h1v1h-1zm0-3h1v1h-1zm0-76h1v1h-1zm0-9h1v1h-1zm0-8h1v1h-1zm0-9h1v1h-1zM29 1405h1v3h-1zm0-85h1v3h-1zm0-17h1v3h-1zm0-50h1v2h-1zm0-3h1v2h-1zm0-7h1v1h-1zm0-17h1v1h-1zm0-55h1v1h-1zm0-9h1v1h-1zm0-27h1v1h-1zm0-10h1v1h-1zm0-35h1v1h-1zM30 1430h1v4h-1zm0-22h1v8h-1zm0-159h1v1h-1zm0-27h1v1h-1zm0-12h1v1h-1zm0-45h1v1h-1zm0-28h1v1h-1zm0-9h1v1h-1zm0-2h1v1h-1zm0-4h1v1h-1zm0-4h1v1h-1zm0-5h1v1h-1zm0-7h1v1h-1zm0-7h1v1h-1zM31 1416h1v3h-1zm0-163h1v4h-1zm0-29h1v2h-1zm0-8h1v2h-1zm0-24h1v1h-1zm0-9h1v1h-1zm0-16h1v3h-1zm0-29h1v1h-1z"/><path id="r38" d="M0 1447h1v8h-1zm0-117h1v2h-1zm0-40h1v4h-1zm0-18h1v1h-1zm0-79h1v1h-1zm0-6h1v1h-1zm0-12h1v1h-1zm0-32h1v1h-1zm0-7h1v2h-1zm0-2h1v1h-1zm0-24h1v1h-1zM1 1310h1v2h-1zm0-37h1v2h-1zm0-6h1v1h-1zm0-73h1v1h-1zm0-29h1v1h-1zm0-3h1v1h-1zm0-5h1v1h-1zm0-46h1v1h-1zm0-25h1v1h-1zM2 1523h1v6h-1zm0-76h1v4h-1zm0-227h1v2h-1zm0-14h1v1h-1zm0-7h1v1h-1zm0-45h1v1h-1zm0-43h1v1h-1zm0-15h1v1h-1zm0-10h1v1h-1zM3 1474h1v5h-1zm0-40h1v4h-1zm0-69h1v6h-1zm0-19h1v3h-1zm0-28h1v2h-1zm0-74h1v2h-1zm0-17h1v1h-1zm0-13h1v1h-1zm0-15h1v1h-1zm0-34h1v1h-1zm0-28h1v1h-1zm0-6h1v1h-1zm0-26h1v1h-1zm0-2h1v1h-1zm0-6h1v1h-1zm0-14h1v2h-1zM4 1374h1v3h-1zm0-20h1v3h-1zm0-75h1v1h-1zm0-45h1v1h-1zm0-3h1v2h-1zm0-26h1v1h-1zm0-3h1v2h-1zm0-18h1v1h-1zm0-3h1v1h-1zm0-12h1v1h-1zm0-15h1v1h-1zm0-51h1v1h-1zM5 1460h1v4h-1zm0-100h1v2h-1zm0-50h1v2h-1zm0-66h1v2h-1zm0-29h1v1h-1zm0-79h1v1h-1zm0-11h1v2h-1zM6 1455h1v5h-1zm0-60h1v3h-1zm0-21h1v3h-1zm0-125h1v1h-1zm0-67h1v1h-1zm0-59h1v1h-1zm0-5h1v1h-1zm0-2h1v1h-1zm0-14h1v1h-1zM7 1455h1v5h-1zm0-60h1v3h-1zm0-21h1v3h-1zm0-37h1v2h-1zm0-147h1v1h-1zm0-23h1v1h-1zm0-37h1v1h-1zm0-3h1v1h-1zm0-15h1v1h-1zm0-17h1v1h-1zM8 1423h1v4h-1zm0-46h1v2h-1zm0-23h1v3h-1zm0-44h1v2h-1zm0-50h1v2h-1zm0-5h1v2h-1zm0-14h1v2h-1zm0-55h1v1h-1zm0-35h1v1h-1zm0-33h1v1h-1zm0-32h1v1h-1zM9 1451h1v4h-1zm0-43h1v4h-1zm0-10h1v4h-1zm0-52h1v3h-1zm0-36h1v2h-1zm0-157h1v1h-1zm0-27h1v1h-1zm0-8h1v1h-1zm0-8h1v1h-1zM10 1316h1v2h-1zm0-49h1v1h-1zm0-10h1v1h-1zm0-10h1v2h-1zm0-13h1v1h-1zm0-57h1v1h-1zm0-50h1v1h-1zm0-25h1v1h-1zm0-15h1v1h-1zM11 1455h1v5h-1zm0-149h1v2h-1zm0-9h1v2h-1zm0-44h1v2h-1zm0-25h1v5h-1zm0-55h1v1h-1zm0-10h1v1h-1zm0-7h1v1h-1zm0-2h1v1h-1zm0-22h1v1h-1zm0-14h1v1h-1zm0-16h1v1h-1zm0-5h1v1h-1zm0-11h1v1h-1zM12 1529h1v7h-1zm0-204h1v2h-1zm0-22h1v3h-1zm0-53h1v2h-1zm0-32h1v1h-1zm0-6h1v2h-1zm0-13h1v1h-1zm0-13h1v1h-1zm0-22h1v1h-1zm0-2h1v1h-1zm0-36h1v1h-1zM13 1339h1v2h-1zm0-87h1v1h-1zm0-36h1v2h-1zm0-38h1v2h-1zm0-36h1v1h-1zm0-11h1v1h-1zm0-26h1v1h-1zM14 1303h1v3h-1zm0-30h1v2h-1zm0-10h1v2h-1zm0-19h1v2h-1zm0-42h1v2h-1zm0-16h1v1h-1zm0-11h1v1h-1zm0-58h1v1h-1zm0-8h1v1h-1zm0-4h1v1h-1zm0-20h1v2h-1zM15 1430h1v4h-1zm0-35h1v3h-1zm0-176h1v1h-1zm0-3h1v2h-1zm0-122h1v1h-1zm0-10h1v1h-1zM16 1303h1v3h-1zm0-28h1v2h-1zm0-57h1v1h-1zm0-109h1v1h-1zm0-23h1v1h-1zM17 1392h1v3h-1zm0-18h1v3h-1zm0-37h1v2h-1zm0-62h1v2h-1zm0-8h1v1h-1zm0-27h1v1h-1zm0-36h1v1h-1zm0-40h1v1h-1zm0-24h1v2h-1zm0-54h1v1h-1zM18 1166h1v1h-1zm0-45h1v1h-1zm0-10h1v1h-1zM19 1402h1v3h-1zm0-42h1v2h-1zm0-66h1v2h-1zm0-31h1v2h-1zm0-6h1v1h-1zm0-35h1v2h-1zm0-41h1v1h-1zm0-26h1v1h-1zm0-26h1v1h-1zm0-26h1v1h-1zm0-16h1v1h-1zm0-2h1v1h-1zM20 1469h1v5h-1zm0-112h1v3h-1zm0-60h1v2h-1zm0-77h1v2h-1zm0-15h1v1h-1zm0-17h1v2h-1zm0-21h1v1h-1zm0-5h1v1h-1zm0-11h1v1h-1zm0-14h1v1h-1zM21 1212h1v2h-1zm0-19h1v1h-1zm0-3h1v1h-1zm0-39h1v1h-1zm0-7h1v1h-1zm0-50h1v1h-1zM22 1517h1v6h-1zm0-131h1v3h-1zm0-9h1v2h-1zm0-67h1v2h-1zm0-153h1v1h-1zm0-2h1v1h-1zm0-61h1v1h-1zM23 1377h1v2h-1zm0-47h1v2h-1zm0-5h1v2h-1zm0-22h1v3h-1zm0-73h1v3h-1zm0-21h1v1h-1zm0-33h1v1h-1zm0-33h1v1h-1zM24 1469h1v5h-1zm0-67h1v3h-1zm0-48h1v3h-1zm0-15h1v2h-1zm0-5h1v3h-1zm0-185h1v1h-1zm0-13h1v1h-1zm0-49h1v1h-1zm0-2h1v1h-1zM25 1294h1v2h-1zm0-66h1v2h-1zm0-12h1v2h-1zm0-14h1v2h-1zm0-2h1v1h-1zm0-2h1v1h-1zm0-33h1v1h-1zm0-43h1v1h-1zm0-2h1v1h-1zM26 1443h1v4h-1zm0-91h1v2h-1zm0-130h1v1h-1zm0-28h1v1h-1zm0-26h1v1h-1zm0-12h1v1h-1zm0-21h1v1h-1zm0-19h1v1h-1zm0-11h1v1h-1zM27 1344h1v2h-1zm0-72h1v1h-1zm0-41h1v2h-1zm0-25h1v1h-1zm0-14h1v1h-1zm0-28h1v1h-1zm0-3h1v1h-1zm0-59h1v1h-1zm0-8h1v1h-1zm0-8h1v1h-1zM28 1434h1v4h-1zm0-102h1v2h-1zm0-22h1v2h-1zm0-13h1v2h-1zm0-15h1v2h-1zm0-9h1v2h-1zm0-42h1v2h-1zm0-9h1v1h-1zm0-10h1v2h-1zm0-5h1v2h-1zm0-13h1v1h-1zm0-18h1v1h-1zm0-27h1v1h-1zm0-3h1v1h-1zm0-15h1v1h-1zm0-28h1v1h-1zm0-6h1v1h-1zm0-4h1v1h-1zM29 1398h1v4h-1zm0-80h1v2h-1zm0-72h1v1h-1zm0-153h1v1h-1zM30 1346h1v3h-1zm0-43h1v3h-1zm0-17h1v2h-1zm0-26h1v2h-1zm0-74h1v1h-1zm0-2h1v1h-1zm0-24h1v1h-1zm0-14h1v1h-1zm0-7h1v1h-1zm0-28h1v1h-1zm0-6h1v1h-1zM31 1511h1v6h-1zm0-162h1v3h-1zm0-8h1v3h-1zm0-123h1v1h-1zm0-38h1v1h-1zm0-24h1v1h-1zm0-36h1v1h-1zm0-17h1v1h-1z"/><path id="r39" d="M0 1247h1v2h-1zm0-51h1v2h-1zm0-11h1v1h-1zm0-7h1v2h-1zm0-20h1v1h-1zm0-39h1v1h-1zM1 1408h1v4h-1zm0-34h1v3h-1zm0-40h1v3h-1zm0-18h1v2h-1zm0-10h1v2h-1zm0-72h1v1h-1zm0-42h1v1h-1zm0-4h1v2h-1zM2 1517h1v6h-1zm0-17h1v5h-1zm0-66h1v4h-1zm0-138h1v1h-1zm0-12h1v2h-1zm0-57h1v1h-1zm0-13h1v1h-1zm0-19h1v1h-1zm0-2h1v1h-1zm0-11h1v1h-1zm0-25h1v1h-1zm0-21h1v1h-1zM3 1301h1v2h-1zm0-19h1v2h-1zm0-44h1v2h-1zm0-18h1v2h-1zm0-18h1v2h-1zm0-40h1v1h-1zm0-32h1v1h-1zm0-3h1v1h-1zM4 1408h1v4h-1zm0-40h1v3h-1zm0-91h1v2h-1zm0-67h1v1h-1zm0-27h1v1h-1zm0-35h1v1h-1zm0-29h1v1h-1zm0-5h1v1h-1zm0-15h1v1h-1zM5 1484h1v5h-1zm0-143h1v3h-1zm0-11h1v2h-1zm0-42h1v2h-1zm0-4h1v2h-1zm0-58h1v1h-1zm0-17h1v1h-1zm0-10h1v1h-1zm0-6h1v1h-1zm0-49h1v1h-1zm0-45h1v1h-1zm0-10h1v1h-1zM6 1279h1v1h-1zm0-65h1v1h-1zm0-38h1v1h-1zm0-10h1v1h-1zm0-24h1v1h-1zm0-14h1v1h-1zM7 1344h1v2h-1zm0-5h1v2h-1zm0-14h1v2h-1zm0-50h1v2h-1zm0-174h1v1h-1zM8 1288h1v2h-1zm0-58h1v1h-1zm0-54h1v1h-1zm0-76h1v1h-1zm0-10h1v1h-1zM9 1362h1v3h-1zm0-18h1v2h-1zm0-24h1v3h-1zm0-120h1v1h-1zm0-9h1v1h-1zm0-58h1v1h-1zm0-41h1v1h-1zm0-4h1v1h-1zM10 1258h1v2h-1zm0-39h1v1h-1zm0-21h1v1h-1zm0-24h1v1h-1zm0-10h1v1h-1zm0-31h1v1h-1zm0-20h1v1h-1zM11 1517h1v6h-1zm0-17h1v5h-1zm0-339h1v2h-1zm0-61h1v1h-1zm0-11h1v1h-1zM12 1517h1v12h-1zm0-17h1v5h-1zm0-26h1v5h-1zm0-160h1v2h-1zm0-17h1v2h-1zm0-37h1v2h-1zm0-40h1v2h-1zm0-114h1v1h-1zm0-17h1v1h-1zM13 1408h1v4h-1zm0-6h1v3h-1zm0-48h1v3h-1zm0-60h1v2h-1zm0-31h1v2h-1zm0-57h1v1h-1zm0-39h1v1h-1zm0-18h1v1h-1zM14 1423h1v4h-1zm0-7h1v3h-1zm0-56h1v5h-1zm0-110h1v2h-1zm0-90h1v1h-1zm0-4h1v2h-1zm0-36h1v1h-1zm0-31h1v1h-1zM15 1419h1v4h-1zm0-101h1v2h-1zm0-98h1v2h-1zm0-36h1v1h-1zm0-3h1v1h-1zm0-19h1v1h-1zm0-38h1v1h-1zM16 1500h1v5h-1zm0-16h1v5h-1zm0-37h1v4h-1zm0-70h1v2h-1zm0-12h1v3h-1zm0-40h1v2h-1zm0-57h1v2h-1zm0-3h1v2h-1zm0-61h1v1h-1zm0-21h1v1h-1zm0-6h1v1h-1zm0-12h1v1h-1zM17 1412h1v7h-1zm0-106h1v2h-1zm0-91h1v1h-1zm0-9h1v1h-1zm0-24h1v1h-1zm0-8h1v1h-1zm0-6h1v1h-1zm0-14h1v1h-1zm0-11h1v1h-1zm0-7h1v1h-1zm0-29h1v1h-1zm0-6h1v1h-1zm0-1h1v1h-1zM18 1379h1v3h-1zm0-42h1v2h-1zm0-10h1v3h-1zm0-11h1v2h-1zm0-4h1v2h-1zm0-35h1v2h-1zm0-24h1v2h-1zm0-9h1v2h-1zm0-26h1v1h-1zm0-27h1v1h-1zm0-44h1v1h-1zm0-11h1v1h-1zm0-28h1v1h-1zM19 1416h1v3h-1zm0-11h1v3h-1zm0-174h1v3h-1zm0-61h1v1h-1zm0-78h1v1h-1zM20 1511h1v6h-1zm0-232h1v1h-1zm0-17h1v1h-1zm0-81h1v1h-1zm0-4h1v1h-1zm0-2h1v1h-1zm0-21h1v1h-1zm0-25h1v1h-1zM21 1443h1v4h-1zm0-41h1v3h-1zm0-94h1v2h-1zm0-133h1v1h-1zm0-18h1v1h-1zm0-29h1v1h-1zM22 1464h1v5h-1zm0-115h1v3h-1zm0-115h1v1h-1zm0-8h1v1h-1zm0-6h1v2h-1zm0-44h1v1h-1zM23 1430h1v4h-1zm0-56h1v3h-1zm0-114h1v2h-1zm0-54h1v1h-1zm0-4h1v2h-1zm0-21h1v1h-1zm0-22h1v1h-1zm0-7h1v2h-1zm0-16h1v1h-1zm0-7h1v1h-1zm0-31h1v1h-1zM24 1460h1v4h-1zm0-33h1v3h-1zm0-157h1v2h-1zm0-55h1v1h-1zm0-10h1v1h-1zm0-18h1v1h-1zm0-26h1v1h-1zm0-13h1v1h-1zM25 1529h1v7h-1zm0-137h1v3h-1zm0-38h1v3h-1zm0-42h1v2h-1zm0-42h1v2h-1zm0-47h1v1h-1zm0-61h1v1h-1zm0-6h1v1h-1zm0-29h1v1h-1zm0-27h1v1h-1zM26 1479h1v5h-1zm0-67h1v4h-1zm0-71h1v3h-1zm0-47h1v2h-1zm0-103h1v1h-1zm0-7h1v1h-1zm0-3h1v1h-1zm0-23h1v1h-1zM27 1423h1v4h-1zm0-207h1v2h-1zm0-22h1v1h-1zm0-96h1v1h-1zM28 1464h1v5h-1zm0-21h1v4h-1zm0-31h1v7h-1zm0-30h1v4h-1zm0-5h1v2h-1zm0-17h1v2h-1zm0-162h1v1h-1zm0-7h1v1h-1zm0-26h1v1h-1zm0-26h1v1h-1zM29 1434h1v13h-1zm0-26h1v4h-1zm0-148h1v2h-1zm0-79h1v1h-1zm0-31h1v1h-1zm0-7h1v1h-1zm0-2h1v1h-1zm0-8h1v1h-1zm0-14h1v1h-1zM30 1505h1v12h-1zm0-11h1v6h-1zm0-117h1v2h-1zm0-80h1v2h-1zm0-82h1v1h-1zm0-47h1v1h-1zm0-41h1v1h-1zM31 1365h1v3h-1zm0-75h1v2h-1zm0-83h1v2h-1zm0-26h1v2h-1zm0-9h1v1h-1zm0-20h1v1h-1zm0-23h1v1h-1zm0-4h1v1h-1zm0-8h1v1h-1z"/><path id="r40" d="M0 1460h1v4h-1zm0-137h1v2h-1zm0-74h1v1h-1zm0-129h1v1h-1zm0-11h1v1h-1zm0-13h1v1h-1zM1 1292h1v2h-1zm0-61h1v2h-1zm0-31h1v1h-1zm0-25h1v1h-1zm0-7h1v1h-1zm0-44h1v1h-1zm0-14h1v1h-1zm0-29h1v1h-1zM2 1395h1v3h-1zm0-54h1v3h-1zm0-101h1v1h-1zm0-39h1v1h-1zm0-14h1v1h-1zm0-92h1v1h-1zM3 1460h1v4h-1zm0-62h1v4h-1zm0-57h1v3h-1zm0-44h1v2h-1zm0-69h1v2h-1zm0-48h1v1h-1zm0-5h1v1h-1zm0-27h1v1h-1zM4 1427h1v3h-1zm0-113h1v2h-1zm0-39h1v2h-1zm0-104h1v1h-1zm0-20h1v1h-1zM5 1408h1v4h-1zm0-114h1v2h-1zm0-17h1v2h-1zm0-57h1v2h-1zm0-8h1v2h-1zm0-75h1v1h-1zm0-21h1v1h-1zm0-20h1v1h-1zm0-1h1v1h-1zm0-2h1v1h-1zM6 1489h1v5h-1zm0-91h1v4h-1zm0-12h1v3h-1zm0-89h1v2h-1zm0-64h1v1h-1zm0-149h1v1h-1zM7 1392h1v3h-1zm0-46h1v3h-1zm0-111h1v2h-1zm0-34h1v1h-1zm0-18h1v1h-1zm0-12h1v1h-1zm0-26h1v1h-1zm0-63h1v1h-1zM8 1395h1v3h-1zm0-58h1v2h-1zm0-80h1v1h-1zm0-14h1v1h-1zm0-3h1v1h-1zm0-6h1v1h-1zm0-56h1v2h-1zm0-23h1v1h-1zm0-9h1v1h-1zm0-13h1v1h-1zm0-51h1v1h-1zM9 1386h1v3h-1zm0-32h1v3h-1zm0-17h1v2h-1zm0-5h1v2h-1zm0-20h1v2h-1zm0-149h1v1h-1zm0-47h1v1h-1zm0-12h1v1h-1zm0-19h1v1h-1zM10 1303h1v3h-1zm0-73h1v1h-1zm0-40h1v1h-1zm0-67h1v1h-1zm0-38h1v1h-1zM11 1371h1v3h-1zm0-44h1v3h-1zm0-59h1v2h-1zm0-10h1v2h-1zm0-65h1v1h-1zm0-43h1v1h-1zm0-17h1v1h-1zm0-22h1v1h-1zM12 1382h1v4h-1zm0-45h1v2h-1zm0-69h1v2h-1zm0-25h1v1h-1zm0-13h1v1h-1zm0-7h1v1h-1zm0-96h1v1h-1zm0-4h1v1h-1zm0-13h1v1h-1zm0-14h1v1h-1zM13 1262h1v1h-1zm0-7h1v2h-1zm0-78h1v1h-1zm0-59h1v1h-1zm0-37h1v1h-1zM14 1469h1v10h-1zm0-132h1v2h-1zm0-45h1v2h-1zm0-62h1v3h-1zm0-18h1v2h-1zm0-48h1v1h-1zm0-45h1v1h-1zm0-15h1v1h-1zM15 1505h1v6h-1zm0-180h1v2h-1zm0-78h1v2h-1zm0-79h1v1h-1zM16 1419h1v4h-1zm0-27h1v3h-1zm0-140h1v1h-1zm0-29h1v1h-1zm0-14h1v1h-1zm0-28h1v1h-1zm0-43h1v1h-1zm0-11h1v1h-1zm0-31h1v1h-1zm0-13h1v1h-1zM17 1377h1v2h-1zm0-63h1v2h-1zm0-11h1v3h-1zm0-80h1v1h-1zM18 1517h1v6h-1zm0-105h1v4h-1zm0-47h1v3h-1zm0-77h1v2h-1zm0-25h1v2h-1zm0-33h1v1h-1zm0-21h1v1h-1zm0-24h1v1h-1zm0-35h1v1h-1zm0-5h1v1h-1zm0-35h1v1h-1zm0-7h1v1h-1zM19 1301h1v2h-1zm0-139h1v1h-1zm0-6h1v2h-1zm0-40h1v1h-1zm0-14h1v1h-1zm0-8h1v1h-1zM20 1423h1v4h-1zm0-131h1v4h-1zm0-81h1v1h-1zm0-90h1v1h-1zm0-3h1v1h-1zM21 1447h1v4h-1zm0-141h1v2h-1zm0-110h1v2h-1zm0-25h1v1h-1zm0-45h1v1h-1zm0-21h1v1h-1zM22 1362h1v3h-1zM23 1474h1v5h-1zm0-192h1v2h-1zm0-9h1v2h-1zm0-138h1v1h-1zm0-19h1v1h-1zm0-4h1v1h-1zM24 1320h1v3h-1zm0-74h1v1h-1zm0-12h1v1h-1zm0-72h1v1h-1zm0-68h1v1h-1zm0-10h1v1h-1zM25 1494h1v6h-1zm0-71h1v4h-1zm0-146h1v2h-1zm0-102h1v1h-1zm0-59h1v1h-1zm0-11h1v1h-1zm0-10h1v1h-1zM26 1395h1v3h-1zm0-116h1v1h-1zm0-84h1v1h-1zm0-18h1v1h-1zm0-17h1v1h-1zm0-5h1v1h-1zm0-14h1v1h-1zm0-5h1v1h-1zM27 1246h1v1h-1zm0-20h1v1h-1zm0-19h1v2h-1zM28 1284h1v2h-1zm0-64h1v2h-1zm0-9h1v1h-1zm0-23h1v2h-1zm0-53h1v1h-1zm0-14h1v1h-1zm0-38h1v1h-1zm0-1h1v1h-1zM29 1511h1v6h-1zm0-299h1v2h-1zm0-7h1v1h-1zm0-12h1v1h-1zm0-108h1v1h-1zM30 1484h1v5h-1zm0-105h1v3h-1zm0-56h1v2h-1zm0-70h1v2h-1zm0-66h1v1h-1zm0-28h1v1h-1zm0-57h1v1h-1zM31 1270h1v2h-1zm0-10h1v2h-1zm0-17h1v3h-1zm0-84h1v1h-1zm0-10h1v1h-1zm0-8h1v1h-1zm0-13h1v1h-1z"/><path id="r41" d="M0 1280h1v2h-1zm0-30h1v2h-1zm0-104h1v1h-1zm0-56h1v1h-1zM1 1455h1v5h-1zm0-183h1v1h-1zm0-81h1v1h-1zm0-64h1v1h-1zM2 1308h1v2h-1zm0-55h1v2h-1zm0-51h1v2h-1zm0-10h1v1h-1zm0-15h1v1h-1zm0-11h1v1h-1zm0-40h1v1h-1zm0-26h1v1h-1zM3 1339h1v2h-1zm0-121h1v1h-1zm0-44h1v1h-1zm0-5h1v1h-1zM4 1484h1v5h-1zm0-105h1v3h-1zm0-106h1v2h-1zm0-40h1v1h-1zm0-21h1v2h-1zm0-19h1v1h-1zm0-29h1v1h-1zm0-26h1v1h-1zm0-10h1v1h-1zm0-10h1v1h-1zm0-10h1v1h-1zm0-11h1v1h-1zm0-7h1v1h-1zM5 1419h1v4h-1zm0-118h1v2h-1zm0-51h1v2h-1zm0-137h1v1h-1zm0-6h1v1h-1zM6 1339h1v2h-1zm0-67h1v1h-1zm0-66h1v1h-1zm0-119h1v1h-1zM7 1318h1v2h-1zm0-51h1v1h-1zm0-119h1v1h-1zM8 1427h1v7h-1zm0-126h1v2h-1zm0-113h1v2h-1zm0-67h1v1h-1zm0-15h1v1h-1zM9 1517h1v6h-1zm0-216h1v2h-1zm0-43h1v2h-1zm0-111h1v1h-1zM10 1405h1v3h-1zm0-71h1v3h-1zm0-52h1v2h-1zM11 1484h1v5h-1zm0-41h1v4h-1zm0-41h1v3h-1zm0-28h1v3h-1zm0-107h1v1h-1zm0-95h1v1h-1zM12 1412h1v4h-1zm0-102h1v2h-1zm0-122h1v3h-1zm0-3h1v1h-1zm0-13h1v1h-1zm0-47h1v1h-1zM13 1250h1v2h-1zm0-43h1v2h-1zm0-25h1v1h-1zm0-43h1v1h-1zm0-26h1v1h-1zM14 1427h1v3h-1zm0-121h1v2h-1zm0-111h1v1h-1zm0-64h1v1h-1zm0-2h1v1h-1zM15 1464h1v5h-1zm0-26h1v5h-1zm0-171h1v1h-1zm0-56h1v1h-1zm0-24h1v1h-1zm0-7h1v1h-1zm0-3h1v1h-1zm0-29h1v1h-1zm0-19h1v1h-1zm0-42h1v1h-1zM16 1451h1v4h-1zm0-150h1v2h-1zm0-77h1v2h-1zm0-14h1v1h-1zm0-36h1v1h-1zm0-48h1v1h-1zm0-38h1v1h-1zM17 1500h1v5h-1zm0-232h1v2h-1zm0-16h1v1h-1zm0-71h1v1h-1zM18 1523h1v6h-1zm0-44h1v5h-1zm0-236h1v1h-1zm0-68h1v1h-1zm0-17h1v1h-1zm0-30h1v1h-1zM19 1327h1v3h-1zm0-60h1v1h-1zm0-32h1v2h-1zm0-29h1v1h-1zm0-45h1v1h-1zm0-25h1v1h-1zm0-17h1v1h-1zM20 1464h1v5h-1zm0-72h1v3h-1zm0-268h1v1h-1zm0-9h1v1h-1zM21 1484h1v5h-1zm0-79h1v3h-1zm0-82h1v2h-1zm0-35h1v2h-1zm0-15h1v2h-1zm0-6h1v1h-1zm0-49h1v1h-1zm0-20h1v1h-1zm0-11h1v1h-1zm0-32h1v1h-1zm0-3h1v1h-1zm0-39h1v2h-1zM22 1354h1v3h-1zm0-105h1v1h-1zm0-71h1v2h-1zm0-49h1v1h-1zM23 1253h1v2h-1zm0-60h1v1h-1zm0-20h1v1h-1zM24 1505h1v6h-1zm0-86h1v4h-1zm0-7h1v4h-1zm0-177h1v2h-1zm0-16h1v1h-1zm0-9h1v1h-1zm0-55h1v1h-1zm0-9h1v1h-1zM25 1377h1v2h-1zm0-109h1v2h-1zm0-180h1v1h-1zM26 1430h1v4h-1zm0-68h1v3h-1zm0-35h1v3h-1zm0-47h1v2h-1zm0-17h1v2h-1zm0-17h1v1h-1zm0-27h1v1h-1zm0-21h1v1h-1zM27 1511h1v6h-1zm0-137h1v3h-1zm0-40h1v3h-1zm0-119h1v1h-1zm0-6h1v1h-1zm0-25h1v1h-1zM28 1306h1v4h-1zm0-143h1v1h-1zm0-74h1v1h-1zM29 1240h1v1h-1zm0-12h1v2h-1zm0-10h1v1h-1zm0-96h1v1h-1zm0-23h1v1h-1zM30 1392h1v3h-1zm0-21h1v3h-1zm0-34h1v2h-1zm0-72h1v2h-1zm0-99h1v1h-1zM31 1306h1v2h-1z"/><path id="r42" d="M0 1346h1v3h-1zm0-103h1v1h-1zm0-23h1v2h-1zm0-8h1v2h-1zm0-30h1v1h-1zm0-79h1v1h-1zM1 1430h1v4h-1zm0-190h1v1h-1zm0-38h1v2h-1zm0-41h1v1h-1zm0-18h1v1h-1zM2 1212h1v2h-1zm0-45h1v1h-1zm0-11h1v1h-1zM3 1469h1v5h-1zm0-236h1v1h-1zm0-11h1v1h-1zm0-50h1v1h-1zm0-30h1v1h-1zm0-22h1v1h-1zm0-28h1v1h-1zM4 1262h1v1h-1zm0-110h1v1h-1zm0-2h1v1h-1zm0-21h1v1h-1zm0-19h1v1h-1zM5 1438h1v5h-1zm0-185h1v2h-1zm0-6h1v2h-1zm0-69h1v2h-1zm0-32h1v1h-1zm0-34h1v1h-1zm0-28h1v1h-1zM6 1164h1v1h-1zm0-53h1v1h-1zM7 1494h1v6h-1zm0-67h1v3h-1zm0-258h1v1h-1zm0-23h1v1h-1zM8 1219h1v1h-1zm0-20h1v1h-1zm0-88h1v1h-1zM9 1479h1v5h-1zm0-105h1v3h-1zm0-109h1v2h-1zm0-113h1v1h-1zm0-61h1v1h-1zM10 1434h1v4h-1zM11 1382h1v4h-1zm0-72h1v2h-1zm0-116h1v1h-1zm0-46h1v1h-1zm0-31h1v1h-1zm0-5h1v1h-1zm0-17h1v1h-1zM12 1402h1v3h-1zm0-90h1v2h-1zm0-74h1v2h-1zm0-31h1v2h-1zm0-3h1v1h-1zM13 1238h1v2h-1zm0-74h1v1h-1zm0-32h1v1h-1zm0-13h1v1h-1zM14 1365h1v3h-1zm0-79h1v2h-1zm0-52h1v1h-1zm0-35h1v1h-1zm0-9h1v3h-1zm0-8h1v1h-1zm0-5h1v1h-1zm0-30h1v1h-1zm0-7h1v1h-1zm0-24h1v1h-1zM15 1511h1v6h-1zm0-119h1v3h-1zm0-38h1v3h-1zm0-64h1v2h-1zm0-118h1v2h-1zm0-16h1v1h-1zm0-20h1v1h-1zm0-17h1v1h-1zM16 1337h1v2h-1zm0-126h1v1h-1zm0-69h1v1h-1zm0-10h1v1h-1zm0-37h1v1h-1zm0-2h1v1h-1zM17 1178h1v2h-1zm0-84h1v1h-1zM18 1325h1v2h-1zm0-152h1v1h-1zm0-46h1v1h-1zm0-10h1v1h-1zM19 1312h1v2h-1zm0-16h1v1h-1zm0-91h1v1h-1zm0-96h1v1h-1zM20 1209h1v1h-1zm0-52h1v1h-1zm0-9h1v1h-1zm0-38h1v1h-1zM21 1352h1v2h-1zm0-148h1v1h-1zm0-30h1v1h-1zm0-33h1v1h-1zm0-5h1v1h-1zm0-20h1v1h-1zm0-13h1v1h-1zM22 1218h1v1h-1zm0-116h1v1h-1zm0-10h1v1h-1zM23 1308h1v2h-1zm0-164h1v1h-1zm0-23h1v1h-1zm0-18h1v1h-1zM24 1423h1v4h-1zm0-96h1v3h-1zm0-123h1v1h-1zm0-8h1v2h-1zm0-15h1v1h-1zm0-28h1v1h-1zm0-36h1v1h-1zM25 1110h1v1h-1zm0-7h1v1h-1zm0-11h1v1h-1zM26 1297h1v2h-1zm0-70h1v1h-1zm0-85h1v1h-1zm0-30h1v1h-1zM27 1103h1v1h-1zm0-10h1v1h-1zM28 1296h1v1h-1zm0-187h1v1h-1zM29 1460h1v4h-1zm0-193h1v1h-1zm0-94h1v1h-1zm0-45h1v1h-1zm0-2h1v1h-1zm0-10h1v1h-1zM30 1382h1v4h-1zm0-231h1v1h-1zm0-42h1v1h-1zm0-15h1v1h-1zM31 1230h1v1h-1zm0-114h1v1h-1z"/><path id="r43" d="M0 1265h1v2h-1zm0-111h1v1h-1zm0-57h1v1h-1zm0-9h1v1h-1zM1 1243h1v1h-1zm0-111h1v1h-1zm0-33h1v1h-1zM2 1430h1v4h-1zm0-103h1v3h-1zm0-54h1v2h-1zm0-3h1v2h-1zm0-23h1v2h-1zm0-17h1v1h-1zm0-25h1v1h-1zm0-86h1v1h-1zm0-30h1v1h-1zM3 1119h1v1h-1zm0-13h1v1h-1zM4 1100h1v1h-1zM5 1474h1v5h-1zm0-184h1v2h-1zm0-118h1v2h-1zm0-18h1v1h-1zm0-15h1v1h-1zM6 1267h1v1h-1zm0-74h1v1h-1zm0-16h1v1h-1zm0-92h1v1h-1zM7 1523h1v6h-1zm0-369h1v1h-1zm0-16h1v1h-1zM8 1434h1v4h-1zm0-241h1v1h-1zM9 1529h1v7h-1zm0-378h1v1h-1zm0-64h1v1h-1zM10 1423h1v4h-1zm0-77h1v3h-1zM11 1296h1v1h-1zm0-84h1v2h-1zm0-35h1v1h-1zM12 1227h1v1h-1zm0-22h1v1h-1zm0-18h1v1h-1zm0-13h1v1h-1zm0-28h1v1h-1zm0-31h1v1h-1zm0-30h1v1h-1zM13 1529h1v7h-1zm0-152h1v2h-1zm0-241h1v1h-1zM14 1464h1v5h-1zm0-107h1v3h-1zm0-146h1v1h-1zm0-52h1v1h-1zm0-17h1v1h-1zM15 1423h1v4h-1zm0-247h1v1h-1zm0-91h1v1h-1zM16 1438h1v5h-1zm0-248h1v1h-1zm0-41h1v1h-1zm0-18h1v1h-1zm0-18h1v1h-1zM17 1523h1v6h-1zm0-370h1v1h-1zm0-23h1v1h-1zm0-42h1v1h-1zM18 1297h1v2h-1zm0-66h1v2h-1zm0-78h1v1h-1zm0-11h1v1h-1zm0-57h1v2h-1zM19 1511h1v6h-1zm0-188h1v2h-1zm0-39h1v2h-1zm0-40h1v2h-1zm0-119h1v1h-1zM20 1500h1v5h-1zm0-307h1v1h-1zm0-24h1v1h-1zm0-31h1v1h-1zM21 1460h1v4h-1zm0-277h1v1h-1zM22 1405h1v3h-1zm0-78h1v3h-1zm0-81h1v1h-1zm0-48h1v1h-1zM23 1438h1v5h-1zm0-212h1v1h-1zm0-68h1v1h-1zM24 1099h1v1h-1zM25 1186h1v1h-1zm0-41h1v1h-1zm0-13h1v1h-1zm0-4h1v1h-1zm0-39h1v1h-1zM26 1386h1v3h-1zm0-96h1v2h-1zm0-4h1v2h-1zm0-148h1v1h-1zm0-52h1v1h-1zM27 1100h1v1h-1zM28 1362h1v3h-1zm0-196h1v1h-1zM29 1233h1v1h-1zm0-127h1v1h-1zM30 1164h1v1h-1zm0-67h1v1h-1zM31 1299h1v2h-1zm0-37h1v1h-1zm0-91h1v1h-1zm0-11h1v1h-1zm0-23h1v1h-1zm0-19h1v1h-1z"/><path id="r44" d="M0 1188h1v2h-1zm0-25h1v1h-1zM1 1218h1v1h-1zm0-12h1v1h-1zM2 1362h1v3h-1zM3 1110h1v1h-1zM4 1243h1v1h-1zm0-43h1v1h-1zm0-42h1v1h-1zM5 1357h1v3h-1zm0-77h1v2h-1zm0-149h1v1h-1zM6 1268h1v2h-1zm0-174h1v1h-1zm0-2h1v1h-1zM7 1447h1v4h-1zm0-82h1v3h-1zm0-8h1v3h-1zm0-108h1v1h-1zm0-12h1v1h-1zM8 1323h1v2h-1zm0-195h1v1h-1zM10 1517h1v6h-1zm0-135h1v4h-1zm0-133h1v1h-1zm0-8h1v2h-1zm0-31h1v1h-1zm0-106h1v1h-1zM11 1344h1v2h-1zm0-110h1v1h-1zm0-59h1v1h-1zM12 1511h1v6h-1zm0-309h1v2h-1zm0-90h1v1h-1zM13 1306h1v2h-1zm0-66h1v1h-1zm0-3h1v1h-1zm0-75h1v1h-1zm0-7h1v1h-1zm0-18h1v1h-1zM14 1412h1v4h-1zm0-202h1v1h-1zm0-38h1v1h-1zM15 1500h1v5h-1zm0-53h1v4h-1zm0-73h1v3h-1zm0-236h1v1h-1zm0-57h1v1h-1zM16 1330h1v2h-1zm0-83h1v2h-1zm0-123h1v1h-1zM17 1334h1v3h-1zm0-174h1v1h-1zM18 1447h1v4h-1zm0-93h1v3h-1zm0-68h1v2h-1zM19 1505h1v6h-1zM21 1201h1v1h-1zm0-70h1v1h-1zM22 1306h1v2h-1zm0-18h1v2h-1zm0-88h1v1h-1zM23 1301h1v2h-1zM24 1166h1v1h-1zm0-10h1v1h-1zm0-2h1v1h-1zm0-31h1v1h-1zm0-21h1v1h-1zM25 1511h1v6h-1zm0-95h1v3h-1zm0-198h1v1h-1zm0-77h1v1h-1zM26 1292h1v2h-1zm0-4h1v2h-1zm0-36h1v1h-1zm0-100h1v1h-1zM27 1469h1v5h-1zm0-239h1v1h-1zm0-35h1v1h-1zm0-5h1v1h-1zm0-24h1v1h-1zm0-74h1v1h-1zM28 1215h1v1h-1zm0-104h1v1h-1zM29 1296h1v1h-1zm0-132h1v1h-1zM30 1231h1v2h-1zm0-111h1v1h-1zM31 1282h1v2h-1zm0-72h1v1h-1zm0-60h1v1h-1z"/><path id="r45" d="M0 1294h1v2h-1zM1 1489h1v5h-1zm0-333h1v1h-1zM2 1374h1v3h-1zm0-111h1v2h-1zm0-5h1v2h-1zm0-125h1v1h-1zM3 1316h1v2h-1zm0-63h1v2h-1zM4 1474h1v5h-1zm0-164h1v2h-1zm0-149h1v1h-1zm0-15h1v1h-1zM5 1371h1v3h-1zM6 1419h1v4h-1zm0-176h1v1h-1zM7 1215h1v1h-1zm0-60h1v1h-1zM8 1346h1v3h-1zM9 1176h1v1h-1zm0-9h1v1h-1zm0-6h1v1h-1zM10 1464h1v5h-1zm0-93h1v3h-1zM12 1332h1v2h-1zm0-196h1v1h-1zM13 1120h1v1h-1zM14 1398h1v4h-1zm0-44h1v3h-1zm0-128h1v1h-1zm0-118h1v1h-1zM15 1334h1v3h-1zm0-42h1v2h-1zM17 1357h1v3h-1zM18 1181h1v1h-1zM19 1299h1v2h-1zm0-157h1v1h-1zM20 1241h1v2h-1zM21 1494h1v6h-1zm0-267h1v1h-1zm0-47h1v1h-1zM22 1337h1v2h-1zM23 1258h1v2h-1zm0-144h1v1h-1zM24 1172h1v1h-1zM25 1489h1v5h-1zm0-42h1v4h-1zm0-203h1v3h-1zm0-76h1v1h-1zm0-25h1v1h-1zM27 1260h1v2h-1zM28 1438h1v5h-1zm0-146h1v2h-1zm0-39h1v2h-1zm0-39h1v1h-1zm0-64h1v1h-1zm0-31h1v1h-1zM29 1354h1v3h-1zm0-203h1v1h-1zM30 1489h1v5h-1zm0-299h1v1h-1zm0-19h1v1h-1zM31 1314h1v2h-1zm0-187h1v1h-1z"/><path id="r46" d="M0 1505h1v6h-1zm0-344h1v1h-1zm0-70h1v1h-1zM1 1123h1v1h-1zM2 1330h1v2h-1zm0-213h1v1h-1zM4 1187h1v1h-1zM5 1379h1v3h-1zm0-160h1v1h-1zm0-8h1v1h-1zm0-61h1v1h-1zM6 1154h1v1h-1zM7 1164h1v1h-1zM8 1292h1v2h-1zM9 1199h1v1h-1zm0-71h1v1h-1zm0-39h1v1h-1zM10 1339h1v2h-1zm0-79h1v2h-1zm0-66h1v1h-1zM11 1523h1v6h-1zm0-430h1v1h-1zM12 1330h1v2h-1zM14 1238h1v2h-1zM15 1451h1v4h-1zM16 1362h1v3h-1zm0-95h1v1h-1zM17 1129h1v1h-1zM18 1320h1v3h-1zm0-163h1v1h-1zM19 1344h1v2h-1zm0-30h1v2h-1zM20 1119h1v1h-1zM22 1270h1v2h-1zm0-179h1v1h-1zM23 1354h1v3h-1zm0-130h1v2h-1zm0-68h1v1h-1zm0-19h1v1h-1zM24 1116h1v1h-1zM25 1158h1v1h-1zm0-57h1v1h-1zM26 1165h1v1h-1zM27 1460h1v4h-1zm0-211h1v1h-1zm0-98h1v1h-1zM28 1118h1v1h-1zM29 1184h1v1h-1zM30 1332h1v2h-1zM31 1374h1v3h-1z"/><path id="r47" d="M0 1312h1v2h-1zm0-49h1v2h-1zM1 1464h1v5h-1zm0-146h1v2h-1zm0-96h1v1h-1zm0-13h1v1h-1zm0-56h1v1h-1zM2 1120h1v1h-1zM3 1186h1v1h-1zM4 1165h1v1h-1zm0-12h1v1h-1zM5 1134h1v1h-1zM6 1377h1v2h-1zM7 1222h1v1h-1zm0-116h1v1h-1zM8 1392h1v3h-1zm0-159h1v1h-1zM9 1260h1v2h-1zM10 1255h1v2h-1zM12 1097h1v1h-1zM14 1235h1v2h-1zm0-86h1v1h-1zM15 1188h1v2h-1zM17 1352h1v2h-1zm0-130h1v1h-1zm0-116h1v1h-1zM18 1252h1v1h-1zm0-6h1v1h-1zm0-100h1v1h-1zm0-51h1v1h-1zM20 1244h1v2h-1zM21 1246h1v1h-1zm0-76h1v1h-1zM22 1258h1v2h-1zm0-83h1v1h-1zm0-60h1v1h-1zM23 1211h1v1h-1zM25 1318h1v2h-1zm0-99h1v1h-1zm0-34h1v1h-1zM26 1096h1v1h-1zM29 1451h1v4h-1zm0-210h1v2h-1z"/><path id="r48" d="M0 1181h1v1h-1zM1 1362h1v3h-1zM3 1224h1v2h-1zm0-56h1v1h-1zM5 1337h1v2h-1zm0-41h1v1h-1zm0-59h1v1h-1zM6 1145h1v1h-1zM7 1306h1v2h-1zM8 1171h1v1h-1zM9 1314h1v2h-1zm0-215h1v1h-1zM12 1320h1v3h-1zM14 1124h1v1h-1zM16 1111h1v1h-1zM19 1337h1v2h-1zM22 1209h1v1h-1zm0-59h1v1h-1zM23 1157h1v1h-1zM24 1464h1v5h-1zm0-354h1v1h-1zM25 1306h1v2h-1zM26 1089h1v2h-1zM27 1523h1v6h-1zM29 1112h1v1h-1zM30 1147h1v1h-1zM31 1100h1v1h-1z"/><path id="r49" d="M2 1190h1v1h-1zM3 1155h1v1h-1zM5 1135h1v1h-1zM6 1337h1v2h-1zM8 1284h1v2h-1zm0-47h1v1h-1zM16 1152h1v1h-1zm0-8h1v1h-1zM17 1201h1v1h-1zM21 1137h1v1h-1zM22 1120h1v1h-1zM23 1228h1v2h-1zM24 1107h1v1h-1zM31 1240h1v1h-1z"/><path id="r50" d="M1 1257h1v1h-1zM2 1389h1v3h-1zM4 1209h1v1h-1zM5 1235h1v2h-1zM10 1084h1v1h-1zM12 1423h1v4h-1zM15 1382h1v4h-1zM20 1171h1v1h-1zM21 1314h1v2h-1zM22 1085h1v1h-1zM24 1100h1v1h-1zM27 1277h1v2h-1zM30 1185h1v1h-1zm0-13h1v1h-1zM31 1447h1v4h-1zm0-55h1v3h-1zm0-67h1v2h-1z"/><path id="r51" d="M8 1272h1v1h-1zm0-5h1v1h-1zM16 1332h1v2h-1zM21 1093h1v1h-1zM31 1140h1v1h-1zm0-35h1v1h-1z"/><path id="r52" d="M7 1255h1v2h-1z"/><path id="r53" d="M19 1280h1v2h-1zM28 1156h1v1h-1z"/><path id="r54" d="M23 1389h1v3h-1z"/><path id="r55" d="M2 1171h1v1h-1zM6 1479h1v5h-1zm0-263h1v2h-1z"/><path id="r56" d="M19 1308h1v2h-1z"/></defs><g shape-rendering="crispEdges" transform="translate(142.4 0) scale(15.532 1)"><use href="#r0" fill="#7f3b08"/><use href="#r2" fill="#8f4407"/><use href="#r3" fill="#974907"/><use href="#r4" fill="#a04d07"/><use href="#r5" fill="#a85206"/><use href="#r6" fill="#b05606"/><use href="#r7" fill="#b75c07"/><use href="#r8" fill="#be630a"/><use href="#r9" fill="#c6690c"/><use href="#r10" fill="#cd700e"/><use href="#r11" fill="#d47610"/><use href="#r12" fill="#db7d12"/><use href="#r13" fill="#e18417"/><use href="#r14" fill="#e68d23"/><use href="#r15" fill="#ea9530"/><use href="#r16" fill="#ef9e3c"/><use href="#r17" fill="#f3a649"/><use href="#r18" fill="#f8ae55"/><use href="#r19" fill="#fcb761"/><use href="#r20" fill="#fdbd6e"/><use href="#r21" fill="#fdc47b"/><use href="#r22" fill="#fdca88"/><use href="#r23" fill="#fed095"/><use href="#r24" fill="#fed7a2"/><use href="#r25" fill="#feddaf"/><use href="#r26" fill="#fde2bb"/><use href="#r27" fill="#fce5c5"/><use href="#r28" fill="#fbe9cf"/><use href="#r29" fill="#faedda"/><use href="#r30" fill="#f9f0e4"/><use href="#r31" fill="#f8f4ee"/><use href="#r32" fill="#f6f6f7"/><use href="#r33" fill="#f2f2f5"/><use href="#r34" fill="#ededf3"/><use href="#r35" fill="#e8e9f1"/><use href="#r36" fill="#e3e4ef"/><use href="#r37" fill="#dee0ed"/><use href="#r38" fill="#d9dbeb"/><use href="#r39" fill="#d4d4e8"/><use href="#r40" fill="#cecde4"/><use href="#r41" fill="#c8c6e0"/><use href="#r42" fill="#c2bedc"/><use href="#r43" fill="#bcb7d8"/><use href="#r44" fill="#b6b0d4"/><use href="#r45" fill="#afa8d0"/><use href="#r46" fill="#a79fca"/><use href="#r47" fill="#9f96c4"/><use href="#r48" fill="#988dbe"/><use href="#r49" fill="#9085b8"/><use href="#r50" fill="#887cb2"/><use href="#r51" fill="#8073ac"/><use href="#r52" fill="#7967a6"/><use href="#r53" fill="#725ba1"/><use href="#r54" fill="#6b4f9b"/><use href="#r55" fill="#644395"/><use href="#r56" fill="#5d3790"/></g><g shape-rendering="crispEdges" transform="translate(639.42 0) scale(15.532 1)"><use href="#r0" fill="#2d004b"/><use href="#r2" fill="#380b5c"/><use href="#r3" fill="#3e1165"/><use href="#r4" fill="#44176f"/><use href="#r5" fill="#4a1d78"/><use href="#r6" fill="#502382"/><use href="#r7" fill="#572b8a"/><use href="#r8" fill="#5d3790"/><use href="#r9" fill="#644395"/><use href="#r10" fill="#6b4f9b"/><use href="#r11" fill="#725ba1"/><use href="#r12" fill="#7967a6"/><use href="#r13" fill="#8073ac"/><use href="#r14" fill="#887cb2"/><use href="#r15" fill="#9085b8"/><use href="#r16" fill="#988dbe"/><use href="#r17" fill="#9f96c4"/><use href="#r18" fill="#a79fca"/><use href="#r19" fill="#afa8d0"/><use href="#r20" fill="#b6b0d4"/><use href="#r21" fill="#bcb7d8"/><use href="#r22" fill="#c2bedc"/><use href="#r23" fill="#c8c6e0"/><use href="#r24" fill="#cecde4"/><use href="#r25" fill="#d4d4e8"/><use href="#r26" fill="#d9dbeb"/><use href="#r27" fill="#dee0ed"/><use href="#r28" fill="#e3e4ef"/><use href="#r29" fill="#e8e9f1"/><use href="#r30" fill="#ededf3"/><use href="#r31" fill="#f2f2f5"/><use href="#r32" fill="#f6f6f7"/><use href="#r33" fill="#f2f2f5"/><use href="#r34" fill="#ededf3"/><use href="#r35" fill="#e8e9f1"/><use href="#r36" fill="#e3e4ef"/><use href="#r37" fill="#dee0ed"/><use href="#r38" fill="#d9dbeb"/><use href="#r39" fill="#d4d4e8"/><use href="#r40" fill="#cecde4"/><use href="#r41" fill="#c8c6e0"/><use href="#r42" fill="#c2bedc"/><use href="#r43" fill="#bcb7d8"/><use href="#r44" fill="#b6b0d4"/><use href="#r45" fill="#afa8d0"/><use href="#r46" fill="#a79fca"/><use href="#r47" fill="#9f96c4"/><use href="#r48" fill="#988dbe"/><use href="#r49" fill="#9085b8"/><use href="#r50" fill="#887cb2"/><use href="#r51" fill="#8073ac"/><use href="#r52" fill="#7967a6"/><use href="#r53" fill="#725ba1"/><use href="#r54" fill="#6b4f9b"/><use href="#r55" fill="#644395"/><use href="#r56" fill="#5d3790"/></g></g><defs><linearGradient id="gi" x1="0" y1="1" x2="0" y2="0"><stop offset="0" stop-color="#000004"/><stop offset=".0156" stop-color="#02010a"/><stop offset=".0312" stop-color="#040312"/><stop offset=".0469" stop-color="#07051b"/><stop offset=".0625" stop-color="#0b0724"/><stop offset=".0781" stop-color="#10092d"/><stop offset=".0938" stop-color="#150b37"/><stop offset=".1094" stop-color="#1b0c41"/><stop offset=".125" stop-color="#210c4a"/><stop offset=".1406" stop-color="#280b53"/><stop offset=".1562" stop-color="#2f0a5b"/><stop offset=".1719" stop-color="#360961"/><stop offset=".1875" stop-color="#3d0965"/><stop offset=".2031" stop-color="#440a68"/><stop offset=".2188" stop-color="#4a0c6b"/><stop offset=".2344" stop-color="#510e6c"/><stop offset=".25" stop-color="#57106e"/><stop offset=".2656" stop-color="#5d126e"/><stop offset=".2812" stop-color="#64156e"/><stop offset=".2969" stop-color="#6a176e"/><stop offset=".3125" stop-color="#71196e"/><stop offset=".3281" stop-color="#771c6d"/><stop offset=".3438" stop-color="#7d1e6d"/><stop offset=".3594" stop-color="#84206b"/><stop offset=".375" stop-color="#8a226a"/><stop offset=".3906" stop-color="#902568"/><stop offset=".4062" stop-color="#972766"/><stop offset=".4219" stop-color="#9d2964"/><stop offset=".4375" stop-color="#a32c61"/><stop offset=".4531" stop-color="#a92e5e"/><stop offset=".4688" stop-color="#b0315b"/><stop offset=".4844" stop-color="#b63458"/><stop offset=".5" stop-color="#bc3754"/><stop offset=".5156" stop-color="#c13a50"/><stop offset=".5312" stop-color="#c73e4c"/><stop offset=".5469" stop-color="#cc4248"/><stop offset=".5625" stop-color="#d24644"/><stop offset=".5781" stop-color="#d74b3f"/><stop offset=".5938" stop-color="#db503b"/><stop offset=".6094" stop-color="#e05536"/><stop offset=".625" stop-color="#e45a31"/><stop offset=".6406" stop-color="#e8602d"/><stop offset=".6562" stop-color="#eb6628"/><stop offset=".6719" stop-color="#ef6c23"/><stop offset=".6875" stop-color="#f1731d"/><stop offset=".7031" stop-color="#f47918"/><stop offset=".7188" stop-color="#f68013"/><stop offset=".7344" stop-color="#f8870e"/><stop offset=".75" stop-color="#f98e09"/><stop offset=".7656" stop-color="#fb9606"/><stop offset=".7812" stop-color="#fb9d07"/><stop offset=".7969" stop-color="#fca50a"/><stop offset=".8125" stop-color="#fcac11"/><stop offset=".8281" stop-color="#fcb418"/><stop offset=".8438" stop-color="#fbbc21"/><stop offset=".8594" stop-color="#fac42a"/><stop offset=".875" stop-color="#f9cb35"/><stop offset=".8906" stop-color="#f7d340"/><stop offset=".9062" stop-color="#f5db4c"/><stop offset=".9219" stop-color="#f3e35a"/><stop offset=".9375" stop-color="#f2ea69"/><stop offset=".9531" stop-color="#f1f179"/><stop offset=".9688" stop-color="#f3f68a"/><stop offset=".9844" stop-color="#f8fb9a"/><stop offset="1" stop-color="#fcffa4"/></linearGradient><linearGradient id="gp" x1="0" y1="1" x2="0" y2="0"><stop offset="0" stop-color="#7f3b08"/><stop offset=".0156" stop-color="#874008"/><stop offset=".0312" stop-color="#8f4407"/><stop offset=".0469" stop-color="#974907"/><stop offset=".0625" stop-color="#a04d07"/><stop offset=".0781" stop-color="#a85206"/><stop offset=".0938" stop-color="#b05606"/><stop offset=".1094" stop-color="#b75c07"/><stop offset=".125" stop-color="#be630a"/><stop offset=".1406" stop-color="#c6690c"/><stop offset=".1562" stop-color="#cd700e"/><stop offset=".1719" stop-color="#d47610"/><stop offset=".1875" stop-color="#db7d12"/><stop offset=".2031" stop-color="#e18417"/><stop offset=".2188" stop-color="#e68d23"/><stop offset=".2344" stop-color="#ea9530"/><stop offset=".25" stop-color="#ef9e3c"/><stop offset=".2656" stop-color="#f3a649"/><stop offset=".2812" stop-color="#f8ae55"/><stop offset=".2969" stop-color="#fcb761"/><stop offset=".3125" stop-color="#fdbd6e"/><stop offset=".3281" stop-color="#fdc47b"/><stop offset=".3438" stop-color="#fdca88"/><stop offset=".3594" stop-color="#fed095"/><stop offset=".375" stop-color="#fed7a2"/><stop offset=".3906" stop-color="#feddaf"/><stop offset=".4062" stop-color="#fde2bb"/><stop offset=".4219" stop-color="#fce5c5"/><stop offset=".4375" stop-color="#fbe9cf"/><stop offset=".4531" stop-color="#faedda"/><stop offset=".4688" stop-color="#f9f0e4"/><stop offset=".4844" stop-color="#f8f4ee"/><stop offset=".5" stop-color="#f6f6f7"/><stop offset=".5156" stop-color="#f2f2f5"/><stop offset=".5312" stop-color="#ededf3"/><stop offset=".5469" stop-color="#e8e9f1"/><stop offset=".5625" stop-color="#e3e4ef"/><stop offset=".5781" stop-color="#dee0ed"/><stop offset=".5938" stop-color="#d9dbeb"/><stop offset=".6094" stop-color="#d4d4e8"/><stop offset=".625" stop-color="#cecde4"/><stop offset=".6406" stop-color="#c8c6e0"/><stop offset=".6562" stop-color="#c2bedc"/><stop offset=".6719" stop-color="#bcb7d8"/><stop offset=".6875" stop-color="#b6b0d4"/><stop offset=".7031" stop-color="#afa8d0"/><stop offset=".7188" stop-color="#a79fca"/><stop offset=".7344" stop-color="#9f96c4"/><stop offset=".75" stop-color="#988dbe"/><stop offset=".7656" stop-color="#9085b8"/><stop offset=".7812" stop-color="#887cb2"/><stop offset=".7969" stop-color="#8073ac"/><stop offset=".8125" stop-color="#7967a6"/><stop offset=".8281" stop-color="#725ba1"/><stop offset=".8438" stop-color="#6b4f9b"/><stop offset=".8594" stop-color="#644395"/><stop offset=".875" stop-color="#5d3790"/><stop offset=".8906" stop-color="#572b8a"/><stop offset=".9062" stop-color="#502382"/><stop offset=".9219" stop-color="#4a1d78"/><stop offset=".9375" stop-color="#44176f"/><stop offset=".9531" stop-color="#3e1165"/><stop offset=".9688" stop-color="#380b5c"/><stop offset=".9844" stop-color="#320552"/><stop offset="1" stop-color="#2d004b"/></linearGradient></defs><rect x="1154.5" y="1.1" width="20.1" height="454.4" fill="url(#gi)"/><rect x="1154.5" y="540.85" width="20.1" height="454.95" fill="url(#gi)"/><rect x="1154.5" y="1081.3" width="20.1" height="454.65" fill="url(#gp)"/><path d="M144.4 1.1H1135.75V455.5H144.4ZM1154.5 1.1H1174.6V455.5H1154.5ZM144.4 455.5L144.4 474.1M169.18 455.5L169.18 465M193.97 455.5L193.97 465M218.75 455.5L218.75 465M243.54 455.5L243.54 474.1M268.32 455.5L268.32 465M293.1 455.5L293.1 465M317.89 455.5L317.89 465M342.67 455.5L342.67 474.1M367.45 455.5L367.45 465M392.24 455.5L392.24 465M417.02 455.5L417.02 465M441.81 455.5L441.81 474.1M466.59 455.5L466.59 465M491.37 455.5L491.37 465M516.16 455.5L516.16 465M540.94 455.5L540.94 474.1M565.72 455.5L565.72 465M590.51 455.5L590.51 465M615.29 455.5L615.29 465M640.08 455.5L640.08 474.1M664.86 455.5L664.86 465M689.64 455.5L689.64 465M714.43 455.5L714.43 465M739.21 455.5L739.21 474.1M763.99 455.5L763.99 465M788.78 455.5L788.78 465M813.56 455.5L813.56 465M838.34 455.5L838.34 474.1M863.13 455.5L863.13 465M887.91 455.5L887.91 465M912.7 455.5L912.7 465M937.48 455.5L937.48 474.1M962.26 455.5L962.26 465M987.05 455.5L987.05 465M1011.83 455.5L1011.83 465M1036.62 455.5L1036.62 474.1M1061.4 455.5L1061.4 465M1086.18 455.5L1086.18 465M1110.97 455.5L1110.97 465M1135.75 455.5L1135.75 474.1M144.4 452.2L125.8 452.2M144.4 395.8L134.9 395.8M144.4 352.06L134.9 352.06M144.4 316.31L134.9 316.31M144.4 286.09L134.9 286.09M144.4 259.91L134.9 259.91M144.4 236.82L134.9 236.82M144.4 216.16L125.8 216.16M144.4 80.27L134.9 80.27M1174.6 434L1184.1 434M1174.6 407.12L1184.1 407.12M1174.6 380.24L1184.1 380.24M1174.6 353.37L1193.2 353.37M1174.6 326.49L1184.1 326.49M1174.6 299.61L1184.1 299.61M1174.6 272.74L1184.1 272.74M1174.6 245.86L1193.2 245.86M1174.6 218.98L1184.1 218.98M1174.6 192.11L1184.1 192.11M1174.6 165.23L1184.1 165.23M1174.6 138.35L1193.2 138.35M1174.6 111.47L1184.1 111.47M1174.6 84.6L1184.1 84.6M1174.6 57.72L1184.1 57.72M1174.6 30.84L1193.2 30.84M1174.6 3.97L1184.1 3.97M144.4 540.85H1135.75V995.8H144.4ZM1154.5 540.85H1174.6V995.8H1154.5ZM144.4 995.8L144.4 1014.4M169.18 995.8L169.18 1005.3M193.97 995.8L193.97 1005.3M218.75 995.8L218.75 1005.3M243.54 995.8L243.54 1014.4M268.32 995.8L268.32 1005.3M293.1 995.8L293.1 1005.3M317.89 995.8L317.89 1005.3M342.67 995.8L342.67 1014.4M367.45 995.8L367.45 1005.3M392.24 995.8L392.24 1005.3M417.02 995.8L417.02 1005.3M441.81 995.8L441.81 1014.4M466.59 995.8L466.59 1005.3M491.37 995.8L491.37 1005.3M516.16 995.8L516.16 1005.3M540.94 995.8L540.94 1014.4M565.72 995.8L565.72 1005.3M590.51 995.8L590.51 1005.3M615.29 995.8L615.29 1005.3M640.08 995.8L640.08 1014.4M664.86 995.8L664.86 1005.3M689.64 995.8L689.64 1005.3M714.43 995.8L714.43 1005.3M739.21 995.8L739.21 1014.4M763.99 995.8L763.99 1005.3M788.78 995.8L788.78 1005.3M813.56 995.8L813.56 1005.3M838.34 995.8L838.34 1014.4M863.13 995.8L863.13 1005.3M887.91 995.8L887.91 1005.3M912.7 995.8L912.7 1005.3M937.48 995.8L937.48 1014.4M962.26 995.8L962.26 1005.3M987.05 995.8L987.05 1005.3M1011.83 995.8L1011.83 1005.3M1036.62 995.8L1036.62 1014.4M1061.4 995.8L1061.4 1005.3M1086.18 995.8L1086.18 1005.3M1110.97 995.8L1110.97 1005.3M1135.75 995.8L1135.75 1014.4M144.4 992.5L125.8 992.5M144.4 936.03L134.9 936.03M144.4 892.23L134.9 892.23M144.4 856.44L134.9 856.44M144.4 826.18L134.9 826.18M144.4 799.97L134.9 799.97M144.4 776.85L134.9 776.85M144.4 756.17L125.8 756.17M144.4 620.11L134.9 620.11M1174.6 974.27L1184.1 974.27M1174.6 947.36L1184.1 947.36M1174.6 920.45L1184.1 920.45M1174.6 893.54L1193.2 893.54M1174.6 866.63L1184.1 866.63M1174.6 839.72L1184.1 839.72M1174.6 812.82L1184.1 812.82M1174.6 785.91L1193.2 785.91M1174.6 759L1184.1 759M1174.6 732.09L1184.1 732.09M1174.6 705.18L1184.1 705.18M1174.6 678.27L1193.2 678.27M1174.6 651.36L1184.1 651.36M1174.6 624.45L1184.1 624.45M1174.6 597.54L1184.1 597.54M1174.6 570.63L1193.2 570.63M1174.6 543.72L1184.1 543.72M144.4 1081.3H1135.75V1535.95H144.4ZM1154.5 1081.3H1174.6V1535.95H1154.5ZM144.4 1535.95L144.4 1554.55M169.18 1535.95L169.18 1545.45M193.97 1535.95L193.97 1545.45M218.75 1535.95L218.75 1545.45M243.54 1535.95L243.54 1554.55M268.32 1535.95L268.32 1545.45M293.1 1535.95L293.1 1545.45M317.89 1535.95L317.89 1545.45M342.67 1535.95L342.67 1554.55M367.45 1535.95L367.45 1545.45M392.24 1535.95L392.24 1545.45M417.02 1535.95L417.02 1545.45M441.81 1535.95L441.81 1554.55M466.59 1535.95L466.59 1545.45M491.37 1535.95L491.37 1545.45M516.16 1535.95L516.16 1545.45M540.94 1535.95L540.94 1554.55M565.72 1535.95L565.72 1545.45M590.51 1535.95L590.51 1545.45M615.29 1535.95L615.29 1545.45M640.08 1535.95L640.08 1554.55M664.86 1535.95L664.86 1545.45M689.64 1535.95L689.64 1545.45M714.43 1535.95L714.43 1545.45M739.21 1535.95L739.21 1554.55M763.99 1535.95L763.99 1545.45M788.78 1535.95L788.78 1545.45M813.56 1535.95L813.56 1545.45M838.34 1535.95L838.34 1554.55M863.13 1535.95L863.13 1545.45M887.91 1535.95L887.91 1545.45M912.7 1535.95L912.7 1545.45M937.48 1535.95L937.48 1554.55M962.26 1535.95L962.26 1545.45M987.05 1535.95L987.05 1545.45M1011.83 1535.95L1011.83 1545.45M1036.62 1535.95L1036.62 1554.55M1061.4 1535.95L1061.4 1545.45M1086.18 1535.95L1086.18 1545.45M1110.97 1535.95L1110.97 1545.45M1135.75 1535.95L1135.75 1554.55M144.4 1532.65L125.8 1532.65M144.4 1476.22L134.9 1476.22M144.4 1432.45L134.9 1432.45M144.4 1396.68L134.9 1396.68M144.4 1366.45L134.9 1366.45M144.4 1340.25L134.9 1340.25M144.4 1317.15L134.9 1317.15M144.4 1296.48L125.8 1296.48M144.4 1160.51L134.9 1160.51M1174.6 1535.95L1193.2 1535.95M1174.6 1507.53L1184.1 1507.53M1174.6 1479.12L1184.1 1479.12M1174.6 1450.7L1184.1 1450.7M1174.6 1422.29L1193.2 1422.29M1174.6 1393.87L1184.1 1393.87M1174.6 1365.46L1184.1 1365.46M1174.6 1337.04L1184.1 1337.04M1174.6 1308.62L1193.2 1308.62M1174.6 1280.21L1184.1 1280.21M1174.6 1251.79L1184.1 1251.79M1174.6 1223.38L1184.1 1223.38M1174.6 1194.96L1193.2 1194.96M1174.6 1166.55L1184.1 1166.55M1174.6 1138.13L1184.1 1138.13M1174.6 1109.72L1184.1 1109.72M1174.6 1081.3L1193.2 1081.3M640.08 1081.3L640.08 1535.95" fill="none" stroke="#000" stroke-width="2.2" stroke-linecap="butt"/><g stroke="#000" stroke-width=".3"><text transform="translate(1331 1447.3) rotate(-90)" font-size="44.4">(</text><text transform="translate(1331 1430.8) rotate(-90)" font-size="44.4" font-style="italic">c</text><text transform="translate(1337.5 1412.5) rotate(-90)" font-size="31.1" font-style="italic">ik</text><text transform="translate(1333 1380) rotate(-90)" font-size="47">−</text><text transform="translate(1331 1343.2) rotate(-90)" font-size="44.4" font-style="italic">d</text><text transform="translate(1337.5 1321.3) rotate(-90)" font-size="31.1" font-style="italic">ik</text><text transform="translate(1331 1296.5) rotate(-90)" font-size="44.4">)</text><text transform="translate(1331 1281.3) rotate(-90)" font-size="44.4">/</text><text transform="translate(1341 1264) rotate(-90) scale(1.5 1.56)" font-size="44.4">√</text><text transform="translate(1331 1221.1) rotate(-90)" font-size="44.4" font-style="italic">c</text><text transform="translate(1337.5 1203.7) rotate(-90)" font-size="31.1" font-style="italic">ik</text><path d="M1288.1 1228V1171.3" stroke="#000" stroke-width="3" fill="none"/><text x="116.2" y="468.41" text-anchor="end">30</text><text x="116.2" y="232.37" text-anchor="end">100</text><text x="1201.5" y="369.17" text-anchor="start">150</text><text x="1201.5" y="261.67" text-anchor="start">300</text><text x="1201.5" y="154.16" text-anchor="start">450</text><text x="1201.5" y="46.65" text-anchor="start">600</text><text x="0" y="0" text-anchor="middle" font-size="45.5" transform="translate(32 228.3) rotate(-90)">channel</text><text x="0" y="0" text-anchor="middle" font-size="45" transform="translate(1334.7 228.5) rotate(-90)">counts</text><text x="116.2" y="1008.71" text-anchor="end">30</text><text x="116.2" y="772.38" text-anchor="end">100</text><text x="1201.5" y="909.35" text-anchor="start">150</text><text x="1201.5" y="801.71" text-anchor="start">300</text><text x="1201.5" y="694.08" text-anchor="start">450</text><text x="1201.5" y="586.44" text-anchor="start">600</text><text x="0" y="0" text-anchor="middle" font-size="45.5" transform="translate(32 768.33) rotate(-90)">channel</text><text x="0" y="0" text-anchor="middle" font-size="45" transform="translate(1334.7 768.53) rotate(-90)">counts</text><text x="116.2" y="1548.86" text-anchor="end">30</text><text x="116.2" y="1312.69" text-anchor="end">100</text><text x="1201.5" y="1552.46" text-anchor="start">−4</text><text x="1201.5" y="1438.79" text-anchor="start">−2</text><text x="1201.5" y="1325.13" text-anchor="start">0</text><text x="1201.5" y="1211.47" text-anchor="start">2</text><text x="1201.5" y="1097.81" text-anchor="start">4</text><text x="0" y="0" text-anchor="middle" font-size="45.5" transform="translate(32 1308.62) rotate(-90)">channel</text><text x="145.2" y="1593.8" text-anchor="middle">0.0</text><text x="244.34" y="1593.8" text-anchor="middle">0.2</text><text x="343.47" y="1593.8" text-anchor="middle">0.4</text><text x="442.61" y="1593.8" text-anchor="middle">0.6</text><text x="541.74" y="1593.8" text-anchor="middle">0.8</text><text x="640.88" y="1593.8" text-anchor="middle">1.0</text><text x="740.01" y="1593.8" text-anchor="middle">1.2</text><text x="839.14" y="1593.8" text-anchor="middle">1.4</text><text x="938.28" y="1593.8" text-anchor="middle">1.6</text><text x="1037.41" y="1593.8" text-anchor="middle">1.8</text><text x="1136.55" y="1593.8" text-anchor="middle">2.0</text><text x="640" y="1644.8" text-anchor="middle" font-size="45.6"><tspan font-style="italic" font-size="48">ϕ</tspan> [cycles]</text></g></svg></body></html>
